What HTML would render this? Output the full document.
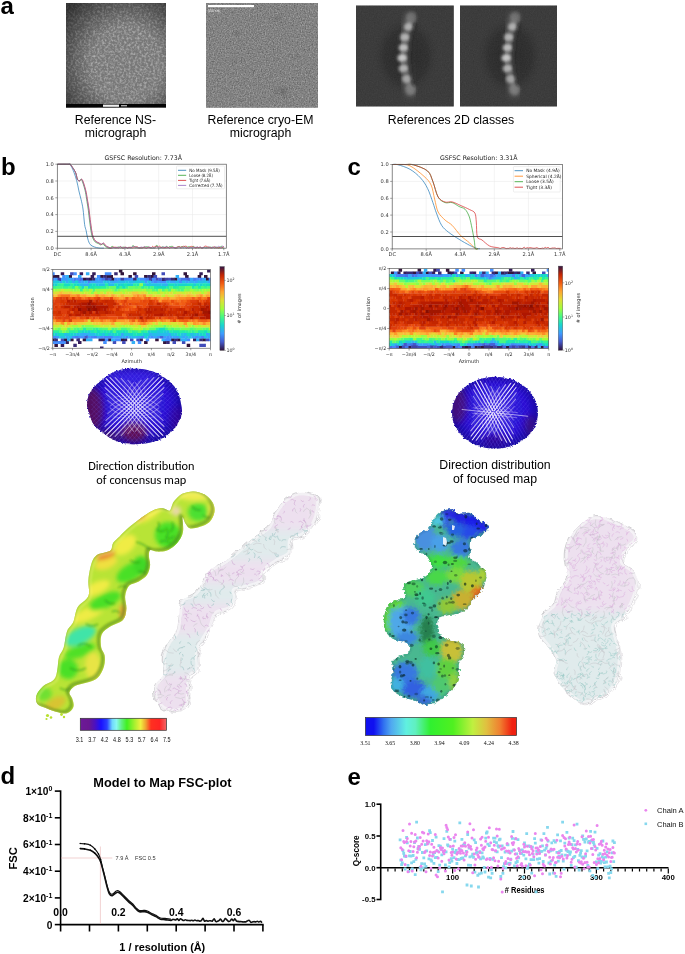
<!DOCTYPE html>
<html><head><meta charset="utf-8"><title>Figure</title>
<style>
html,body{margin:0;padding:0;background:#fff;}
body{width:685px;height:954px;overflow:hidden;position:relative;}
svg{position:absolute;left:0;top:0;display:block;filter:blur(0.3px);}
</style></head><body>
<svg width="685" height="954" viewBox="0 0 685 954">
<text x="0.5" y="14" font-size="24" text-anchor="start" font-weight="bold" fill="#000" font-family="'Liberation Sans', Arial, sans-serif" >a</text>
<text x="1" y="174.5" font-size="24" text-anchor="start" font-weight="bold" fill="#000" font-family="'Liberation Sans', Arial, sans-serif" >b</text>
<text x="347.5" y="175" font-size="24" text-anchor="start" font-weight="bold" fill="#000" font-family="'Liberation Sans', Arial, sans-serif" >c</text>
<text x="0.5" y="784" font-size="24" text-anchor="start" font-weight="bold" fill="#000" font-family="'Liberation Sans', Arial, sans-serif" >d</text>
<text x="347.5" y="784.5" font-size="24" text-anchor="start" font-weight="bold" fill="#000" font-family="'Liberation Sans', Arial, sans-serif" >e</text>
<defs>
<filter id="nsn" x="0" y="0" width="100%" height="100%">
 <feTurbulence type="fractalNoise" baseFrequency="0.45" numOctaves="2" seed="3" result="t"/>
 <feColorMatrix type="matrix" values="0 0 0 0 0  0 0 0 0 0  0 0 0 0 0  1.4 0 0 0 -0.55" result="a"/>
 <feFlood flood-color="#e8e8e8"/>
 <feComposite in2="a" operator="in"/>
</filter>
<filter id="cen" x="0" y="0" width="100%" height="100%" color-interpolation-filters="sRGB">
 <feTurbulence type="fractalNoise" baseFrequency="0.75" numOctaves="3" seed="5" result="t"/>
 <feColorMatrix type="matrix" values="0 0 0 0 0.5  0 0 0 0 0.5  0 0 0 0 0.5  0 0 0 0 1" in="t" result="g"/>
 <feColorMatrix type="matrix" values="0.33 0.33 0.33 0 0  0.33 0.33 0.33 0 0  0.33 0.33 0.33 0 0  0 0 0 0 1" in="t"/>
</filter>
<radialGradient id="nsv" cx="0.6" cy="0.58" r="0.78">
 <stop offset="0.45" stop-color="#000" stop-opacity="0"/>
 <stop offset="1" stop-color="#000" stop-opacity="0.6"/>
</radialGradient>
<radialGradient id="cdark" cx="0.5" cy="0.5" r="0.5">
 <stop offset="0" stop-color="#1a1a1a" stop-opacity="0.75"/>
 <stop offset="0.6" stop-color="#1e1e1e" stop-opacity="0.5"/>
 <stop offset="1" stop-color="#3a3a3a" stop-opacity="0"/>
</radialGradient>
<filter id="blb" x="-50%" y="-50%" width="200%" height="200%"><feGaussianBlur stdDeviation="1.55"/></filter>
<filter id="blb2" x="-50%" y="-50%" width="200%" height="200%"><feGaussianBlur stdDeviation="3"/></filter>
</defs>
<rect x="66" y="3" width="100" height="104.5" fill="#787878"/>
<rect x="66" y="3" width="100" height="104.5" filter="url(#nsn)" opacity="0.75"/>
<rect x="66" y="3" width="100" height="104.5" fill="url(#nsv)"/>
<rect x="66" y="104" width="100" height="3.5" fill="#050505"/>
<rect x="103" y="104.6" width="16" height="2.2" fill="#f0f0f0"/>
<rect x="121" y="105" width="6" height="1.4" fill="#aaa"/>
<rect x="206" y="3" width="112" height="104.5" fill="#8a8a8a"/>
<g opacity="0.6"><rect x="206" y="3" width="112" height="104.5" filter="url(#cen)"/></g>
<g filter="url(#blb)" fill="#404040" opacity="0.45"><ellipse cx="234.7" cy="62.1" rx="1.4" ry="1.4"/><ellipse cx="275.1" cy="18.0" rx="1.0" ry="1.6"/><ellipse cx="237.0" cy="33.6" rx="2.2" ry="1.3"/><ellipse cx="297.0" cy="55.8" rx="1.8" ry="1.0"/><ellipse cx="276.0" cy="91.9" rx="1.6" ry="1.5"/><ellipse cx="279.8" cy="17.9" rx="1.9" ry="1.4"/><path d="M279,87 l4,5 l5,-4 M283,92 l2,6" stroke="#303030" stroke-width="1.6" fill="none"/></g>
<rect x="208" y="5" width="46" height="2.2" fill="#fff"/>
<text x="208" y="11.5" font-size="3.5" fill="#eee" font-family="'Liberation Sans', sans-serif">150 nm</text>
<rect x="356" y="5.5" width="97.8" height="101" fill="#353535"/>
<ellipse cx="406" cy="56" rx="36" ry="44" fill="url(#cdark)"/>
<g opacity="0.1"><rect x="356" y="5.5" width="97" height="101" filter="url(#cen)"/></g>
<g filter="url(#blb2)"><path d="M411,14 Q398,55 412,96" stroke="#888" stroke-width="9" fill="none" opacity="0.5"/></g>
<g filter="url(#blb)"><ellipse cx="411.4" cy="17.5" rx="5.5" ry="6" fill="#d8d8d8" opacity="0.22"/><ellipse cx="408.6" cy="27" rx="4.6" ry="4.3" fill="#d8d8d8" opacity="0.68"/><ellipse cx="404.8" cy="37.4" rx="4.8" ry="4.3" fill="#d8d8d8" opacity="0.7"/><ellipse cx="403.4" cy="47.7" rx="4.8" ry="4.3" fill="#d8d8d8" opacity="0.78"/><ellipse cx="402.2" cy="58" rx="4.8" ry="4.4" fill="#d8d8d8" opacity="0.86"/><ellipse cx="403.4" cy="68.5" rx="4.8" ry="4.3" fill="#d8d8d8" opacity="0.7"/><ellipse cx="406.7" cy="78.9" rx="4.8" ry="4.3" fill="#d8d8d8" opacity="0.6"/><ellipse cx="410.5" cy="89.2" rx="5.5" ry="6" fill="#d8d8d8" opacity="0.28"/></g>
<g filter="url(#blb)"><path d="M415,24 Q406,55 414,86" stroke="#151515" stroke-width="2" fill="none" opacity="0.6"/><line x1="404.6" y1="32.5" x2="412.6" y2="30.5" stroke="#303030" stroke-width="1" opacity="0.5"/><line x1="400.8" y1="42.9" x2="408.8" y2="40.9" stroke="#303030" stroke-width="1" opacity="0.5"/><line x1="399.4" y1="53.2" x2="407.4" y2="51.2" stroke="#303030" stroke-width="1" opacity="0.5"/><line x1="398.2" y1="63.5" x2="406.2" y2="61.5" stroke="#303030" stroke-width="1" opacity="0.5"/><line x1="399.4" y1="74.0" x2="407.4" y2="72.0" stroke="#303030" stroke-width="1" opacity="0.5"/></g>
<rect x="460" y="5.5" width="97" height="101" fill="#353535"/>
<ellipse cx="510" cy="56" rx="36" ry="44" fill="url(#cdark)"/>
<g opacity="0.1"><rect x="460" y="5.5" width="97" height="101" filter="url(#cen)"/></g>
<g filter="url(#blb2)"><path d="M515,14 Q502,55 516,96" stroke="#888" stroke-width="9" fill="none" opacity="0.5"/></g>
<g filter="url(#blb)"><ellipse cx="515.4" cy="17.5" rx="5.5" ry="6" fill="#d8d8d8" opacity="0.22"/><ellipse cx="512.6" cy="27" rx="4.6" ry="4.3" fill="#d8d8d8" opacity="0.68"/><ellipse cx="508.8" cy="37.4" rx="4.8" ry="4.3" fill="#d8d8d8" opacity="0.7"/><ellipse cx="507.4" cy="47.7" rx="4.8" ry="4.3" fill="#d8d8d8" opacity="0.78"/><ellipse cx="506.2" cy="58" rx="4.8" ry="4.4" fill="#d8d8d8" opacity="0.86"/><ellipse cx="507.4" cy="68.5" rx="4.8" ry="4.3" fill="#d8d8d8" opacity="0.7"/><ellipse cx="510.7" cy="78.9" rx="4.8" ry="4.3" fill="#d8d8d8" opacity="0.6"/><ellipse cx="514.5" cy="89.2" rx="5.5" ry="6" fill="#d8d8d8" opacity="0.28"/></g>
<g filter="url(#blb)"><path d="M519,24 Q510,55 518,86" stroke="#151515" stroke-width="2" fill="none" opacity="0.6"/><line x1="508.6" y1="32.5" x2="516.6" y2="30.5" stroke="#303030" stroke-width="1" opacity="0.5"/><line x1="504.8" y1="42.9" x2="512.8" y2="40.9" stroke="#303030" stroke-width="1" opacity="0.5"/><line x1="503.4" y1="53.2" x2="511.4" y2="51.2" stroke="#303030" stroke-width="1" opacity="0.5"/><line x1="502.2" y1="63.5" x2="510.2" y2="61.5" stroke="#303030" stroke-width="1" opacity="0.5"/><line x1="503.4" y1="74.0" x2="511.4" y2="72.0" stroke="#303030" stroke-width="1" opacity="0.5"/></g>
<text x="115.5" y="124.3" font-size="12.3" text-anchor="middle" font-weight="normal" fill="#000" font-family="'Liberation Sans', Arial, sans-serif" >Reference NS-</text>
<text x="115.5" y="137.3" font-size="12.3" text-anchor="middle" font-weight="normal" fill="#000" font-family="'Liberation Sans', Arial, sans-serif" >micrograph</text>
<text x="260.5" y="124.3" font-size="12.3" text-anchor="middle" font-weight="normal" fill="#000" font-family="'Liberation Sans', Arial, sans-serif" >Reference cryo-EM</text>
<text x="260.5" y="137.3" font-size="12.3" text-anchor="middle" font-weight="normal" fill="#000" font-family="'Liberation Sans', Arial, sans-serif" >micrograph</text>
<text x="451" y="124.4" font-size="12.3" text-anchor="middle" font-weight="normal" fill="#000" font-family="'Liberation Sans', Arial, sans-serif" >References 2D classes</text>
<g font-family="'DejaVu Sans', sans-serif">
<line x1="57.3" y1="231.4" x2="226.3" y2="231.4" stroke="#e6e6e6" stroke-width="0.5"/>
<line x1="57.3" y1="214.6" x2="226.3" y2="214.6" stroke="#e6e6e6" stroke-width="0.5"/>
<line x1="57.3" y1="197.8" x2="226.3" y2="197.8" stroke="#e6e6e6" stroke-width="0.5"/>
<line x1="57.3" y1="181.0" x2="226.3" y2="181.0" stroke="#e6e6e6" stroke-width="0.5"/>
<line x1="91.1" y1="164.2" x2="91.1" y2="248.2" stroke="#e6e6e6" stroke-width="0.5"/>
<line x1="124.9" y1="164.2" x2="124.9" y2="248.2" stroke="#e6e6e6" stroke-width="0.5"/>
<line x1="158.7" y1="164.2" x2="158.7" y2="248.2" stroke="#e6e6e6" stroke-width="0.5"/>
<line x1="192.5" y1="164.2" x2="192.5" y2="248.2" stroke="#e6e6e6" stroke-width="0.5"/>
<text x="143.3" y="159.8" font-size="6.25" text-anchor="middle" fill="#222">GSFSC Resolution: 7.73Å</text>
<line x1="55.3" y1="248.2" x2="57.3" y2="248.2" stroke="#444" stroke-width="0.5"/>
<text x="53.8" y="249.9" font-size="5.1" text-anchor="end" fill="#333">0.0</text>
<line x1="55.3" y1="231.4" x2="57.3" y2="231.4" stroke="#444" stroke-width="0.5"/>
<text x="53.8" y="233.1" font-size="5.1" text-anchor="end" fill="#333">0.2</text>
<line x1="55.3" y1="214.6" x2="57.3" y2="214.6" stroke="#444" stroke-width="0.5"/>
<text x="53.8" y="216.3" font-size="5.1" text-anchor="end" fill="#333">0.4</text>
<line x1="55.3" y1="197.8" x2="57.3" y2="197.8" stroke="#444" stroke-width="0.5"/>
<text x="53.8" y="199.5" font-size="5.1" text-anchor="end" fill="#333">0.6</text>
<line x1="55.3" y1="181.0" x2="57.3" y2="181.0" stroke="#444" stroke-width="0.5"/>
<text x="53.8" y="182.7" font-size="5.1" text-anchor="end" fill="#333">0.8</text>
<line x1="55.3" y1="164.2" x2="57.3" y2="164.2" stroke="#444" stroke-width="0.5"/>
<text x="53.8" y="165.9" font-size="5.1" text-anchor="end" fill="#333">1.0</text>
<line x1="57.3" y1="248.2" x2="57.3" y2="250.2" stroke="#444" stroke-width="0.5"/>
<text x="57.3" y="255.5" font-size="5.1" text-anchor="middle" fill="#333">DC</text>
<line x1="91.1" y1="248.2" x2="91.1" y2="250.2" stroke="#444" stroke-width="0.5"/>
<text x="91.1" y="255.5" font-size="5.1" text-anchor="middle" fill="#333">8.6Å</text>
<line x1="124.9" y1="248.2" x2="124.9" y2="250.2" stroke="#444" stroke-width="0.5"/>
<text x="124.9" y="255.5" font-size="5.1" text-anchor="middle" fill="#333">4.3Å</text>
<line x1="158.7" y1="248.2" x2="158.7" y2="250.2" stroke="#444" stroke-width="0.5"/>
<text x="158.7" y="255.5" font-size="5.1" text-anchor="middle" fill="#333">2.9Å</text>
<line x1="192.5" y1="248.2" x2="192.5" y2="250.2" stroke="#444" stroke-width="0.5"/>
<text x="192.5" y="255.5" font-size="5.1" text-anchor="middle" fill="#333">2.1Å</text>
<line x1="223.8" y1="248.2" x2="223.8" y2="250.2" stroke="#444" stroke-width="0.5"/>
<text x="223.8" y="255.5" font-size="5.1" text-anchor="middle" fill="#333">1.7Å</text>
</g>
<path d="M57.5,164.2 C59.2,164.2 65.9,164.2 68.0,164.2 C70.1,164.2 69.1,163.1 70.1,164.4 C71.1,165.7 72.7,169.2 73.8,171.9 C74.9,174.6 75.8,177.5 76.7,180.7 C77.6,183.9 78.2,187.8 78.9,190.9 C79.6,194.1 80.4,196.6 81.1,199.6 C81.8,202.6 82.4,204.9 83.0,209.0 C83.6,213.1 84.1,220.8 84.6,224.4 C85.1,228.1 85.7,228.5 86.2,230.9 C86.7,233.3 87.1,236.6 87.8,238.9 C88.5,241.2 89.1,243.2 90.2,244.5 C91.3,245.8 92.7,246.3 94.2,246.9 C95.7,247.5 97.4,247.8 99.0,248.0 C100.6,248.2 103.2,248.1 104.0,248.1" fill="none" stroke="#1f77b4" stroke-width="0.7"/>
<path d="M57.5,164.2 C59.4,164.2 66.8,164.1 69.0,164.2 C71.2,164.3 69.5,163.3 70.5,164.6 C71.5,165.9 74.1,169.5 75.3,171.9 C76.5,174.3 76.7,177.7 77.4,179.2 C78.1,180.7 79.0,180.9 79.6,180.9 C80.2,180.9 80.6,179.0 81.1,179.2 C81.6,179.4 82.1,180.9 82.6,182.1 C83.1,183.3 83.5,184.8 84.0,186.5 C84.5,188.2 85.0,189.8 85.5,192.3 C86.0,194.8 86.5,198.6 87.0,201.7 C87.5,204.8 88.0,207.5 88.4,210.6 C88.8,213.7 89.0,216.7 89.5,220.2 C90.0,223.7 90.6,228.6 91.1,231.5 C91.6,234.4 92.0,236.2 92.7,237.9 C93.4,239.6 94.2,241.0 95.1,241.9 C96.0,242.8 97.4,243.0 98.3,243.5 C99.2,244.0 99.9,244.9 100.7,244.9 C101.5,244.9 102.3,243.5 103.1,243.8 C103.9,244.1 104.3,245.9 105.5,246.7 C106.7,247.5 109.2,248.5 110.3,248.4 C111.4,248.3 111.5,246.3 112.0,246.1 C112.5,246.0 112.9,247.2 113.4,247.5 C113.9,247.7 114.3,247.6 114.8,247.7 C115.3,247.8 115.7,247.9 116.2,247.9 C116.7,247.8 117.1,247.5 117.6,247.3 C118.1,247.2 118.5,246.8 119.0,246.9 C119.5,246.9 119.9,247.6 120.4,247.7 C120.9,247.8 121.3,247.5 121.8,247.4 C122.3,247.3 122.7,247.2 123.2,247.1 C123.7,247.1 124.1,247.2 124.6,247.3 C125.1,247.4 125.5,247.5 126.0,247.6 C126.5,247.7 126.9,247.8 127.4,247.8 C127.9,247.7 128.3,247.3 128.8,247.3 C129.3,247.3 129.7,247.6 130.2,247.7 C130.7,247.7 131.1,247.9 131.6,247.6 C132.1,247.2 132.5,245.5 133.0,245.4 C133.5,245.4 133.9,246.7 134.4,247.0 C134.9,247.4 135.3,247.6 135.8,247.7 C136.3,247.7 136.7,247.4 137.2,247.4 C137.7,247.4 138.1,247.7 138.6,247.8 C139.1,247.9 139.5,247.8 140.0,247.8 C140.5,247.8 140.9,248.0 141.4,248.0 C141.9,247.9 142.3,247.3 142.8,247.3 C143.3,247.3 143.7,247.9 144.2,247.8 C144.7,247.8 145.1,246.9 145.6,246.8 C146.1,246.6 146.5,246.8 147.0,246.8 C147.5,246.9 147.9,246.8 148.4,247.0 C148.9,247.2 149.3,247.7 149.8,247.8 C150.3,248.0 150.7,248.0 151.2,248.0 C151.7,248.0 152.1,247.9 152.6,247.8 C153.1,247.8 153.5,247.8 154.0,247.8 C154.5,247.8 154.9,248.1 155.4,247.6 C155.9,247.2 156.3,245.1 156.8,245.1 C157.3,245.1 157.7,247.4 158.2,247.8 C158.7,248.3 159.1,247.8 159.6,247.8 C160.1,247.7 160.5,247.7 161.0,247.5 C161.5,247.4 161.9,247.0 162.4,246.9 C162.9,246.8 163.3,247.0 163.8,247.1 C164.3,247.3 164.7,248.0 165.2,247.8 C165.7,247.7 166.1,246.3 166.6,246.3 C167.1,246.3 167.5,247.8 168.0,247.9 C168.5,247.9 168.9,246.8 169.4,246.6 C169.9,246.4 170.3,246.7 170.8,246.6 C171.3,246.6 171.7,246.1 172.2,246.2 C172.7,246.4 173.1,247.3 173.6,247.5 C174.1,247.8 174.5,247.8 175.0,247.9 C175.5,248.0 175.9,248.2 176.4,248.0 C176.9,247.8 177.3,246.9 177.8,246.7 C178.3,246.6 178.7,246.9 179.2,247.0 C179.7,247.2 180.1,247.9 180.6,247.8 C181.1,247.6 181.5,246.2 182.0,246.2 C182.5,246.2 182.9,247.8 183.4,247.9 C183.9,247.9 184.3,246.5 184.8,246.5 C185.3,246.5 185.7,247.9 186.2,248.0 C186.7,248.1 187.1,247.2 187.6,247.0 C188.1,246.8 188.5,246.6 189.0,246.7 C189.5,246.7 189.9,247.1 190.4,247.3 C190.9,247.4 191.3,247.6 191.8,247.5 C192.3,247.3 192.7,246.4 193.2,246.4 C193.7,246.3 194.1,247.0 194.6,247.3 C195.1,247.5 195.5,247.9 196.0,247.8 C196.5,247.8 196.9,247.1 197.4,247.1 C197.9,247.1 198.3,247.8 198.8,247.9 C199.3,247.9 199.7,247.3 200.2,247.3 C200.7,247.3 201.1,247.8 201.6,247.8 C202.1,247.9 202.5,247.6 203.0,247.5 C203.5,247.5 203.9,247.5 204.4,247.5 C204.9,247.5 205.3,247.7 205.8,247.7 C206.3,247.6 206.7,247.4 207.2,247.4 C207.7,247.4 208.1,247.7 208.6,247.6 C209.1,247.5 209.5,246.8 210.0,246.8 C210.5,246.8 210.9,247.6 211.4,247.7 C211.9,247.7 212.3,247.0 212.8,247.0 C213.3,247.1 213.7,247.9 214.2,248.0 C214.7,248.0 215.1,247.5 215.6,247.4 C216.1,247.2 216.5,247.1 217.0,247.1 C217.5,247.2 217.9,247.7 218.4,247.8 C218.9,247.9 219.3,247.8 219.8,247.5 C220.3,247.2 220.7,246.1 221.2,246.1 C221.7,246.2 222.1,247.6 222.6,247.9 C223.1,248.1 223.8,247.8 224.0,247.8" fill="none" stroke="#2ca02c" stroke-width="0.7"/>
<path d="M57.5,164.2 C59.4,164.2 66.8,164.1 69.0,164.2 C71.2,164.3 69.5,163.3 70.5,164.6 C71.5,165.9 74.1,169.5 75.3,171.9 C76.5,174.3 76.7,177.7 77.4,179.2 C78.1,180.7 78.9,180.9 79.6,180.9 C80.3,180.9 81.2,179.0 81.8,179.2 C82.4,179.4 82.8,180.9 83.3,182.1 C83.8,183.3 84.2,184.8 84.7,186.5 C85.2,188.2 85.7,189.9 86.2,192.3 C86.7,194.7 87.2,198.2 87.7,201.1 C88.2,204.0 88.7,206.9 89.1,210.0 C89.5,213.1 89.8,216.1 90.2,219.6 C90.7,223.1 91.3,227.9 91.8,230.9 C92.3,233.9 92.7,235.6 93.4,237.3 C94.1,239.0 94.9,240.4 95.8,241.3 C96.7,242.2 98.1,242.4 99.0,242.9 C99.9,243.4 100.6,244.2 101.4,244.3 C102.2,244.4 103.0,242.9 103.8,243.2 C104.6,243.5 105.1,245.3 106.2,246.1 C107.3,246.9 109.3,247.5 110.3,247.8 C111.3,248.1 111.5,248.1 112.0,247.9 C112.5,247.8 112.9,247.1 113.4,247.0 C113.9,246.9 114.3,247.2 114.8,247.3 C115.3,247.3 115.7,247.1 116.2,247.2 C116.7,247.3 117.1,247.7 117.6,247.8 C118.1,247.9 118.5,248.0 119.0,247.8 C119.5,247.6 119.9,246.5 120.4,246.5 C120.9,246.5 121.3,247.6 121.8,247.9 C122.3,248.1 122.7,248.0 123.2,248.0 C123.7,247.9 124.1,247.6 124.6,247.4 C125.1,247.3 125.5,247.0 126.0,247.1 C126.5,247.2 126.9,247.9 127.4,248.0 C127.9,248.0 128.3,247.7 128.8,247.5 C129.3,247.4 129.7,247.2 130.2,247.2 C130.7,247.3 131.1,247.6 131.6,247.7 C132.1,247.8 132.5,247.8 133.0,247.6 C133.5,247.5 133.9,247.1 134.4,246.9 C134.9,246.8 135.3,246.8 135.8,246.8 C136.3,246.8 136.7,246.5 137.2,246.7 C137.7,246.9 138.1,247.6 138.6,247.8 C139.1,248.0 139.5,247.9 140.0,247.9 C140.5,247.9 140.9,247.7 141.4,247.7 C141.9,247.8 142.3,248.1 142.8,247.9 C143.3,247.8 143.7,246.9 144.2,246.9 C144.7,246.9 145.1,247.8 145.6,247.9 C146.1,248.1 146.5,247.9 147.0,247.8 C147.5,247.7 147.9,247.5 148.4,247.4 C148.9,247.3 149.3,247.3 149.8,247.3 C150.3,247.4 150.7,247.8 151.2,247.7 C151.7,247.5 152.1,246.4 152.6,246.4 C153.1,246.4 153.5,247.6 154.0,247.6 C154.5,247.6 154.9,246.4 155.4,246.2 C155.9,246.1 156.3,246.7 156.8,246.9 C157.3,247.0 157.7,247.2 158.2,247.1 C158.7,247.0 159.1,246.2 159.6,246.2 C160.1,246.3 160.5,247.1 161.0,247.4 C161.5,247.6 161.9,247.7 162.4,247.7 C162.9,247.8 163.3,247.8 163.8,247.8 C164.3,247.7 164.7,247.7 165.2,247.6 C165.7,247.6 166.1,247.7 166.6,247.6 C167.1,247.5 167.5,247.1 168.0,247.2 C168.5,247.2 168.9,247.8 169.4,247.8 C169.9,247.9 170.3,247.6 170.8,247.5 C171.3,247.5 171.7,247.6 172.2,247.5 C172.7,247.5 173.1,247.1 173.6,247.2 C174.1,247.3 174.5,247.9 175.0,248.0 C175.5,248.0 175.9,247.5 176.4,247.4 C176.9,247.2 177.3,247.3 177.8,247.1 C178.3,247.0 178.7,246.5 179.2,246.5 C179.7,246.5 180.1,247.0 180.6,247.1 C181.1,247.2 181.5,247.4 182.0,247.2 C182.5,247.1 182.9,246.5 183.4,246.3 C183.9,246.2 184.3,246.5 184.8,246.5 C185.3,246.4 185.7,245.9 186.2,246.1 C186.7,246.3 187.1,247.5 187.6,247.8 C188.1,248.0 188.5,247.8 189.0,247.6 C189.5,247.4 189.9,246.9 190.4,246.7 C190.9,246.5 191.3,246.3 191.8,246.4 C192.3,246.5 192.7,247.0 193.2,247.1 C193.7,247.3 194.1,247.3 194.6,247.4 C195.1,247.5 195.5,247.9 196.0,247.9 C196.5,247.9 196.9,247.5 197.4,247.5 C197.9,247.4 198.3,247.5 198.8,247.5 C199.3,247.4 199.7,247.0 200.2,247.1 C200.7,247.2 201.1,247.8 201.6,247.9 C202.1,248.0 202.5,248.0 203.0,247.7 C203.5,247.5 203.9,246.8 204.4,246.5 C204.9,246.3 205.3,246.0 205.8,246.1 C206.3,246.1 206.7,246.6 207.2,246.8 C207.7,247.0 208.1,247.1 208.6,247.2 C209.1,247.4 209.5,247.5 210.0,247.6 C210.5,247.7 210.9,247.8 211.4,247.8 C211.9,247.8 212.3,247.8 212.8,247.6 C213.3,247.4 213.7,246.6 214.2,246.7 C214.7,246.7 215.1,247.6 215.6,247.8 C216.1,248.0 216.5,247.8 217.0,247.8 C217.5,247.8 217.9,247.8 218.4,247.8 C218.9,247.8 219.3,247.8 219.8,247.8 C220.3,247.8 220.7,247.9 221.2,247.9 C221.7,247.8 222.1,247.5 222.6,247.3 C223.1,247.0 223.8,246.5 224.0,246.4" fill="none" stroke="#d62728" stroke-width="0.7"/>
<path d="M57.5,164.2 C59.4,164.2 66.8,164.1 69.0,164.2 C71.2,164.3 69.5,163.3 70.5,164.6 C71.5,165.9 74.1,169.5 75.3,171.9 C76.5,174.3 76.7,177.7 77.4,179.2 C78.1,180.7 78.9,180.9 79.6,180.9 C80.3,180.9 80.9,179.0 81.5,179.2 C82.1,179.4 82.5,180.9 83.0,182.1 C83.5,183.3 83.9,184.8 84.4,186.5 C84.9,188.2 85.4,189.9 85.9,192.3 C86.4,194.7 86.9,198.2 87.4,201.1 C87.9,204.0 88.4,206.9 88.8,210.0 C89.2,213.1 89.5,216.1 89.9,219.6 C90.4,223.1 91.0,227.9 91.5,230.9 C92.0,233.9 92.4,235.6 93.1,237.3 C93.8,239.0 94.6,240.4 95.5,241.3 C96.4,242.2 97.8,242.4 98.7,242.9 C99.6,243.4 100.3,244.2 101.1,244.3 C101.9,244.4 102.7,242.9 103.5,243.2 C104.3,243.5 104.8,245.3 105.9,246.1 C107.0,246.9 109.3,247.5 110.3,247.8 C111.3,248.1 111.5,248.0 112.0,248.0 C112.5,247.9 112.9,247.7 113.4,247.6 C113.9,247.6 114.3,247.6 114.8,247.6 C115.3,247.6 115.7,247.8 116.2,247.7 C116.7,247.7 117.1,247.3 117.6,247.3 C118.1,247.3 118.5,247.8 119.0,247.7 C119.5,247.6 119.9,246.8 120.4,246.8 C120.9,246.7 121.3,247.1 121.8,247.3 C122.3,247.5 122.7,247.9 123.2,247.9 C123.7,248.0 124.1,247.5 124.6,247.4 C125.1,247.3 125.5,247.3 126.0,247.4 C126.5,247.4 126.9,247.8 127.4,247.9 C127.9,247.9 128.3,247.9 128.8,247.8 C129.3,247.8 129.7,247.7 130.2,247.7 C130.7,247.6 131.1,247.8 131.6,247.6 C132.1,247.4 132.5,246.3 133.0,246.2 C133.5,246.2 133.9,247.2 134.4,247.3 C134.9,247.4 135.3,246.6 135.8,246.7 C136.3,246.8 136.7,247.7 137.2,247.8 C137.7,248.0 138.1,247.5 138.6,247.5 C139.1,247.5 139.5,247.7 140.0,247.6 C140.5,247.5 140.9,246.9 141.4,247.0 C141.9,247.0 142.3,247.9 142.8,247.8 C143.3,247.7 143.7,246.5 144.2,246.4 C144.7,246.4 145.1,247.5 145.6,247.8 C146.1,248.0 146.5,247.9 147.0,247.8 C147.5,247.7 147.9,247.1 148.4,247.1 C148.9,247.0 149.3,247.2 149.8,247.3 C150.3,247.3 150.7,247.4 151.2,247.5 C151.7,247.6 152.1,248.0 152.6,248.0 C153.1,248.0 153.5,247.7 154.0,247.7 C154.5,247.7 154.9,248.1 155.4,247.9 C155.9,247.8 156.3,246.6 156.8,246.5 C157.3,246.4 157.7,247.2 158.2,247.4 C158.7,247.5 159.1,247.3 159.6,247.4 C160.1,247.4 160.5,247.8 161.0,247.8 C161.5,247.8 161.9,247.2 162.4,247.1 C162.9,247.1 163.3,247.5 163.8,247.4 C164.3,247.4 164.7,246.9 165.2,246.9 C165.7,246.8 166.1,246.9 166.6,247.0 C167.1,247.0 167.5,247.0 168.0,247.2 C168.5,247.3 168.9,247.9 169.4,248.0 C169.9,248.0 170.3,247.4 170.8,247.3 C171.3,247.2 171.7,247.5 172.2,247.5 C172.7,247.6 173.1,247.7 173.6,247.6 C174.1,247.6 174.5,247.4 175.0,247.4 C175.5,247.5 175.9,247.8 176.4,247.9 C176.9,248.0 177.3,247.9 177.8,247.8 C178.3,247.6 178.7,246.9 179.2,246.9 C179.7,246.9 180.1,247.5 180.6,247.7 C181.1,247.8 181.5,247.9 182.0,247.8 C182.5,247.7 182.9,247.1 183.4,247.0 C183.9,246.9 184.3,247.1 184.8,247.3 C185.3,247.4 185.7,247.8 186.2,247.9 C186.7,247.9 187.1,247.5 187.6,247.5 C188.1,247.5 188.5,248.0 189.0,248.0 C189.5,248.0 189.9,247.6 190.4,247.5 C190.9,247.5 191.3,247.7 191.8,247.7 C192.3,247.7 192.7,247.6 193.2,247.6 C193.7,247.5 194.1,247.6 194.6,247.5 C195.1,247.5 195.5,247.3 196.0,247.2 C196.5,247.1 196.9,246.9 197.4,247.0 C197.9,247.0 198.3,247.5 198.8,247.6 C199.3,247.6 199.7,247.1 200.2,247.1 C200.7,247.1 201.1,247.6 201.6,247.7 C202.1,247.8 202.5,247.8 203.0,247.8 C203.5,247.8 203.9,247.5 204.4,247.5 C204.9,247.5 205.3,247.7 205.8,247.8 C206.3,247.9 206.7,248.0 207.2,247.9 C207.7,247.7 208.1,246.9 208.6,246.9 C209.1,246.9 209.5,247.9 210.0,247.9 C210.5,248.0 210.9,247.3 211.4,247.3 C211.9,247.2 212.3,247.6 212.8,247.6 C213.3,247.6 213.7,247.3 214.2,247.2 C214.7,247.1 215.1,246.7 215.6,246.8 C216.1,246.9 216.5,247.7 217.0,247.7 C217.5,247.6 217.9,246.6 218.4,246.4 C218.9,246.3 219.3,246.6 219.8,246.8 C220.3,247.0 220.7,247.9 221.2,247.8 C221.7,247.7 222.1,246.1 222.6,246.0 C223.1,245.9 223.8,247.1 224.0,247.3" fill="none" stroke="#9467bd" stroke-width="0.7"/>
<line x1="57.3" y1="236.3" x2="226.3" y2="236.3" stroke="#222" stroke-width="0.8"/>
<rect x="57.3" y="164.2" width="169.0" height="84.0" fill="none" stroke="#555" stroke-width="0.7"/>
<rect x="176.5" y="166" width="48.0" height="22.80000000000001" fill="#fff" fill-opacity="0.85" stroke="#ddd" stroke-width="0.5" rx="0.8"/>
<line x1="178" y1="170.3" x2="186.2" y2="170.3" stroke="#1f77b4" stroke-width="0.8"/>
<text x="189.3" y="171.9" font-size="4.4" fill="#222" font-family="'DejaVu Sans', sans-serif" textLength="30.6" lengthAdjust="spacingAndGlyphs">No Mask (9.5Å)</text>
<line x1="178" y1="175.3" x2="186.2" y2="175.3" stroke="#2ca02c" stroke-width="0.8"/>
<text x="189.3" y="176.9" font-size="4.4" fill="#222" font-family="'DejaVu Sans', sans-serif" textLength="23.6" lengthAdjust="spacingAndGlyphs">Loose (8.2Å)</text>
<line x1="178" y1="180.4" x2="186.2" y2="180.4" stroke="#d62728" stroke-width="0.8"/>
<text x="189.3" y="182.0" font-size="4.4" fill="#222" font-family="'DejaVu Sans', sans-serif" textLength="21" lengthAdjust="spacingAndGlyphs">Tight (7.6Å)</text>
<line x1="178" y1="185.4" x2="186.2" y2="185.4" stroke="#9467bd" stroke-width="0.8"/>
<text x="189.3" y="187.0" font-size="4.4" fill="#222" font-family="'DejaVu Sans', sans-serif" textLength="33.2" lengthAdjust="spacingAndGlyphs">Corrected (7.7Å)</text>
<g font-family="'DejaVu Sans', sans-serif">
<line x1="392.2" y1="232.0" x2="562.4" y2="232.0" stroke="#e6e6e6" stroke-width="0.5"/>
<line x1="392.2" y1="215.1" x2="562.4" y2="215.1" stroke="#e6e6e6" stroke-width="0.5"/>
<line x1="392.2" y1="198.3" x2="562.4" y2="198.3" stroke="#e6e6e6" stroke-width="0.5"/>
<line x1="392.2" y1="181.4" x2="562.4" y2="181.4" stroke="#e6e6e6" stroke-width="0.5"/>
<line x1="426.2" y1="164.5" x2="426.2" y2="248.9" stroke="#e6e6e6" stroke-width="0.5"/>
<line x1="460.3" y1="164.5" x2="460.3" y2="248.9" stroke="#e6e6e6" stroke-width="0.5"/>
<line x1="494.3" y1="164.5" x2="494.3" y2="248.9" stroke="#e6e6e6" stroke-width="0.5"/>
<line x1="528.4" y1="164.5" x2="528.4" y2="248.9" stroke="#e6e6e6" stroke-width="0.5"/>
<text x="478.8" y="160.1" font-size="6.25" text-anchor="middle" fill="#222">GSFSC Resolution: 3.31Å</text>
<line x1="390.2" y1="248.9" x2="392.2" y2="248.9" stroke="#444" stroke-width="0.5"/>
<text x="388.7" y="250.6" font-size="5.1" text-anchor="end" fill="#333">0.0</text>
<line x1="390.2" y1="232.0" x2="392.2" y2="232.0" stroke="#444" stroke-width="0.5"/>
<text x="388.7" y="233.7" font-size="5.1" text-anchor="end" fill="#333">0.2</text>
<line x1="390.2" y1="215.1" x2="392.2" y2="215.1" stroke="#444" stroke-width="0.5"/>
<text x="388.7" y="216.8" font-size="5.1" text-anchor="end" fill="#333">0.4</text>
<line x1="390.2" y1="198.3" x2="392.2" y2="198.3" stroke="#444" stroke-width="0.5"/>
<text x="388.7" y="200.0" font-size="5.1" text-anchor="end" fill="#333">0.6</text>
<line x1="390.2" y1="181.4" x2="392.2" y2="181.4" stroke="#444" stroke-width="0.5"/>
<text x="388.7" y="183.1" font-size="5.1" text-anchor="end" fill="#333">0.8</text>
<line x1="390.2" y1="164.5" x2="392.2" y2="164.5" stroke="#444" stroke-width="0.5"/>
<text x="388.7" y="166.2" font-size="5.1" text-anchor="end" fill="#333">1.0</text>
<line x1="392.2" y1="248.9" x2="392.2" y2="250.9" stroke="#444" stroke-width="0.5"/>
<text x="392.2" y="256.2" font-size="5.1" text-anchor="middle" fill="#333">DC</text>
<line x1="426.2" y1="248.9" x2="426.2" y2="250.9" stroke="#444" stroke-width="0.5"/>
<text x="426.2" y="256.2" font-size="5.1" text-anchor="middle" fill="#333">8.6Å</text>
<line x1="460.3" y1="248.9" x2="460.3" y2="250.9" stroke="#444" stroke-width="0.5"/>
<text x="460.3" y="256.2" font-size="5.1" text-anchor="middle" fill="#333">4.3Å</text>
<line x1="494.3" y1="248.9" x2="494.3" y2="250.9" stroke="#444" stroke-width="0.5"/>
<text x="494.3" y="256.2" font-size="5.1" text-anchor="middle" fill="#333">2.9Å</text>
<line x1="528.4" y1="248.9" x2="528.4" y2="250.9" stroke="#444" stroke-width="0.5"/>
<text x="528.4" y="256.2" font-size="5.1" text-anchor="middle" fill="#333">2.1Å</text>
<line x1="559.8" y1="248.9" x2="559.8" y2="250.9" stroke="#444" stroke-width="0.5"/>
<text x="559.8" y="256.2" font-size="5.1" text-anchor="middle" fill="#333">1.7Å</text>
</g>
<path d="M392.5,164.5 C393.4,164.5 394.9,163.9 397.8,164.7 C400.7,165.5 406.2,167.1 410.0,169.3 C413.8,171.5 417.7,174.8 420.6,178.0 C423.5,181.2 425.6,184.4 427.6,188.5 C429.7,192.6 431.4,198.5 432.9,202.6 C434.4,206.7 434.9,209.2 436.4,213.0 C437.8,216.8 439.6,222.1 441.6,225.3 C443.6,228.5 445.7,230.0 448.6,232.3 C451.5,234.6 455.6,237.1 459.1,239.3 C462.6,241.5 466.7,243.8 469.6,245.3 C472.5,246.8 474.9,247.7 476.6,248.3 C478.3,248.9 479.4,248.6 480.0,248.7" fill="none" stroke="#1f77b4" stroke-width="0.7"/>
<path d="M392.5,164.5 C393.8,164.5 397.1,164.4 400.0,164.6 C402.9,164.8 406.0,163.9 410.0,165.8 C414.0,167.8 420.5,173.1 424.0,176.3 C427.5,179.5 429.3,181.2 431.1,185.0 C432.9,188.8 433.4,194.5 434.6,199.0 C435.8,203.5 436.4,208.5 438.1,212.0 C439.9,215.5 442.8,217.9 445.1,220.1 C447.4,222.3 449.5,222.7 452.1,225.3 C454.7,227.9 458.0,232.9 460.9,235.8 C463.8,238.7 467.3,240.8 469.6,242.9 C471.9,245.0 473.5,247.3 474.9,248.3 C476.3,249.3 477.5,248.6 478.0,248.7" fill="none" stroke="#ff7f0e" stroke-width="0.7"/>
<path d="M392.5,164.5 C394.6,164.5 401.5,164.4 405.0,164.5 C408.5,164.6 409.8,163.8 413.6,164.9 C417.4,166.0 424.4,168.2 427.6,171.0 C430.8,173.8 431.1,177.2 432.9,181.5 C434.6,185.8 436.1,193.5 438.1,197.0 C440.1,200.5 442.8,201.7 445.1,202.6 C447.4,203.5 449.8,201.9 452.1,202.6 C454.4,203.2 457.0,205.4 459.1,206.5 C461.2,207.6 463.4,207.6 465.0,209.2 C466.6,210.8 467.9,213.3 469.0,216.0 C470.1,218.7 470.5,221.3 471.4,225.3 C472.3,229.3 473.5,236.1 474.2,240.0 C474.9,243.9 474.7,247.2 475.3,248.7 C475.9,250.1 477.6,248.7 478.0,248.7" fill="none" stroke="#2ca02c" stroke-width="0.7"/>
<path d="M392.5,164.5 C394.6,164.5 401.5,164.4 405.0,164.5 C408.5,164.6 409.8,163.8 413.6,164.9 C417.4,166.0 424.4,168.2 427.6,171.0 C430.8,173.8 431.1,177.2 432.9,181.5 C434.6,185.8 436.1,193.6 438.1,197.0 C440.1,200.4 442.8,201.2 445.1,202.0 C447.4,202.8 449.5,201.3 452.1,201.9 C454.7,202.5 458.0,204.3 460.9,205.6 C463.8,206.9 467.3,208.3 469.6,209.6 C471.9,210.8 473.8,211.0 474.9,213.1 C476.0,215.2 475.9,218.1 476.3,222.0 C476.7,225.9 476.4,233.8 477.3,236.8 C478.2,239.8 479.8,238.4 481.9,239.9 C483.9,241.4 487.0,244.7 489.6,246.0 C492.2,247.3 496.1,247.3 497.7,247.6 C499.3,247.9 498.6,247.8 499.0,247.9 C499.4,248.1 499.9,248.5 500.4,248.4 C500.9,248.4 501.3,247.8 501.8,247.7 C502.3,247.5 502.7,247.5 503.2,247.5 C503.7,247.5 504.1,247.6 504.6,247.8 C505.1,247.9 505.5,248.5 506.0,248.6 C506.5,248.7 506.9,248.4 507.4,248.4 C507.9,248.3 508.3,248.5 508.8,248.4 C509.3,248.3 509.7,247.7 510.2,247.7 C510.7,247.7 511.1,248.2 511.6,248.3 C512.1,248.3 512.5,247.9 513.0,247.9 C513.5,248.0 513.9,248.4 514.4,248.4 C514.9,248.5 515.3,248.5 515.8,248.4 C516.3,248.3 516.7,247.8 517.2,247.9 C517.7,247.9 518.1,248.5 518.6,248.5 C519.1,248.6 519.5,248.2 520.0,248.2 C520.5,248.2 520.9,248.6 521.4,248.6 C521.9,248.6 522.3,248.5 522.8,248.3 C523.3,248.0 523.7,247.0 524.2,247.0 C524.7,247.1 525.1,248.4 525.6,248.5 C526.1,248.6 526.5,247.7 527.0,247.6 C527.5,247.5 527.9,247.9 528.4,248.0 C528.9,248.0 529.3,247.8 529.8,247.7 C530.3,247.7 530.7,247.8 531.2,247.8 C531.7,247.9 532.1,248.1 532.6,248.1 C533.1,248.2 533.5,248.3 534.0,248.3 C534.5,248.2 534.9,248.2 535.4,248.1 C535.9,248.0 536.3,247.6 536.8,247.6 C537.3,247.6 537.7,248.2 538.2,248.3 C538.7,248.5 539.1,248.4 539.6,248.5 C540.1,248.5 540.5,248.6 541.0,248.5 C541.5,248.5 541.9,248.2 542.4,248.1 C542.9,248.1 543.3,248.5 543.8,248.4 C544.3,248.2 544.7,247.4 545.2,247.3 C545.7,247.3 546.1,248.2 546.6,248.1 C547.1,248.1 547.5,247.2 548.0,247.2 C548.5,247.3 548.9,248.2 549.4,248.4 C549.9,248.6 550.3,248.5 550.8,248.4 C551.3,248.4 551.7,248.1 552.2,248.0 C552.7,247.9 553.1,248.1 553.6,248.0 C554.1,248.0 554.5,247.8 555.0,247.9 C555.5,247.9 555.9,248.4 556.4,248.5 C556.9,248.6 557.3,248.3 557.8,248.3 C558.3,248.3 558.7,248.4 559.2,248.4 C559.7,248.4 560.4,248.3 560.6,248.3" fill="none" stroke="#d62728" stroke-width="0.7"/>
<line x1="392.2" y1="236.5" x2="562.4" y2="236.5" stroke="#222" stroke-width="0.8"/>
<rect x="392.2" y="164.5" width="170.2" height="84.4" fill="none" stroke="#555" stroke-width="0.7"/>
<rect x="513.4" y="166.6" width="46.80000000000007" height="25.400000000000006" fill="#fff" fill-opacity="0.85" stroke="#ddd" stroke-width="0.5" rx="0.8"/>
<line x1="514.6" y1="170.7" x2="523" y2="170.7" stroke="#1f77b4" stroke-width="0.8"/>
<text x="526.2" y="172.3" font-size="4.4" fill="#222" font-family="'DejaVu Sans', sans-serif">No Mask (4.9Å)</text>
<line x1="514.6" y1="176.2" x2="523" y2="176.2" stroke="#ff7f0e" stroke-width="0.8"/>
<text x="526.2" y="177.8" font-size="4.4" fill="#222" font-family="'DejaVu Sans', sans-serif">Spherical (4.2Å)</text>
<line x1="514.6" y1="181.7" x2="523" y2="181.7" stroke="#2ca02c" stroke-width="0.8"/>
<text x="526.2" y="183.3" font-size="4.4" fill="#222" font-family="'DejaVu Sans', sans-serif">Loose (3.5Å)</text>
<line x1="514.6" y1="187.2" x2="523" y2="187.2" stroke="#d62728" stroke-width="0.8"/>
<text x="526.2" y="188.8" font-size="4.4" fill="#222" font-family="'DejaVu Sans', sans-serif">Tight (3.3Å)</text>
<defs><clipPath id="hc52"><rect x="52.8" y="269.5" width="157.7" height="78.69999999999999"/></clipPath><filter id="hb52" x="-5%" y="-5%" width="110%" height="110%"><feGaussianBlur stdDeviation="0.6"/></filter></defs>
<g clip-path="url(#hc52)"><g filter="url(#hb52)"><path d="M118.9 269.5h3.5v3.1h-3.5zM120.5 272.2h3.5v3.1h-3.5zM133.1 272.2h3.5v3.1h-3.5zM152.0 272.2h3.5v3.1h-3.5zM183.5 272.2h3.5v3.1h-3.5zM52.8 275.0h3.5v3.1h-3.5zM55.9 275.0h3.5v3.1h-3.5zM68.5 275.0h3.5v3.1h-3.5zM100.0 275.0h3.5v3.1h-3.5zM106.3 275.0h3.5v3.1h-3.5zM109.5 275.0h3.5v3.1h-3.5zM128.4 275.0h3.5v3.1h-3.5zM144.1 275.0h3.5v3.1h-3.5zM150.4 275.0h3.5v3.1h-3.5zM185.1 275.0h3.5v3.1h-3.5zM197.7 275.0h3.5v3.1h-3.5zM204.0 275.0h3.5v3.1h-3.5zM82.7 277.8h3.5v3.1h-3.5zM89.0 277.8h3.5v3.1h-3.5zM111.1 277.8h3.5v3.1h-3.5zM174.1 277.8h3.5v3.1h-3.5zM205.6 277.8h3.5v3.1h-3.5zM51.2 338.2h3.5v3.1h-3.5zM63.8 338.2h3.5v3.1h-3.5zM70.1 338.2h3.5v3.1h-3.5zM82.7 338.2h3.5v3.1h-3.5zM107.9 338.2h3.5v3.1h-3.5zM120.5 338.2h3.5v3.1h-3.5zM155.2 338.2h3.5v3.1h-3.5zM170.9 338.2h3.5v3.1h-3.5zM177.2 338.2h3.5v3.1h-3.5zM202.4 338.2h3.5v3.1h-3.5zM144.1 341.0h3.5v3.1h-3.5zM163.1 341.0h3.5v3.1h-3.5zM54.4 343.8h3.5v3.1h-3.5zM186.7 343.8h3.5v3.1h-3.5z" fill="#30123b"/><path d="M207.1 269.5h3.5v3.1h-3.5zM60.7 272.2h3.5v3.1h-3.5zM79.6 272.2h3.5v3.1h-3.5zM92.2 272.2h3.5v3.1h-3.5zM199.3 272.2h3.5v3.1h-3.5zM90.6 275.0h3.5v3.1h-3.5zM98.5 338.2h3.5v3.1h-3.5zM101.6 338.2h3.5v3.1h-3.5zM123.7 338.2h3.5v3.1h-3.5zM139.4 338.2h3.5v3.1h-3.5zM193.0 338.2h3.5v3.1h-3.5zM65.4 341.0h3.5v3.1h-3.5zM78.0 341.0h3.5v3.1h-3.5zM60.7 343.8h3.5v3.1h-3.5z" fill="#351e58"/><path d="M51.2 272.2h3.5v3.1h-3.5zM73.3 272.2h3.5v3.1h-3.5zM104.8 272.2h3.5v3.1h-3.5zM107.9 272.2h3.5v3.1h-3.5zM62.2 275.0h3.5v3.1h-3.5zM96.9 275.0h3.5v3.1h-3.5zM98.5 277.8h3.5v3.1h-3.5zM117.4 277.8h3.5v3.1h-3.5zM130.0 277.8h3.5v3.1h-3.5zM139.4 277.8h3.5v3.1h-3.5zM142.6 277.8h3.5v3.1h-3.5zM196.1 277.8h3.5v3.1h-3.5zM159.9 280.5h3.5v3.1h-3.5zM163.1 280.5h3.5v3.1h-3.5zM178.8 280.5h3.5v3.1h-3.5zM52.8 335.5h3.5v3.1h-3.5zM71.7 335.5h3.5v3.1h-3.5zM78.0 335.5h3.5v3.1h-3.5zM81.1 335.5h3.5v3.1h-3.5zM87.4 335.5h3.5v3.1h-3.5zM100.0 335.5h3.5v3.1h-3.5zM125.2 335.5h3.5v3.1h-3.5zM141.0 335.5h3.5v3.1h-3.5zM150.4 335.5h3.5v3.1h-3.5zM156.8 335.5h3.5v3.1h-3.5zM166.2 335.5h3.5v3.1h-3.5zM194.6 335.5h3.5v3.1h-3.5zM104.8 338.2h3.5v3.1h-3.5zM114.2 338.2h3.5v3.1h-3.5zM117.4 338.2h3.5v3.1h-3.5zM145.7 338.2h3.5v3.1h-3.5zM164.6 338.2h3.5v3.1h-3.5zM167.8 338.2h3.5v3.1h-3.5zM186.7 338.2h3.5v3.1h-3.5zM208.7 338.2h3.5v3.1h-3.5zM52.8 341.0h3.5v3.1h-3.5zM55.9 341.0h3.5v3.1h-3.5zM59.1 341.0h3.5v3.1h-3.5zM62.2 341.0h3.5v3.1h-3.5zM103.2 341.0h3.5v3.1h-3.5zM137.8 341.0h3.5v3.1h-3.5z" fill="#448ffe"/><path d="M70.1 272.2h3.5v3.1h-3.5zM161.5 272.2h3.5v3.1h-3.5zM134.7 275.0h3.5v3.1h-3.5zM153.6 275.0h3.5v3.1h-3.5zM155.2 277.8h3.5v3.1h-3.5zM167.8 277.8h3.5v3.1h-3.5zM60.7 338.2h3.5v3.1h-3.5zM130.0 338.2h3.5v3.1h-3.5zM136.3 338.2h3.5v3.1h-3.5zM205.6 338.2h3.5v3.1h-3.5zM112.7 341.0h3.5v3.1h-3.5zM122.1 341.0h3.5v3.1h-3.5zM172.5 341.0h3.5v3.1h-3.5zM181.9 341.0h3.5v3.1h-3.5zM199.3 343.8h3.5v3.1h-3.5zM202.4 343.8h3.5v3.1h-3.5z" fill="#434eba"/><path d="M85.9 272.2h3.5v3.1h-3.5zM65.4 275.0h3.5v3.1h-3.5zM78.0 275.0h3.5v3.1h-3.5zM175.6 275.0h3.5v3.1h-3.5zM67.0 277.8h3.5v3.1h-3.5zM136.3 277.8h3.5v3.1h-3.5zM59.1 280.5h3.5v3.1h-3.5zM65.4 280.5h3.5v3.1h-3.5zM71.7 280.5h3.5v3.1h-3.5zM96.9 280.5h3.5v3.1h-3.5zM109.5 280.5h3.5v3.1h-3.5zM115.8 280.5h3.5v3.1h-3.5zM188.2 280.5h3.5v3.1h-3.5zM191.4 280.5h3.5v3.1h-3.5zM82.7 283.2h3.5v3.1h-3.5zM85.9 283.2h3.5v3.1h-3.5zM164.6 283.2h3.5v3.1h-3.5zM79.6 332.8h3.5v3.1h-3.5zM85.9 332.8h3.5v3.1h-3.5zM148.9 332.8h3.5v3.1h-3.5zM167.8 332.8h3.5v3.1h-3.5zM65.4 335.5h3.5v3.1h-3.5zM122.1 335.5h3.5v3.1h-3.5zM128.4 335.5h3.5v3.1h-3.5zM134.7 335.5h3.5v3.1h-3.5zM185.1 335.5h3.5v3.1h-3.5zM67.0 338.2h3.5v3.1h-3.5zM85.9 338.2h3.5v3.1h-3.5zM89.0 338.2h3.5v3.1h-3.5zM111.1 338.2h3.5v3.1h-3.5zM161.5 338.2h3.5v3.1h-3.5zM180.4 338.2h3.5v3.1h-3.5zM183.5 338.2h3.5v3.1h-3.5zM196.1 338.2h3.5v3.1h-3.5zM131.6 341.0h3.5v3.1h-3.5z" fill="#31aff5"/><path d="M114.2 272.2h3.5v3.1h-3.5zM103.2 275.0h3.5v3.1h-3.5zM147.3 275.0h3.5v3.1h-3.5zM85.9 277.8h3.5v3.1h-3.5zM92.2 277.8h3.5v3.1h-3.5zM133.1 277.8h3.5v3.1h-3.5zM161.5 277.8h3.5v3.1h-3.5zM170.9 277.8h3.5v3.1h-3.5zM54.4 338.2h3.5v3.1h-3.5zM76.4 338.2h3.5v3.1h-3.5zM174.1 338.2h3.5v3.1h-3.5zM199.3 338.2h3.5v3.1h-3.5zM166.2 341.0h3.5v3.1h-3.5zM73.3 343.8h3.5v3.1h-3.5zM100.0 346.5h3.5v3.1h-3.5z" fill="#392a73"/><path d="M51.2 277.8h3.5v3.1h-3.5zM73.3 277.8h3.5v3.1h-3.5zM123.7 277.8h3.5v3.1h-3.5zM145.7 277.8h3.5v3.1h-3.5zM193.0 277.8h3.5v3.1h-3.5zM74.8 335.5h3.5v3.1h-3.5zM93.8 335.5h3.5v3.1h-3.5z" fill="#477bf2"/><path d="M54.4 277.8h3.5v3.1h-3.5zM60.7 277.8h3.5v3.1h-3.5zM63.8 277.8h3.5v3.1h-3.5zM70.1 277.8h3.5v3.1h-3.5zM95.3 277.8h3.5v3.1h-3.5zM177.2 277.8h3.5v3.1h-3.5zM78.0 280.5h3.5v3.1h-3.5zM144.1 280.5h3.5v3.1h-3.5zM150.4 280.5h3.5v3.1h-3.5zM156.8 280.5h3.5v3.1h-3.5zM55.9 335.5h3.5v3.1h-3.5zM96.9 335.5h3.5v3.1h-3.5zM115.8 335.5h3.5v3.1h-3.5zM163.1 335.5h3.5v3.1h-3.5zM169.3 335.5h3.5v3.1h-3.5zM175.6 335.5h3.5v3.1h-3.5z" fill="#3e9bfe"/><path d="M57.5 277.8h3.5v3.1h-3.5zM104.8 277.8h3.5v3.1h-3.5zM120.5 277.8h3.5v3.1h-3.5zM148.9 277.8h3.5v3.1h-3.5zM164.6 277.8h3.5v3.1h-3.5z" fill="#4143a7"/><path d="M76.4 277.8h3.5v3.1h-3.5zM114.2 277.8h3.5v3.1h-3.5zM126.8 277.8h3.5v3.1h-3.5zM152.0 277.8h3.5v3.1h-3.5zM199.3 277.8h3.5v3.1h-3.5zM208.7 277.8h3.5v3.1h-3.5zM87.4 280.5h3.5v3.1h-3.5zM153.6 280.5h3.5v3.1h-3.5zM90.6 335.5h3.5v3.1h-3.5zM103.2 335.5h3.5v3.1h-3.5zM106.3 335.5h3.5v3.1h-3.5zM109.5 335.5h3.5v3.1h-3.5zM200.8 335.5h3.5v3.1h-3.5z" fill="#4685fa"/><path d="M79.6 277.8h3.5v3.1h-3.5zM101.6 277.8h3.5v3.1h-3.5zM180.4 277.8h3.5v3.1h-3.5zM183.5 277.8h3.5v3.1h-3.5z" fill="#4771e9"/><path d="M107.9 277.8h3.5v3.1h-3.5zM84.3 335.5h3.5v3.1h-3.5z" fill="#4559cb"/><path d="M158.3 277.8h3.5v3.1h-3.5zM186.7 277.8h3.5v3.1h-3.5zM159.9 335.5h3.5v3.1h-3.5z" fill="#4664da"/><path d="M189.8 277.8h3.5v3.1h-3.5zM202.4 277.8h3.5v3.1h-3.5zM81.1 280.5h3.5v3.1h-3.5zM90.6 280.5h3.5v3.1h-3.5zM93.8 280.5h3.5v3.1h-3.5zM100.0 280.5h3.5v3.1h-3.5zM112.7 280.5h3.5v3.1h-3.5zM169.3 280.5h3.5v3.1h-3.5zM172.5 280.5h3.5v3.1h-3.5zM185.1 280.5h3.5v3.1h-3.5zM194.6 280.5h3.5v3.1h-3.5zM207.1 280.5h3.5v3.1h-3.5zM82.7 332.8h3.5v3.1h-3.5zM120.5 332.8h3.5v3.1h-3.5zM205.6 332.8h3.5v3.1h-3.5zM112.7 335.5h3.5v3.1h-3.5zM118.9 335.5h3.5v3.1h-3.5zM137.8 335.5h3.5v3.1h-3.5zM147.3 335.5h3.5v3.1h-3.5zM153.6 335.5h3.5v3.1h-3.5zM172.5 335.5h3.5v3.1h-3.5zM181.9 335.5h3.5v3.1h-3.5zM191.4 335.5h3.5v3.1h-3.5zM197.7 335.5h3.5v3.1h-3.5zM207.1 335.5h3.5v3.1h-3.5z" fill="#38a5fb"/><path d="M52.8 280.5h3.5v3.1h-3.5zM103.2 280.5h3.5v3.1h-3.5zM125.2 280.5h3.5v3.1h-3.5zM137.8 280.5h3.5v3.1h-3.5zM147.3 280.5h3.5v3.1h-3.5zM204.0 280.5h3.5v3.1h-3.5zM95.3 283.2h3.5v3.1h-3.5zM148.9 283.2h3.5v3.1h-3.5zM152.0 283.2h3.5v3.1h-3.5zM155.2 283.2h3.5v3.1h-3.5zM158.3 283.2h3.5v3.1h-3.5zM156.8 330.0h3.5v3.1h-3.5zM166.2 330.0h3.5v3.1h-3.5zM54.4 332.8h3.5v3.1h-3.5zM101.6 332.8h3.5v3.1h-3.5zM107.9 332.8h3.5v3.1h-3.5zM126.8 332.8h3.5v3.1h-3.5zM174.1 332.8h3.5v3.1h-3.5zM180.4 332.8h3.5v3.1h-3.5zM59.1 335.5h3.5v3.1h-3.5zM62.2 335.5h3.5v3.1h-3.5zM188.2 335.5h3.5v3.1h-3.5z" fill="#22c5e2"/><path d="M55.9 280.5h3.5v3.1h-3.5zM62.2 280.5h3.5v3.1h-3.5zM68.5 280.5h3.5v3.1h-3.5zM74.8 280.5h3.5v3.1h-3.5zM134.7 280.5h3.5v3.1h-3.5zM141.0 280.5h3.5v3.1h-3.5zM51.2 283.2h3.5v3.1h-3.5zM117.4 283.2h3.5v3.1h-3.5zM130.0 283.2h3.5v3.1h-3.5zM174.1 283.2h3.5v3.1h-3.5zM193.0 283.2h3.5v3.1h-3.5zM87.4 330.0h3.5v3.1h-3.5zM147.3 330.0h3.5v3.1h-3.5zM163.1 330.0h3.5v3.1h-3.5zM67.0 332.8h3.5v3.1h-3.5zM73.3 332.8h3.5v3.1h-3.5zM95.3 332.8h3.5v3.1h-3.5zM111.1 332.8h3.5v3.1h-3.5zM123.7 332.8h3.5v3.1h-3.5zM142.6 332.8h3.5v3.1h-3.5zM170.9 332.8h3.5v3.1h-3.5zM193.0 332.8h3.5v3.1h-3.5zM144.1 335.5h3.5v3.1h-3.5z" fill="#1ccdd8"/><path d="M84.3 280.5h3.5v3.1h-3.5zM106.3 280.5h3.5v3.1h-3.5zM118.9 280.5h3.5v3.1h-3.5zM122.1 280.5h3.5v3.1h-3.5zM128.4 280.5h3.5v3.1h-3.5zM131.6 280.5h3.5v3.1h-3.5zM166.2 280.5h3.5v3.1h-3.5zM175.6 280.5h3.5v3.1h-3.5zM181.9 280.5h3.5v3.1h-3.5zM197.7 280.5h3.5v3.1h-3.5zM200.8 280.5h3.5v3.1h-3.5zM210.3 280.5h3.5v3.1h-3.5zM79.6 283.2h3.5v3.1h-3.5zM98.5 283.2h3.5v3.1h-3.5zM101.6 283.2h3.5v3.1h-3.5zM107.9 283.2h3.5v3.1h-3.5zM111.1 283.2h3.5v3.1h-3.5zM145.7 283.2h3.5v3.1h-3.5zM161.5 283.2h3.5v3.1h-3.5zM63.8 332.8h3.5v3.1h-3.5zM76.4 332.8h3.5v3.1h-3.5zM89.0 332.8h3.5v3.1h-3.5zM92.2 332.8h3.5v3.1h-3.5zM152.0 332.8h3.5v3.1h-3.5zM155.2 332.8h3.5v3.1h-3.5zM158.3 332.8h3.5v3.1h-3.5zM161.5 332.8h3.5v3.1h-3.5zM164.6 332.8h3.5v3.1h-3.5zM183.5 332.8h3.5v3.1h-3.5zM189.8 332.8h3.5v3.1h-3.5zM196.1 332.8h3.5v3.1h-3.5zM208.7 332.8h3.5v3.1h-3.5zM68.5 335.5h3.5v3.1h-3.5zM131.6 335.5h3.5v3.1h-3.5zM178.8 335.5h3.5v3.1h-3.5zM204.0 335.5h3.5v3.1h-3.5zM210.3 335.5h3.5v3.1h-3.5z" fill="#28bceb"/><path d="M54.4 283.2h3.5v3.1h-3.5zM76.4 283.2h3.5v3.1h-3.5zM89.0 283.2h3.5v3.1h-3.5zM120.5 283.2h3.5v3.1h-3.5zM126.8 283.2h3.5v3.1h-3.5zM177.2 283.2h3.5v3.1h-3.5zM180.4 283.2h3.5v3.1h-3.5zM183.5 283.2h3.5v3.1h-3.5zM199.3 283.2h3.5v3.1h-3.5zM208.7 283.2h3.5v3.1h-3.5zM81.1 286.0h3.5v3.1h-3.5zM87.4 286.0h3.5v3.1h-3.5zM81.1 330.0h3.5v3.1h-3.5zM150.4 330.0h3.5v3.1h-3.5zM153.6 330.0h3.5v3.1h-3.5zM159.9 330.0h3.5v3.1h-3.5zM70.1 332.8h3.5v3.1h-3.5zM98.5 332.8h3.5v3.1h-3.5zM117.4 332.8h3.5v3.1h-3.5zM130.0 332.8h3.5v3.1h-3.5zM145.7 332.8h3.5v3.1h-3.5zM199.3 332.8h3.5v3.1h-3.5z" fill="#19d5cd"/><path d="M57.5 283.2h3.5v3.1h-3.5zM70.1 283.2h3.5v3.1h-3.5zM133.1 283.2h3.5v3.1h-3.5zM71.7 286.0h3.5v3.1h-3.5zM93.8 286.0h3.5v3.1h-3.5zM100.0 286.0h3.5v3.1h-3.5zM103.2 286.0h3.5v3.1h-3.5zM141.0 286.0h3.5v3.1h-3.5zM147.3 286.0h3.5v3.1h-3.5zM175.6 286.0h3.5v3.1h-3.5zM95.3 327.2h3.5v3.1h-3.5zM155.2 327.2h3.5v3.1h-3.5zM52.8 330.0h3.5v3.1h-3.5zM55.9 330.0h3.5v3.1h-3.5zM68.5 330.0h3.5v3.1h-3.5zM71.7 330.0h3.5v3.1h-3.5zM93.8 330.0h3.5v3.1h-3.5zM131.6 330.0h3.5v3.1h-3.5zM144.1 330.0h3.5v3.1h-3.5zM178.8 330.0h3.5v3.1h-3.5zM185.1 330.0h3.5v3.1h-3.5zM191.4 330.0h3.5v3.1h-3.5z" fill="#2aefa1"/><path d="M60.7 283.2h3.5v3.1h-3.5zM52.8 286.0h3.5v3.1h-3.5zM62.2 286.0h3.5v3.1h-3.5zM65.4 286.0h3.5v3.1h-3.5zM78.0 286.0h3.5v3.1h-3.5zM118.9 286.0h3.5v3.1h-3.5zM125.2 286.0h3.5v3.1h-3.5zM204.0 286.0h3.5v3.1h-3.5zM79.6 288.8h3.5v3.1h-3.5zM92.2 327.2h3.5v3.1h-3.5zM164.6 327.2h3.5v3.1h-3.5zM74.8 330.0h3.5v3.1h-3.5zM134.7 330.0h3.5v3.1h-3.5zM188.2 330.0h3.5v3.1h-3.5zM207.1 330.0h3.5v3.1h-3.5z" fill="#38f491"/><path d="M63.8 283.2h3.5v3.1h-3.5zM67.0 283.2h3.5v3.1h-3.5zM73.3 283.2h3.5v3.1h-3.5zM92.2 283.2h3.5v3.1h-3.5zM142.6 283.2h3.5v3.1h-3.5zM167.8 283.2h3.5v3.1h-3.5zM170.9 283.2h3.5v3.1h-3.5zM186.7 283.2h3.5v3.1h-3.5zM205.6 283.2h3.5v3.1h-3.5zM115.8 286.0h3.5v3.1h-3.5zM122.1 286.0h3.5v3.1h-3.5zM156.8 286.0h3.5v3.1h-3.5zM159.9 286.0h3.5v3.1h-3.5zM163.1 286.0h3.5v3.1h-3.5zM158.3 327.2h3.5v3.1h-3.5zM161.5 327.2h3.5v3.1h-3.5zM84.3 330.0h3.5v3.1h-3.5zM96.9 330.0h3.5v3.1h-3.5zM109.5 330.0h3.5v3.1h-3.5zM115.8 330.0h3.5v3.1h-3.5zM122.1 330.0h3.5v3.1h-3.5zM204.0 330.0h3.5v3.1h-3.5zM51.2 332.8h3.5v3.1h-3.5zM57.5 332.8h3.5v3.1h-3.5zM60.7 332.8h3.5v3.1h-3.5zM104.8 332.8h3.5v3.1h-3.5zM114.2 332.8h3.5v3.1h-3.5zM136.3 332.8h3.5v3.1h-3.5zM139.4 332.8h3.5v3.1h-3.5zM177.2 332.8h3.5v3.1h-3.5zM186.7 332.8h3.5v3.1h-3.5zM202.4 332.8h3.5v3.1h-3.5z" fill="#18dec0"/><path d="M104.8 283.2h3.5v3.1h-3.5zM136.3 283.2h3.5v3.1h-3.5zM96.9 286.0h3.5v3.1h-3.5zM166.2 286.0h3.5v3.1h-3.5zM172.5 286.0h3.5v3.1h-3.5zM191.4 286.0h3.5v3.1h-3.5zM197.7 286.0h3.5v3.1h-3.5zM82.7 327.2h3.5v3.1h-3.5zM100.0 330.0h3.5v3.1h-3.5zM106.3 330.0h3.5v3.1h-3.5zM141.0 330.0h3.5v3.1h-3.5zM169.3 330.0h3.5v3.1h-3.5zM181.9 330.0h3.5v3.1h-3.5zM197.7 330.0h3.5v3.1h-3.5zM200.8 330.0h3.5v3.1h-3.5z" fill="#20eaac"/><path d="M114.2 283.2h3.5v3.1h-3.5zM123.7 283.2h3.5v3.1h-3.5zM189.8 283.2h3.5v3.1h-3.5zM196.1 283.2h3.5v3.1h-3.5zM202.4 283.2h3.5v3.1h-3.5zM90.6 286.0h3.5v3.1h-3.5zM153.6 286.0h3.5v3.1h-3.5zM78.0 330.0h3.5v3.1h-3.5zM90.6 330.0h3.5v3.1h-3.5zM103.2 330.0h3.5v3.1h-3.5zM118.9 330.0h3.5v3.1h-3.5zM125.2 330.0h3.5v3.1h-3.5zM172.5 330.0h3.5v3.1h-3.5zM175.6 330.0h3.5v3.1h-3.5zM133.1 332.8h3.5v3.1h-3.5z" fill="#1ae4b6"/><path d="M139.4 283.2h3.5v3.1h-3.5zM73.3 288.8h3.5v3.1h-3.5zM111.1 288.8h3.5v3.1h-3.5zM126.8 288.8h3.5v3.1h-3.5zM130.0 288.8h3.5v3.1h-3.5zM148.9 288.8h3.5v3.1h-3.5zM183.5 288.8h3.5v3.1h-3.5zM193.0 288.8h3.5v3.1h-3.5zM199.3 288.8h3.5v3.1h-3.5zM90.6 291.5h3.5v3.1h-3.5zM84.3 324.5h3.5v3.1h-3.5zM87.4 324.5h3.5v3.1h-3.5zM90.6 324.5h3.5v3.1h-3.5zM54.4 327.2h3.5v3.1h-3.5zM70.1 327.2h3.5v3.1h-3.5zM130.0 327.2h3.5v3.1h-3.5z" fill="#88ff4e"/><path d="M55.9 286.0h3.5v3.1h-3.5zM59.1 286.0h3.5v3.1h-3.5zM68.5 286.0h3.5v3.1h-3.5zM106.3 286.0h3.5v3.1h-3.5zM144.1 286.0h3.5v3.1h-3.5zM150.4 286.0h3.5v3.1h-3.5zM169.3 286.0h3.5v3.1h-3.5zM178.8 286.0h3.5v3.1h-3.5zM181.9 286.0h3.5v3.1h-3.5zM194.6 286.0h3.5v3.1h-3.5zM200.8 286.0h3.5v3.1h-3.5zM207.1 286.0h3.5v3.1h-3.5zM155.2 288.8h3.5v3.1h-3.5zM161.5 288.8h3.5v3.1h-3.5zM167.8 288.8h3.5v3.1h-3.5zM180.4 288.8h3.5v3.1h-3.5zM76.4 327.2h3.5v3.1h-3.5zM98.5 327.2h3.5v3.1h-3.5zM111.1 327.2h3.5v3.1h-3.5zM120.5 327.2h3.5v3.1h-3.5zM123.7 327.2h3.5v3.1h-3.5zM170.9 327.2h3.5v3.1h-3.5zM59.1 330.0h3.5v3.1h-3.5zM112.7 330.0h3.5v3.1h-3.5zM128.4 330.0h3.5v3.1h-3.5zM194.6 330.0h3.5v3.1h-3.5z" fill="#46f884"/><path d="M74.8 286.0h3.5v3.1h-3.5zM210.3 286.0h3.5v3.1h-3.5zM85.9 288.8h3.5v3.1h-3.5zM117.4 288.8h3.5v3.1h-3.5zM145.7 288.8h3.5v3.1h-3.5zM164.6 288.8h3.5v3.1h-3.5zM174.1 288.8h3.5v3.1h-3.5zM186.7 288.8h3.5v3.1h-3.5zM196.1 288.8h3.5v3.1h-3.5zM81.1 324.5h3.5v3.1h-3.5zM117.4 327.2h3.5v3.1h-3.5zM142.6 327.2h3.5v3.1h-3.5zM180.4 327.2h3.5v3.1h-3.5zM183.5 327.2h3.5v3.1h-3.5zM186.7 327.2h3.5v3.1h-3.5zM196.1 327.2h3.5v3.1h-3.5zM199.3 327.2h3.5v3.1h-3.5zM62.2 330.0h3.5v3.1h-3.5z" fill="#79fe59"/><path d="M84.3 286.0h3.5v3.1h-3.5zM134.7 286.0h3.5v3.1h-3.5zM92.2 288.8h3.5v3.1h-3.5zM114.2 288.8h3.5v3.1h-3.5zM152.0 288.8h3.5v3.1h-3.5zM177.2 288.8h3.5v3.1h-3.5zM67.0 327.2h3.5v3.1h-3.5zM73.3 327.2h3.5v3.1h-3.5zM85.9 327.2h3.5v3.1h-3.5zM89.0 327.2h3.5v3.1h-3.5zM101.6 327.2h3.5v3.1h-3.5zM104.8 327.2h3.5v3.1h-3.5zM114.2 327.2h3.5v3.1h-3.5zM189.8 327.2h3.5v3.1h-3.5zM205.6 327.2h3.5v3.1h-3.5zM65.4 330.0h3.5v3.1h-3.5zM137.8 330.0h3.5v3.1h-3.5zM210.3 330.0h3.5v3.1h-3.5z" fill="#55fa76"/><path d="M109.5 286.0h3.5v3.1h-3.5zM112.7 286.0h3.5v3.1h-3.5zM128.4 286.0h3.5v3.1h-3.5zM131.6 286.0h3.5v3.1h-3.5zM137.8 286.0h3.5v3.1h-3.5zM185.1 286.0h3.5v3.1h-3.5zM188.2 286.0h3.5v3.1h-3.5zM163.1 324.5h3.5v3.1h-3.5zM57.5 327.2h3.5v3.1h-3.5zM79.6 327.2h3.5v3.1h-3.5zM126.8 327.2h3.5v3.1h-3.5zM148.9 327.2h3.5v3.1h-3.5zM152.0 327.2h3.5v3.1h-3.5zM167.8 327.2h3.5v3.1h-3.5zM174.1 327.2h3.5v3.1h-3.5zM177.2 327.2h3.5v3.1h-3.5zM193.0 327.2h3.5v3.1h-3.5zM202.4 327.2h3.5v3.1h-3.5z" fill="#65fd69"/><path d="M51.2 288.8h3.5v3.1h-3.5zM63.8 288.8h3.5v3.1h-3.5zM67.0 288.8h3.5v3.1h-3.5zM81.1 291.5h3.5v3.1h-3.5zM96.9 291.5h3.5v3.1h-3.5zM103.2 291.5h3.5v3.1h-3.5zM112.7 291.5h3.5v3.1h-3.5zM122.1 291.5h3.5v3.1h-3.5zM150.4 291.5h3.5v3.1h-3.5zM163.1 291.5h3.5v3.1h-3.5zM172.5 291.5h3.5v3.1h-3.5zM200.8 291.5h3.5v3.1h-3.5zM96.9 324.5h3.5v3.1h-3.5zM118.9 324.5h3.5v3.1h-3.5zM128.4 324.5h3.5v3.1h-3.5zM137.8 324.5h3.5v3.1h-3.5zM175.6 324.5h3.5v3.1h-3.5zM197.7 324.5h3.5v3.1h-3.5zM60.7 327.2h3.5v3.1h-3.5zM63.8 327.2h3.5v3.1h-3.5zM139.4 327.2h3.5v3.1h-3.5z" fill="#affa37"/><path d="M54.4 288.8h3.5v3.1h-3.5zM70.1 288.8h3.5v3.1h-3.5zM76.4 288.8h3.5v3.1h-3.5zM82.7 288.8h3.5v3.1h-3.5zM95.3 288.8h3.5v3.1h-3.5zM98.5 288.8h3.5v3.1h-3.5zM101.6 288.8h3.5v3.1h-3.5zM104.8 288.8h3.5v3.1h-3.5zM120.5 288.8h3.5v3.1h-3.5zM133.1 288.8h3.5v3.1h-3.5zM136.3 288.8h3.5v3.1h-3.5zM139.4 288.8h3.5v3.1h-3.5zM158.3 288.8h3.5v3.1h-3.5zM205.6 288.8h3.5v3.1h-3.5zM156.8 291.5h3.5v3.1h-3.5zM153.6 324.5h3.5v3.1h-3.5zM159.9 324.5h3.5v3.1h-3.5zM166.2 324.5h3.5v3.1h-3.5zM191.4 324.5h3.5v3.1h-3.5zM51.2 327.2h3.5v3.1h-3.5zM107.9 327.2h3.5v3.1h-3.5zM145.7 327.2h3.5v3.1h-3.5z" fill="#96fe44"/><path d="M57.5 288.8h3.5v3.1h-3.5zM89.0 288.8h3.5v3.1h-3.5zM107.9 288.8h3.5v3.1h-3.5zM123.7 288.8h3.5v3.1h-3.5zM142.6 288.8h3.5v3.1h-3.5zM170.9 288.8h3.5v3.1h-3.5zM189.8 288.8h3.5v3.1h-3.5zM202.4 288.8h3.5v3.1h-3.5zM208.7 288.8h3.5v3.1h-3.5zM147.3 291.5h3.5v3.1h-3.5zM71.7 324.5h3.5v3.1h-3.5zM74.8 324.5h3.5v3.1h-3.5zM93.8 324.5h3.5v3.1h-3.5zM122.1 324.5h3.5v3.1h-3.5zM150.4 324.5h3.5v3.1h-3.5zM156.8 324.5h3.5v3.1h-3.5zM169.3 324.5h3.5v3.1h-3.5zM181.9 324.5h3.5v3.1h-3.5zM133.1 327.2h3.5v3.1h-3.5zM136.3 327.2h3.5v3.1h-3.5zM208.7 327.2h3.5v3.1h-3.5z" fill="#a4fc3c"/><path d="M60.7 288.8h3.5v3.1h-3.5zM78.0 291.5h3.5v3.1h-3.5zM84.3 291.5h3.5v3.1h-3.5zM125.2 291.5h3.5v3.1h-3.5zM159.9 291.5h3.5v3.1h-3.5zM175.6 291.5h3.5v3.1h-3.5zM194.6 291.5h3.5v3.1h-3.5zM89.0 321.8h3.5v3.1h-3.5zM152.0 321.8h3.5v3.1h-3.5zM55.9 324.5h3.5v3.1h-3.5zM62.2 324.5h3.5v3.1h-3.5zM100.0 324.5h3.5v3.1h-3.5zM109.5 324.5h3.5v3.1h-3.5zM178.8 324.5h3.5v3.1h-3.5zM194.6 324.5h3.5v3.1h-3.5zM200.8 324.5h3.5v3.1h-3.5z" fill="#d0ea34"/><path d="M52.8 291.5h3.5v3.1h-3.5zM71.7 291.5h3.5v3.1h-3.5zM74.8 291.5h3.5v3.1h-3.5zM93.8 291.5h3.5v3.1h-3.5zM100.0 291.5h3.5v3.1h-3.5zM109.5 291.5h3.5v3.1h-3.5zM118.9 291.5h3.5v3.1h-3.5zM128.4 291.5h3.5v3.1h-3.5zM137.8 291.5h3.5v3.1h-3.5zM144.1 291.5h3.5v3.1h-3.5zM178.8 291.5h3.5v3.1h-3.5zM185.1 291.5h3.5v3.1h-3.5zM204.0 291.5h3.5v3.1h-3.5zM152.0 294.2h3.5v3.1h-3.5zM167.8 294.2h3.5v3.1h-3.5zM170.9 294.2h3.5v3.1h-3.5zM85.9 321.8h3.5v3.1h-3.5zM114.2 321.8h3.5v3.1h-3.5zM117.4 321.8h3.5v3.1h-3.5zM161.5 321.8h3.5v3.1h-3.5zM164.6 321.8h3.5v3.1h-3.5zM170.9 321.8h3.5v3.1h-3.5zM174.1 321.8h3.5v3.1h-3.5zM134.7 324.5h3.5v3.1h-3.5zM204.0 324.5h3.5v3.1h-3.5z" fill="#d9e436"/><path d="M55.9 291.5h3.5v3.1h-3.5zM62.2 291.5h3.5v3.1h-3.5zM65.4 291.5h3.5v3.1h-3.5zM106.3 291.5h3.5v3.1h-3.5zM141.0 291.5h3.5v3.1h-3.5zM117.4 294.2h3.5v3.1h-3.5zM145.7 294.2h3.5v3.1h-3.5zM155.2 294.2h3.5v3.1h-3.5zM158.3 294.2h3.5v3.1h-3.5zM193.0 294.2h3.5v3.1h-3.5zM82.7 321.8h3.5v3.1h-3.5zM92.2 321.8h3.5v3.1h-3.5zM98.5 321.8h3.5v3.1h-3.5zM167.8 321.8h3.5v3.1h-3.5zM177.2 321.8h3.5v3.1h-3.5zM180.4 321.8h3.5v3.1h-3.5zM65.4 324.5h3.5v3.1h-3.5zM141.0 324.5h3.5v3.1h-3.5z" fill="#e9d539"/><path d="M59.1 291.5h3.5v3.1h-3.5zM104.8 294.2h3.5v3.1h-3.5zM54.4 321.8h3.5v3.1h-3.5zM101.6 321.8h3.5v3.1h-3.5zM123.7 321.8h3.5v3.1h-3.5zM133.1 321.8h3.5v3.1h-3.5z" fill="#faba39"/><path d="M68.5 291.5h3.5v3.1h-3.5zM131.6 291.5h3.5v3.1h-3.5zM134.7 291.5h3.5v3.1h-3.5zM210.3 291.5h3.5v3.1h-3.5zM89.0 294.2h3.5v3.1h-3.5zM107.9 294.2h3.5v3.1h-3.5zM123.7 294.2h3.5v3.1h-3.5zM126.8 294.2h3.5v3.1h-3.5zM130.0 294.2h3.5v3.1h-3.5zM164.6 294.2h3.5v3.1h-3.5zM183.5 294.2h3.5v3.1h-3.5zM202.4 294.2h3.5v3.1h-3.5zM70.1 321.8h3.5v3.1h-3.5zM76.4 321.8h3.5v3.1h-3.5zM79.6 321.8h3.5v3.1h-3.5zM95.3 321.8h3.5v3.1h-3.5zM107.9 321.8h3.5v3.1h-3.5zM120.5 321.8h3.5v3.1h-3.5zM155.2 321.8h3.5v3.1h-3.5zM189.8 321.8h3.5v3.1h-3.5zM185.1 324.5h3.5v3.1h-3.5z" fill="#f1cb3a"/><path d="M87.4 291.5h3.5v3.1h-3.5zM115.8 291.5h3.5v3.1h-3.5zM153.6 291.5h3.5v3.1h-3.5zM166.2 291.5h3.5v3.1h-3.5zM181.9 291.5h3.5v3.1h-3.5zM191.4 291.5h3.5v3.1h-3.5zM161.5 294.2h3.5v3.1h-3.5zM52.8 324.5h3.5v3.1h-3.5zM68.5 324.5h3.5v3.1h-3.5zM78.0 324.5h3.5v3.1h-3.5zM103.2 324.5h3.5v3.1h-3.5zM106.3 324.5h3.5v3.1h-3.5zM115.8 324.5h3.5v3.1h-3.5zM131.6 324.5h3.5v3.1h-3.5zM172.5 324.5h3.5v3.1h-3.5z" fill="#c3f134"/><path d="M169.3 291.5h3.5v3.1h-3.5zM188.2 291.5h3.5v3.1h-3.5zM197.7 291.5h3.5v3.1h-3.5zM87.4 319.0h3.5v3.1h-3.5zM63.8 321.8h3.5v3.1h-3.5zM186.7 321.8h3.5v3.1h-3.5zM112.7 324.5h3.5v3.1h-3.5zM144.1 324.5h3.5v3.1h-3.5zM207.1 324.5h3.5v3.1h-3.5zM210.3 324.5h3.5v3.1h-3.5z" fill="#e1dd37"/><path d="M207.1 291.5h3.5v3.1h-3.5zM54.4 294.2h3.5v3.1h-3.5zM85.9 294.2h3.5v3.1h-3.5zM92.2 294.2h3.5v3.1h-3.5zM114.2 294.2h3.5v3.1h-3.5zM148.9 294.2h3.5v3.1h-3.5zM174.1 294.2h3.5v3.1h-3.5zM180.4 294.2h3.5v3.1h-3.5zM189.8 294.2h3.5v3.1h-3.5zM51.2 321.8h3.5v3.1h-3.5zM57.5 321.8h3.5v3.1h-3.5zM104.8 321.8h3.5v3.1h-3.5zM126.8 321.8h3.5v3.1h-3.5zM148.9 321.8h3.5v3.1h-3.5zM208.7 321.8h3.5v3.1h-3.5z" fill="#f6c33a"/><path d="M51.2 294.2h3.5v3.1h-3.5zM79.6 294.2h3.5v3.1h-3.5zM98.5 294.2h3.5v3.1h-3.5zM120.5 294.2h3.5v3.1h-3.5zM177.2 294.2h3.5v3.1h-3.5zM186.7 294.2h3.5v3.1h-3.5zM196.1 294.2h3.5v3.1h-3.5zM208.7 294.2h3.5v3.1h-3.5zM159.9 297.0h3.5v3.1h-3.5zM169.3 297.0h3.5v3.1h-3.5zM172.5 297.0h3.5v3.1h-3.5zM73.3 321.8h3.5v3.1h-3.5zM136.3 321.8h3.5v3.1h-3.5zM199.3 321.8h3.5v3.1h-3.5zM205.6 321.8h3.5v3.1h-3.5z" fill="#fcb136"/><path d="M57.5 294.2h3.5v3.1h-3.5zM95.3 294.2h3.5v3.1h-3.5zM136.3 294.2h3.5v3.1h-3.5zM142.6 294.2h3.5v3.1h-3.5zM115.8 297.0h3.5v3.1h-3.5zM128.4 297.0h3.5v3.1h-3.5zM141.0 297.0h3.5v3.1h-3.5zM150.4 297.0h3.5v3.1h-3.5zM166.2 297.0h3.5v3.1h-3.5zM178.8 297.0h3.5v3.1h-3.5zM181.9 297.0h3.5v3.1h-3.5zM103.2 319.0h3.5v3.1h-3.5zM163.1 319.0h3.5v3.1h-3.5zM175.6 319.0h3.5v3.1h-3.5zM194.6 319.0h3.5v3.1h-3.5zM60.7 321.8h3.5v3.1h-3.5zM139.4 321.8h3.5v3.1h-3.5zM202.4 321.8h3.5v3.1h-3.5z" fill="#fd8d27"/><path d="M60.7 294.2h3.5v3.1h-3.5zM63.8 294.2h3.5v3.1h-3.5zM67.0 294.2h3.5v3.1h-3.5zM81.1 297.0h3.5v3.1h-3.5zM100.0 297.0h3.5v3.1h-3.5zM134.7 297.0h3.5v3.1h-3.5zM137.8 297.0h3.5v3.1h-3.5zM153.6 297.0h3.5v3.1h-3.5zM204.0 297.0h3.5v3.1h-3.5zM167.8 299.8h3.5v3.1h-3.5zM177.2 299.8h3.5v3.1h-3.5zM118.9 302.5h3.5v3.1h-3.5zM133.1 305.2h3.5v3.1h-3.5zM90.6 319.0h3.5v3.1h-3.5zM100.0 319.0h3.5v3.1h-3.5zM147.3 319.0h3.5v3.1h-3.5zM150.4 319.0h3.5v3.1h-3.5zM169.3 319.0h3.5v3.1h-3.5zM191.4 319.0h3.5v3.1h-3.5zM207.1 319.0h3.5v3.1h-3.5z" fill="#f8721c"/><path d="M70.1 294.2h3.5v3.1h-3.5zM73.3 294.2h3.5v3.1h-3.5zM199.3 294.2h3.5v3.1h-3.5zM122.1 297.0h3.5v3.1h-3.5zM156.8 297.0h3.5v3.1h-3.5zM163.1 297.0h3.5v3.1h-3.5zM175.6 297.0h3.5v3.1h-3.5zM158.3 299.8h3.5v3.1h-3.5zM52.8 319.0h3.5v3.1h-3.5zM84.3 319.0h3.5v3.1h-3.5zM93.8 319.0h3.5v3.1h-3.5zM96.9 319.0h3.5v3.1h-3.5zM106.3 319.0h3.5v3.1h-3.5zM115.8 319.0h3.5v3.1h-3.5zM118.9 319.0h3.5v3.1h-3.5zM122.1 319.0h3.5v3.1h-3.5zM134.7 319.0h3.5v3.1h-3.5zM183.5 321.8h3.5v3.1h-3.5zM193.0 321.8h3.5v3.1h-3.5z" fill="#fe992c"/><path d="M76.4 294.2h3.5v3.1h-3.5zM112.7 297.0h3.5v3.1h-3.5zM185.1 297.0h3.5v3.1h-3.5zM188.2 297.0h3.5v3.1h-3.5zM194.6 297.0h3.5v3.1h-3.5zM200.8 297.0h3.5v3.1h-3.5zM71.7 319.0h3.5v3.1h-3.5zM74.8 319.0h3.5v3.1h-3.5zM78.0 319.0h3.5v3.1h-3.5zM81.1 319.0h3.5v3.1h-3.5zM109.5 319.0h3.5v3.1h-3.5zM128.4 319.0h3.5v3.1h-3.5zM153.6 319.0h3.5v3.1h-3.5zM159.9 319.0h3.5v3.1h-3.5zM188.2 319.0h3.5v3.1h-3.5zM142.6 321.8h3.5v3.1h-3.5z" fill="#fb7e21"/><path d="M82.7 294.2h3.5v3.1h-3.5zM101.6 294.2h3.5v3.1h-3.5zM111.1 294.2h3.5v3.1h-3.5zM133.1 294.2h3.5v3.1h-3.5zM139.4 294.2h3.5v3.1h-3.5zM205.6 294.2h3.5v3.1h-3.5zM118.9 297.0h3.5v3.1h-3.5zM125.2 319.0h3.5v3.1h-3.5zM156.8 319.0h3.5v3.1h-3.5zM166.2 319.0h3.5v3.1h-3.5zM67.0 321.8h3.5v3.1h-3.5zM111.1 321.8h3.5v3.1h-3.5zM130.0 321.8h3.5v3.1h-3.5zM145.7 321.8h3.5v3.1h-3.5zM196.1 321.8h3.5v3.1h-3.5z" fill="#fea431"/><path d="M52.8 297.0h3.5v3.1h-3.5zM84.3 297.0h3.5v3.1h-3.5zM90.6 297.0h3.5v3.1h-3.5zM131.6 297.0h3.5v3.1h-3.5zM144.1 297.0h3.5v3.1h-3.5zM161.5 299.8h3.5v3.1h-3.5zM164.6 299.8h3.5v3.1h-3.5zM174.1 299.8h3.5v3.1h-3.5zM183.5 299.8h3.5v3.1h-3.5zM169.3 302.5h3.5v3.1h-3.5zM178.8 302.5h3.5v3.1h-3.5zM76.4 316.2h3.5v3.1h-3.5zM55.9 319.0h3.5v3.1h-3.5zM59.1 319.0h3.5v3.1h-3.5zM65.4 319.0h3.5v3.1h-3.5zM112.7 319.0h3.5v3.1h-3.5zM178.8 319.0h3.5v3.1h-3.5zM197.7 319.0h3.5v3.1h-3.5z" fill="#f46617"/><path d="M55.9 297.0h3.5v3.1h-3.5zM62.2 297.0h3.5v3.1h-3.5zM109.5 297.0h3.5v3.1h-3.5zM51.2 299.8h3.5v3.1h-3.5zM142.6 299.8h3.5v3.1h-3.5zM152.0 299.8h3.5v3.1h-3.5zM202.4 299.8h3.5v3.1h-3.5zM55.9 302.5h3.5v3.1h-3.5zM122.1 302.5h3.5v3.1h-3.5zM134.7 302.5h3.5v3.1h-3.5zM153.6 302.5h3.5v3.1h-3.5zM166.2 302.5h3.5v3.1h-3.5zM185.1 302.5h3.5v3.1h-3.5zM188.2 302.5h3.5v3.1h-3.5zM200.8 302.5h3.5v3.1h-3.5zM57.5 305.2h3.5v3.1h-3.5zM114.2 305.2h3.5v3.1h-3.5zM123.7 305.2h3.5v3.1h-3.5zM139.4 305.2h3.5v3.1h-3.5zM170.9 305.2h3.5v3.1h-3.5zM174.1 305.2h3.5v3.1h-3.5zM177.2 305.2h3.5v3.1h-3.5zM183.5 305.2h3.5v3.1h-3.5zM52.8 308.0h3.5v3.1h-3.5zM118.9 308.0h3.5v3.1h-3.5zM128.4 308.0h3.5v3.1h-3.5zM134.7 308.0h3.5v3.1h-3.5zM185.1 308.0h3.5v3.1h-3.5zM62.2 313.5h3.5v3.1h-3.5zM54.4 316.2h3.5v3.1h-3.5zM60.7 316.2h3.5v3.1h-3.5zM79.6 316.2h3.5v3.1h-3.5zM92.2 316.2h3.5v3.1h-3.5zM98.5 316.2h3.5v3.1h-3.5zM101.6 316.2h3.5v3.1h-3.5zM104.8 316.2h3.5v3.1h-3.5zM170.9 316.2h3.5v3.1h-3.5zM62.2 319.0h3.5v3.1h-3.5z" fill="#e4450a"/><path d="M59.1 297.0h3.5v3.1h-3.5zM96.9 297.0h3.5v3.1h-3.5zM207.1 297.0h3.5v3.1h-3.5zM54.4 299.8h3.5v3.1h-3.5zM57.5 299.8h3.5v3.1h-3.5zM63.8 299.8h3.5v3.1h-3.5zM92.2 299.8h3.5v3.1h-3.5zM123.7 299.8h3.5v3.1h-3.5zM189.8 299.8h3.5v3.1h-3.5zM193.0 299.8h3.5v3.1h-3.5zM208.7 299.8h3.5v3.1h-3.5zM52.8 302.5h3.5v3.1h-3.5zM59.1 302.5h3.5v3.1h-3.5zM115.8 302.5h3.5v3.1h-3.5zM128.4 302.5h3.5v3.1h-3.5zM159.9 302.5h3.5v3.1h-3.5zM51.2 305.2h3.5v3.1h-3.5zM120.5 305.2h3.5v3.1h-3.5zM145.7 305.2h3.5v3.1h-3.5zM167.8 305.2h3.5v3.1h-3.5zM186.7 305.2h3.5v3.1h-3.5zM55.9 308.0h3.5v3.1h-3.5zM59.1 308.0h3.5v3.1h-3.5zM62.2 308.0h3.5v3.1h-3.5zM65.4 308.0h3.5v3.1h-3.5zM166.2 308.0h3.5v3.1h-3.5zM60.7 310.8h3.5v3.1h-3.5zM63.8 310.8h3.5v3.1h-3.5zM92.2 310.8h3.5v3.1h-3.5zM123.7 310.8h3.5v3.1h-3.5zM126.8 310.8h3.5v3.1h-3.5zM52.8 313.5h3.5v3.1h-3.5zM65.4 313.5h3.5v3.1h-3.5zM106.3 313.5h3.5v3.1h-3.5zM109.5 313.5h3.5v3.1h-3.5zM112.7 313.5h3.5v3.1h-3.5zM125.2 313.5h3.5v3.1h-3.5zM141.0 313.5h3.5v3.1h-3.5zM57.5 316.2h3.5v3.1h-3.5zM63.8 316.2h3.5v3.1h-3.5zM67.0 316.2h3.5v3.1h-3.5zM117.4 316.2h3.5v3.1h-3.5zM120.5 316.2h3.5v3.1h-3.5zM126.8 316.2h3.5v3.1h-3.5zM130.0 316.2h3.5v3.1h-3.5zM136.3 316.2h3.5v3.1h-3.5zM142.6 316.2h3.5v3.1h-3.5zM167.8 316.2h3.5v3.1h-3.5zM68.5 319.0h3.5v3.1h-3.5zM141.0 319.0h3.5v3.1h-3.5z" fill="#dd3d08"/><path d="M65.4 297.0h3.5v3.1h-3.5zM71.7 297.0h3.5v3.1h-3.5zM60.7 299.8h3.5v3.1h-3.5zM98.5 299.8h3.5v3.1h-3.5zM148.9 299.8h3.5v3.1h-3.5zM196.1 299.8h3.5v3.1h-3.5zM205.6 299.8h3.5v3.1h-3.5zM62.2 302.5h3.5v3.1h-3.5zM103.2 302.5h3.5v3.1h-3.5zM147.3 302.5h3.5v3.1h-3.5zM150.4 302.5h3.5v3.1h-3.5zM163.1 302.5h3.5v3.1h-3.5zM191.4 302.5h3.5v3.1h-3.5zM194.6 302.5h3.5v3.1h-3.5zM54.4 305.2h3.5v3.1h-3.5zM70.1 305.2h3.5v3.1h-3.5zM136.3 305.2h3.5v3.1h-3.5zM161.5 305.2h3.5v3.1h-3.5zM189.8 305.2h3.5v3.1h-3.5zM109.5 308.0h3.5v3.1h-3.5zM141.0 308.0h3.5v3.1h-3.5zM172.5 308.0h3.5v3.1h-3.5zM188.2 308.0h3.5v3.1h-3.5zM51.2 310.8h3.5v3.1h-3.5zM54.4 310.8h3.5v3.1h-3.5zM114.2 310.8h3.5v3.1h-3.5zM117.4 310.8h3.5v3.1h-3.5zM120.5 310.8h3.5v3.1h-3.5zM130.0 310.8h3.5v3.1h-3.5zM133.1 310.8h3.5v3.1h-3.5zM139.4 310.8h3.5v3.1h-3.5zM142.6 310.8h3.5v3.1h-3.5zM164.6 310.8h3.5v3.1h-3.5zM177.2 310.8h3.5v3.1h-3.5zM189.8 310.8h3.5v3.1h-3.5zM199.3 310.8h3.5v3.1h-3.5zM55.9 313.5h3.5v3.1h-3.5zM59.1 313.5h3.5v3.1h-3.5zM100.0 313.5h3.5v3.1h-3.5zM103.2 313.5h3.5v3.1h-3.5zM115.8 313.5h3.5v3.1h-3.5zM118.9 313.5h3.5v3.1h-3.5zM172.5 313.5h3.5v3.1h-3.5zM85.9 316.2h3.5v3.1h-3.5zM133.1 316.2h3.5v3.1h-3.5zM152.0 316.2h3.5v3.1h-3.5zM158.3 316.2h3.5v3.1h-3.5zM183.5 316.2h3.5v3.1h-3.5zM186.7 316.2h3.5v3.1h-3.5zM193.0 316.2h3.5v3.1h-3.5zM196.1 316.2h3.5v3.1h-3.5z" fill="#d63506"/><path d="M68.5 297.0h3.5v3.1h-3.5zM74.8 297.0h3.5v3.1h-3.5zM103.2 297.0h3.5v3.1h-3.5zM106.3 297.0h3.5v3.1h-3.5zM125.2 297.0h3.5v3.1h-3.5zM147.3 297.0h3.5v3.1h-3.5zM191.4 297.0h3.5v3.1h-3.5zM197.7 297.0h3.5v3.1h-3.5zM117.4 299.8h3.5v3.1h-3.5zM126.8 299.8h3.5v3.1h-3.5zM130.0 299.8h3.5v3.1h-3.5zM133.1 299.8h3.5v3.1h-3.5zM136.3 299.8h3.5v3.1h-3.5zM180.4 299.8h3.5v3.1h-3.5zM172.5 302.5h3.5v3.1h-3.5zM181.9 302.5h3.5v3.1h-3.5zM130.0 305.2h3.5v3.1h-3.5zM125.2 308.0h3.5v3.1h-3.5zM122.1 313.5h3.5v3.1h-3.5zM51.2 316.2h3.5v3.1h-3.5zM89.0 316.2h3.5v3.1h-3.5zM95.3 316.2h3.5v3.1h-3.5zM161.5 316.2h3.5v3.1h-3.5zM131.6 319.0h3.5v3.1h-3.5zM137.8 319.0h3.5v3.1h-3.5zM181.9 319.0h3.5v3.1h-3.5zM185.1 319.0h3.5v3.1h-3.5zM200.8 319.0h3.5v3.1h-3.5zM204.0 319.0h3.5v3.1h-3.5zM210.3 319.0h3.5v3.1h-3.5z" fill="#f05b12"/><path d="M78.0 297.0h3.5v3.1h-3.5zM87.4 297.0h3.5v3.1h-3.5zM93.8 297.0h3.5v3.1h-3.5zM210.3 297.0h3.5v3.1h-3.5zM114.2 299.8h3.5v3.1h-3.5zM120.5 299.8h3.5v3.1h-3.5zM139.4 299.8h3.5v3.1h-3.5zM145.7 299.8h3.5v3.1h-3.5zM155.2 299.8h3.5v3.1h-3.5zM170.9 299.8h3.5v3.1h-3.5zM186.7 299.8h3.5v3.1h-3.5zM199.3 299.8h3.5v3.1h-3.5zM125.2 302.5h3.5v3.1h-3.5zM131.6 302.5h3.5v3.1h-3.5zM137.8 302.5h3.5v3.1h-3.5zM141.0 302.5h3.5v3.1h-3.5zM144.1 302.5h3.5v3.1h-3.5zM175.6 302.5h3.5v3.1h-3.5zM126.8 305.2h3.5v3.1h-3.5zM142.6 305.2h3.5v3.1h-3.5zM180.4 305.2h3.5v3.1h-3.5zM112.7 308.0h3.5v3.1h-3.5zM122.1 308.0h3.5v3.1h-3.5zM131.6 308.0h3.5v3.1h-3.5zM70.1 310.8h3.5v3.1h-3.5zM70.1 316.2h3.5v3.1h-3.5zM73.3 316.2h3.5v3.1h-3.5zM82.7 316.2h3.5v3.1h-3.5zM107.9 316.2h3.5v3.1h-3.5zM111.1 316.2h3.5v3.1h-3.5zM114.2 316.2h3.5v3.1h-3.5zM123.7 316.2h3.5v3.1h-3.5zM155.2 316.2h3.5v3.1h-3.5zM164.6 316.2h3.5v3.1h-3.5zM174.1 316.2h3.5v3.1h-3.5zM144.1 319.0h3.5v3.1h-3.5zM172.5 319.0h3.5v3.1h-3.5z" fill="#ea4e0d"/><path d="M67.0 299.8h3.5v3.1h-3.5zM73.3 299.8h3.5v3.1h-3.5zM78.0 302.5h3.5v3.1h-3.5zM93.8 302.5h3.5v3.1h-3.5zM100.0 302.5h3.5v3.1h-3.5zM63.8 305.2h3.5v3.1h-3.5zM67.0 305.2h3.5v3.1h-3.5zM73.3 305.2h3.5v3.1h-3.5zM79.6 305.2h3.5v3.1h-3.5zM82.7 305.2h3.5v3.1h-3.5zM71.7 308.0h3.5v3.1h-3.5zM100.0 308.0h3.5v3.1h-3.5zM147.3 308.0h3.5v3.1h-3.5zM153.6 308.0h3.5v3.1h-3.5zM159.9 308.0h3.5v3.1h-3.5zM191.4 308.0h3.5v3.1h-3.5zM207.1 308.0h3.5v3.1h-3.5zM79.6 310.8h3.5v3.1h-3.5zM104.8 310.8h3.5v3.1h-3.5zM145.7 310.8h3.5v3.1h-3.5zM148.9 310.8h3.5v3.1h-3.5zM68.5 313.5h3.5v3.1h-3.5zM74.8 313.5h3.5v3.1h-3.5zM78.0 313.5h3.5v3.1h-3.5zM153.6 313.5h3.5v3.1h-3.5zM156.8 313.5h3.5v3.1h-3.5zM181.9 313.5h3.5v3.1h-3.5zM191.4 313.5h3.5v3.1h-3.5zM189.8 316.2h3.5v3.1h-3.5zM199.3 316.2h3.5v3.1h-3.5zM202.4 316.2h3.5v3.1h-3.5z" fill="#b91e02"/><path d="M70.1 299.8h3.5v3.1h-3.5zM95.3 299.8h3.5v3.1h-3.5zM104.8 299.8h3.5v3.1h-3.5zM68.5 302.5h3.5v3.1h-3.5zM71.7 302.5h3.5v3.1h-3.5zM74.8 302.5h3.5v3.1h-3.5zM96.9 302.5h3.5v3.1h-3.5zM112.7 302.5h3.5v3.1h-3.5zM156.8 302.5h3.5v3.1h-3.5zM197.7 302.5h3.5v3.1h-3.5zM204.0 302.5h3.5v3.1h-3.5zM148.9 305.2h3.5v3.1h-3.5zM199.3 305.2h3.5v3.1h-3.5zM202.4 305.2h3.5v3.1h-3.5zM144.1 308.0h3.5v3.1h-3.5zM150.4 308.0h3.5v3.1h-3.5zM156.8 308.0h3.5v3.1h-3.5zM163.1 308.0h3.5v3.1h-3.5zM178.8 308.0h3.5v3.1h-3.5zM197.7 308.0h3.5v3.1h-3.5zM73.3 310.8h3.5v3.1h-3.5zM76.4 310.8h3.5v3.1h-3.5zM85.9 310.8h3.5v3.1h-3.5zM98.5 310.8h3.5v3.1h-3.5zM101.6 310.8h3.5v3.1h-3.5zM107.9 310.8h3.5v3.1h-3.5zM152.0 310.8h3.5v3.1h-3.5zM155.2 310.8h3.5v3.1h-3.5zM158.3 310.8h3.5v3.1h-3.5zM161.5 310.8h3.5v3.1h-3.5zM167.8 310.8h3.5v3.1h-3.5zM186.7 310.8h3.5v3.1h-3.5zM193.0 310.8h3.5v3.1h-3.5zM84.3 313.5h3.5v3.1h-3.5zM87.4 313.5h3.5v3.1h-3.5zM96.9 313.5h3.5v3.1h-3.5zM128.4 313.5h3.5v3.1h-3.5zM137.8 313.5h3.5v3.1h-3.5zM147.3 313.5h3.5v3.1h-3.5zM163.1 313.5h3.5v3.1h-3.5zM169.3 313.5h3.5v3.1h-3.5zM175.6 313.5h3.5v3.1h-3.5zM188.2 313.5h3.5v3.1h-3.5zM200.8 313.5h3.5v3.1h-3.5zM210.3 313.5h3.5v3.1h-3.5zM145.7 316.2h3.5v3.1h-3.5zM177.2 316.2h3.5v3.1h-3.5zM180.4 316.2h3.5v3.1h-3.5z" fill="#c32503"/><path d="M76.4 299.8h3.5v3.1h-3.5zM79.6 299.8h3.5v3.1h-3.5zM82.7 299.8h3.5v3.1h-3.5zM85.9 299.8h3.5v3.1h-3.5zM101.6 299.8h3.5v3.1h-3.5zM107.9 299.8h3.5v3.1h-3.5zM111.1 299.8h3.5v3.1h-3.5zM65.4 302.5h3.5v3.1h-3.5zM106.3 302.5h3.5v3.1h-3.5zM109.5 302.5h3.5v3.1h-3.5zM207.1 302.5h3.5v3.1h-3.5zM210.3 302.5h3.5v3.1h-3.5zM60.7 305.2h3.5v3.1h-3.5zM107.9 305.2h3.5v3.1h-3.5zM111.1 305.2h3.5v3.1h-3.5zM117.4 305.2h3.5v3.1h-3.5zM152.0 305.2h3.5v3.1h-3.5zM155.2 305.2h3.5v3.1h-3.5zM158.3 305.2h3.5v3.1h-3.5zM164.6 305.2h3.5v3.1h-3.5zM193.0 305.2h3.5v3.1h-3.5zM196.1 305.2h3.5v3.1h-3.5zM208.7 305.2h3.5v3.1h-3.5zM68.5 308.0h3.5v3.1h-3.5zM74.8 308.0h3.5v3.1h-3.5zM106.3 308.0h3.5v3.1h-3.5zM115.8 308.0h3.5v3.1h-3.5zM137.8 308.0h3.5v3.1h-3.5zM169.3 308.0h3.5v3.1h-3.5zM175.6 308.0h3.5v3.1h-3.5zM181.9 308.0h3.5v3.1h-3.5zM194.6 308.0h3.5v3.1h-3.5zM210.3 308.0h3.5v3.1h-3.5zM57.5 310.8h3.5v3.1h-3.5zM67.0 310.8h3.5v3.1h-3.5zM111.1 310.8h3.5v3.1h-3.5zM136.3 310.8h3.5v3.1h-3.5zM170.9 310.8h3.5v3.1h-3.5zM174.1 310.8h3.5v3.1h-3.5zM180.4 310.8h3.5v3.1h-3.5zM196.1 310.8h3.5v3.1h-3.5zM71.7 313.5h3.5v3.1h-3.5zM81.1 313.5h3.5v3.1h-3.5zM90.6 313.5h3.5v3.1h-3.5zM93.8 313.5h3.5v3.1h-3.5zM131.6 313.5h3.5v3.1h-3.5zM134.7 313.5h3.5v3.1h-3.5zM144.1 313.5h3.5v3.1h-3.5zM150.4 313.5h3.5v3.1h-3.5zM166.2 313.5h3.5v3.1h-3.5zM178.8 313.5h3.5v3.1h-3.5zM185.1 313.5h3.5v3.1h-3.5zM197.7 313.5h3.5v3.1h-3.5zM148.9 316.2h3.5v3.1h-3.5z" fill="#cc2b04"/><path d="M89.0 299.8h3.5v3.1h-3.5zM85.9 305.2h3.5v3.1h-3.5zM89.0 305.2h3.5v3.1h-3.5zM90.6 308.0h3.5v3.1h-3.5zM200.8 308.0h3.5v3.1h-3.5zM82.7 310.8h3.5v3.1h-3.5zM202.4 310.8h3.5v3.1h-3.5zM205.6 310.8h3.5v3.1h-3.5zM194.6 313.5h3.5v3.1h-3.5z" fill="#a11201"/><path d="M81.1 302.5h3.5v3.1h-3.5zM84.3 302.5h3.5v3.1h-3.5zM90.6 302.5h3.5v3.1h-3.5zM76.4 305.2h3.5v3.1h-3.5zM95.3 305.2h3.5v3.1h-3.5zM98.5 305.2h3.5v3.1h-3.5zM101.6 305.2h3.5v3.1h-3.5zM104.8 305.2h3.5v3.1h-3.5zM205.6 305.2h3.5v3.1h-3.5zM81.1 308.0h3.5v3.1h-3.5zM84.3 308.0h3.5v3.1h-3.5zM96.9 308.0h3.5v3.1h-3.5zM103.2 308.0h3.5v3.1h-3.5zM204.0 308.0h3.5v3.1h-3.5zM89.0 310.8h3.5v3.1h-3.5zM95.3 310.8h3.5v3.1h-3.5zM183.5 310.8h3.5v3.1h-3.5zM159.9 313.5h3.5v3.1h-3.5zM204.0 313.5h3.5v3.1h-3.5zM207.1 313.5h3.5v3.1h-3.5zM139.4 316.2h3.5v3.1h-3.5zM205.6 316.2h3.5v3.1h-3.5zM208.7 316.2h3.5v3.1h-3.5z" fill="#af1801"/><path d="M87.4 302.5h3.5v3.1h-3.5zM92.2 305.2h3.5v3.1h-3.5zM78.0 308.0h3.5v3.1h-3.5zM93.8 308.0h3.5v3.1h-3.5zM208.7 310.8h3.5v3.1h-3.5z" fill="#950d01"/><path d="M87.4 308.0h3.5v3.1h-3.5z" fill="#880802"/><path d="M158.3 321.8h3.5v3.1h-3.5zM59.1 324.5h3.5v3.1h-3.5zM125.2 324.5h3.5v3.1h-3.5zM147.3 324.5h3.5v3.1h-3.5zM188.2 324.5h3.5v3.1h-3.5z" fill="#b9f635"/></g></g>
<rect x="52.8" y="269.5" width="157.7" height="78.69999999999999" fill="none" stroke="#444" stroke-width="0.6"/>
<g font-family="'DejaVu Sans', sans-serif" font-size="4.8" fill="#333">
<line x1="50.8" y1="269.5" x2="52.8" y2="269.5" stroke="#444" stroke-width="0.5"/>
<text x="49.8" y="271.2" text-anchor="end">π/2</text>
<line x1="50.8" y1="289.2" x2="52.8" y2="289.2" stroke="#444" stroke-width="0.5"/>
<text x="49.8" y="290.9" text-anchor="end">π/4</text>
<line x1="50.8" y1="308.9" x2="52.8" y2="308.9" stroke="#444" stroke-width="0.5"/>
<text x="49.8" y="310.6" text-anchor="end">0</text>
<line x1="50.8" y1="328.5" x2="52.8" y2="328.5" stroke="#444" stroke-width="0.5"/>
<text x="49.8" y="330.2" text-anchor="end">−π/4</text>
<line x1="50.8" y1="348.2" x2="52.8" y2="348.2" stroke="#444" stroke-width="0.5"/>
<text x="49.8" y="349.9" text-anchor="end">−π/2</text>
<line x1="52.8" y1="348.2" x2="52.8" y2="350.2" stroke="#444" stroke-width="0.5"/>
<text x="52.8" y="356.0" text-anchor="middle">−π</text>
<line x1="72.5" y1="348.2" x2="72.5" y2="350.2" stroke="#444" stroke-width="0.5"/>
<text x="72.5" y="356.0" text-anchor="middle">−3π/4</text>
<line x1="92.2" y1="348.2" x2="92.2" y2="350.2" stroke="#444" stroke-width="0.5"/>
<text x="92.2" y="356.0" text-anchor="middle">−π/2</text>
<line x1="111.9" y1="348.2" x2="111.9" y2="350.2" stroke="#444" stroke-width="0.5"/>
<text x="111.9" y="356.0" text-anchor="middle">−π/4</text>
<line x1="131.6" y1="348.2" x2="131.6" y2="350.2" stroke="#444" stroke-width="0.5"/>
<text x="131.6" y="356.0" text-anchor="middle">0</text>
<line x1="151.4" y1="348.2" x2="151.4" y2="350.2" stroke="#444" stroke-width="0.5"/>
<text x="151.4" y="356.0" text-anchor="middle">π/4</text>
<line x1="171.1" y1="348.2" x2="171.1" y2="350.2" stroke="#444" stroke-width="0.5"/>
<text x="171.1" y="356.0" text-anchor="middle">π/2</text>
<line x1="190.8" y1="348.2" x2="190.8" y2="350.2" stroke="#444" stroke-width="0.5"/>
<text x="190.8" y="356.0" text-anchor="middle">3π/4</text>
<line x1="210.5" y1="348.2" x2="210.5" y2="350.2" stroke="#444" stroke-width="0.5"/>
<text x="210.5" y="356.0" text-anchor="middle">π</text>
<text x="131.7" y="362.7" text-anchor="middle" font-size="5">Azimuth</text>
<text transform="translate(33.5,308.9) rotate(-90)" text-anchor="middle" font-size="5">Elevation</text>
<defs><linearGradient id="cb52" x1="0" y1="0" x2="0" y2="1"><stop offset="0.0" stop-color="#321543"/><stop offset="0.1" stop-color="#c32503"/><stop offset="0.2" stop-color="#f05b12"/><stop offset="0.3" stop-color="#fea431"/><stop offset="0.4" stop-color="#e1dd37"/><stop offset="0.5" stop-color="#a4fc3c"/><stop offset="0.6" stop-color="#46f884"/><stop offset="0.7" stop-color="#19d5cd"/><stop offset="0.8" stop-color="#3e9bfe"/><stop offset="0.9" stop-color="#4559cb"/><stop offset="1.0" stop-color="#30123b"/></linearGradient></defs>
<rect x="219.9" y="266.6" width="4.4" height="83.79999999999995" fill="url(#cb52)" stroke="#444" stroke-width="0.4"/>
<line x1="224.3" y1="280.4" x2="225.9" y2="280.4" stroke="#444" stroke-width="0.4"/>
<text x="226.4" y="282.09999999999997">10<tspan font-size="3.2" dy="-1.8">2</tspan></text>
<line x1="224.3" y1="315.5" x2="225.9" y2="315.5" stroke="#444" stroke-width="0.4"/>
<text x="226.4" y="317.2">10<tspan font-size="3.2" dy="-1.8">1</tspan></text>
<line x1="224.3" y1="350.4" x2="225.9" y2="350.4" stroke="#444" stroke-width="0.4"/>
<text x="226.4" y="352.09999999999997">10<tspan font-size="3.2" dy="-1.8">0</tspan></text>
<text transform="translate(240.5,308.5) rotate(-90)" text-anchor="middle" font-size="5">#&#160;of&#160;images</text>
</g>
<defs><clipPath id="hc389"><rect x="389.2" y="268.6" width="159.50000000000006" height="79.89999999999998"/></clipPath><filter id="hb389" x="-5%" y="-5%" width="110%" height="110%"><feGaussianBlur stdDeviation="0.6"/></filter></defs>
<g clip-path="url(#hc389)"><g filter="url(#hb389)"><path d="M398.6 268.6h3.5v3.1h-3.5zM417.6 268.6h3.5v3.1h-3.5zM445.9 268.6h3.5v3.1h-3.5zM390.8 271.4h3.5v3.1h-3.5zM412.8 271.4h3.5v3.1h-3.5zM425.4 271.4h3.5v3.1h-3.5zM447.5 271.4h3.5v3.1h-3.5zM460.1 271.4h3.5v3.1h-3.5zM494.7 271.4h3.5v3.1h-3.5zM507.3 271.4h3.5v3.1h-3.5zM510.5 271.4h3.5v3.1h-3.5zM532.5 271.4h3.5v3.1h-3.5zM398.6 345.6h3.5v3.1h-3.5zM452.2 345.6h3.5v3.1h-3.5zM464.8 345.6h3.5v3.1h-3.5zM474.2 345.6h3.5v3.1h-3.5zM480.5 345.6h3.5v3.1h-3.5zM505.8 345.6h3.5v3.1h-3.5zM540.4 345.6h3.5v3.1h-3.5zM434.9 348.4h3.5v3.1h-3.5zM526.2 348.4h3.5v3.1h-3.5zM529.4 348.4h3.5v3.1h-3.5zM532.5 348.4h3.5v3.1h-3.5z" fill="#30123b"/><path d="M423.8 268.6h3.5v3.1h-3.5zM422.3 271.4h3.5v3.1h-3.5zM479.0 271.4h3.5v3.1h-3.5zM485.3 271.4h3.5v3.1h-3.5zM497.9 271.4h3.5v3.1h-3.5zM519.9 271.4h3.5v3.1h-3.5zM449.1 274.1h3.5v3.1h-3.5zM477.4 274.1h3.5v3.1h-3.5zM496.3 274.1h3.5v3.1h-3.5zM499.4 274.1h3.5v3.1h-3.5zM502.6 274.1h3.5v3.1h-3.5zM508.9 274.1h3.5v3.1h-3.5zM527.8 274.1h3.5v3.1h-3.5zM491.6 276.9h3.5v3.1h-3.5zM513.6 276.9h3.5v3.1h-3.5zM411.2 340.1h3.5v3.1h-3.5zM400.2 342.9h3.5v3.1h-3.5zM428.6 342.9h3.5v3.1h-3.5zM450.6 342.9h3.5v3.1h-3.5zM501.0 342.9h3.5v3.1h-3.5zM526.2 342.9h3.5v3.1h-3.5zM535.7 342.9h3.5v3.1h-3.5zM537.2 345.6h3.5v3.1h-3.5z" fill="#31aff5"/><path d="M433.3 268.6h3.5v3.1h-3.5zM508.9 268.6h3.5v3.1h-3.5zM531.0 268.6h3.5v3.1h-3.5zM397.1 271.4h3.5v3.1h-3.5zM403.4 271.4h3.5v3.1h-3.5zM431.7 271.4h3.5v3.1h-3.5zM450.6 271.4h3.5v3.1h-3.5zM472.7 271.4h3.5v3.1h-3.5zM501.0 271.4h3.5v3.1h-3.5zM516.8 271.4h3.5v3.1h-3.5zM408.1 345.6h3.5v3.1h-3.5zM488.4 348.4h3.5v3.1h-3.5zM513.6 348.4h3.5v3.1h-3.5zM538.8 348.4h3.5v3.1h-3.5z" fill="#351e58"/><path d="M436.4 268.6h3.5v3.1h-3.5zM416.0 271.4h3.5v3.1h-3.5zM428.6 271.4h3.5v3.1h-3.5zM453.8 271.4h3.5v3.1h-3.5zM542.0 271.4h3.5v3.1h-3.5zM401.8 345.6h3.5v3.1h-3.5zM417.6 345.6h3.5v3.1h-3.5zM420.7 345.6h3.5v3.1h-3.5zM423.8 345.6h3.5v3.1h-3.5zM436.4 345.6h3.5v3.1h-3.5zM442.8 345.6h3.5v3.1h-3.5zM387.6 348.4h3.5v3.1h-3.5zM400.2 348.4h3.5v3.1h-3.5zM403.4 348.4h3.5v3.1h-3.5zM441.2 348.4h3.5v3.1h-3.5z" fill="#434eba"/><path d="M455.3 268.6h3.5v3.1h-3.5zM461.6 268.6h3.5v3.1h-3.5zM490.0 268.6h3.5v3.1h-3.5zM546.7 268.6h3.5v3.1h-3.5zM393.9 271.4h3.5v3.1h-3.5zM548.3 271.4h3.5v3.1h-3.5zM430.1 274.1h3.5v3.1h-3.5zM433.3 274.1h3.5v3.1h-3.5zM436.4 274.1h3.5v3.1h-3.5zM439.6 274.1h3.5v3.1h-3.5zM486.8 274.1h3.5v3.1h-3.5zM493.1 274.1h3.5v3.1h-3.5zM416.0 342.9h3.5v3.1h-3.5zM441.2 342.9h3.5v3.1h-3.5zM456.9 342.9h3.5v3.1h-3.5zM513.6 342.9h3.5v3.1h-3.5zM453.8 348.4h3.5v3.1h-3.5z" fill="#448ffe"/><path d="M406.5 271.4h3.5v3.1h-3.5zM409.7 271.4h3.5v3.1h-3.5zM419.1 271.4h3.5v3.1h-3.5zM438.0 271.4h3.5v3.1h-3.5zM469.5 271.4h3.5v3.1h-3.5zM482.1 271.4h3.5v3.1h-3.5zM491.6 271.4h3.5v3.1h-3.5zM504.2 271.4h3.5v3.1h-3.5zM513.6 271.4h3.5v3.1h-3.5zM526.2 271.4h3.5v3.1h-3.5zM439.6 345.6h3.5v3.1h-3.5zM461.6 345.6h3.5v3.1h-3.5zM467.9 345.6h3.5v3.1h-3.5zM477.4 345.6h3.5v3.1h-3.5zM490.0 345.6h3.5v3.1h-3.5zM496.3 345.6h3.5v3.1h-3.5zM499.4 345.6h3.5v3.1h-3.5zM527.8 345.6h3.5v3.1h-3.5zM534.1 345.6h3.5v3.1h-3.5zM504.2 348.4h3.5v3.1h-3.5zM542.0 348.4h3.5v3.1h-3.5zM545.1 348.4h3.5v3.1h-3.5z" fill="#392a73"/><path d="M389.2 274.1h3.5v3.1h-3.5zM540.4 274.1h3.5v3.1h-3.5zM419.1 276.9h3.5v3.1h-3.5zM523.1 276.9h3.5v3.1h-3.5zM398.6 340.1h3.5v3.1h-3.5zM439.6 340.1h3.5v3.1h-3.5zM445.9 340.1h3.5v3.1h-3.5zM477.4 340.1h3.5v3.1h-3.5zM483.7 340.1h3.5v3.1h-3.5zM496.3 340.1h3.5v3.1h-3.5zM529.4 342.9h3.5v3.1h-3.5zM542.0 342.9h3.5v3.1h-3.5z" fill="#19d5cd"/><path d="M392.3 274.1h3.5v3.1h-3.5zM467.9 274.1h3.5v3.1h-3.5zM406.5 276.9h3.5v3.1h-3.5zM485.3 276.9h3.5v3.1h-3.5zM433.3 340.1h3.5v3.1h-3.5zM493.1 340.1h3.5v3.1h-3.5zM438.0 342.9h3.5v3.1h-3.5zM504.2 342.9h3.5v3.1h-3.5zM507.3 342.9h3.5v3.1h-3.5z" fill="#28bceb"/><path d="M395.5 274.1h3.5v3.1h-3.5zM474.2 274.1h3.5v3.1h-3.5zM483.7 274.1h3.5v3.1h-3.5zM512.0 274.1h3.5v3.1h-3.5zM488.4 276.9h3.5v3.1h-3.5zM472.7 342.9h3.5v3.1h-3.5zM475.8 342.9h3.5v3.1h-3.5zM510.5 342.9h3.5v3.1h-3.5zM392.3 345.6h3.5v3.1h-3.5zM458.5 345.6h3.5v3.1h-3.5z" fill="#4685fa"/><path d="M398.6 274.1h3.5v3.1h-3.5zM401.8 274.1h3.5v3.1h-3.5zM414.4 274.1h3.5v3.1h-3.5zM406.5 342.9h3.5v3.1h-3.5zM479.0 342.9h3.5v3.1h-3.5zM485.3 342.9h3.5v3.1h-3.5zM471.1 345.6h3.5v3.1h-3.5zM543.5 345.6h3.5v3.1h-3.5z" fill="#477bf2"/><path d="M404.9 274.1h3.5v3.1h-3.5zM411.2 274.1h3.5v3.1h-3.5zM490.0 274.1h3.5v3.1h-3.5zM409.7 342.9h3.5v3.1h-3.5zM389.2 345.6h3.5v3.1h-3.5zM404.9 345.6h3.5v3.1h-3.5zM455.3 345.6h3.5v3.1h-3.5zM531.0 345.6h3.5v3.1h-3.5zM546.7 345.6h3.5v3.1h-3.5z" fill="#4771e9"/><path d="M408.1 274.1h3.5v3.1h-3.5zM423.8 274.1h3.5v3.1h-3.5zM442.8 274.1h3.5v3.1h-3.5zM455.3 274.1h3.5v3.1h-3.5zM464.8 274.1h3.5v3.1h-3.5zM505.8 274.1h3.5v3.1h-3.5zM518.4 274.1h3.5v3.1h-3.5zM524.6 274.1h3.5v3.1h-3.5zM546.7 274.1h3.5v3.1h-3.5zM490.0 340.1h3.5v3.1h-3.5zM393.9 342.9h3.5v3.1h-3.5zM419.1 342.9h3.5v3.1h-3.5zM434.9 342.9h3.5v3.1h-3.5zM469.5 342.9h3.5v3.1h-3.5zM519.9 342.9h3.5v3.1h-3.5zM523.1 342.9h3.5v3.1h-3.5z" fill="#38a5fb"/><path d="M417.6 274.1h3.5v3.1h-3.5zM420.7 274.1h3.5v3.1h-3.5zM427.0 274.1h3.5v3.1h-3.5zM445.9 274.1h3.5v3.1h-3.5zM422.3 342.9h3.5v3.1h-3.5zM425.4 342.9h3.5v3.1h-3.5zM444.3 342.9h3.5v3.1h-3.5zM447.5 342.9h3.5v3.1h-3.5zM453.8 342.9h3.5v3.1h-3.5zM466.4 342.9h3.5v3.1h-3.5zM494.7 342.9h3.5v3.1h-3.5zM516.8 342.9h3.5v3.1h-3.5zM538.8 342.9h3.5v3.1h-3.5zM548.3 342.9h3.5v3.1h-3.5z" fill="#3e9bfe"/><path d="M452.2 274.1h3.5v3.1h-3.5zM461.6 274.1h3.5v3.1h-3.5zM534.1 274.1h3.5v3.1h-3.5zM543.5 274.1h3.5v3.1h-3.5zM393.9 276.9h3.5v3.1h-3.5zM400.2 276.9h3.5v3.1h-3.5zM475.8 276.9h3.5v3.1h-3.5zM442.8 340.1h3.5v3.1h-3.5zM474.2 340.1h3.5v3.1h-3.5zM527.8 340.1h3.5v3.1h-3.5zM545.1 342.9h3.5v3.1h-3.5z" fill="#18dec0"/><path d="M458.5 274.1h3.5v3.1h-3.5zM471.1 274.1h3.5v3.1h-3.5zM537.2 274.1h3.5v3.1h-3.5zM403.4 276.9h3.5v3.1h-3.5zM412.8 276.9h3.5v3.1h-3.5zM416.0 276.9h3.5v3.1h-3.5zM479.0 276.9h3.5v3.1h-3.5zM482.1 276.9h3.5v3.1h-3.5zM497.9 276.9h3.5v3.1h-3.5zM516.8 276.9h3.5v3.1h-3.5zM491.6 337.4h3.5v3.1h-3.5zM414.4 340.1h3.5v3.1h-3.5zM397.1 342.9h3.5v3.1h-3.5zM431.7 342.9h3.5v3.1h-3.5zM463.2 342.9h3.5v3.1h-3.5zM532.5 342.9h3.5v3.1h-3.5z" fill="#1ccdd8"/><path d="M480.5 274.1h3.5v3.1h-3.5zM521.5 274.1h3.5v3.1h-3.5zM482.1 342.9h3.5v3.1h-3.5zM488.4 342.9h3.5v3.1h-3.5zM491.6 342.9h3.5v3.1h-3.5zM395.5 345.6h3.5v3.1h-3.5zM427.0 345.6h3.5v3.1h-3.5zM502.6 345.6h3.5v3.1h-3.5zM524.6 345.6h3.5v3.1h-3.5z" fill="#4664da"/><path d="M515.2 274.1h3.5v3.1h-3.5zM531.0 274.1h3.5v3.1h-3.5zM409.7 276.9h3.5v3.1h-3.5zM494.7 276.9h3.5v3.1h-3.5zM404.9 340.1h3.5v3.1h-3.5zM408.1 340.1h3.5v3.1h-3.5zM390.8 342.9h3.5v3.1h-3.5zM497.9 342.9h3.5v3.1h-3.5z" fill="#22c5e2"/><path d="M387.6 276.9h3.5v3.1h-3.5zM538.8 276.9h3.5v3.1h-3.5zM420.7 279.6h3.5v3.1h-3.5zM423.8 279.6h3.5v3.1h-3.5zM427.0 279.6h3.5v3.1h-3.5zM436.4 279.6h3.5v3.1h-3.5zM477.4 279.6h3.5v3.1h-3.5zM480.5 279.6h3.5v3.1h-3.5zM496.3 279.6h3.5v3.1h-3.5zM508.9 279.6h3.5v3.1h-3.5zM524.6 279.6h3.5v3.1h-3.5zM534.1 279.6h3.5v3.1h-3.5zM496.3 334.6h3.5v3.1h-3.5zM422.3 337.4h3.5v3.1h-3.5zM434.9 337.4h3.5v3.1h-3.5zM510.5 337.4h3.5v3.1h-3.5zM516.8 337.4h3.5v3.1h-3.5zM526.2 337.4h3.5v3.1h-3.5zM532.5 337.4h3.5v3.1h-3.5zM461.6 340.1h3.5v3.1h-3.5z" fill="#79fe59"/><path d="M390.8 276.9h3.5v3.1h-3.5zM425.4 276.9h3.5v3.1h-3.5zM504.2 276.9h3.5v3.1h-3.5zM408.1 279.6h3.5v3.1h-3.5zM411.2 279.6h3.5v3.1h-3.5zM540.4 279.6h3.5v3.1h-3.5zM403.4 337.4h3.5v3.1h-3.5zM406.5 337.4h3.5v3.1h-3.5zM416.0 337.4h3.5v3.1h-3.5zM419.1 337.4h3.5v3.1h-3.5zM428.6 337.4h3.5v3.1h-3.5zM453.8 337.4h3.5v3.1h-3.5zM482.1 337.4h3.5v3.1h-3.5zM494.7 337.4h3.5v3.1h-3.5zM507.3 337.4h3.5v3.1h-3.5zM523.1 337.4h3.5v3.1h-3.5zM395.5 340.1h3.5v3.1h-3.5zM458.5 340.1h3.5v3.1h-3.5zM464.8 340.1h3.5v3.1h-3.5zM499.4 340.1h3.5v3.1h-3.5zM502.6 340.1h3.5v3.1h-3.5zM531.0 340.1h3.5v3.1h-3.5zM534.1 340.1h3.5v3.1h-3.5z" fill="#46f884"/><path d="M397.1 276.9h3.5v3.1h-3.5zM422.3 276.9h3.5v3.1h-3.5zM431.7 276.9h3.5v3.1h-3.5zM438.0 276.9h3.5v3.1h-3.5zM469.5 276.9h3.5v3.1h-3.5zM510.5 276.9h3.5v3.1h-3.5zM449.1 340.1h3.5v3.1h-3.5zM486.8 340.1h3.5v3.1h-3.5zM505.8 340.1h3.5v3.1h-3.5zM512.0 340.1h3.5v3.1h-3.5zM387.6 342.9h3.5v3.1h-3.5z" fill="#1ae4b6"/><path d="M428.6 276.9h3.5v3.1h-3.5zM472.7 276.9h3.5v3.1h-3.5zM501.0 276.9h3.5v3.1h-3.5zM526.2 276.9h3.5v3.1h-3.5zM532.5 276.9h3.5v3.1h-3.5zM542.0 276.9h3.5v3.1h-3.5zM389.2 340.1h3.5v3.1h-3.5zM401.8 340.1h3.5v3.1h-3.5zM452.2 340.1h3.5v3.1h-3.5zM467.9 340.1h3.5v3.1h-3.5zM508.9 340.1h3.5v3.1h-3.5zM518.4 340.1h3.5v3.1h-3.5zM521.5 340.1h3.5v3.1h-3.5zM540.4 340.1h3.5v3.1h-3.5zM460.1 342.9h3.5v3.1h-3.5z" fill="#20eaac"/><path d="M434.9 276.9h3.5v3.1h-3.5zM441.2 276.9h3.5v3.1h-3.5zM444.3 276.9h3.5v3.1h-3.5zM447.5 276.9h3.5v3.1h-3.5zM460.1 276.9h3.5v3.1h-3.5zM519.9 276.9h3.5v3.1h-3.5zM535.7 276.9h3.5v3.1h-3.5zM548.3 276.9h3.5v3.1h-3.5zM452.2 279.6h3.5v3.1h-3.5zM483.7 279.6h3.5v3.1h-3.5zM409.7 337.4h3.5v3.1h-3.5zM513.6 337.4h3.5v3.1h-3.5zM420.7 340.1h3.5v3.1h-3.5zM427.0 340.1h3.5v3.1h-3.5zM430.1 340.1h3.5v3.1h-3.5zM436.4 340.1h3.5v3.1h-3.5zM455.3 340.1h3.5v3.1h-3.5zM471.1 340.1h3.5v3.1h-3.5zM515.2 340.1h3.5v3.1h-3.5zM524.6 340.1h3.5v3.1h-3.5zM537.2 340.1h3.5v3.1h-3.5zM546.7 340.1h3.5v3.1h-3.5z" fill="#2aefa1"/><path d="M450.6 276.9h3.5v3.1h-3.5zM463.2 276.9h3.5v3.1h-3.5zM507.3 276.9h3.5v3.1h-3.5zM529.4 276.9h3.5v3.1h-3.5zM545.1 276.9h3.5v3.1h-3.5zM404.9 279.6h3.5v3.1h-3.5zM499.4 279.6h3.5v3.1h-3.5zM505.8 279.6h3.5v3.1h-3.5zM479.0 337.4h3.5v3.1h-3.5zM485.3 337.4h3.5v3.1h-3.5zM488.4 337.4h3.5v3.1h-3.5zM417.6 340.1h3.5v3.1h-3.5zM423.8 340.1h3.5v3.1h-3.5zM480.5 340.1h3.5v3.1h-3.5zM543.5 340.1h3.5v3.1h-3.5z" fill="#38f491"/><path d="M453.8 276.9h3.5v3.1h-3.5zM456.9 276.9h3.5v3.1h-3.5zM466.4 276.9h3.5v3.1h-3.5zM398.6 279.6h3.5v3.1h-3.5zM401.8 279.6h3.5v3.1h-3.5zM414.4 279.6h3.5v3.1h-3.5zM449.1 279.6h3.5v3.1h-3.5zM518.4 279.6h3.5v3.1h-3.5zM521.5 279.6h3.5v3.1h-3.5zM488.4 282.4h3.5v3.1h-3.5zM400.2 337.4h3.5v3.1h-3.5zM438.0 337.4h3.5v3.1h-3.5zM444.3 337.4h3.5v3.1h-3.5zM538.8 337.4h3.5v3.1h-3.5zM548.3 337.4h3.5v3.1h-3.5zM392.3 340.1h3.5v3.1h-3.5z" fill="#65fd69"/><path d="M389.2 279.6h3.5v3.1h-3.5zM395.5 279.6h3.5v3.1h-3.5zM417.6 279.6h3.5v3.1h-3.5zM458.5 279.6h3.5v3.1h-3.5zM474.2 279.6h3.5v3.1h-3.5zM537.2 279.6h3.5v3.1h-3.5zM409.7 282.4h3.5v3.1h-3.5zM438.0 282.4h3.5v3.1h-3.5zM444.3 282.4h3.5v3.1h-3.5zM450.6 282.4h3.5v3.1h-3.5zM482.1 282.4h3.5v3.1h-3.5zM548.3 282.4h3.5v3.1h-3.5zM401.8 334.6h3.5v3.1h-3.5zM436.4 334.6h3.5v3.1h-3.5zM474.2 334.6h3.5v3.1h-3.5zM493.1 334.6h3.5v3.1h-3.5zM502.6 334.6h3.5v3.1h-3.5zM518.4 334.6h3.5v3.1h-3.5zM524.6 334.6h3.5v3.1h-3.5zM393.9 337.4h3.5v3.1h-3.5zM535.7 337.4h3.5v3.1h-3.5z" fill="#affa37"/><path d="M392.3 279.6h3.5v3.1h-3.5zM433.3 279.6h3.5v3.1h-3.5zM464.8 279.6h3.5v3.1h-3.5zM531.0 279.6h3.5v3.1h-3.5zM543.5 279.6h3.5v3.1h-3.5zM406.5 282.4h3.5v3.1h-3.5zM412.8 282.4h3.5v3.1h-3.5zM431.7 282.4h3.5v3.1h-3.5zM447.5 282.4h3.5v3.1h-3.5zM472.7 282.4h3.5v3.1h-3.5zM475.8 282.4h3.5v3.1h-3.5zM497.9 282.4h3.5v3.1h-3.5zM526.2 282.4h3.5v3.1h-3.5zM408.1 334.6h3.5v3.1h-3.5zM423.8 334.6h3.5v3.1h-3.5zM480.5 334.6h3.5v3.1h-3.5zM486.8 334.6h3.5v3.1h-3.5zM387.6 337.4h3.5v3.1h-3.5zM456.9 337.4h3.5v3.1h-3.5zM542.0 337.4h3.5v3.1h-3.5zM545.1 337.4h3.5v3.1h-3.5z" fill="#a4fc3c"/><path d="M430.1 279.6h3.5v3.1h-3.5zM442.8 279.6h3.5v3.1h-3.5zM455.3 279.6h3.5v3.1h-3.5zM461.6 279.6h3.5v3.1h-3.5zM515.2 279.6h3.5v3.1h-3.5zM546.7 279.6h3.5v3.1h-3.5zM403.4 282.4h3.5v3.1h-3.5zM416.0 282.4h3.5v3.1h-3.5zM485.3 282.4h3.5v3.1h-3.5zM490.0 334.6h3.5v3.1h-3.5zM397.1 337.4h3.5v3.1h-3.5zM425.4 337.4h3.5v3.1h-3.5zM450.6 337.4h3.5v3.1h-3.5zM460.1 337.4h3.5v3.1h-3.5zM466.4 337.4h3.5v3.1h-3.5zM529.4 337.4h3.5v3.1h-3.5z" fill="#88ff4e"/><path d="M439.6 279.6h3.5v3.1h-3.5zM445.9 279.6h3.5v3.1h-3.5zM486.8 279.6h3.5v3.1h-3.5zM490.0 279.6h3.5v3.1h-3.5zM493.1 279.6h3.5v3.1h-3.5zM502.6 279.6h3.5v3.1h-3.5zM527.8 279.6h3.5v3.1h-3.5zM431.7 337.4h3.5v3.1h-3.5zM469.5 337.4h3.5v3.1h-3.5zM497.9 337.4h3.5v3.1h-3.5zM501.0 337.4h3.5v3.1h-3.5zM504.2 337.4h3.5v3.1h-3.5zM519.9 337.4h3.5v3.1h-3.5z" fill="#55fa76"/><path d="M467.9 279.6h3.5v3.1h-3.5zM512.0 279.6h3.5v3.1h-3.5zM422.3 282.4h3.5v3.1h-3.5zM513.6 282.4h3.5v3.1h-3.5zM420.7 334.6h3.5v3.1h-3.5zM445.9 334.6h3.5v3.1h-3.5zM477.4 334.6h3.5v3.1h-3.5zM390.8 337.4h3.5v3.1h-3.5zM412.8 337.4h3.5v3.1h-3.5zM441.2 337.4h3.5v3.1h-3.5zM447.5 337.4h3.5v3.1h-3.5zM475.8 337.4h3.5v3.1h-3.5z" fill="#96fe44"/><path d="M471.1 279.6h3.5v3.1h-3.5zM491.6 282.4h3.5v3.1h-3.5zM494.7 282.4h3.5v3.1h-3.5zM523.1 282.4h3.5v3.1h-3.5zM404.9 285.1h3.5v3.1h-3.5zM411.2 334.6h3.5v3.1h-3.5zM417.6 334.6h3.5v3.1h-3.5zM483.7 334.6h3.5v3.1h-3.5zM472.7 337.4h3.5v3.1h-3.5z" fill="#b9f635"/><path d="M387.6 282.4h3.5v3.1h-3.5zM441.2 282.4h3.5v3.1h-3.5zM469.5 282.4h3.5v3.1h-3.5zM504.2 282.4h3.5v3.1h-3.5zM507.3 282.4h3.5v3.1h-3.5zM510.5 282.4h3.5v3.1h-3.5zM516.8 282.4h3.5v3.1h-3.5zM436.4 285.1h3.5v3.1h-3.5zM483.7 285.1h3.5v3.1h-3.5zM499.4 285.1h3.5v3.1h-3.5zM412.8 331.9h3.5v3.1h-3.5zM441.2 331.9h3.5v3.1h-3.5zM398.6 334.6h3.5v3.1h-3.5zM442.8 334.6h3.5v3.1h-3.5zM461.6 334.6h3.5v3.1h-3.5zM512.0 334.6h3.5v3.1h-3.5z" fill="#e1dd37"/><path d="M390.8 282.4h3.5v3.1h-3.5zM425.4 282.4h3.5v3.1h-3.5zM434.9 282.4h3.5v3.1h-3.5zM456.9 282.4h3.5v3.1h-3.5zM466.4 282.4h3.5v3.1h-3.5zM535.7 282.4h3.5v3.1h-3.5zM542.0 282.4h3.5v3.1h-3.5zM414.4 285.1h3.5v3.1h-3.5zM417.6 285.1h3.5v3.1h-3.5zM445.9 285.1h3.5v3.1h-3.5zM490.0 285.1h3.5v3.1h-3.5zM482.1 331.9h3.5v3.1h-3.5zM449.1 334.6h3.5v3.1h-3.5zM471.1 334.6h3.5v3.1h-3.5zM508.9 334.6h3.5v3.1h-3.5zM527.8 334.6h3.5v3.1h-3.5zM531.0 334.6h3.5v3.1h-3.5z" fill="#d9e436"/><path d="M393.9 282.4h3.5v3.1h-3.5zM408.1 285.1h3.5v3.1h-3.5zM420.7 285.1h3.5v3.1h-3.5zM471.1 285.1h3.5v3.1h-3.5zM474.2 285.1h3.5v3.1h-3.5zM512.0 285.1h3.5v3.1h-3.5zM537.2 285.1h3.5v3.1h-3.5zM406.5 287.9h3.5v3.1h-3.5zM483.7 329.1h3.5v3.1h-3.5zM397.1 331.9h3.5v3.1h-3.5zM400.2 331.9h3.5v3.1h-3.5zM428.6 331.9h3.5v3.1h-3.5zM434.9 331.9h3.5v3.1h-3.5zM472.7 331.9h3.5v3.1h-3.5zM519.9 331.9h3.5v3.1h-3.5zM523.1 331.9h3.5v3.1h-3.5zM548.3 331.9h3.5v3.1h-3.5zM395.5 334.6h3.5v3.1h-3.5z" fill="#f6c33a"/><path d="M397.1 282.4h3.5v3.1h-3.5zM400.2 282.4h3.5v3.1h-3.5zM419.1 282.4h3.5v3.1h-3.5zM460.1 282.4h3.5v3.1h-3.5zM479.0 282.4h3.5v3.1h-3.5zM545.1 282.4h3.5v3.1h-3.5zM404.9 334.6h3.5v3.1h-3.5zM414.4 334.6h3.5v3.1h-3.5zM430.1 334.6h3.5v3.1h-3.5zM505.8 334.6h3.5v3.1h-3.5zM521.5 334.6h3.5v3.1h-3.5zM534.1 334.6h3.5v3.1h-3.5zM463.2 337.4h3.5v3.1h-3.5z" fill="#c3f134"/><path d="M428.6 282.4h3.5v3.1h-3.5zM453.8 282.4h3.5v3.1h-3.5zM463.2 282.4h3.5v3.1h-3.5zM519.9 282.4h3.5v3.1h-3.5zM486.8 285.1h3.5v3.1h-3.5zM493.1 285.1h3.5v3.1h-3.5zM518.4 285.1h3.5v3.1h-3.5zM527.8 285.1h3.5v3.1h-3.5zM431.7 331.9h3.5v3.1h-3.5zM450.6 331.9h3.5v3.1h-3.5zM488.4 331.9h3.5v3.1h-3.5zM389.2 334.6h3.5v3.1h-3.5zM427.0 334.6h3.5v3.1h-3.5zM455.3 334.6h3.5v3.1h-3.5zM537.2 334.6h3.5v3.1h-3.5z" fill="#e9d539"/><path d="M501.0 282.4h3.5v3.1h-3.5zM529.4 282.4h3.5v3.1h-3.5zM532.5 282.4h3.5v3.1h-3.5zM433.3 334.6h3.5v3.1h-3.5zM439.6 334.6h3.5v3.1h-3.5zM452.2 334.6h3.5v3.1h-3.5zM515.2 334.6h3.5v3.1h-3.5zM543.5 334.6h3.5v3.1h-3.5z" fill="#d0ea34"/><path d="M538.8 282.4h3.5v3.1h-3.5zM392.3 285.1h3.5v3.1h-3.5zM398.6 285.1h3.5v3.1h-3.5zM411.2 285.1h3.5v3.1h-3.5zM427.0 285.1h3.5v3.1h-3.5zM433.3 285.1h3.5v3.1h-3.5zM439.6 285.1h3.5v3.1h-3.5zM449.1 285.1h3.5v3.1h-3.5zM505.8 285.1h3.5v3.1h-3.5zM521.5 285.1h3.5v3.1h-3.5zM546.7 285.1h3.5v3.1h-3.5zM491.6 287.9h3.5v3.1h-3.5zM390.8 331.9h3.5v3.1h-3.5zM403.4 331.9h3.5v3.1h-3.5zM419.1 331.9h3.5v3.1h-3.5zM422.3 331.9h3.5v3.1h-3.5zM444.3 331.9h3.5v3.1h-3.5zM463.2 331.9h3.5v3.1h-3.5zM475.8 331.9h3.5v3.1h-3.5zM497.9 331.9h3.5v3.1h-3.5zM510.5 331.9h3.5v3.1h-3.5zM458.5 334.6h3.5v3.1h-3.5z" fill="#faba39"/><path d="M389.2 285.1h3.5v3.1h-3.5zM423.8 285.1h3.5v3.1h-3.5zM430.1 285.1h3.5v3.1h-3.5zM442.8 285.1h3.5v3.1h-3.5zM452.2 285.1h3.5v3.1h-3.5zM480.5 285.1h3.5v3.1h-3.5zM502.6 285.1h3.5v3.1h-3.5zM508.9 285.1h3.5v3.1h-3.5zM524.6 285.1h3.5v3.1h-3.5zM540.4 285.1h3.5v3.1h-3.5zM543.5 285.1h3.5v3.1h-3.5zM416.0 287.9h3.5v3.1h-3.5zM431.7 287.9h3.5v3.1h-3.5zM494.7 287.9h3.5v3.1h-3.5zM439.6 329.1h3.5v3.1h-3.5zM442.8 329.1h3.5v3.1h-3.5zM387.6 331.9h3.5v3.1h-3.5zM438.0 331.9h3.5v3.1h-3.5zM456.9 331.9h3.5v3.1h-3.5zM479.0 331.9h3.5v3.1h-3.5zM491.6 331.9h3.5v3.1h-3.5zM507.3 331.9h3.5v3.1h-3.5zM516.8 331.9h3.5v3.1h-3.5zM529.4 331.9h3.5v3.1h-3.5zM532.5 331.9h3.5v3.1h-3.5zM545.1 331.9h3.5v3.1h-3.5z" fill="#fcb136"/><path d="M395.5 285.1h3.5v3.1h-3.5zM455.3 285.1h3.5v3.1h-3.5zM458.5 285.1h3.5v3.1h-3.5zM467.9 285.1h3.5v3.1h-3.5zM496.3 285.1h3.5v3.1h-3.5zM531.0 285.1h3.5v3.1h-3.5zM534.1 285.1h3.5v3.1h-3.5zM400.2 287.9h3.5v3.1h-3.5zM403.4 287.9h3.5v3.1h-3.5zM409.7 287.9h3.5v3.1h-3.5zM419.1 287.9h3.5v3.1h-3.5zM428.6 287.9h3.5v3.1h-3.5zM488.4 287.9h3.5v3.1h-3.5zM474.2 329.1h3.5v3.1h-3.5zM480.5 329.1h3.5v3.1h-3.5zM425.4 331.9h3.5v3.1h-3.5zM466.4 331.9h3.5v3.1h-3.5zM485.3 331.9h3.5v3.1h-3.5zM501.0 331.9h3.5v3.1h-3.5zM526.2 331.9h3.5v3.1h-3.5zM535.7 331.9h3.5v3.1h-3.5zM538.8 331.9h3.5v3.1h-3.5z" fill="#fea431"/><path d="M401.8 285.1h3.5v3.1h-3.5zM477.4 285.1h3.5v3.1h-3.5zM515.2 285.1h3.5v3.1h-3.5zM406.5 331.9h3.5v3.1h-3.5zM416.0 331.9h3.5v3.1h-3.5zM447.5 331.9h3.5v3.1h-3.5zM494.7 331.9h3.5v3.1h-3.5zM392.3 334.6h3.5v3.1h-3.5zM464.8 334.6h3.5v3.1h-3.5zM467.9 334.6h3.5v3.1h-3.5zM499.4 334.6h3.5v3.1h-3.5zM540.4 334.6h3.5v3.1h-3.5zM546.7 334.6h3.5v3.1h-3.5z" fill="#f1cb3a"/><path d="M461.6 285.1h3.5v3.1h-3.5zM412.8 287.9h3.5v3.1h-3.5zM438.0 287.9h3.5v3.1h-3.5zM444.3 287.9h3.5v3.1h-3.5zM447.5 287.9h3.5v3.1h-3.5zM450.6 287.9h3.5v3.1h-3.5zM479.0 287.9h3.5v3.1h-3.5zM501.0 287.9h3.5v3.1h-3.5zM519.9 287.9h3.5v3.1h-3.5zM545.1 287.9h3.5v3.1h-3.5zM548.3 287.9h3.5v3.1h-3.5zM401.8 329.1h3.5v3.1h-3.5zM414.4 329.1h3.5v3.1h-3.5zM420.7 329.1h3.5v3.1h-3.5zM486.8 329.1h3.5v3.1h-3.5zM496.3 329.1h3.5v3.1h-3.5zM508.9 329.1h3.5v3.1h-3.5zM512.0 329.1h3.5v3.1h-3.5zM534.1 329.1h3.5v3.1h-3.5zM542.0 331.9h3.5v3.1h-3.5z" fill="#fd8d27"/><path d="M464.8 285.1h3.5v3.1h-3.5zM472.7 287.9h3.5v3.1h-3.5zM507.3 287.9h3.5v3.1h-3.5zM510.5 287.9h3.5v3.1h-3.5zM538.8 287.9h3.5v3.1h-3.5zM490.0 290.6h3.5v3.1h-3.5zM409.7 326.4h3.5v3.1h-3.5zM416.0 326.4h3.5v3.1h-3.5zM479.0 326.4h3.5v3.1h-3.5zM389.2 329.1h3.5v3.1h-3.5zM395.5 329.1h3.5v3.1h-3.5zM398.6 329.1h3.5v3.1h-3.5zM411.2 329.1h3.5v3.1h-3.5zM430.1 329.1h3.5v3.1h-3.5zM452.2 329.1h3.5v3.1h-3.5zM493.1 329.1h3.5v3.1h-3.5zM499.4 329.1h3.5v3.1h-3.5z" fill="#f8721c"/><path d="M387.6 287.9h3.5v3.1h-3.5zM393.9 287.9h3.5v3.1h-3.5zM397.1 287.9h3.5v3.1h-3.5zM469.5 287.9h3.5v3.1h-3.5zM513.6 287.9h3.5v3.1h-3.5zM523.1 287.9h3.5v3.1h-3.5zM532.5 287.9h3.5v3.1h-3.5zM398.6 290.6h3.5v3.1h-3.5zM483.7 290.6h3.5v3.1h-3.5zM406.5 326.4h3.5v3.1h-3.5zM425.4 326.4h3.5v3.1h-3.5zM501.0 326.4h3.5v3.1h-3.5zM505.8 329.1h3.5v3.1h-3.5zM521.5 329.1h3.5v3.1h-3.5zM540.4 329.1h3.5v3.1h-3.5zM543.5 329.1h3.5v3.1h-3.5z" fill="#f46617"/><path d="M390.8 287.9h3.5v3.1h-3.5zM434.9 287.9h3.5v3.1h-3.5zM466.4 287.9h3.5v3.1h-3.5zM529.4 287.9h3.5v3.1h-3.5zM535.7 287.9h3.5v3.1h-3.5zM401.8 290.6h3.5v3.1h-3.5zM408.1 290.6h3.5v3.1h-3.5zM414.4 290.6h3.5v3.1h-3.5zM423.8 290.6h3.5v3.1h-3.5zM480.5 290.6h3.5v3.1h-3.5zM540.4 290.6h3.5v3.1h-3.5zM486.8 323.6h3.5v3.1h-3.5zM428.6 326.4h3.5v3.1h-3.5zM431.7 326.4h3.5v3.1h-3.5zM434.9 326.4h3.5v3.1h-3.5zM438.0 326.4h3.5v3.1h-3.5zM453.8 326.4h3.5v3.1h-3.5zM485.3 326.4h3.5v3.1h-3.5zM436.4 329.1h3.5v3.1h-3.5zM455.3 329.1h3.5v3.1h-3.5zM458.5 329.1h3.5v3.1h-3.5zM471.1 329.1h3.5v3.1h-3.5zM531.0 329.1h3.5v3.1h-3.5zM537.2 329.1h3.5v3.1h-3.5z" fill="#f05b12"/><path d="M422.3 287.9h3.5v3.1h-3.5zM425.4 287.9h3.5v3.1h-3.5zM441.2 287.9h3.5v3.1h-3.5zM475.8 287.9h3.5v3.1h-3.5zM482.1 287.9h3.5v3.1h-3.5zM485.3 287.9h3.5v3.1h-3.5zM497.9 287.9h3.5v3.1h-3.5zM404.9 329.1h3.5v3.1h-3.5zM417.6 329.1h3.5v3.1h-3.5zM445.9 329.1h3.5v3.1h-3.5zM518.4 329.1h3.5v3.1h-3.5zM524.6 329.1h3.5v3.1h-3.5zM393.9 331.9h3.5v3.1h-3.5zM409.7 331.9h3.5v3.1h-3.5zM460.1 331.9h3.5v3.1h-3.5zM504.2 331.9h3.5v3.1h-3.5zM513.6 331.9h3.5v3.1h-3.5z" fill="#fe992c"/><path d="M453.8 287.9h3.5v3.1h-3.5zM395.5 290.6h3.5v3.1h-3.5zM420.7 290.6h3.5v3.1h-3.5zM427.0 290.6h3.5v3.1h-3.5zM433.3 290.6h3.5v3.1h-3.5zM439.6 290.6h3.5v3.1h-3.5zM471.1 290.6h3.5v3.1h-3.5zM477.4 290.6h3.5v3.1h-3.5zM493.1 290.6h3.5v3.1h-3.5zM496.3 290.6h3.5v3.1h-3.5zM499.4 290.6h3.5v3.1h-3.5zM502.6 290.6h3.5v3.1h-3.5zM508.9 290.6h3.5v3.1h-3.5zM512.0 290.6h3.5v3.1h-3.5zM518.4 290.6h3.5v3.1h-3.5zM521.5 290.6h3.5v3.1h-3.5zM411.2 323.6h3.5v3.1h-3.5zM400.2 326.4h3.5v3.1h-3.5zM412.8 326.4h3.5v3.1h-3.5zM441.2 326.4h3.5v3.1h-3.5zM444.3 326.4h3.5v3.1h-3.5zM491.6 326.4h3.5v3.1h-3.5zM497.9 326.4h3.5v3.1h-3.5zM510.5 326.4h3.5v3.1h-3.5zM519.9 326.4h3.5v3.1h-3.5zM532.5 326.4h3.5v3.1h-3.5zM545.1 326.4h3.5v3.1h-3.5zM548.3 326.4h3.5v3.1h-3.5zM433.3 329.1h3.5v3.1h-3.5zM461.6 329.1h3.5v3.1h-3.5zM464.8 329.1h3.5v3.1h-3.5zM467.9 329.1h3.5v3.1h-3.5zM527.8 329.1h3.5v3.1h-3.5z" fill="#ea4e0d"/><path d="M456.9 287.9h3.5v3.1h-3.5zM504.2 287.9h3.5v3.1h-3.5zM516.8 287.9h3.5v3.1h-3.5zM526.2 287.9h3.5v3.1h-3.5zM542.0 287.9h3.5v3.1h-3.5zM404.9 290.6h3.5v3.1h-3.5zM486.8 290.6h3.5v3.1h-3.5zM482.1 326.4h3.5v3.1h-3.5zM488.4 326.4h3.5v3.1h-3.5zM408.1 329.1h3.5v3.1h-3.5zM423.8 329.1h3.5v3.1h-3.5zM427.0 329.1h3.5v3.1h-3.5zM449.1 329.1h3.5v3.1h-3.5zM477.4 329.1h3.5v3.1h-3.5zM490.0 329.1h3.5v3.1h-3.5zM502.6 329.1h3.5v3.1h-3.5zM515.2 329.1h3.5v3.1h-3.5zM546.7 329.1h3.5v3.1h-3.5zM453.8 331.9h3.5v3.1h-3.5zM469.5 331.9h3.5v3.1h-3.5z" fill="#fb7e21"/><path d="M460.1 287.9h3.5v3.1h-3.5zM392.3 290.6h3.5v3.1h-3.5zM411.2 290.6h3.5v3.1h-3.5zM417.6 290.6h3.5v3.1h-3.5zM436.4 290.6h3.5v3.1h-3.5zM442.8 290.6h3.5v3.1h-3.5zM445.9 290.6h3.5v3.1h-3.5zM449.1 290.6h3.5v3.1h-3.5zM455.3 290.6h3.5v3.1h-3.5zM458.5 290.6h3.5v3.1h-3.5zM461.6 290.6h3.5v3.1h-3.5zM515.2 290.6h3.5v3.1h-3.5zM527.8 290.6h3.5v3.1h-3.5zM543.5 290.6h3.5v3.1h-3.5zM546.7 290.6h3.5v3.1h-3.5zM422.3 293.4h3.5v3.1h-3.5zM431.7 293.4h3.5v3.1h-3.5zM482.1 293.4h3.5v3.1h-3.5zM494.7 293.4h3.5v3.1h-3.5zM408.1 296.1h3.5v3.1h-3.5zM546.7 318.1h3.5v3.1h-3.5zM438.0 320.9h3.5v3.1h-3.5zM398.6 323.6h3.5v3.1h-3.5zM408.1 323.6h3.5v3.1h-3.5zM417.6 323.6h3.5v3.1h-3.5zM477.4 323.6h3.5v3.1h-3.5zM480.5 323.6h3.5v3.1h-3.5zM496.3 323.6h3.5v3.1h-3.5zM397.1 326.4h3.5v3.1h-3.5zM403.4 326.4h3.5v3.1h-3.5zM463.2 326.4h3.5v3.1h-3.5zM472.7 326.4h3.5v3.1h-3.5zM494.7 326.4h3.5v3.1h-3.5zM516.8 326.4h3.5v3.1h-3.5zM535.7 326.4h3.5v3.1h-3.5zM538.8 326.4h3.5v3.1h-3.5zM392.3 329.1h3.5v3.1h-3.5z" fill="#e4450a"/><path d="M463.2 287.9h3.5v3.1h-3.5zM430.1 290.6h3.5v3.1h-3.5zM452.2 290.6h3.5v3.1h-3.5zM464.8 290.6h3.5v3.1h-3.5zM467.9 290.6h3.5v3.1h-3.5zM409.7 293.4h3.5v3.1h-3.5zM416.0 293.4h3.5v3.1h-3.5zM447.5 293.4h3.5v3.1h-3.5zM488.4 293.4h3.5v3.1h-3.5zM491.6 293.4h3.5v3.1h-3.5zM497.9 293.4h3.5v3.1h-3.5zM523.1 293.4h3.5v3.1h-3.5zM538.8 293.4h3.5v3.1h-3.5zM389.2 296.1h3.5v3.1h-3.5zM401.8 296.1h3.5v3.1h-3.5zM439.6 296.1h3.5v3.1h-3.5zM521.5 296.1h3.5v3.1h-3.5zM387.6 298.9h3.5v3.1h-3.5zM393.9 298.9h3.5v3.1h-3.5zM390.8 304.4h3.5v3.1h-3.5zM397.1 309.9h3.5v3.1h-3.5zM387.6 315.4h3.5v3.1h-3.5zM393.9 315.4h3.5v3.1h-3.5zM479.0 315.4h3.5v3.1h-3.5zM494.7 315.4h3.5v3.1h-3.5zM548.3 315.4h3.5v3.1h-3.5zM449.1 318.1h3.5v3.1h-3.5zM531.0 318.1h3.5v3.1h-3.5zM543.5 318.1h3.5v3.1h-3.5zM387.6 320.9h3.5v3.1h-3.5zM400.2 320.9h3.5v3.1h-3.5zM463.2 320.9h3.5v3.1h-3.5zM475.8 320.9h3.5v3.1h-3.5zM482.1 320.9h3.5v3.1h-3.5zM504.2 320.9h3.5v3.1h-3.5zM395.5 323.6h3.5v3.1h-3.5zM401.8 323.6h3.5v3.1h-3.5zM414.4 323.6h3.5v3.1h-3.5zM436.4 323.6h3.5v3.1h-3.5zM464.8 323.6h3.5v3.1h-3.5zM483.7 323.6h3.5v3.1h-3.5zM490.0 323.6h3.5v3.1h-3.5zM493.1 323.6h3.5v3.1h-3.5zM502.6 323.6h3.5v3.1h-3.5zM524.6 323.6h3.5v3.1h-3.5zM527.8 323.6h3.5v3.1h-3.5zM531.0 323.6h3.5v3.1h-3.5zM390.8 326.4h3.5v3.1h-3.5zM393.9 326.4h3.5v3.1h-3.5zM419.1 326.4h3.5v3.1h-3.5zM422.3 326.4h3.5v3.1h-3.5zM447.5 326.4h3.5v3.1h-3.5zM450.6 326.4h3.5v3.1h-3.5zM456.9 326.4h3.5v3.1h-3.5zM460.1 326.4h3.5v3.1h-3.5zM475.8 326.4h3.5v3.1h-3.5zM507.3 326.4h3.5v3.1h-3.5zM526.2 326.4h3.5v3.1h-3.5z" fill="#dd3d08"/><path d="M389.2 290.6h3.5v3.1h-3.5zM531.0 290.6h3.5v3.1h-3.5zM537.2 290.6h3.5v3.1h-3.5zM387.6 293.4h3.5v3.1h-3.5zM390.8 293.4h3.5v3.1h-3.5zM403.4 293.4h3.5v3.1h-3.5zM428.6 293.4h3.5v3.1h-3.5zM434.9 293.4h3.5v3.1h-3.5zM438.0 293.4h3.5v3.1h-3.5zM444.3 293.4h3.5v3.1h-3.5zM460.1 293.4h3.5v3.1h-3.5zM479.0 293.4h3.5v3.1h-3.5zM485.3 293.4h3.5v3.1h-3.5zM501.0 293.4h3.5v3.1h-3.5zM504.2 293.4h3.5v3.1h-3.5zM510.5 293.4h3.5v3.1h-3.5zM535.7 293.4h3.5v3.1h-3.5zM395.5 296.1h3.5v3.1h-3.5zM427.0 296.1h3.5v3.1h-3.5zM433.3 296.1h3.5v3.1h-3.5zM436.4 296.1h3.5v3.1h-3.5zM445.9 296.1h3.5v3.1h-3.5zM452.2 296.1h3.5v3.1h-3.5zM464.8 296.1h3.5v3.1h-3.5zM474.2 296.1h3.5v3.1h-3.5zM480.5 296.1h3.5v3.1h-3.5zM496.3 296.1h3.5v3.1h-3.5zM499.4 296.1h3.5v3.1h-3.5zM502.6 296.1h3.5v3.1h-3.5zM508.9 296.1h3.5v3.1h-3.5zM515.2 296.1h3.5v3.1h-3.5zM527.8 296.1h3.5v3.1h-3.5zM534.1 296.1h3.5v3.1h-3.5zM540.4 296.1h3.5v3.1h-3.5zM397.1 298.9h3.5v3.1h-3.5zM400.2 298.9h3.5v3.1h-3.5zM412.8 298.9h3.5v3.1h-3.5zM419.1 298.9h3.5v3.1h-3.5zM422.3 298.9h3.5v3.1h-3.5zM428.6 298.9h3.5v3.1h-3.5zM450.6 298.9h3.5v3.1h-3.5zM466.4 298.9h3.5v3.1h-3.5zM475.8 298.9h3.5v3.1h-3.5zM513.6 298.9h3.5v3.1h-3.5zM523.1 298.9h3.5v3.1h-3.5zM395.5 301.6h3.5v3.1h-3.5zM404.9 301.6h3.5v3.1h-3.5zM408.1 301.6h3.5v3.1h-3.5zM540.4 301.6h3.5v3.1h-3.5zM543.5 301.6h3.5v3.1h-3.5zM393.9 304.4h3.5v3.1h-3.5zM403.4 304.4h3.5v3.1h-3.5zM406.5 304.4h3.5v3.1h-3.5zM469.5 304.4h3.5v3.1h-3.5zM479.0 304.4h3.5v3.1h-3.5zM548.3 304.4h3.5v3.1h-3.5zM401.8 307.1h3.5v3.1h-3.5zM486.8 307.1h3.5v3.1h-3.5zM490.0 307.1h3.5v3.1h-3.5zM499.4 307.1h3.5v3.1h-3.5zM406.5 309.9h3.5v3.1h-3.5zM469.5 309.9h3.5v3.1h-3.5zM491.6 309.9h3.5v3.1h-3.5zM542.0 309.9h3.5v3.1h-3.5zM389.2 312.6h3.5v3.1h-3.5zM395.5 312.6h3.5v3.1h-3.5zM411.2 312.6h3.5v3.1h-3.5zM439.6 312.6h3.5v3.1h-3.5zM483.7 312.6h3.5v3.1h-3.5zM490.0 312.6h3.5v3.1h-3.5zM537.2 312.6h3.5v3.1h-3.5zM390.8 315.4h3.5v3.1h-3.5zM397.1 315.4h3.5v3.1h-3.5zM444.3 315.4h3.5v3.1h-3.5zM456.9 315.4h3.5v3.1h-3.5zM460.1 315.4h3.5v3.1h-3.5zM463.2 315.4h3.5v3.1h-3.5zM466.4 315.4h3.5v3.1h-3.5zM472.7 315.4h3.5v3.1h-3.5zM482.1 315.4h3.5v3.1h-3.5zM497.9 315.4h3.5v3.1h-3.5zM513.6 315.4h3.5v3.1h-3.5zM535.7 315.4h3.5v3.1h-3.5zM538.8 315.4h3.5v3.1h-3.5zM398.6 318.1h3.5v3.1h-3.5zM420.7 318.1h3.5v3.1h-3.5zM439.6 318.1h3.5v3.1h-3.5zM442.8 318.1h3.5v3.1h-3.5zM455.3 318.1h3.5v3.1h-3.5zM467.9 318.1h3.5v3.1h-3.5zM471.1 318.1h3.5v3.1h-3.5zM486.8 318.1h3.5v3.1h-3.5zM496.3 318.1h3.5v3.1h-3.5zM499.4 318.1h3.5v3.1h-3.5zM505.8 318.1h3.5v3.1h-3.5zM515.2 318.1h3.5v3.1h-3.5zM537.2 318.1h3.5v3.1h-3.5zM403.4 320.9h3.5v3.1h-3.5zM428.6 320.9h3.5v3.1h-3.5zM441.2 320.9h3.5v3.1h-3.5zM444.3 320.9h3.5v3.1h-3.5zM450.6 320.9h3.5v3.1h-3.5zM456.9 320.9h3.5v3.1h-3.5zM466.4 320.9h3.5v3.1h-3.5zM488.4 320.9h3.5v3.1h-3.5zM507.3 320.9h3.5v3.1h-3.5zM510.5 320.9h3.5v3.1h-3.5zM532.5 320.9h3.5v3.1h-3.5zM538.8 320.9h3.5v3.1h-3.5zM545.1 320.9h3.5v3.1h-3.5zM548.3 320.9h3.5v3.1h-3.5zM389.2 323.6h3.5v3.1h-3.5zM427.0 323.6h3.5v3.1h-3.5zM430.1 323.6h3.5v3.1h-3.5zM433.3 323.6h3.5v3.1h-3.5zM439.6 323.6h3.5v3.1h-3.5zM455.3 323.6h3.5v3.1h-3.5zM461.6 323.6h3.5v3.1h-3.5zM467.9 323.6h3.5v3.1h-3.5zM499.4 323.6h3.5v3.1h-3.5zM508.9 323.6h3.5v3.1h-3.5zM512.0 323.6h3.5v3.1h-3.5zM543.5 323.6h3.5v3.1h-3.5zM387.6 326.4h3.5v3.1h-3.5zM469.5 326.4h3.5v3.1h-3.5z" fill="#cc2b04"/><path d="M474.2 290.6h3.5v3.1h-3.5zM505.8 290.6h3.5v3.1h-3.5zM524.6 290.6h3.5v3.1h-3.5zM534.1 290.6h3.5v3.1h-3.5zM397.1 293.4h3.5v3.1h-3.5zM400.2 293.4h3.5v3.1h-3.5zM406.5 293.4h3.5v3.1h-3.5zM412.8 293.4h3.5v3.1h-3.5zM419.1 293.4h3.5v3.1h-3.5zM425.4 293.4h3.5v3.1h-3.5zM441.2 293.4h3.5v3.1h-3.5zM450.6 293.4h3.5v3.1h-3.5zM453.8 293.4h3.5v3.1h-3.5zM456.9 293.4h3.5v3.1h-3.5zM466.4 293.4h3.5v3.1h-3.5zM469.5 293.4h3.5v3.1h-3.5zM475.8 293.4h3.5v3.1h-3.5zM507.3 293.4h3.5v3.1h-3.5zM513.6 293.4h3.5v3.1h-3.5zM519.9 293.4h3.5v3.1h-3.5zM526.2 293.4h3.5v3.1h-3.5zM532.5 293.4h3.5v3.1h-3.5zM548.3 293.4h3.5v3.1h-3.5zM392.3 296.1h3.5v3.1h-3.5zM404.9 296.1h3.5v3.1h-3.5zM423.8 296.1h3.5v3.1h-3.5zM455.3 296.1h3.5v3.1h-3.5zM486.8 296.1h3.5v3.1h-3.5zM512.0 296.1h3.5v3.1h-3.5zM518.4 296.1h3.5v3.1h-3.5zM543.5 296.1h3.5v3.1h-3.5zM390.8 298.9h3.5v3.1h-3.5zM403.4 298.9h3.5v3.1h-3.5zM416.0 298.9h3.5v3.1h-3.5zM425.4 298.9h3.5v3.1h-3.5zM431.7 298.9h3.5v3.1h-3.5zM434.9 298.9h3.5v3.1h-3.5zM438.0 298.9h3.5v3.1h-3.5zM441.2 298.9h3.5v3.1h-3.5zM447.5 298.9h3.5v3.1h-3.5zM479.0 298.9h3.5v3.1h-3.5zM491.6 298.9h3.5v3.1h-3.5zM504.2 298.9h3.5v3.1h-3.5zM389.2 301.6h3.5v3.1h-3.5zM411.2 301.6h3.5v3.1h-3.5zM414.4 301.6h3.5v3.1h-3.5zM482.1 304.4h3.5v3.1h-3.5zM488.4 304.4h3.5v3.1h-3.5zM494.7 304.4h3.5v3.1h-3.5zM395.5 307.1h3.5v3.1h-3.5zM422.3 309.9h3.5v3.1h-3.5zM479.0 309.9h3.5v3.1h-3.5zM452.2 312.6h3.5v3.1h-3.5zM467.9 312.6h3.5v3.1h-3.5zM546.7 312.6h3.5v3.1h-3.5zM400.2 315.4h3.5v3.1h-3.5zM409.7 315.4h3.5v3.1h-3.5zM475.8 315.4h3.5v3.1h-3.5zM404.9 318.1h3.5v3.1h-3.5zM436.4 318.1h3.5v3.1h-3.5zM464.8 318.1h3.5v3.1h-3.5zM483.7 318.1h3.5v3.1h-3.5zM490.0 318.1h3.5v3.1h-3.5zM512.0 318.1h3.5v3.1h-3.5zM518.4 318.1h3.5v3.1h-3.5zM521.5 318.1h3.5v3.1h-3.5zM390.8 320.9h3.5v3.1h-3.5zM397.1 320.9h3.5v3.1h-3.5zM412.8 320.9h3.5v3.1h-3.5zM416.0 320.9h3.5v3.1h-3.5zM425.4 320.9h3.5v3.1h-3.5zM469.5 320.9h3.5v3.1h-3.5zM479.0 320.9h3.5v3.1h-3.5zM485.3 320.9h3.5v3.1h-3.5zM494.7 320.9h3.5v3.1h-3.5zM497.9 320.9h3.5v3.1h-3.5zM501.0 320.9h3.5v3.1h-3.5zM516.8 320.9h3.5v3.1h-3.5zM519.9 320.9h3.5v3.1h-3.5zM526.2 320.9h3.5v3.1h-3.5zM529.4 320.9h3.5v3.1h-3.5zM392.3 323.6h3.5v3.1h-3.5zM404.9 323.6h3.5v3.1h-3.5zM423.8 323.6h3.5v3.1h-3.5zM442.8 323.6h3.5v3.1h-3.5zM449.1 323.6h3.5v3.1h-3.5zM452.2 323.6h3.5v3.1h-3.5zM458.5 323.6h3.5v3.1h-3.5zM471.1 323.6h3.5v3.1h-3.5zM505.8 323.6h3.5v3.1h-3.5zM518.4 323.6h3.5v3.1h-3.5zM521.5 323.6h3.5v3.1h-3.5zM534.1 323.6h3.5v3.1h-3.5zM540.4 323.6h3.5v3.1h-3.5zM466.4 326.4h3.5v3.1h-3.5zM504.2 326.4h3.5v3.1h-3.5zM513.6 326.4h3.5v3.1h-3.5zM523.1 326.4h3.5v3.1h-3.5zM529.4 326.4h3.5v3.1h-3.5zM542.0 326.4h3.5v3.1h-3.5z" fill="#d63506"/><path d="M393.9 293.4h3.5v3.1h-3.5zM463.2 293.4h3.5v3.1h-3.5zM472.7 293.4h3.5v3.1h-3.5zM516.8 293.4h3.5v3.1h-3.5zM529.4 293.4h3.5v3.1h-3.5zM542.0 293.4h3.5v3.1h-3.5zM545.1 293.4h3.5v3.1h-3.5zM398.6 296.1h3.5v3.1h-3.5zM411.2 296.1h3.5v3.1h-3.5zM414.4 296.1h3.5v3.1h-3.5zM417.6 296.1h3.5v3.1h-3.5zM430.1 296.1h3.5v3.1h-3.5zM442.8 296.1h3.5v3.1h-3.5zM449.1 296.1h3.5v3.1h-3.5zM461.6 296.1h3.5v3.1h-3.5zM471.1 296.1h3.5v3.1h-3.5zM483.7 296.1h3.5v3.1h-3.5zM493.1 296.1h3.5v3.1h-3.5zM505.8 296.1h3.5v3.1h-3.5zM531.0 296.1h3.5v3.1h-3.5zM537.2 296.1h3.5v3.1h-3.5zM546.7 296.1h3.5v3.1h-3.5zM406.5 298.9h3.5v3.1h-3.5zM453.8 298.9h3.5v3.1h-3.5zM488.4 298.9h3.5v3.1h-3.5zM494.7 298.9h3.5v3.1h-3.5zM507.3 298.9h3.5v3.1h-3.5zM510.5 298.9h3.5v3.1h-3.5zM519.9 298.9h3.5v3.1h-3.5zM526.2 298.9h3.5v3.1h-3.5zM529.4 298.9h3.5v3.1h-3.5zM545.1 298.9h3.5v3.1h-3.5zM548.3 298.9h3.5v3.1h-3.5zM392.3 301.6h3.5v3.1h-3.5zM401.8 301.6h3.5v3.1h-3.5zM417.6 301.6h3.5v3.1h-3.5zM449.1 301.6h3.5v3.1h-3.5zM455.3 301.6h3.5v3.1h-3.5zM486.8 301.6h3.5v3.1h-3.5zM493.1 301.6h3.5v3.1h-3.5zM496.3 301.6h3.5v3.1h-3.5zM502.6 301.6h3.5v3.1h-3.5zM505.8 301.6h3.5v3.1h-3.5zM508.9 301.6h3.5v3.1h-3.5zM521.5 301.6h3.5v3.1h-3.5zM534.1 301.6h3.5v3.1h-3.5zM400.2 304.4h3.5v3.1h-3.5zM409.7 304.4h3.5v3.1h-3.5zM425.4 304.4h3.5v3.1h-3.5zM431.7 304.4h3.5v3.1h-3.5zM438.0 304.4h3.5v3.1h-3.5zM453.8 304.4h3.5v3.1h-3.5zM472.7 304.4h3.5v3.1h-3.5zM485.3 304.4h3.5v3.1h-3.5zM513.6 304.4h3.5v3.1h-3.5zM532.5 304.4h3.5v3.1h-3.5zM538.8 304.4h3.5v3.1h-3.5zM545.1 304.4h3.5v3.1h-3.5zM389.2 307.1h3.5v3.1h-3.5zM392.3 307.1h3.5v3.1h-3.5zM398.6 307.1h3.5v3.1h-3.5zM417.6 307.1h3.5v3.1h-3.5zM433.3 307.1h3.5v3.1h-3.5zM471.1 307.1h3.5v3.1h-3.5zM483.7 307.1h3.5v3.1h-3.5zM540.4 307.1h3.5v3.1h-3.5zM387.6 309.9h3.5v3.1h-3.5zM390.8 309.9h3.5v3.1h-3.5zM393.9 309.9h3.5v3.1h-3.5zM416.0 309.9h3.5v3.1h-3.5zM482.1 309.9h3.5v3.1h-3.5zM501.0 309.9h3.5v3.1h-3.5zM516.8 309.9h3.5v3.1h-3.5zM529.4 309.9h3.5v3.1h-3.5zM392.3 312.6h3.5v3.1h-3.5zM401.8 312.6h3.5v3.1h-3.5zM417.6 312.6h3.5v3.1h-3.5zM445.9 312.6h3.5v3.1h-3.5zM449.1 312.6h3.5v3.1h-3.5zM461.6 312.6h3.5v3.1h-3.5zM471.1 312.6h3.5v3.1h-3.5zM480.5 312.6h3.5v3.1h-3.5zM499.4 312.6h3.5v3.1h-3.5zM508.9 312.6h3.5v3.1h-3.5zM512.0 312.6h3.5v3.1h-3.5zM518.4 312.6h3.5v3.1h-3.5zM531.0 312.6h3.5v3.1h-3.5zM540.4 312.6h3.5v3.1h-3.5zM403.4 315.4h3.5v3.1h-3.5zM406.5 315.4h3.5v3.1h-3.5zM416.0 315.4h3.5v3.1h-3.5zM431.7 315.4h3.5v3.1h-3.5zM434.9 315.4h3.5v3.1h-3.5zM438.0 315.4h3.5v3.1h-3.5zM485.3 315.4h3.5v3.1h-3.5zM488.4 315.4h3.5v3.1h-3.5zM491.6 315.4h3.5v3.1h-3.5zM504.2 315.4h3.5v3.1h-3.5zM519.9 315.4h3.5v3.1h-3.5zM526.2 315.4h3.5v3.1h-3.5zM529.4 315.4h3.5v3.1h-3.5zM532.5 315.4h3.5v3.1h-3.5zM542.0 315.4h3.5v3.1h-3.5zM545.1 315.4h3.5v3.1h-3.5zM389.2 318.1h3.5v3.1h-3.5zM392.3 318.1h3.5v3.1h-3.5zM401.8 318.1h3.5v3.1h-3.5zM408.1 318.1h3.5v3.1h-3.5zM411.2 318.1h3.5v3.1h-3.5zM417.6 318.1h3.5v3.1h-3.5zM423.8 318.1h3.5v3.1h-3.5zM433.3 318.1h3.5v3.1h-3.5zM445.9 318.1h3.5v3.1h-3.5zM452.2 318.1h3.5v3.1h-3.5zM458.5 318.1h3.5v3.1h-3.5zM461.6 318.1h3.5v3.1h-3.5zM477.4 318.1h3.5v3.1h-3.5zM480.5 318.1h3.5v3.1h-3.5zM493.1 318.1h3.5v3.1h-3.5zM502.6 318.1h3.5v3.1h-3.5zM508.9 318.1h3.5v3.1h-3.5zM524.6 318.1h3.5v3.1h-3.5zM527.8 318.1h3.5v3.1h-3.5zM534.1 318.1h3.5v3.1h-3.5zM393.9 320.9h3.5v3.1h-3.5zM406.5 320.9h3.5v3.1h-3.5zM409.7 320.9h3.5v3.1h-3.5zM419.1 320.9h3.5v3.1h-3.5zM431.7 320.9h3.5v3.1h-3.5zM434.9 320.9h3.5v3.1h-3.5zM447.5 320.9h3.5v3.1h-3.5zM453.8 320.9h3.5v3.1h-3.5zM460.1 320.9h3.5v3.1h-3.5zM542.0 320.9h3.5v3.1h-3.5zM420.7 323.6h3.5v3.1h-3.5zM445.9 323.6h3.5v3.1h-3.5zM515.2 323.6h3.5v3.1h-3.5zM537.2 323.6h3.5v3.1h-3.5zM546.7 323.6h3.5v3.1h-3.5z" fill="#c32503"/><path d="M420.7 296.1h3.5v3.1h-3.5zM458.5 296.1h3.5v3.1h-3.5zM477.4 296.1h3.5v3.1h-3.5zM490.0 296.1h3.5v3.1h-3.5zM524.6 296.1h3.5v3.1h-3.5zM409.7 298.9h3.5v3.1h-3.5zM444.3 298.9h3.5v3.1h-3.5zM456.9 298.9h3.5v3.1h-3.5zM472.7 298.9h3.5v3.1h-3.5zM482.1 298.9h3.5v3.1h-3.5zM485.3 298.9h3.5v3.1h-3.5zM501.0 298.9h3.5v3.1h-3.5zM516.8 298.9h3.5v3.1h-3.5zM535.7 298.9h3.5v3.1h-3.5zM538.8 298.9h3.5v3.1h-3.5zM542.0 298.9h3.5v3.1h-3.5zM398.6 301.6h3.5v3.1h-3.5zM420.7 301.6h3.5v3.1h-3.5zM423.8 301.6h3.5v3.1h-3.5zM427.0 301.6h3.5v3.1h-3.5zM442.8 301.6h3.5v3.1h-3.5zM452.2 301.6h3.5v3.1h-3.5zM467.9 301.6h3.5v3.1h-3.5zM471.1 301.6h3.5v3.1h-3.5zM474.2 301.6h3.5v3.1h-3.5zM480.5 301.6h3.5v3.1h-3.5zM483.7 301.6h3.5v3.1h-3.5zM490.0 301.6h3.5v3.1h-3.5zM499.4 301.6h3.5v3.1h-3.5zM518.4 301.6h3.5v3.1h-3.5zM524.6 301.6h3.5v3.1h-3.5zM527.8 301.6h3.5v3.1h-3.5zM537.2 301.6h3.5v3.1h-3.5zM387.6 304.4h3.5v3.1h-3.5zM412.8 304.4h3.5v3.1h-3.5zM416.0 304.4h3.5v3.1h-3.5zM422.3 304.4h3.5v3.1h-3.5zM441.2 304.4h3.5v3.1h-3.5zM447.5 304.4h3.5v3.1h-3.5zM497.9 304.4h3.5v3.1h-3.5zM501.0 304.4h3.5v3.1h-3.5zM504.2 304.4h3.5v3.1h-3.5zM510.5 304.4h3.5v3.1h-3.5zM411.2 307.1h3.5v3.1h-3.5zM423.8 307.1h3.5v3.1h-3.5zM427.0 307.1h3.5v3.1h-3.5zM436.4 307.1h3.5v3.1h-3.5zM439.6 307.1h3.5v3.1h-3.5zM445.9 307.1h3.5v3.1h-3.5zM449.1 307.1h3.5v3.1h-3.5zM458.5 307.1h3.5v3.1h-3.5zM474.2 307.1h3.5v3.1h-3.5zM493.1 307.1h3.5v3.1h-3.5zM502.6 307.1h3.5v3.1h-3.5zM505.8 307.1h3.5v3.1h-3.5zM534.1 307.1h3.5v3.1h-3.5zM537.2 307.1h3.5v3.1h-3.5zM403.4 309.9h3.5v3.1h-3.5zM444.3 309.9h3.5v3.1h-3.5zM447.5 309.9h3.5v3.1h-3.5zM460.1 309.9h3.5v3.1h-3.5zM472.7 309.9h3.5v3.1h-3.5zM485.3 309.9h3.5v3.1h-3.5zM488.4 309.9h3.5v3.1h-3.5zM510.5 309.9h3.5v3.1h-3.5zM513.6 309.9h3.5v3.1h-3.5zM519.9 309.9h3.5v3.1h-3.5zM523.1 309.9h3.5v3.1h-3.5zM526.2 309.9h3.5v3.1h-3.5zM535.7 309.9h3.5v3.1h-3.5zM545.1 309.9h3.5v3.1h-3.5zM548.3 309.9h3.5v3.1h-3.5zM408.1 312.6h3.5v3.1h-3.5zM423.8 312.6h3.5v3.1h-3.5zM427.0 312.6h3.5v3.1h-3.5zM436.4 312.6h3.5v3.1h-3.5zM442.8 312.6h3.5v3.1h-3.5zM458.5 312.6h3.5v3.1h-3.5zM464.8 312.6h3.5v3.1h-3.5zM477.4 312.6h3.5v3.1h-3.5zM486.8 312.6h3.5v3.1h-3.5zM493.1 312.6h3.5v3.1h-3.5zM502.6 312.6h3.5v3.1h-3.5zM515.2 312.6h3.5v3.1h-3.5zM534.1 312.6h3.5v3.1h-3.5zM543.5 312.6h3.5v3.1h-3.5zM412.8 315.4h3.5v3.1h-3.5zM419.1 315.4h3.5v3.1h-3.5zM428.6 315.4h3.5v3.1h-3.5zM450.6 315.4h3.5v3.1h-3.5zM469.5 315.4h3.5v3.1h-3.5zM507.3 315.4h3.5v3.1h-3.5zM510.5 315.4h3.5v3.1h-3.5zM395.5 318.1h3.5v3.1h-3.5zM414.4 318.1h3.5v3.1h-3.5zM430.1 318.1h3.5v3.1h-3.5zM474.2 318.1h3.5v3.1h-3.5zM422.3 320.9h3.5v3.1h-3.5zM472.7 320.9h3.5v3.1h-3.5zM491.6 320.9h3.5v3.1h-3.5zM513.6 320.9h3.5v3.1h-3.5zM523.1 320.9h3.5v3.1h-3.5zM535.7 320.9h3.5v3.1h-3.5zM474.2 323.6h3.5v3.1h-3.5z" fill="#b91e02"/><path d="M467.9 296.1h3.5v3.1h-3.5zM460.1 298.9h3.5v3.1h-3.5zM463.2 298.9h3.5v3.1h-3.5zM497.9 298.9h3.5v3.1h-3.5zM532.5 298.9h3.5v3.1h-3.5zM430.1 301.6h3.5v3.1h-3.5zM433.3 301.6h3.5v3.1h-3.5zM436.4 301.6h3.5v3.1h-3.5zM439.6 301.6h3.5v3.1h-3.5zM445.9 301.6h3.5v3.1h-3.5zM461.6 301.6h3.5v3.1h-3.5zM464.8 301.6h3.5v3.1h-3.5zM477.4 301.6h3.5v3.1h-3.5zM546.7 301.6h3.5v3.1h-3.5zM397.1 304.4h3.5v3.1h-3.5zM419.1 304.4h3.5v3.1h-3.5zM450.6 304.4h3.5v3.1h-3.5zM456.9 304.4h3.5v3.1h-3.5zM463.2 304.4h3.5v3.1h-3.5zM466.4 304.4h3.5v3.1h-3.5zM491.6 304.4h3.5v3.1h-3.5zM507.3 304.4h3.5v3.1h-3.5zM542.0 304.4h3.5v3.1h-3.5zM404.9 307.1h3.5v3.1h-3.5zM408.1 307.1h3.5v3.1h-3.5zM430.1 307.1h3.5v3.1h-3.5zM452.2 307.1h3.5v3.1h-3.5zM464.8 307.1h3.5v3.1h-3.5zM467.9 307.1h3.5v3.1h-3.5zM477.4 307.1h3.5v3.1h-3.5zM496.3 307.1h3.5v3.1h-3.5zM508.9 307.1h3.5v3.1h-3.5zM512.0 307.1h3.5v3.1h-3.5zM521.5 307.1h3.5v3.1h-3.5zM524.6 307.1h3.5v3.1h-3.5zM546.7 307.1h3.5v3.1h-3.5zM409.7 309.9h3.5v3.1h-3.5zM419.1 309.9h3.5v3.1h-3.5zM441.2 309.9h3.5v3.1h-3.5zM450.6 309.9h3.5v3.1h-3.5zM453.8 309.9h3.5v3.1h-3.5zM456.9 309.9h3.5v3.1h-3.5zM466.4 309.9h3.5v3.1h-3.5zM475.8 309.9h3.5v3.1h-3.5zM497.9 309.9h3.5v3.1h-3.5zM504.2 309.9h3.5v3.1h-3.5zM507.3 309.9h3.5v3.1h-3.5zM404.9 312.6h3.5v3.1h-3.5zM414.4 312.6h3.5v3.1h-3.5zM433.3 312.6h3.5v3.1h-3.5zM496.3 312.6h3.5v3.1h-3.5zM505.8 312.6h3.5v3.1h-3.5zM521.5 312.6h3.5v3.1h-3.5zM524.6 312.6h3.5v3.1h-3.5zM527.8 312.6h3.5v3.1h-3.5zM422.3 315.4h3.5v3.1h-3.5zM425.4 315.4h3.5v3.1h-3.5zM441.2 315.4h3.5v3.1h-3.5zM453.8 315.4h3.5v3.1h-3.5zM516.8 315.4h3.5v3.1h-3.5zM523.1 315.4h3.5v3.1h-3.5z" fill="#af1801"/><path d="M469.5 298.9h3.5v3.1h-3.5zM458.5 301.6h3.5v3.1h-3.5zM512.0 301.6h3.5v3.1h-3.5zM515.2 301.6h3.5v3.1h-3.5zM531.0 301.6h3.5v3.1h-3.5zM434.9 304.4h3.5v3.1h-3.5zM460.1 304.4h3.5v3.1h-3.5zM475.8 304.4h3.5v3.1h-3.5zM516.8 304.4h3.5v3.1h-3.5zM519.9 304.4h3.5v3.1h-3.5zM526.2 304.4h3.5v3.1h-3.5zM535.7 304.4h3.5v3.1h-3.5zM414.4 307.1h3.5v3.1h-3.5zM420.7 307.1h3.5v3.1h-3.5zM442.8 307.1h3.5v3.1h-3.5zM461.6 307.1h3.5v3.1h-3.5zM518.4 307.1h3.5v3.1h-3.5zM527.8 307.1h3.5v3.1h-3.5zM531.0 307.1h3.5v3.1h-3.5zM543.5 307.1h3.5v3.1h-3.5zM400.2 309.9h3.5v3.1h-3.5zM412.8 309.9h3.5v3.1h-3.5zM428.6 309.9h3.5v3.1h-3.5zM431.7 309.9h3.5v3.1h-3.5zM434.9 309.9h3.5v3.1h-3.5zM438.0 309.9h3.5v3.1h-3.5zM463.2 309.9h3.5v3.1h-3.5zM494.7 309.9h3.5v3.1h-3.5zM532.5 309.9h3.5v3.1h-3.5zM538.8 309.9h3.5v3.1h-3.5zM398.6 312.6h3.5v3.1h-3.5zM420.7 312.6h3.5v3.1h-3.5zM430.1 312.6h3.5v3.1h-3.5zM455.3 312.6h3.5v3.1h-3.5zM474.2 312.6h3.5v3.1h-3.5zM447.5 315.4h3.5v3.1h-3.5zM501.0 315.4h3.5v3.1h-3.5zM427.0 318.1h3.5v3.1h-3.5zM540.4 318.1h3.5v3.1h-3.5z" fill="#a11201"/><path d="M428.6 304.4h3.5v3.1h-3.5zM444.3 304.4h3.5v3.1h-3.5zM523.1 304.4h3.5v3.1h-3.5zM455.3 307.1h3.5v3.1h-3.5zM515.2 307.1h3.5v3.1h-3.5z" fill="#950d01"/><path d="M529.4 304.4h3.5v3.1h-3.5zM480.5 307.1h3.5v3.1h-3.5zM425.4 309.9h3.5v3.1h-3.5z" fill="#880802"/><path d="M403.4 342.9h3.5v3.1h-3.5zM412.8 342.9h3.5v3.1h-3.5zM433.3 345.6h3.5v3.1h-3.5zM445.9 345.6h3.5v3.1h-3.5zM449.1 345.6h3.5v3.1h-3.5zM508.9 345.6h3.5v3.1h-3.5zM515.2 345.6h3.5v3.1h-3.5z" fill="#4559cb"/><path d="M411.2 345.6h3.5v3.1h-3.5zM414.4 345.6h3.5v3.1h-3.5zM430.1 345.6h3.5v3.1h-3.5zM493.1 345.6h3.5v3.1h-3.5zM512.0 345.6h3.5v3.1h-3.5zM518.4 345.6h3.5v3.1h-3.5z" fill="#4143a7"/><path d="M483.7 345.6h3.5v3.1h-3.5zM486.8 345.6h3.5v3.1h-3.5zM521.5 345.6h3.5v3.1h-3.5z" fill="#3d358b"/></g></g>
<rect x="389.2" y="268.6" width="159.50000000000006" height="79.89999999999998" fill="none" stroke="#444" stroke-width="0.6"/>
<g font-family="'DejaVu Sans', sans-serif" font-size="4.8" fill="#333">
<line x1="387.2" y1="268.6" x2="389.2" y2="268.6" stroke="#444" stroke-width="0.5"/>
<text x="386.2" y="270.3" text-anchor="end">π/2</text>
<line x1="387.2" y1="288.6" x2="389.2" y2="288.6" stroke="#444" stroke-width="0.5"/>
<text x="386.2" y="290.3" text-anchor="end">π/4</text>
<line x1="387.2" y1="308.6" x2="389.2" y2="308.6" stroke="#444" stroke-width="0.5"/>
<text x="386.2" y="310.2" text-anchor="end">0</text>
<line x1="387.2" y1="328.5" x2="389.2" y2="328.5" stroke="#444" stroke-width="0.5"/>
<text x="386.2" y="330.2" text-anchor="end">−π/4</text>
<line x1="387.2" y1="348.5" x2="389.2" y2="348.5" stroke="#444" stroke-width="0.5"/>
<text x="386.2" y="350.2" text-anchor="end">−π/2</text>
<line x1="389.2" y1="348.5" x2="389.2" y2="350.5" stroke="#444" stroke-width="0.5"/>
<text x="389.2" y="356.3" text-anchor="middle">−π</text>
<line x1="409.1" y1="348.5" x2="409.1" y2="350.5" stroke="#444" stroke-width="0.5"/>
<text x="409.1" y="356.3" text-anchor="middle">−3π/4</text>
<line x1="429.1" y1="348.5" x2="429.1" y2="350.5" stroke="#444" stroke-width="0.5"/>
<text x="429.1" y="356.3" text-anchor="middle">−π/2</text>
<line x1="449.0" y1="348.5" x2="449.0" y2="350.5" stroke="#444" stroke-width="0.5"/>
<text x="449.0" y="356.3" text-anchor="middle">−π/4</text>
<line x1="469.0" y1="348.5" x2="469.0" y2="350.5" stroke="#444" stroke-width="0.5"/>
<text x="469.0" y="356.3" text-anchor="middle">0</text>
<line x1="488.9" y1="348.5" x2="488.9" y2="350.5" stroke="#444" stroke-width="0.5"/>
<text x="488.9" y="356.3" text-anchor="middle">π/4</text>
<line x1="508.8" y1="348.5" x2="508.8" y2="350.5" stroke="#444" stroke-width="0.5"/>
<text x="508.8" y="356.3" text-anchor="middle">π/2</text>
<line x1="528.8" y1="348.5" x2="528.8" y2="350.5" stroke="#444" stroke-width="0.5"/>
<text x="528.8" y="356.3" text-anchor="middle">3π/4</text>
<line x1="548.7" y1="348.5" x2="548.7" y2="350.5" stroke="#444" stroke-width="0.5"/>
<text x="548.7" y="356.3" text-anchor="middle">π</text>
<text x="469.0" y="363.0" text-anchor="middle" font-size="5">Azimuth</text>
<text transform="translate(370,308.6) rotate(-90)" text-anchor="middle" font-size="5">Elevation</text>
<defs><linearGradient id="cb389" x1="0" y1="0" x2="0" y2="1"><stop offset="0.0" stop-color="#321543"/><stop offset="0.1" stop-color="#c32503"/><stop offset="0.2" stop-color="#f05b12"/><stop offset="0.3" stop-color="#fea431"/><stop offset="0.4" stop-color="#e1dd37"/><stop offset="0.5" stop-color="#a4fc3c"/><stop offset="0.6" stop-color="#46f884"/><stop offset="0.7" stop-color="#19d5cd"/><stop offset="0.8" stop-color="#3e9bfe"/><stop offset="0.9" stop-color="#4559cb"/><stop offset="1.0" stop-color="#30123b"/></linearGradient></defs>
<rect x="558.3" y="266.1" width="4.4" height="84.09999999999997" fill="url(#cb389)" stroke="#444" stroke-width="0.4"/>
<line x1="562.6999999999999" y1="282.8" x2="564.3" y2="282.8" stroke="#444" stroke-width="0.4"/>
<text x="564.8" y="284.5">10<tspan font-size="3.2" dy="-1.8">2</tspan></text>
<line x1="562.6999999999999" y1="317" x2="564.3" y2="317" stroke="#444" stroke-width="0.4"/>
<text x="564.8" y="318.7">10<tspan font-size="3.2" dy="-1.8">1</tspan></text>
<line x1="562.6999999999999" y1="350.2" x2="564.3" y2="350.2" stroke="#444" stroke-width="0.4"/>
<text x="564.8" y="351.9">10<tspan font-size="3.2" dy="-1.8">0</tspan></text>
<text transform="translate(579.5,308.1) rotate(-90)" text-anchor="middle" font-size="5">#&#160;of&#160;images</text>
</g>
<defs>
<filter id="hairy" x="-10%" y="-10%" width="120%" height="120%">
 <feTurbulence type="fractalNoise" baseFrequency="0.6" numOctaves="1" seed="4" result="n"/>
 <feDisplacementMap in="SourceGraphic" in2="n" scale="4" xChannelSelector="R" yChannelSelector="G"/>
</filter>
<radialGradient id="sphg" cx="0.5" cy="0.45" r="0.55">
 <stop offset="0" stop-color="#3420e0"/>
 <stop offset="0.65" stop-color="#2a10d2"/>
 <stop offset="1" stop-color="#1e08a8"/>
</radialGradient>
<filter id="sblur" x="-20%" y="-20%" width="140%" height="140%"><feGaussianBlur stdDeviation="0.35"/></filter>
<filter id="sblur2" x="-50%" y="-50%" width="200%" height="200%"><feGaussianBlur stdDeviation="3"/></filter>
</defs>
<defs><clipPath id="scb"><path d="M133.0,368.5 C138.3,368.5 145.1,369.2 150.0,370.5 C154.9,371.8 158.8,374.2 162.5,376.5 C166.2,378.8 169.8,381.6 172.5,384.5 C175.2,387.4 176.9,389.5 178.5,394.0 C180.1,398.5 182.0,406.9 182.0,411.6 C182.0,416.3 180.1,418.9 178.5,422.0 C176.9,425.1 175.9,427.4 172.5,430.5 C169.1,433.6 164.6,438.2 158.0,440.5 C151.4,442.8 140.3,444.3 133.1,444.3 C125.9,444.3 119.8,442.3 115.0,440.5 C110.2,438.7 107.6,436.2 104.0,433.5 C100.4,430.8 96.0,427.4 93.5,424.0 C91.0,420.6 90.4,416.7 89.3,413.1 C88.2,409.6 86.5,406.6 87.0,402.7 C87.5,398.8 88.8,393.9 92.0,389.5 C95.2,385.1 102.2,379.7 106.5,376.5 C110.8,373.3 113.6,371.8 118.0,370.5 C122.4,369.2 127.7,368.5 133.0,368.5Z"/></clipPath></defs>
<g filter="url(#hairy)"><path d="M133.0,368.5 C138.3,368.5 145.1,369.2 150.0,370.5 C154.9,371.8 158.8,374.2 162.5,376.5 C166.2,378.8 169.8,381.6 172.5,384.5 C175.2,387.4 176.9,389.5 178.5,394.0 C180.1,398.5 182.0,406.9 182.0,411.6 C182.0,416.3 180.1,418.9 178.5,422.0 C176.9,425.1 175.9,427.4 172.5,430.5 C169.1,433.6 164.6,438.2 158.0,440.5 C151.4,442.8 140.3,444.3 133.1,444.3 C125.9,444.3 119.8,442.3 115.0,440.5 C110.2,438.7 107.6,436.2 104.0,433.5 C100.4,430.8 96.0,427.4 93.5,424.0 C91.0,420.6 90.4,416.7 89.3,413.1 C88.2,409.6 86.5,406.6 87.0,402.7 C87.5,398.8 88.8,393.9 92.0,389.5 C95.2,385.1 102.2,379.7 106.5,376.5 C110.8,373.3 113.6,371.8 118.0,370.5 C122.4,369.2 127.7,368.5 133.0,368.5Z" fill="url(#sphg)"/></g>
<g clip-path="url(#scb)"><path d="M133.0,368.5 C138.3,368.5 145.1,369.2 150.0,370.5 C154.9,371.8 158.8,374.2 162.5,376.5 C166.2,378.8 169.8,381.6 172.5,384.5 C175.2,387.4 176.9,389.5 178.5,394.0 C180.1,398.5 182.0,406.9 182.0,411.6 C182.0,416.3 180.1,418.9 178.5,422.0 C176.9,425.1 175.9,427.4 172.5,430.5 C169.1,433.6 164.6,438.2 158.0,440.5 C151.4,442.8 140.3,444.3 133.1,444.3 C125.9,444.3 119.8,442.3 115.0,440.5 C110.2,438.7 107.6,436.2 104.0,433.5 C100.4,430.8 96.0,427.4 93.5,424.0 C91.0,420.6 90.4,416.7 89.3,413.1 C88.2,409.6 86.5,406.6 87.0,402.7 C87.5,398.8 88.8,393.9 92.0,389.5 C95.2,385.1 102.2,379.7 106.5,376.5 C110.8,373.3 113.6,371.8 118.0,370.5 C122.4,369.2 127.7,368.5 133.0,368.5Z" fill="none" stroke="#180a90" stroke-width="5" opacity="0.55" filter="url(#sblur2)"/><g filter="url(#sblur2)"><ellipse cx="93" cy="410" rx="10" ry="22" fill="#5a0c5a" opacity="0.9"/><ellipse cx="134" cy="432" rx="13" ry="10" fill="#6a1040" opacity="0.85"/><ellipse cx="110" cy="436" rx="12" ry="6" fill="#4a0c60" opacity="0.7"/><ellipse cx="177" cy="420" rx="7" ry="14" fill="#3a0a90" opacity="0.55"/><ellipse cx="130" cy="376" rx="30" ry="6" fill="#3a2ae8" opacity="0.6"/></g>
<g filter="url(#sblur)"><path d="M161.8,378.3Q167.3,369.8 164.4,369.7M163.2,379.7Q171.7,374.2 171.8,377.1" stroke="#7a70ff" stroke-width="0.8" stroke-opacity="0.04" fill="none" stroke-linecap="round"/><path d="M159.9,380.2Q163.1,370.3 158.5,368.3M161.3,381.6Q171.2,378.4 173.2,383.0" stroke="#7a70ff" stroke-width="0.8" stroke-opacity="0.06" fill="none" stroke-linecap="round"/><path d="M158.1,382.0Q159.1,370.9 152.8,367.1M159.5,383.4Q170.6,382.4 174.4,388.7" stroke="#7a70ff" stroke-width="0.8" stroke-opacity="0.09" fill="none" stroke-linecap="round"/><path d="M156.2,383.9Q155.1,371.6 147.3,366.0M157.6,385.3Q169.9,386.4 175.5,394.2" stroke="#7a70ff" stroke-width="0.8" stroke-opacity="0.11" fill="none" stroke-linecap="round"/><path d="M154.3,385.8Q151.2,372.4 141.9,365.1M155.7,387.2Q169.1,390.3 176.4,399.6" stroke="#7a70ff" stroke-width="0.8" stroke-opacity="0.14" fill="none" stroke-linecap="round"/><path d="M152.5,387.6Q147.4,373.2 136.7,364.4M153.9,389.0Q168.3,394.1 177.1,404.8" stroke="#7a70ff" stroke-width="0.8" stroke-opacity="0.17" fill="none" stroke-linecap="round"/><path d="M150.6,389.5Q143.7,374.2 131.7,363.9M152.0,390.9Q167.3,397.8 177.6,409.8" stroke="#7a70ff" stroke-width="0.8" stroke-opacity="0.19" fill="none" stroke-linecap="round"/><path d="M148.7,391.4Q140.0,375.2 126.8,363.5M150.1,392.8Q166.3,401.5 178.0,414.7" stroke="#7a70ff" stroke-width="0.8" stroke-opacity="0.22" fill="none" stroke-linecap="round"/><path d="M146.9,393.2Q136.5,376.3 122.2,363.3M148.3,394.6Q165.2,405.0 178.2,419.3" stroke="#7a70ff" stroke-width="0.8" stroke-opacity="0.24" fill="none" stroke-linecap="round"/><path d="M145.0,395.1Q133.0,377.5 117.7,363.3M146.4,396.5Q164.0,408.5 178.2,423.8" stroke="#7a70ff" stroke-width="0.8" stroke-opacity="0.27" fill="none" stroke-linecap="round"/><path d="M143.1,397.0Q129.7,378.9 113.5,363.6M144.5,398.4Q162.6,411.8 177.9,428.0" stroke="#7a70ff" stroke-width="0.8" stroke-opacity="0.29" fill="none" stroke-linecap="round"/><path d="M141.3,398.8Q126.5,380.3 109.4,364.0M142.7,400.2Q161.2,415.0 177.5,432.1" stroke="#7a70ff" stroke-width="0.8" stroke-opacity="0.32" fill="none" stroke-linecap="round"/><path d="M139.4,400.7Q123.4,381.9 105.7,364.7M140.8,402.1Q159.6,418.1 176.8,435.8" stroke="#7a70ff" stroke-width="0.8" stroke-opacity="0.34" fill="none" stroke-linecap="round"/><path d="M137.5,402.6Q120.4,383.6 102.2,365.7M138.9,404.0Q157.9,421.1 175.8,439.3" stroke="#7a70ff" stroke-width="0.8" stroke-opacity="0.37" fill="none" stroke-linecap="round"/><path d="M135.7,404.4Q117.6,385.4 99.0,367.0M137.1,405.8Q156.1,423.9 174.5,442.5" stroke="#7a70ff" stroke-width="0.8" stroke-opacity="0.39" fill="none" stroke-linecap="round"/><path d="M133.8,406.3Q115.1,387.6 96.3,368.8M135.2,407.7Q153.9,426.4 172.7,445.2" stroke="#7a70ff" stroke-width="0.8" stroke-opacity="0.42" fill="none" stroke-linecap="round"/><path d="M131.9,408.2Q112.9,390.1 94.5,371.5M133.3,409.6Q151.4,428.6 170.0,447.0" stroke="#7a70ff" stroke-width="0.8" stroke-opacity="0.39" fill="none" stroke-linecap="round"/><path d="M130.1,410.0Q111.1,392.9 93.2,374.7M131.5,411.4Q148.6,430.4 166.8,448.3" stroke="#7a70ff" stroke-width="0.8" stroke-opacity="0.37" fill="none" stroke-linecap="round"/><path d="M128.2,411.9Q109.4,395.9 92.2,378.2M129.6,413.3Q145.6,432.1 163.3,449.3" stroke="#7a70ff" stroke-width="0.8" stroke-opacity="0.34" fill="none" stroke-linecap="round"/><path d="M126.3,413.8Q107.8,399.0 91.5,381.9M127.7,415.2Q142.5,433.7 159.6,450.0" stroke="#7a70ff" stroke-width="0.8" stroke-opacity="0.32" fill="none" stroke-linecap="round"/><path d="M124.5,415.6Q106.4,402.2 91.1,386.0M125.9,417.0Q139.3,435.1 155.5,450.4" stroke="#7a70ff" stroke-width="0.8" stroke-opacity="0.29" fill="none" stroke-linecap="round"/><path d="M122.6,417.5Q105.0,405.5 90.8,390.2M124.0,418.9Q136.0,436.5 151.3,450.7" stroke="#7a70ff" stroke-width="0.8" stroke-opacity="0.27" fill="none" stroke-linecap="round"/><path d="M120.7,419.4Q103.8,409.0 90.8,394.7M122.1,420.8Q132.5,437.7 146.8,450.7" stroke="#7a70ff" stroke-width="0.8" stroke-opacity="0.24" fill="none" stroke-linecap="round"/><path d="M118.9,421.2Q102.7,412.5 91.0,399.3M120.3,422.6Q129.0,438.8 142.2,450.5" stroke="#7a70ff" stroke-width="0.8" stroke-opacity="0.22" fill="none" stroke-linecap="round"/><path d="M117.0,423.1Q101.7,416.2 91.4,404.2M118.4,424.5Q125.3,439.8 137.3,450.1" stroke="#7a70ff" stroke-width="0.8" stroke-opacity="0.19" fill="none" stroke-linecap="round"/><path d="M115.1,425.0Q100.7,419.9 91.9,409.2M116.5,426.4Q121.6,440.8 132.3,449.6" stroke="#7a70ff" stroke-width="0.8" stroke-opacity="0.17" fill="none" stroke-linecap="round"/><path d="M113.3,426.8Q99.9,423.7 92.6,414.4M114.7,428.2Q117.8,441.6 127.1,448.9" stroke="#7a70ff" stroke-width="0.8" stroke-opacity="0.14" fill="none" stroke-linecap="round"/><path d="M111.4,428.7Q99.1,427.6 93.5,419.8M112.8,430.1Q113.9,442.4 121.7,448.0" stroke="#7a70ff" stroke-width="0.8" stroke-opacity="0.11" fill="none" stroke-linecap="round"/><path d="M109.5,430.6Q98.4,431.6 94.6,425.3M110.9,432.0Q109.9,443.1 116.2,446.9" stroke="#7a70ff" stroke-width="0.8" stroke-opacity="0.09" fill="none" stroke-linecap="round"/><path d="M107.7,432.4Q97.8,435.6 95.8,431.0M109.1,433.8Q105.9,443.7 110.5,445.7" stroke="#7a70ff" stroke-width="0.8" stroke-opacity="0.06" fill="none" stroke-linecap="round"/><path d="M105.8,434.3Q97.3,439.8 97.2,436.9M107.2,435.7Q101.7,444.2 104.6,444.3" stroke="#7a70ff" stroke-width="0.8" stroke-opacity="0.04" fill="none" stroke-linecap="round"/><path d="M105.8,379.7Q97.3,374.2 97.2,377.1M107.2,378.3Q101.7,369.8 104.6,369.7" stroke="#7a70ff" stroke-width="0.8" stroke-opacity="0.04" fill="none" stroke-linecap="round"/><path d="M107.7,381.6Q97.8,378.4 95.8,383.0M109.1,380.2Q105.9,370.3 110.5,368.3" stroke="#7a70ff" stroke-width="0.8" stroke-opacity="0.06" fill="none" stroke-linecap="round"/><path d="M109.5,383.4Q98.4,382.4 94.6,388.7M110.9,382.0Q109.9,370.9 116.2,367.1" stroke="#7a70ff" stroke-width="0.8" stroke-opacity="0.09" fill="none" stroke-linecap="round"/><path d="M111.4,385.3Q99.1,386.4 93.5,394.2M112.8,383.9Q113.9,371.6 121.7,366.0" stroke="#7a70ff" stroke-width="0.8" stroke-opacity="0.11" fill="none" stroke-linecap="round"/><path d="M113.3,387.2Q99.9,390.3 92.6,399.6M114.7,385.8Q117.8,372.4 127.1,365.1" stroke="#7a70ff" stroke-width="0.8" stroke-opacity="0.14" fill="none" stroke-linecap="round"/><path d="M115.1,389.0Q100.7,394.1 91.9,404.8M116.5,387.6Q121.6,373.2 132.3,364.4" stroke="#7a70ff" stroke-width="0.8" stroke-opacity="0.17" fill="none" stroke-linecap="round"/><path d="M117.0,390.9Q101.7,397.8 91.4,409.8M118.4,389.5Q125.3,374.2 137.3,363.9" stroke="#7a70ff" stroke-width="0.8" stroke-opacity="0.19" fill="none" stroke-linecap="round"/><path d="M118.9,392.8Q102.7,401.5 91.0,414.7M120.3,391.4Q129.0,375.2 142.2,363.5" stroke="#7a70ff" stroke-width="0.8" stroke-opacity="0.22" fill="none" stroke-linecap="round"/><path d="M120.7,394.6Q103.8,405.0 90.8,419.3M122.1,393.2Q132.5,376.3 146.8,363.3" stroke="#7a70ff" stroke-width="0.8" stroke-opacity="0.24" fill="none" stroke-linecap="round"/><path d="M122.6,396.5Q105.0,408.5 90.8,423.8M124.0,395.1Q136.0,377.5 151.3,363.3" stroke="#7a70ff" stroke-width="0.8" stroke-opacity="0.27" fill="none" stroke-linecap="round"/><path d="M124.5,398.4Q106.4,411.8 91.1,428.0M125.9,397.0Q139.3,378.9 155.5,363.6" stroke="#7a70ff" stroke-width="0.8" stroke-opacity="0.29" fill="none" stroke-linecap="round"/><path d="M126.3,400.2Q107.8,415.0 91.5,432.1M127.7,398.8Q142.5,380.3 159.6,364.0" stroke="#7a70ff" stroke-width="0.8" stroke-opacity="0.32" fill="none" stroke-linecap="round"/><path d="M128.2,402.1Q109.4,418.1 92.2,435.8M129.6,400.7Q145.6,381.9 163.3,364.7" stroke="#7a70ff" stroke-width="0.8" stroke-opacity="0.34" fill="none" stroke-linecap="round"/><path d="M130.1,404.0Q111.1,421.1 93.2,439.3M131.5,402.6Q148.6,383.6 166.8,365.7" stroke="#7a70ff" stroke-width="0.8" stroke-opacity="0.37" fill="none" stroke-linecap="round"/><path d="M131.9,405.8Q112.9,423.9 94.5,442.5M133.3,404.4Q151.4,385.4 170.0,367.0" stroke="#7a70ff" stroke-width="0.8" stroke-opacity="0.39" fill="none" stroke-linecap="round"/><path d="M133.8,407.7Q115.1,426.4 96.3,445.2M135.2,406.3Q153.9,387.6 172.7,368.8" stroke="#7a70ff" stroke-width="0.8" stroke-opacity="0.42" fill="none" stroke-linecap="round"/><path d="M135.7,409.6Q117.6,428.6 99.0,447.0M137.1,408.2Q156.1,390.1 174.5,371.5" stroke="#7a70ff" stroke-width="0.8" stroke-opacity="0.39" fill="none" stroke-linecap="round"/><path d="M137.5,411.4Q120.4,430.4 102.2,448.3M138.9,410.0Q157.9,392.9 175.8,374.7" stroke="#7a70ff" stroke-width="0.8" stroke-opacity="0.37" fill="none" stroke-linecap="round"/><path d="M139.4,413.3Q123.4,432.1 105.7,449.3M140.8,411.9Q159.6,395.9 176.8,378.2" stroke="#7a70ff" stroke-width="0.8" stroke-opacity="0.34" fill="none" stroke-linecap="round"/><path d="M141.3,415.2Q126.5,433.7 109.4,450.0M142.7,413.8Q161.2,399.0 177.5,381.9" stroke="#7a70ff" stroke-width="0.8" stroke-opacity="0.32" fill="none" stroke-linecap="round"/><path d="M143.1,417.0Q129.7,435.1 113.5,450.4M144.5,415.6Q162.6,402.2 177.9,386.0" stroke="#7a70ff" stroke-width="0.8" stroke-opacity="0.29" fill="none" stroke-linecap="round"/><path d="M145.0,418.9Q133.0,436.5 117.7,450.7M146.4,417.5Q164.0,405.5 178.2,390.2" stroke="#7a70ff" stroke-width="0.8" stroke-opacity="0.27" fill="none" stroke-linecap="round"/><path d="M146.9,420.8Q136.5,437.7 122.2,450.7M148.3,419.4Q165.2,409.0 178.2,394.7" stroke="#7a70ff" stroke-width="0.8" stroke-opacity="0.24" fill="none" stroke-linecap="round"/><path d="M148.7,422.6Q140.0,438.8 126.8,450.5M150.1,421.2Q166.3,412.5 178.0,399.3" stroke="#7a70ff" stroke-width="0.8" stroke-opacity="0.22" fill="none" stroke-linecap="round"/><path d="M150.6,424.5Q143.7,439.8 131.7,450.1M152.0,423.1Q167.3,416.2 177.6,404.2" stroke="#7a70ff" stroke-width="0.8" stroke-opacity="0.19" fill="none" stroke-linecap="round"/><path d="M152.5,426.4Q147.4,440.8 136.7,449.6M153.9,425.0Q168.3,419.9 177.1,409.2" stroke="#7a70ff" stroke-width="0.8" stroke-opacity="0.17" fill="none" stroke-linecap="round"/><path d="M154.3,428.2Q151.2,441.6 141.9,448.9M155.7,426.8Q169.1,423.7 176.4,414.4" stroke="#7a70ff" stroke-width="0.8" stroke-opacity="0.14" fill="none" stroke-linecap="round"/><path d="M156.2,430.1Q155.1,442.4 147.3,448.0M157.6,428.7Q169.9,427.6 175.5,419.8" stroke="#7a70ff" stroke-width="0.8" stroke-opacity="0.11" fill="none" stroke-linecap="round"/><path d="M158.1,432.0Q159.1,443.1 152.8,446.9M159.5,430.6Q170.6,431.6 174.4,425.3" stroke="#7a70ff" stroke-width="0.8" stroke-opacity="0.09" fill="none" stroke-linecap="round"/><path d="M159.9,433.8Q163.1,443.7 158.5,445.7M161.3,432.4Q171.2,435.6 173.2,431.0" stroke="#7a70ff" stroke-width="0.8" stroke-opacity="0.06" fill="none" stroke-linecap="round"/><path d="M161.8,435.7Q167.3,444.2 164.4,444.3M163.2,434.3Q171.7,439.8 171.8,436.9" stroke="#7a70ff" stroke-width="0.8" stroke-opacity="0.04" fill="none" stroke-linecap="round"/><path d="M145.0,395.1Q145.9,388.7 143.4,385.7M146.4,396.5Q152.8,395.6 155.8,398.1" stroke="#f4eeff" stroke-width="1.05" stroke-opacity="0.20" fill="none" stroke-linecap="round"/><path d="M143.1,397.0Q140.6,388.4 135.3,382.6M144.5,398.4Q153.1,400.9 158.9,406.2" stroke="#f4eeff" stroke-width="1.05" stroke-opacity="0.33" fill="none" stroke-linecap="round"/><path d="M141.3,398.8Q135.7,388.4 127.8,380.2M142.7,400.2Q153.1,405.8 161.3,413.7" stroke="#f4eeff" stroke-width="1.05" stroke-opacity="0.47" fill="none" stroke-linecap="round"/><path d="M139.4,400.7Q131.1,388.7 121.1,378.4M140.8,402.1Q152.8,410.4 163.1,420.4" stroke="#f4eeff" stroke-width="1.05" stroke-opacity="0.60" fill="none" stroke-linecap="round"/><path d="M137.5,402.6Q126.9,389.5 115.1,377.5M138.9,404.0Q152.0,414.6 164.0,426.4" stroke="#f4eeff" stroke-width="1.05" stroke-opacity="0.73" fill="none" stroke-linecap="round"/><path d="M135.7,404.4Q123.1,390.7 110.0,377.5M137.1,405.8Q150.8,418.4 164.0,431.5" stroke="#f4eeff" stroke-width="1.05" stroke-opacity="0.87" fill="none" stroke-linecap="round"/><path d="M133.8,406.3Q120.0,392.5 106.2,378.7M135.2,407.7Q149.0,421.5 162.8,435.3" stroke="#f4eeff" stroke-width="1.05" stroke-opacity="1.00" fill="none" stroke-linecap="round"/><path d="M131.9,408.2Q118.2,395.6 105.0,382.5M133.3,409.6Q145.9,423.3 159.0,436.5" stroke="#f4eeff" stroke-width="1.05" stroke-opacity="0.87" fill="none" stroke-linecap="round"/><path d="M130.1,410.0Q117.0,399.4 105.0,387.6M131.5,411.4Q142.1,424.5 153.9,436.5" stroke="#f4eeff" stroke-width="1.05" stroke-opacity="0.73" fill="none" stroke-linecap="round"/><path d="M128.2,411.9Q116.2,403.6 105.9,393.6M129.6,413.3Q137.9,425.3 147.9,435.6" stroke="#f4eeff" stroke-width="1.05" stroke-opacity="0.60" fill="none" stroke-linecap="round"/><path d="M126.3,413.8Q115.9,408.2 107.7,400.3M127.7,415.2Q133.3,425.6 141.2,433.8" stroke="#f4eeff" stroke-width="1.05" stroke-opacity="0.47" fill="none" stroke-linecap="round"/><path d="M124.5,415.6Q115.9,413.1 110.1,407.8M125.9,417.0Q128.4,425.6 133.7,431.4" stroke="#f4eeff" stroke-width="1.05" stroke-opacity="0.33" fill="none" stroke-linecap="round"/><path d="M122.6,417.5Q116.2,418.4 113.2,415.9M124.0,418.9Q123.1,425.3 125.6,428.3" stroke="#f4eeff" stroke-width="1.05" stroke-opacity="0.20" fill="none" stroke-linecap="round"/><path d="M122.6,396.5Q116.2,395.6 113.2,398.1M124.0,395.1Q123.1,388.7 125.6,385.7" stroke="#f4eeff" stroke-width="1.05" stroke-opacity="0.20" fill="none" stroke-linecap="round"/><path d="M124.5,398.4Q115.9,400.9 110.1,406.2M125.9,397.0Q128.4,388.4 133.7,382.6" stroke="#f4eeff" stroke-width="1.05" stroke-opacity="0.33" fill="none" stroke-linecap="round"/><path d="M126.3,400.2Q115.9,405.8 107.7,413.7M127.7,398.8Q133.3,388.4 141.2,380.2" stroke="#f4eeff" stroke-width="1.05" stroke-opacity="0.47" fill="none" stroke-linecap="round"/><path d="M128.2,402.1Q116.2,410.4 105.9,420.4M129.6,400.7Q137.9,388.7 147.9,378.4" stroke="#f4eeff" stroke-width="1.05" stroke-opacity="0.60" fill="none" stroke-linecap="round"/><path d="M130.1,404.0Q117.0,414.6 105.0,426.4M131.5,402.6Q142.1,389.5 153.9,377.5" stroke="#f4eeff" stroke-width="1.05" stroke-opacity="0.73" fill="none" stroke-linecap="round"/><path d="M131.9,405.8Q118.2,418.4 105.0,431.5M133.3,404.4Q145.9,390.7 159.0,377.5" stroke="#f4eeff" stroke-width="1.05" stroke-opacity="0.87" fill="none" stroke-linecap="round"/><path d="M133.8,407.7Q120.0,421.5 106.2,435.3M135.2,406.3Q149.0,392.5 162.8,378.7" stroke="#f4eeff" stroke-width="1.05" stroke-opacity="1.00" fill="none" stroke-linecap="round"/><path d="M135.7,409.6Q123.1,423.3 110.0,436.5M137.1,408.2Q150.8,395.6 164.0,382.5" stroke="#f4eeff" stroke-width="1.05" stroke-opacity="0.87" fill="none" stroke-linecap="round"/><path d="M137.5,411.4Q126.9,424.5 115.1,436.5M138.9,410.0Q152.0,399.4 164.0,387.6" stroke="#f4eeff" stroke-width="1.05" stroke-opacity="0.73" fill="none" stroke-linecap="round"/><path d="M139.4,413.3Q131.1,425.3 121.1,435.6M140.8,411.9Q152.8,403.6 163.1,393.6" stroke="#f4eeff" stroke-width="1.05" stroke-opacity="0.60" fill="none" stroke-linecap="round"/><path d="M141.3,415.2Q135.7,425.6 127.8,433.8M142.7,413.8Q153.1,408.2 161.3,400.3" stroke="#f4eeff" stroke-width="1.05" stroke-opacity="0.47" fill="none" stroke-linecap="round"/><path d="M143.1,417.0Q140.6,425.6 135.3,431.4M144.5,415.6Q153.1,413.1 158.9,407.8" stroke="#f4eeff" stroke-width="1.05" stroke-opacity="0.33" fill="none" stroke-linecap="round"/><path d="M145.0,418.9Q145.9,425.3 143.4,428.3M146.4,417.5Q152.8,418.4 155.8,415.9" stroke="#f4eeff" stroke-width="1.05" stroke-opacity="0.20" fill="none" stroke-linecap="round"/></g></g>
<defs><clipPath id="scc"><ellipse cx="495" cy="412.8" rx="43" ry="36"/></clipPath></defs>
<g filter="url(#hairy)"><ellipse cx="495" cy="412.8" rx="43" ry="36" fill="url(#sphg)"/></g>
<g clip-path="url(#scc)"><ellipse cx="495" cy="412.8" rx="43" ry="36" fill="none" stroke="#180a90" stroke-width="5" opacity="0.55" filter="url(#sblur2)"/><g filter="url(#sblur2)"><ellipse cx="458" cy="405" rx="9" ry="18" fill="#4a0c70" opacity="0.8"/><ellipse cx="495" cy="440" rx="12" ry="6" fill="#3a0a70" opacity="0.5"/><ellipse cx="530" cy="425" rx="6" ry="10" fill="#4a0c70" opacity="0.6"/></g>
<g filter="url(#sblur)"><path d="M521.2,395.3Q527.2,389.5 524.8,388.4M522.2,397.0Q530.3,395.0 529.9,397.7" stroke="#7a70ff" stroke-width="0.8" stroke-opacity="0.04" fill="none" stroke-linecap="round"/><path d="M519.0,396.5Q523.3,388.8 519.7,385.5M520.0,398.2Q528.8,398.7 529.7,403.5" stroke="#7a70ff" stroke-width="0.8" stroke-opacity="0.07" fill="none" stroke-linecap="round"/><path d="M516.9,397.7Q519.4,388.2 514.8,382.7M517.8,399.4Q527.2,402.3 529.5,409.2" stroke="#7a70ff" stroke-width="0.8" stroke-opacity="0.10" fill="none" stroke-linecap="round"/><path d="M514.7,398.9Q515.6,387.7 510.0,380.2M515.7,400.7Q525.6,405.8 529.1,414.6" stroke="#7a70ff" stroke-width="0.8" stroke-opacity="0.13" fill="none" stroke-linecap="round"/><path d="M512.5,400.1Q511.9,387.4 505.3,377.9M513.5,401.9Q523.9,409.2 528.5,419.8" stroke="#7a70ff" stroke-width="0.8" stroke-opacity="0.16" fill="none" stroke-linecap="round"/><path d="M510.4,401.3Q508.2,387.1 500.8,375.8M511.3,403.1Q522.2,412.4 527.9,424.7" stroke="#7a70ff" stroke-width="0.8" stroke-opacity="0.19" fill="none" stroke-linecap="round"/><path d="M508.2,402.5Q504.6,387.0 496.4,374.0M509.2,404.3Q520.4,415.6 527.1,429.4" stroke="#7a70ff" stroke-width="0.8" stroke-opacity="0.22" fill="none" stroke-linecap="round"/><path d="M506.0,403.7Q501.0,387.0 492.1,372.5M507.0,405.5Q518.5,418.6 526.1,433.8" stroke="#7a70ff" stroke-width="0.8" stroke-opacity="0.25" fill="none" stroke-linecap="round"/><path d="M503.9,404.9Q497.6,387.2 488.0,371.2M504.8,406.7Q516.5,421.4 525.0,438.0" stroke="#7a70ff" stroke-width="0.8" stroke-opacity="0.28" fill="none" stroke-linecap="round"/><path d="M501.7,406.1Q494.2,387.5 484.1,370.3M502.7,407.9Q514.5,424.1 523.7,441.8" stroke="#7a70ff" stroke-width="0.8" stroke-opacity="0.30" fill="none" stroke-linecap="round"/><path d="M499.5,407.3Q490.9,387.9 480.3,369.7M500.5,409.1Q512.4,426.6 522.3,445.3" stroke="#7a70ff" stroke-width="0.8" stroke-opacity="0.33" fill="none" stroke-linecap="round"/><path d="M497.4,408.5Q487.7,388.6 476.8,369.4M498.3,410.3Q510.1,429.0 520.6,448.4" stroke="#7a70ff" stroke-width="0.8" stroke-opacity="0.36" fill="none" stroke-linecap="round"/><path d="M495.2,409.7Q484.7,389.5 473.5,369.6M496.2,411.5Q507.7,431.1 518.7,451.1" stroke="#7a70ff" stroke-width="0.8" stroke-opacity="0.39" fill="none" stroke-linecap="round"/><path d="M493.0,410.9Q481.8,390.7 470.6,370.5M494.0,412.7Q505.2,432.9 516.4,453.1" stroke="#7a70ff" stroke-width="0.8" stroke-opacity="0.42" fill="none" stroke-linecap="round"/><path d="M490.8,412.1Q479.3,392.5 468.3,372.5M491.8,413.9Q502.3,434.1 513.5,454.0" stroke="#7a70ff" stroke-width="0.8" stroke-opacity="0.39" fill="none" stroke-linecap="round"/><path d="M488.7,413.3Q476.9,394.6 466.4,375.2M489.6,415.1Q499.3,435.0 510.2,454.2" stroke="#7a70ff" stroke-width="0.8" stroke-opacity="0.36" fill="none" stroke-linecap="round"/><path d="M486.5,414.5Q474.6,397.0 464.7,378.3M487.5,416.3Q496.1,435.7 506.7,453.9" stroke="#7a70ff" stroke-width="0.8" stroke-opacity="0.33" fill="none" stroke-linecap="round"/><path d="M484.3,415.7Q472.5,399.5 463.3,381.8M485.3,417.5Q492.8,436.1 502.9,453.3" stroke="#7a70ff" stroke-width="0.8" stroke-opacity="0.30" fill="none" stroke-linecap="round"/><path d="M482.2,416.9Q470.5,402.2 462.0,385.6M483.1,418.7Q489.4,436.4 499.0,452.4" stroke="#7a70ff" stroke-width="0.8" stroke-opacity="0.28" fill="none" stroke-linecap="round"/><path d="M480.0,418.1Q468.5,405.0 460.9,389.8M481.0,419.9Q486.0,436.6 494.9,451.1" stroke="#7a70ff" stroke-width="0.8" stroke-opacity="0.25" fill="none" stroke-linecap="round"/><path d="M477.8,419.3Q466.6,408.0 459.9,394.2M478.8,421.1Q482.4,436.6 490.6,449.6" stroke="#7a70ff" stroke-width="0.8" stroke-opacity="0.22" fill="none" stroke-linecap="round"/><path d="M475.7,420.5Q464.8,411.2 459.1,398.9M476.6,422.3Q478.8,436.5 486.2,447.8" stroke="#7a70ff" stroke-width="0.8" stroke-opacity="0.19" fill="none" stroke-linecap="round"/><path d="M473.5,421.7Q463.1,414.4 458.5,403.8M474.5,423.5Q475.1,436.2 481.7,445.7" stroke="#7a70ff" stroke-width="0.8" stroke-opacity="0.16" fill="none" stroke-linecap="round"/><path d="M471.3,422.9Q461.4,417.8 457.9,409.0M472.3,424.7Q471.4,435.9 477.0,443.4" stroke="#7a70ff" stroke-width="0.8" stroke-opacity="0.13" fill="none" stroke-linecap="round"/><path d="M469.2,424.2Q459.8,421.3 457.5,414.4M470.1,425.9Q467.6,435.4 472.2,440.9" stroke="#7a70ff" stroke-width="0.8" stroke-opacity="0.10" fill="none" stroke-linecap="round"/><path d="M467.0,425.4Q458.2,424.9 457.3,420.1M468.0,427.1Q463.7,434.8 467.3,438.1" stroke="#7a70ff" stroke-width="0.8" stroke-opacity="0.07" fill="none" stroke-linecap="round"/><path d="M464.8,426.6Q456.7,428.6 457.1,425.9M465.8,428.3Q459.8,434.1 462.2,435.2" stroke="#7a70ff" stroke-width="0.8" stroke-opacity="0.04" fill="none" stroke-linecap="round"/><path d="M467.2,393.2Q459.4,390.1 459.4,392.7M468.4,391.6Q463.2,385.0 465.8,384.3" stroke="#7a70ff" stroke-width="0.8" stroke-opacity="0.04" fill="none" stroke-linecap="round"/><path d="M469.1,394.7Q460.4,393.9 458.8,398.6M470.3,393.1Q467.2,384.9 471.2,382.1" stroke="#7a70ff" stroke-width="0.8" stroke-opacity="0.07" fill="none" stroke-linecap="round"/><path d="M471.1,396.2Q461.4,397.7 458.3,404.2M472.3,394.6Q471.1,384.8 476.5,380.0" stroke="#7a70ff" stroke-width="0.8" stroke-opacity="0.10" fill="none" stroke-linecap="round"/><path d="M473.1,397.7Q462.5,401.4 457.9,409.6M474.3,396.1Q475.0,384.9 481.6,378.2" stroke="#7a70ff" stroke-width="0.8" stroke-opacity="0.13" fill="none" stroke-linecap="round"/><path d="M475.1,399.2Q463.7,405.0 457.7,414.8M476.3,397.6Q478.7,385.0 486.5,376.6" stroke="#7a70ff" stroke-width="0.8" stroke-opacity="0.16" fill="none" stroke-linecap="round"/><path d="M477.1,400.7Q465.0,408.4 457.7,419.8M478.3,399.1Q482.4,385.3 491.3,375.1" stroke="#7a70ff" stroke-width="0.8" stroke-opacity="0.19" fill="none" stroke-linecap="round"/><path d="M479.0,402.2Q466.3,411.8 457.8,424.6M480.2,400.6Q486.0,385.7 495.9,374.0" stroke="#7a70ff" stroke-width="0.8" stroke-opacity="0.22" fill="none" stroke-linecap="round"/><path d="M481.0,403.6Q467.8,415.0 458.1,429.1M482.2,402.0Q489.5,386.2 500.3,373.0" stroke="#7a70ff" stroke-width="0.8" stroke-opacity="0.25" fill="none" stroke-linecap="round"/><path d="M483.0,405.1Q469.3,418.1 458.7,433.3M484.2,403.5Q492.9,386.8 504.6,372.4" stroke="#7a70ff" stroke-width="0.8" stroke-opacity="0.28" fill="none" stroke-linecap="round"/><path d="M485.0,406.6Q471.0,421.1 459.4,437.3M486.2,405.0Q496.2,387.6 508.6,372.0" stroke="#7a70ff" stroke-width="0.8" stroke-opacity="0.30" fill="none" stroke-linecap="round"/><path d="M487.0,408.1Q472.8,423.9 460.4,441.0M488.2,406.5Q499.4,388.5 512.4,371.9" stroke="#7a70ff" stroke-width="0.8" stroke-opacity="0.33" fill="none" stroke-linecap="round"/><path d="M488.9,409.6Q474.7,426.5 461.6,444.3M490.1,408.0Q502.4,389.6 515.9,372.2" stroke="#7a70ff" stroke-width="0.8" stroke-opacity="0.36" fill="none" stroke-linecap="round"/><path d="M490.9,411.1Q476.7,428.9 463.1,447.2M492.1,409.5Q505.3,390.9 519.1,372.8" stroke="#7a70ff" stroke-width="0.8" stroke-opacity="0.39" fill="none" stroke-linecap="round"/><path d="M492.9,412.6Q479.0,431.1 465.1,449.5M494.1,411.0Q508.0,392.5 521.9,374.1" stroke="#7a70ff" stroke-width="0.8" stroke-opacity="0.42" fill="none" stroke-linecap="round"/><path d="M494.9,414.1Q481.7,432.7 467.9,450.8M496.1,412.5Q510.3,394.7 523.9,376.4" stroke="#7a70ff" stroke-width="0.8" stroke-opacity="0.39" fill="none" stroke-linecap="round"/><path d="M496.9,415.6Q484.6,434.0 471.1,451.4M498.1,414.0Q512.3,397.1 525.4,379.3" stroke="#7a70ff" stroke-width="0.8" stroke-opacity="0.36" fill="none" stroke-linecap="round"/><path d="M498.8,417.1Q487.6,435.1 474.6,451.7M500.0,415.5Q514.2,399.7 526.6,382.6" stroke="#7a70ff" stroke-width="0.8" stroke-opacity="0.33" fill="none" stroke-linecap="round"/><path d="M500.8,418.6Q490.8,436.0 478.4,451.6M502.0,417.0Q516.0,402.5 527.6,386.3" stroke="#7a70ff" stroke-width="0.8" stroke-opacity="0.30" fill="none" stroke-linecap="round"/><path d="M502.8,420.1Q494.1,436.8 482.4,451.2M504.0,418.5Q517.7,405.5 528.3,390.3" stroke="#7a70ff" stroke-width="0.8" stroke-opacity="0.28" fill="none" stroke-linecap="round"/><path d="M504.8,421.6Q497.5,437.4 486.7,450.6M506.0,420.0Q519.2,408.6 528.9,394.5" stroke="#7a70ff" stroke-width="0.8" stroke-opacity="0.25" fill="none" stroke-linecap="round"/><path d="M506.8,423.0Q501.0,437.9 491.1,449.6M508.0,421.4Q520.7,411.8 529.2,399.0" stroke="#7a70ff" stroke-width="0.8" stroke-opacity="0.22" fill="none" stroke-linecap="round"/><path d="M508.7,424.5Q504.6,438.3 495.7,448.5M509.9,422.9Q522.0,415.2 529.3,403.8" stroke="#7a70ff" stroke-width="0.8" stroke-opacity="0.19" fill="none" stroke-linecap="round"/><path d="M510.7,426.0Q508.3,438.6 500.5,447.0M511.9,424.4Q523.3,418.6 529.3,408.8" stroke="#7a70ff" stroke-width="0.8" stroke-opacity="0.16" fill="none" stroke-linecap="round"/><path d="M512.7,427.5Q512.0,438.7 505.4,445.4M513.9,425.9Q524.5,422.2 529.1,414.0" stroke="#7a70ff" stroke-width="0.8" stroke-opacity="0.13" fill="none" stroke-linecap="round"/><path d="M514.7,429.0Q515.9,438.8 510.5,443.6M515.9,427.4Q525.6,425.9 528.7,419.4" stroke="#7a70ff" stroke-width="0.8" stroke-opacity="0.10" fill="none" stroke-linecap="round"/><path d="M516.7,430.5Q519.8,438.7 515.8,441.5M517.9,428.9Q526.6,429.7 528.2,425.0" stroke="#7a70ff" stroke-width="0.8" stroke-opacity="0.07" fill="none" stroke-linecap="round"/><path d="M518.6,432.0Q523.8,438.6 521.2,439.3M519.8,430.4Q527.6,433.5 527.6,430.9" stroke="#7a70ff" stroke-width="0.8" stroke-opacity="0.04" fill="none" stroke-linecap="round"/><path d="M503.9,404.9Q505.5,399.5 503.8,395.9M504.8,406.7Q510.3,408.1 512.4,411.4" stroke="#f4eeff" stroke-width="1.05" stroke-opacity="0.23" fill="none" stroke-linecap="round"/><path d="M501.7,406.1Q500.7,397.7 497.1,390.7M502.7,407.9Q509.3,413.2 513.3,419.9" stroke="#f4eeff" stroke-width="1.05" stroke-opacity="0.38" fill="none" stroke-linecap="round"/><path d="M499.5,407.3Q496.2,396.3 490.9,386.4M500.5,409.1Q508.0,417.7 513.7,427.4" stroke="#f4eeff" stroke-width="1.05" stroke-opacity="0.54" fill="none" stroke-linecap="round"/><path d="M497.4,408.5Q492.0,395.5 485.3,383.2M498.3,410.3Q506.5,421.7 513.4,433.9" stroke="#f4eeff" stroke-width="1.05" stroke-opacity="0.69" fill="none" stroke-linecap="round"/><path d="M495.2,409.7Q488.1,395.3 480.4,381.3M496.2,411.5Q504.6,425.1 512.4,439.0" stroke="#f4eeff" stroke-width="1.05" stroke-opacity="0.85" fill="none" stroke-linecap="round"/><path d="M493.0,410.9Q484.8,396.1 476.5,381.2M494.0,412.7Q502.2,427.5 510.5,442.4" stroke="#f4eeff" stroke-width="1.05" stroke-opacity="1.00" fill="none" stroke-linecap="round"/><path d="M490.8,412.1Q482.4,398.5 474.6,384.6M491.8,413.9Q498.9,428.3 506.6,442.3" stroke="#f4eeff" stroke-width="1.05" stroke-opacity="0.85" fill="none" stroke-linecap="round"/><path d="M488.7,413.3Q480.5,401.9 473.6,389.7M489.6,415.1Q495.0,428.1 501.7,440.4" stroke="#f4eeff" stroke-width="1.05" stroke-opacity="0.69" fill="none" stroke-linecap="round"/><path d="M486.5,414.5Q479.0,405.9 473.3,396.2M487.5,416.3Q490.8,427.3 496.1,437.2" stroke="#f4eeff" stroke-width="1.05" stroke-opacity="0.54" fill="none" stroke-linecap="round"/><path d="M484.3,415.7Q477.7,410.4 473.7,403.7M485.3,417.5Q486.3,425.9 489.9,432.9" stroke="#f4eeff" stroke-width="1.05" stroke-opacity="0.38" fill="none" stroke-linecap="round"/><path d="M482.2,416.9Q476.7,415.5 474.6,412.2M483.1,418.7Q481.5,424.1 483.2,427.7" stroke="#f4eeff" stroke-width="1.05" stroke-opacity="0.23" fill="none" stroke-linecap="round"/><path d="M483.0,405.1Q477.4,405.8 474.8,408.8M484.2,403.5Q483.3,398.0 485.5,394.7" stroke="#f4eeff" stroke-width="1.05" stroke-opacity="0.23" fill="none" stroke-linecap="round"/><path d="M485.0,406.6Q477.7,411.0 472.8,417.1M486.2,405.0Q488.3,396.8 492.9,390.4" stroke="#f4eeff" stroke-width="1.05" stroke-opacity="0.38" fill="none" stroke-linecap="round"/><path d="M487.0,408.1Q478.3,415.6 471.4,424.5M488.2,406.5Q493.0,396.1 499.6,387.0" stroke="#f4eeff" stroke-width="1.05" stroke-opacity="0.54" fill="none" stroke-linecap="round"/><path d="M488.9,409.6Q479.2,419.8 470.7,430.9M490.1,408.0Q497.3,395.9 505.6,384.6" stroke="#f4eeff" stroke-width="1.05" stroke-opacity="0.69" fill="none" stroke-linecap="round"/><path d="M490.9,411.1Q480.6,423.4 471.0,436.1M492.1,409.5Q501.1,396.2 510.7,383.4" stroke="#f4eeff" stroke-width="1.05" stroke-opacity="0.85" fill="none" stroke-linecap="round"/><path d="M492.9,412.6Q482.7,426.2 472.4,439.8M494.1,411.0Q504.3,397.4 514.6,383.8" stroke="#f4eeff" stroke-width="1.05" stroke-opacity="1.00" fill="none" stroke-linecap="round"/><path d="M494.9,414.1Q485.9,427.4 476.3,440.2M496.1,412.5Q506.4,400.2 516.0,387.5" stroke="#f4eeff" stroke-width="1.05" stroke-opacity="0.85" fill="none" stroke-linecap="round"/><path d="M496.9,415.6Q489.7,427.7 481.4,439.0M498.1,414.0Q507.8,403.8 516.3,392.7" stroke="#f4eeff" stroke-width="1.05" stroke-opacity="0.69" fill="none" stroke-linecap="round"/><path d="M498.8,417.1Q494.0,427.5 487.4,436.6M500.0,415.5Q508.7,408.0 515.6,399.1" stroke="#f4eeff" stroke-width="1.05" stroke-opacity="0.54" fill="none" stroke-linecap="round"/><path d="M500.8,418.6Q498.7,426.8 494.1,433.2M502.0,417.0Q509.3,412.6 514.2,406.5" stroke="#f4eeff" stroke-width="1.05" stroke-opacity="0.38" fill="none" stroke-linecap="round"/><path d="M502.8,420.1Q503.7,425.6 501.5,428.9M504.0,418.5Q509.6,417.8 512.2,414.8" stroke="#f4eeff" stroke-width="1.05" stroke-opacity="0.23" fill="none" stroke-linecap="round"/><path d="M494.2,410.7Q483.8,409.0 473.3,407.8M496.2,410.9Q506.8,411.4 517.3,412.4" stroke="#f4eeff" stroke-width="1.05" stroke-opacity="0.36" fill="none" stroke-linecap="round"/><path d="M494.0,412.7Q478.1,411.0 462.2,409.4M496.0,412.9Q511.9,414.6 527.8,416.2" stroke="#f4eeff" stroke-width="1.05" stroke-opacity="0.60" fill="none" stroke-linecap="round"/><path d="M493.8,414.7Q483.2,414.2 472.7,413.2M495.8,414.9Q506.2,416.6 516.7,417.8" stroke="#f4eeff" stroke-width="1.05" stroke-opacity="0.36" fill="none" stroke-linecap="round"/></g></g>
<text x="141.3" y="470.2" font-size="12.3" text-anchor="middle" font-weight="normal" fill="#000" font-family="Carlito, 'Liberation Sans', sans-serif" >Direction distribution</text>
<text x="141.3" y="484.2" font-size="12.3" text-anchor="middle" font-weight="normal" fill="#000" font-family="Carlito, 'Liberation Sans', sans-serif" >of concensus map</text>
<text x="495" y="469.2" font-size="12.3" text-anchor="middle" font-weight="normal" fill="#000" font-family="'Liberation Sans', Arial, sans-serif" >Direction distribution</text>
<text x="495" y="482.6" font-size="12.3" text-anchor="middle" font-weight="normal" fill="#000" font-family="'Liberation Sans', Arial, sans-serif" >of focused map</text>
<defs>
<filter id="mb3" x="-50%" y="-50%" width="200%" height="200%"><feGaussianBlur stdDeviation="2.6"/></filter>
<filter id="mb5" x="-50%" y="-50%" width="200%" height="200%"><feGaussianBlur stdDeviation="5"/></filter>
<filter id="mb15" x="-50%" y="-50%" width="200%" height="200%"><feGaussianBlur stdDeviation="1.6"/></filter>
<filter id="mb2" x="-50%" y="-50%" width="200%" height="200%"><feGaussianBlur stdDeviation="2"/></filter>
<filter id="mb1" x="-50%" y="-50%" width="200%" height="200%"><feGaussianBlur stdDeviation="1"/></filter>
<filter id="mb07" x="-50%" y="-50%" width="200%" height="200%"><feGaussianBlur stdDeviation="0.7"/></filter>
</defs>
<defs><clipPath id="cpb"><path d="M174.2,501.1 C176.0,498.9 179.1,495.4 182.3,493.8 C185.5,492.2 189.8,491.3 193.5,491.4 C197.2,491.5 201.5,492.7 204.7,494.6 C207.9,496.5 211.2,499.8 212.8,502.7 C214.4,505.6 214.9,509.1 214.4,512.3 C213.9,515.5 212.0,519.5 209.6,521.9 C207.2,524.3 203.2,525.7 200.0,526.8 C196.8,527.9 192.7,528.9 190.3,528.4 C187.9,527.9 186.8,525.3 185.5,523.5 C184.2,521.7 183.0,516.4 182.6,517.5 C182.2,518.6 183.5,526.6 183.2,530.0 C182.9,533.4 182.2,535.3 180.7,538.0 C179.2,540.7 176.6,543.9 174.2,546.0 C171.8,548.1 169.1,549.9 166.2,550.8 C163.3,551.7 159.3,551.7 156.6,551.6 C153.9,551.5 151.4,549.4 150.1,550.2 C148.8,551.1 149.0,554.2 149.0,556.7 C149.0,559.2 150.4,562.2 150.1,565.3 C149.8,568.3 148.9,572.3 147.0,575.0 C145.1,577.7 141.8,579.6 138.9,581.4 C136.0,583.2 131.6,583.2 129.3,585.6 C127.0,588.0 125.7,592.1 125.2,596.0 C124.7,599.9 126.8,605.0 126.4,609.0 C126.0,613.0 125.7,617.1 123.0,620.0 C120.3,622.9 113.8,624.2 110.3,626.6 C106.8,629.0 103.2,631.1 101.7,634.6 C100.2,638.1 100.7,644.0 101.2,647.5 C101.7,651.0 104.2,652.3 104.7,655.5 C105.2,658.7 105.1,663.0 103.9,666.7 C102.7,670.5 100.4,675.3 97.4,678.0 C94.5,680.7 89.9,681.5 86.2,682.8 C82.5,684.1 77.8,684.4 75.0,686.0 C72.2,687.6 70.0,690.3 69.5,692.4 C69.0,694.5 71.6,696.4 72.3,698.8 C73.0,701.2 74.3,704.6 73.4,707.0 C72.5,709.4 70.0,712.5 67.0,713.3 C64.0,714.1 59.5,712.7 55.7,711.7 C52.0,710.7 47.6,708.8 44.5,707.5 C41.4,706.2 38.6,705.7 37.2,703.7 C35.9,701.7 35.5,698.5 36.4,695.6 C37.3,692.7 39.9,689.2 42.8,686.5 C45.7,683.8 51.6,682.4 54.0,679.6 C56.4,676.9 56.5,673.8 57.3,670.0 C58.1,666.2 57.9,660.8 59.0,657.0 C60.1,653.2 62.4,651.8 63.7,647.5 C65.0,643.2 65.4,635.7 67.0,631.4 C68.6,627.1 71.6,625.8 73.4,621.8 C75.2,617.8 75.1,611.6 77.6,607.3 C80.1,603.0 86.6,600.5 88.4,596.0 C90.2,591.5 87.9,585.5 88.4,580.0 C88.9,574.5 90.2,567.2 91.6,563.0 C93.0,558.8 94.6,556.8 96.8,555.0 C99.0,553.2 102.6,553.2 105.0,552.4 C107.4,551.6 109.6,551.6 111.0,550.0 C112.4,548.4 111.8,545.1 113.2,542.8 C114.6,540.5 117.5,538.5 119.6,536.4 C121.7,534.3 123.3,532.4 126.0,530.0 C128.7,527.6 132.2,524.7 135.7,522.0 C139.2,519.3 143.4,516.0 146.9,513.9 C150.4,511.8 153.9,510.0 156.6,509.1 C159.3,508.2 160.9,508.0 163.0,508.3 C165.1,508.6 168.0,510.9 169.4,510.7 C170.8,510.5 170.7,508.6 171.5,507.0 C172.3,505.4 172.4,503.3 174.2,501.1Z"/></clipPath></defs>
<path d="M174.2,501.1 C176.0,498.9 179.1,495.4 182.3,493.8 C185.5,492.2 189.8,491.3 193.5,491.4 C197.2,491.5 201.5,492.7 204.7,494.6 C207.9,496.5 211.2,499.8 212.8,502.7 C214.4,505.6 214.9,509.1 214.4,512.3 C213.9,515.5 212.0,519.5 209.6,521.9 C207.2,524.3 203.2,525.7 200.0,526.8 C196.8,527.9 192.7,528.9 190.3,528.4 C187.9,527.9 186.8,525.3 185.5,523.5 C184.2,521.7 183.0,516.4 182.6,517.5 C182.2,518.6 183.5,526.6 183.2,530.0 C182.9,533.4 182.2,535.3 180.7,538.0 C179.2,540.7 176.6,543.9 174.2,546.0 C171.8,548.1 169.1,549.9 166.2,550.8 C163.3,551.7 159.3,551.7 156.6,551.6 C153.9,551.5 151.4,549.4 150.1,550.2 C148.8,551.1 149.0,554.2 149.0,556.7 C149.0,559.2 150.4,562.2 150.1,565.3 C149.8,568.3 148.9,572.3 147.0,575.0 C145.1,577.7 141.8,579.6 138.9,581.4 C136.0,583.2 131.6,583.2 129.3,585.6 C127.0,588.0 125.7,592.1 125.2,596.0 C124.7,599.9 126.8,605.0 126.4,609.0 C126.0,613.0 125.7,617.1 123.0,620.0 C120.3,622.9 113.8,624.2 110.3,626.6 C106.8,629.0 103.2,631.1 101.7,634.6 C100.2,638.1 100.7,644.0 101.2,647.5 C101.7,651.0 104.2,652.3 104.7,655.5 C105.2,658.7 105.1,663.0 103.9,666.7 C102.7,670.5 100.4,675.3 97.4,678.0 C94.5,680.7 89.9,681.5 86.2,682.8 C82.5,684.1 77.8,684.4 75.0,686.0 C72.2,687.6 70.0,690.3 69.5,692.4 C69.0,694.5 71.6,696.4 72.3,698.8 C73.0,701.2 74.3,704.6 73.4,707.0 C72.5,709.4 70.0,712.5 67.0,713.3 C64.0,714.1 59.5,712.7 55.7,711.7 C52.0,710.7 47.6,708.8 44.5,707.5 C41.4,706.2 38.6,705.7 37.2,703.7 C35.9,701.7 35.5,698.5 36.4,695.6 C37.3,692.7 39.9,689.2 42.8,686.5 C45.7,683.8 51.6,682.4 54.0,679.6 C56.4,676.9 56.5,673.8 57.3,670.0 C58.1,666.2 57.9,660.8 59.0,657.0 C60.1,653.2 62.4,651.8 63.7,647.5 C65.0,643.2 65.4,635.7 67.0,631.4 C68.6,627.1 71.6,625.8 73.4,621.8 C75.2,617.8 75.1,611.6 77.6,607.3 C80.1,603.0 86.6,600.5 88.4,596.0 C90.2,591.5 87.9,585.5 88.4,580.0 C88.9,574.5 90.2,567.2 91.6,563.0 C93.0,558.8 94.6,556.8 96.8,555.0 C99.0,553.2 102.6,553.2 105.0,552.4 C107.4,551.6 109.6,551.6 111.0,550.0 C112.4,548.4 111.8,545.1 113.2,542.8 C114.6,540.5 117.5,538.5 119.6,536.4 C121.7,534.3 123.3,532.4 126.0,530.0 C128.7,527.6 132.2,524.7 135.7,522.0 C139.2,519.3 143.4,516.0 146.9,513.9 C150.4,511.8 153.9,510.0 156.6,509.1 C159.3,508.2 160.9,508.0 163.0,508.3 C165.1,508.6 168.0,510.9 169.4,510.7 C170.8,510.5 170.7,508.6 171.5,507.0 C172.3,505.4 172.4,503.3 174.2,501.1Z" fill="#b8e436"/>
<g clip-path="url(#cpb)"><g filter="url(#mb2)"><ellipse cx="55" cy="704" rx="12" ry="6" fill="#d8c430" transform="rotate(-30 55 704)"/><ellipse cx="44" cy="694" rx="8" ry="7" fill="#70e030" transform="rotate(0 44 694)"/><ellipse cx="68" cy="669" rx="10" ry="10" fill="#48e028" transform="rotate(-20 68 669)"/><ellipse cx="93" cy="666" rx="8" ry="14" fill="#e8e444" transform="rotate(0 93 666)"/><ellipse cx="80" cy="651" rx="16" ry="6" fill="#50e028" transform="rotate(-20 80 651)"/><ellipse cx="80" cy="636" rx="17" ry="8" fill="#40e4a8" transform="rotate(-25 80 636)"/><ellipse cx="88" cy="614" rx="18" ry="6" fill="#eeec44" transform="rotate(-25 88 614)"/><ellipse cx="105" cy="601" rx="17" ry="7" fill="#48e028" transform="rotate(-25 105 601)"/><ellipse cx="97" cy="588" rx="14" ry="6" fill="#f0ec44" transform="rotate(-25 97 588)"/><ellipse cx="123" cy="612" rx="4" ry="8" fill="#e8a838" transform="rotate(0 123 612)"/><ellipse cx="131" cy="572" rx="16" ry="8" fill="#48e028" transform="rotate(-30 131 572)"/><ellipse cx="106" cy="563" rx="12" ry="6" fill="#f0e040" transform="rotate(-20 106 563)"/><ellipse cx="106" cy="555" rx="11" ry="4" fill="#e88830" transform="rotate(-20 106 555)"/><ellipse cx="125" cy="545" rx="13" ry="8" fill="#f0ec44" transform="rotate(-40 125 545)"/><ellipse cx="141" cy="565" rx="8" ry="9" fill="#40d828" transform="rotate(0 141 565)"/><ellipse cx="148" cy="514" rx="15" ry="6" fill="#f0ec44" transform="rotate(-30 148 514)"/><ellipse cx="168" cy="535" rx="13" ry="13" fill="#48e028" transform="rotate(0 168 535)"/><ellipse cx="141" cy="517" rx="6" ry="3" fill="#e8a040" transform="rotate(-30 141 517)"/><ellipse cx="178" cy="541" rx="5" ry="7" fill="#58d828" transform="rotate(0 178 541)"/><ellipse cx="195" cy="496" rx="16" ry="5" fill="#eeec50" transform="rotate(0 195 496)"/><ellipse cx="198" cy="512" rx="10" ry="9" fill="#4ce030" transform="rotate(0 198 512)"/><ellipse cx="212" cy="512" rx="4" ry="10" fill="#e8e448" transform="rotate(0 212 512)"/><ellipse cx="176" cy="511" rx="5" ry="5" fill="#e8d8a8" transform="rotate(0 176 511)"/></g>
<g filter="url(#mb1)" fill="none" stroke="#289818" stroke-width="1.6" stroke-opacity="0.55"><path d="M158,522 q3,4 -1,8 q4,3 8,0"/><path d="M166,528 q4,5 0,10 q5,2 8,-2"/><path d="M172,522 q3,6 -2,10"/><path d="M160,542 q5,-3 10,1"/><path d="M150,550 q-5,-6 -14,-8"/><path d="M130,560 q4,4 10,2"/><path d="M138,572 q5,-2 8,2"/><path d="M118,588 q5,-4 9,0"/><path d="M105,600 q4,5 10,3"/><path d="M112,612 q4,-3 8,1"/><path d="M86,624 q6,4 12,0"/><path d="M78,646 q6,-5 13,1"/><path d="M70,668 q8,5 16,0"/><path d="M60,688 q6,4 12,0"/><path d="M192,506 q3,5 9,4"/><path d="M203,515 q3,4 7,2"/></g>
<path d="M174.2,501.1 C176.0,498.9 179.1,495.4 182.3,493.8 C185.5,492.2 189.8,491.3 193.5,491.4 C197.2,491.5 201.5,492.7 204.7,494.6 C207.9,496.5 211.2,499.8 212.8,502.7 C214.4,505.6 214.9,509.1 214.4,512.3 C213.9,515.5 212.0,519.5 209.6,521.9 C207.2,524.3 203.2,525.7 200.0,526.8 C196.8,527.9 192.7,528.9 190.3,528.4 C187.9,527.9 186.8,525.3 185.5,523.5 C184.2,521.7 183.0,516.4 182.6,517.5 C182.2,518.6 183.5,526.6 183.2,530.0 C182.9,533.4 182.2,535.3 180.7,538.0 C179.2,540.7 176.6,543.9 174.2,546.0 C171.8,548.1 169.1,549.9 166.2,550.8 C163.3,551.7 159.3,551.7 156.6,551.6 C153.9,551.5 151.4,549.4 150.1,550.2 C148.8,551.1 149.0,554.2 149.0,556.7 C149.0,559.2 150.4,562.2 150.1,565.3 C149.8,568.3 148.9,572.3 147.0,575.0 C145.1,577.7 141.8,579.6 138.9,581.4 C136.0,583.2 131.6,583.2 129.3,585.6 C127.0,588.0 125.7,592.1 125.2,596.0 C124.7,599.9 126.8,605.0 126.4,609.0 C126.0,613.0 125.7,617.1 123.0,620.0 C120.3,622.9 113.8,624.2 110.3,626.6 C106.8,629.0 103.2,631.1 101.7,634.6 C100.2,638.1 100.7,644.0 101.2,647.5 C101.7,651.0 104.2,652.3 104.7,655.5 C105.2,658.7 105.1,663.0 103.9,666.7 C102.7,670.5 100.4,675.3 97.4,678.0 C94.5,680.7 89.9,681.5 86.2,682.8 C82.5,684.1 77.8,684.4 75.0,686.0 C72.2,687.6 70.0,690.3 69.5,692.4 C69.0,694.5 71.6,696.4 72.3,698.8 C73.0,701.2 74.3,704.6 73.4,707.0 C72.5,709.4 70.0,712.5 67.0,713.3 C64.0,714.1 59.5,712.7 55.7,711.7 C52.0,710.7 47.6,708.8 44.5,707.5 C41.4,706.2 38.6,705.7 37.2,703.7 C35.9,701.7 35.5,698.5 36.4,695.6 C37.3,692.7 39.9,689.2 42.8,686.5 C45.7,683.8 51.6,682.4 54.0,679.6 C56.4,676.9 56.5,673.8 57.3,670.0 C58.1,666.2 57.9,660.8 59.0,657.0 C60.1,653.2 62.4,651.8 63.7,647.5 C65.0,643.2 65.4,635.7 67.0,631.4 C68.6,627.1 71.6,625.8 73.4,621.8 C75.2,617.8 75.1,611.6 77.6,607.3 C80.1,603.0 86.6,600.5 88.4,596.0 C90.2,591.5 87.9,585.5 88.4,580.0 C88.9,574.5 90.2,567.2 91.6,563.0 C93.0,558.8 94.6,556.8 96.8,555.0 C99.0,553.2 102.6,553.2 105.0,552.4 C107.4,551.6 109.6,551.6 111.0,550.0 C112.4,548.4 111.8,545.1 113.2,542.8 C114.6,540.5 117.5,538.5 119.6,536.4 C121.7,534.3 123.3,532.4 126.0,530.0 C128.7,527.6 132.2,524.7 135.7,522.0 C139.2,519.3 143.4,516.0 146.9,513.9 C150.4,511.8 153.9,510.0 156.6,509.1 C159.3,508.2 160.9,508.0 163.0,508.3 C165.1,508.6 168.0,510.9 169.4,510.7 C170.8,510.5 170.7,508.6 171.5,507.0 C172.3,505.4 172.4,503.3 174.2,501.1Z" fill="none" stroke="#7a9a18" stroke-width="2" stroke-opacity="0.3" filter="url(#mb1)"/>
<g filter="url(#mb1)"><path d="M174.2,501.1 C176.0,498.9 179.1,495.4 182.3,493.8 C185.5,492.2 189.8,491.3 193.5,491.4 C197.2,491.5 201.5,492.7 204.7,494.6 C207.9,496.5 211.2,499.8 212.8,502.7 C214.4,505.6 214.9,509.1 214.4,512.3 C213.9,515.5 212.0,519.5 209.6,521.9 C207.2,524.3 203.2,525.7 200.0,526.8 C196.8,527.9 192.7,528.9 190.3,528.4 C187.9,527.9 186.8,525.3 185.5,523.5 C184.2,521.7 183.0,516.4 182.6,517.5 C182.2,518.6 183.5,526.6 183.2,530.0 C182.9,533.4 182.2,535.3 180.7,538.0 C179.2,540.7 176.6,543.9 174.2,546.0 C171.8,548.1 169.1,549.9 166.2,550.8 C163.3,551.7 159.3,551.7 156.6,551.6 C153.9,551.5 151.4,549.4 150.1,550.2 C148.8,551.1 149.0,554.2 149.0,556.7 C149.0,559.2 150.4,562.2 150.1,565.3 C149.8,568.3 148.9,572.3 147.0,575.0 C145.1,577.7 141.8,579.6 138.9,581.4 C136.0,583.2 131.6,583.2 129.3,585.6 C127.0,588.0 125.7,592.1 125.2,596.0 C124.7,599.9 126.8,605.0 126.4,609.0 C126.0,613.0 125.7,617.1 123.0,620.0 C120.3,622.9 113.8,624.2 110.3,626.6 C106.8,629.0 103.2,631.1 101.7,634.6 C100.2,638.1 100.7,644.0 101.2,647.5 C101.7,651.0 104.2,652.3 104.7,655.5 C105.2,658.7 105.1,663.0 103.9,666.7 C102.7,670.5 100.4,675.3 97.4,678.0 C94.5,680.7 89.9,681.5 86.2,682.8 C82.5,684.1 77.8,684.4 75.0,686.0 C72.2,687.6 70.0,690.3 69.5,692.4 C69.0,694.5 71.6,696.4 72.3,698.8 C73.0,701.2 74.3,704.6 73.4,707.0 C72.5,709.4 70.0,712.5 67.0,713.3 C64.0,714.1 59.5,712.7 55.7,711.7 C52.0,710.7 47.6,708.8 44.5,707.5 C41.4,706.2 38.6,705.7 37.2,703.7 C35.9,701.7 35.5,698.5 36.4,695.6 C37.3,692.7 39.9,689.2 42.8,686.5 C45.7,683.8 51.6,682.4 54.0,679.6 C56.4,676.9 56.5,673.8 57.3,670.0 C58.1,666.2 57.9,660.8 59.0,657.0 C60.1,653.2 62.4,651.8 63.7,647.5 C65.0,643.2 65.4,635.7 67.0,631.4 C68.6,627.1 71.6,625.8 73.4,621.8 C75.2,617.8 75.1,611.6 77.6,607.3 C80.1,603.0 86.6,600.5 88.4,596.0 C90.2,591.5 87.9,585.5 88.4,580.0 C88.9,574.5 90.2,567.2 91.6,563.0 C93.0,558.8 94.6,556.8 96.8,555.0 C99.0,553.2 102.6,553.2 105.0,552.4 C107.4,551.6 109.6,551.6 111.0,550.0 C112.4,548.4 111.8,545.1 113.2,542.8 C114.6,540.5 117.5,538.5 119.6,536.4 C121.7,534.3 123.3,532.4 126.0,530.0 C128.7,527.6 132.2,524.7 135.7,522.0 C139.2,519.3 143.4,516.0 146.9,513.9 C150.4,511.8 153.9,510.0 156.6,509.1 C159.3,508.2 160.9,508.0 163.0,508.3 C165.1,508.6 168.0,510.9 169.4,510.7 C170.8,510.5 170.7,508.6 171.5,507.0 C172.3,505.4 172.4,503.3 174.2,501.1Z" fill="none" stroke="#3a7010" stroke-width="3.5" stroke-opacity="0.45" transform="translate(-2.2,-1.6)"/><path d="M174.2,501.1 C176.0,498.9 179.1,495.4 182.3,493.8 C185.5,492.2 189.8,491.3 193.5,491.4 C197.2,491.5 201.5,492.7 204.7,494.6 C207.9,496.5 211.2,499.8 212.8,502.7 C214.4,505.6 214.9,509.1 214.4,512.3 C213.9,515.5 212.0,519.5 209.6,521.9 C207.2,524.3 203.2,525.7 200.0,526.8 C196.8,527.9 192.7,528.9 190.3,528.4 C187.9,527.9 186.8,525.3 185.5,523.5 C184.2,521.7 183.0,516.4 182.6,517.5 C182.2,518.6 183.5,526.6 183.2,530.0 C182.9,533.4 182.2,535.3 180.7,538.0 C179.2,540.7 176.6,543.9 174.2,546.0 C171.8,548.1 169.1,549.9 166.2,550.8 C163.3,551.7 159.3,551.7 156.6,551.6 C153.9,551.5 151.4,549.4 150.1,550.2 C148.8,551.1 149.0,554.2 149.0,556.7 C149.0,559.2 150.4,562.2 150.1,565.3 C149.8,568.3 148.9,572.3 147.0,575.0 C145.1,577.7 141.8,579.6 138.9,581.4 C136.0,583.2 131.6,583.2 129.3,585.6 C127.0,588.0 125.7,592.1 125.2,596.0 C124.7,599.9 126.8,605.0 126.4,609.0 C126.0,613.0 125.7,617.1 123.0,620.0 C120.3,622.9 113.8,624.2 110.3,626.6 C106.8,629.0 103.2,631.1 101.7,634.6 C100.2,638.1 100.7,644.0 101.2,647.5 C101.7,651.0 104.2,652.3 104.7,655.5 C105.2,658.7 105.1,663.0 103.9,666.7 C102.7,670.5 100.4,675.3 97.4,678.0 C94.5,680.7 89.9,681.5 86.2,682.8 C82.5,684.1 77.8,684.4 75.0,686.0 C72.2,687.6 70.0,690.3 69.5,692.4 C69.0,694.5 71.6,696.4 72.3,698.8 C73.0,701.2 74.3,704.6 73.4,707.0 C72.5,709.4 70.0,712.5 67.0,713.3 C64.0,714.1 59.5,712.7 55.7,711.7 C52.0,710.7 47.6,708.8 44.5,707.5 C41.4,706.2 38.6,705.7 37.2,703.7 C35.9,701.7 35.5,698.5 36.4,695.6 C37.3,692.7 39.9,689.2 42.8,686.5 C45.7,683.8 51.6,682.4 54.0,679.6 C56.4,676.9 56.5,673.8 57.3,670.0 C58.1,666.2 57.9,660.8 59.0,657.0 C60.1,653.2 62.4,651.8 63.7,647.5 C65.0,643.2 65.4,635.7 67.0,631.4 C68.6,627.1 71.6,625.8 73.4,621.8 C75.2,617.8 75.1,611.6 77.6,607.3 C80.1,603.0 86.6,600.5 88.4,596.0 C90.2,591.5 87.9,585.5 88.4,580.0 C88.9,574.5 90.2,567.2 91.6,563.0 C93.0,558.8 94.6,556.8 96.8,555.0 C99.0,553.2 102.6,553.2 105.0,552.4 C107.4,551.6 109.6,551.6 111.0,550.0 C112.4,548.4 111.8,545.1 113.2,542.8 C114.6,540.5 117.5,538.5 119.6,536.4 C121.7,534.3 123.3,532.4 126.0,530.0 C128.7,527.6 132.2,524.7 135.7,522.0 C139.2,519.3 143.4,516.0 146.9,513.9 C150.4,511.8 153.9,510.0 156.6,509.1 C159.3,508.2 160.9,508.0 163.0,508.3 C165.1,508.6 168.0,510.9 169.4,510.7 C170.8,510.5 170.7,508.6 171.5,507.0 C172.3,505.4 172.4,503.3 174.2,501.1Z" fill="none" stroke="#fcfc90" stroke-width="2.5" stroke-opacity="0.35" transform="translate(1.6,1.6)"/></g></g>
<g fill="#b8e030"><circle cx="47.5" cy="715.5" r="1.6"/><circle cx="51" cy="717.5" r="1.3"/><circle cx="46.5" cy="719" r="1.1"/><circle cx="61.5" cy="714.5" r="1.4"/><circle cx="64" cy="717" r="1.2"/></g>
<defs><clipPath id="cpc"><path d="M443.5,510.5 C444.9,510.2 448.7,508.8 451.0,509.3 C453.3,509.8 455.1,512.9 457.1,513.6 C459.2,514.3 461.0,513.7 463.3,513.6 C465.6,513.5 468.7,512.2 470.8,513.0 C472.9,513.8 473.9,517.1 475.8,518.6 C477.7,520.1 479.9,521.3 482.0,522.3 C484.1,523.3 487.4,523.3 488.2,524.8 C489.0,526.2 488.3,529.1 486.9,531.0 C485.4,532.9 482.0,534.8 479.5,536.0 C477.0,537.2 473.6,537.0 472.0,538.5 C470.4,540.0 469.8,542.4 469.6,544.7 C469.4,547.0 471.0,550.1 470.8,552.1 C470.6,554.1 467.7,555.5 468.3,557.0 C468.9,558.5 472.4,559.2 474.5,560.8 C476.6,562.4 478.7,564.6 480.7,566.7 C482.7,568.8 486.0,570.3 486.6,573.4 C487.2,576.5 485.4,581.8 484.1,585.2 C482.8,588.6 481.0,591.1 479.0,593.6 C477.0,596.1 474.2,597.8 472.3,600.3 C470.4,602.8 469.8,606.5 467.3,608.7 C464.8,610.9 460.6,612.6 457.2,613.7 C453.8,614.8 449.9,614.8 447.1,615.4 C444.3,616.0 442.1,615.7 440.4,617.1 C438.7,618.5 437.1,620.7 437.1,623.8 C437.1,626.9 438.2,632.7 440.4,635.5 C442.6,638.3 446.9,639.2 450.5,640.6 C454.1,642.0 460.1,641.7 462.3,643.9 C464.5,646.1 464.5,650.6 463.9,654.0 C463.3,657.4 459.7,660.2 458.9,664.1 C458.1,668.0 459.7,673.6 458.9,677.5 C458.1,681.4 456.4,684.4 453.9,687.6 C451.4,690.9 446.6,694.6 443.8,697.0 C441.0,699.4 440.3,700.7 437.0,702.0 C433.7,703.3 427.5,705.2 424.0,705.0 C420.5,704.8 419.1,702.2 416.0,701.0 C412.9,699.8 408.7,699.1 405.2,697.7 C401.7,696.3 397.5,694.8 395.1,692.6 C392.7,690.4 391.1,688.4 390.8,684.5 C390.5,680.6 393.2,672.8 393.4,669.1 C393.6,665.4 391.2,664.4 391.8,662.4 C392.4,660.4 394.3,658.8 396.8,657.4 C399.3,656.0 404.7,655.7 406.9,654.0 C409.1,652.3 410.5,649.2 410.2,647.3 C409.9,645.3 408.0,643.7 405.2,642.3 C402.4,640.9 396.8,640.9 393.4,638.9 C390.0,636.9 386.5,634.1 385.0,630.5 C383.5,626.9 383.6,621.3 384.2,617.1 C384.8,612.9 386.3,608.1 388.4,605.3 C390.5,602.5 394.0,601.7 396.8,600.3 C399.6,598.9 404.1,599.1 405.2,596.9 C406.3,594.7 402.9,589.4 403.5,586.9 C404.1,584.4 405.4,583.2 408.5,581.8 C411.6,580.4 418.6,579.9 422.0,578.5 C425.4,577.1 427.0,575.4 428.7,573.4 C430.4,571.4 432.2,569.5 432.0,566.7 C431.8,563.9 429.4,559.2 427.4,556.8 C425.4,554.4 422.1,553.7 420.0,552.1 C417.9,550.5 415.8,549.4 415.0,547.1 C414.2,544.8 414.0,541.0 415.0,538.5 C416.0,536.0 418.9,534.0 421.2,532.3 C423.5,530.6 426.3,531.0 428.6,528.5 C430.9,526.0 432.5,520.3 434.8,517.4 C437.1,514.5 440.9,512.4 442.3,511.2 C443.8,510.1 442.1,510.8 443.5,510.5Z"/></clipPath><filter id="rough" x="-5%" y="-5%" width="110%" height="110%"><feTurbulence type="fractalNoise" baseFrequency="0.35" numOctaves="2" seed="8" result="n"/><feDisplacementMap in="SourceGraphic" in2="n" scale="5" xChannelSelector="R" yChannelSelector="G"/></filter></defs>
<g filter="url(#rough)"><path d="M443.5,510.5 C444.9,510.2 448.7,508.8 451.0,509.3 C453.3,509.8 455.1,512.9 457.1,513.6 C459.2,514.3 461.0,513.7 463.3,513.6 C465.6,513.5 468.7,512.2 470.8,513.0 C472.9,513.8 473.9,517.1 475.8,518.6 C477.7,520.1 479.9,521.3 482.0,522.3 C484.1,523.3 487.4,523.3 488.2,524.8 C489.0,526.2 488.3,529.1 486.9,531.0 C485.4,532.9 482.0,534.8 479.5,536.0 C477.0,537.2 473.6,537.0 472.0,538.5 C470.4,540.0 469.8,542.4 469.6,544.7 C469.4,547.0 471.0,550.1 470.8,552.1 C470.6,554.1 467.7,555.5 468.3,557.0 C468.9,558.5 472.4,559.2 474.5,560.8 C476.6,562.4 478.7,564.6 480.7,566.7 C482.7,568.8 486.0,570.3 486.6,573.4 C487.2,576.5 485.4,581.8 484.1,585.2 C482.8,588.6 481.0,591.1 479.0,593.6 C477.0,596.1 474.2,597.8 472.3,600.3 C470.4,602.8 469.8,606.5 467.3,608.7 C464.8,610.9 460.6,612.6 457.2,613.7 C453.8,614.8 449.9,614.8 447.1,615.4 C444.3,616.0 442.1,615.7 440.4,617.1 C438.7,618.5 437.1,620.7 437.1,623.8 C437.1,626.9 438.2,632.7 440.4,635.5 C442.6,638.3 446.9,639.2 450.5,640.6 C454.1,642.0 460.1,641.7 462.3,643.9 C464.5,646.1 464.5,650.6 463.9,654.0 C463.3,657.4 459.7,660.2 458.9,664.1 C458.1,668.0 459.7,673.6 458.9,677.5 C458.1,681.4 456.4,684.4 453.9,687.6 C451.4,690.9 446.6,694.6 443.8,697.0 C441.0,699.4 440.3,700.7 437.0,702.0 C433.7,703.3 427.5,705.2 424.0,705.0 C420.5,704.8 419.1,702.2 416.0,701.0 C412.9,699.8 408.7,699.1 405.2,697.7 C401.7,696.3 397.5,694.8 395.1,692.6 C392.7,690.4 391.1,688.4 390.8,684.5 C390.5,680.6 393.2,672.8 393.4,669.1 C393.6,665.4 391.2,664.4 391.8,662.4 C392.4,660.4 394.3,658.8 396.8,657.4 C399.3,656.0 404.7,655.7 406.9,654.0 C409.1,652.3 410.5,649.2 410.2,647.3 C409.9,645.3 408.0,643.7 405.2,642.3 C402.4,640.9 396.8,640.9 393.4,638.9 C390.0,636.9 386.5,634.1 385.0,630.5 C383.5,626.9 383.6,621.3 384.2,617.1 C384.8,612.9 386.3,608.1 388.4,605.3 C390.5,602.5 394.0,601.7 396.8,600.3 C399.6,598.9 404.1,599.1 405.2,596.9 C406.3,594.7 402.9,589.4 403.5,586.9 C404.1,584.4 405.4,583.2 408.5,581.8 C411.6,580.4 418.6,579.9 422.0,578.5 C425.4,577.1 427.0,575.4 428.7,573.4 C430.4,571.4 432.2,569.5 432.0,566.7 C431.8,563.9 429.4,559.2 427.4,556.8 C425.4,554.4 422.1,553.7 420.0,552.1 C417.9,550.5 415.8,549.4 415.0,547.1 C414.2,544.8 414.0,541.0 415.0,538.5 C416.0,536.0 418.9,534.0 421.2,532.3 C423.5,530.6 426.3,531.0 428.6,528.5 C430.9,526.0 432.5,520.3 434.8,517.4 C437.1,514.5 440.9,512.4 442.3,511.2 C443.8,510.1 442.1,510.8 443.5,510.5Z" fill="#48b890"/>
<g clip-path="url(#cpc)"><g filter="url(#mb2)"><ellipse cx="450" cy="514" rx="9" ry="6" fill="#2a2ae0" opacity="1"/><ellipse cx="462" cy="518" rx="9" ry="7" fill="#2020e0" opacity="1"/><ellipse cx="473" cy="521" rx="8" ry="7" fill="#1c1ce8" opacity="1"/><ellipse cx="483" cy="527" rx="6" ry="6" fill="#2020e8" opacity="1"/><ellipse cx="468" cy="532" rx="11" ry="7" fill="#2848e8" opacity="1"/><ellipse cx="455" cy="530" rx="9" ry="7" fill="#2860e0" opacity="1"/><ellipse cx="444" cy="521" rx="6" ry="6" fill="#3050e0" opacity="1"/><ellipse cx="425" cy="538" rx="11" ry="13" fill="#4890e0" opacity="1"/><ellipse cx="440" cy="543" rx="9" ry="9" fill="#48a0e8" opacity="1"/><ellipse cx="437" cy="521" rx="7" ry="5" fill="#50c8e0" opacity="1"/><ellipse cx="461" cy="548" rx="10" ry="9" fill="#3878e0" opacity="1"/><ellipse cx="438" cy="561" rx="13" ry="6" fill="#40e040" opacity="1"/><ellipse cx="458" cy="562" rx="11" ry="6" fill="#50d840" opacity="1"/><ellipse cx="437" cy="577" rx="11" ry="8" fill="#48d848" opacity="1"/><ellipse cx="457" cy="575" rx="11" ry="8" fill="#78d840" opacity="1"/><ellipse cx="471" cy="582" rx="11" ry="11" fill="#b8c830" opacity="1"/><ellipse cx="479" cy="595" rx="8" ry="9" fill="#e07020" opacity="1"/><ellipse cx="462" cy="600" rx="11" ry="10" fill="#c8b030" opacity="1"/><ellipse cx="447" cy="606" rx="9" ry="8" fill="#90c838" opacity="1"/><ellipse cx="484" cy="574" rx="6" ry="7" fill="#a8d038" opacity="1"/><ellipse cx="412" cy="588" rx="12" ry="9" fill="#50d060" opacity="1"/><ellipse cx="425" cy="598" rx="9" ry="9" fill="#40c890" opacity="1"/><ellipse cx="386" cy="618" rx="5" ry="15" fill="#60d840" opacity="1"/><ellipse cx="401" cy="622" rx="12" ry="16" fill="#50a8e8" opacity="1"/><ellipse cx="411" cy="616" rx="9" ry="9" fill="#3878e0" opacity="1"/><ellipse cx="407" cy="638" rx="11" ry="7" fill="#3c88e0" opacity="1"/><ellipse cx="396" cy="604" rx="8" ry="5" fill="#60d840" opacity="1"/><ellipse cx="427" cy="631" rx="7" ry="15" fill="#258050" opacity="1"/><ellipse cx="432" cy="648" rx="9" ry="9" fill="#40c848" opacity="1"/><ellipse cx="452" cy="650" rx="11" ry="13" fill="#c8c038" opacity="1"/><ellipse cx="446" cy="669" rx="11" ry="11" fill="#60d040" opacity="1"/><ellipse cx="455" cy="682" rx="7" ry="9" fill="#90d040" opacity="1"/><ellipse cx="405" cy="673" rx="13" ry="11" fill="#3878e0" opacity="1"/><ellipse cx="414" cy="689" rx="13" ry="9" fill="#3060e0" opacity="1"/><ellipse cx="430" cy="694" rx="9" ry="8" fill="#40a8e0" opacity="1"/><ellipse cx="397" cy="685" rx="7" ry="7" fill="#40b0e0" opacity="1"/><ellipse cx="424" cy="701" rx="7" ry="5" fill="#3868d8" opacity="1"/><ellipse cx="428" cy="668" rx="9" ry="11" fill="#40c0a0" opacity="1"/><ellipse cx="441" cy="685" rx="9" ry="9" fill="#50c870" opacity="1"/></g></g></g><g clip-path="url(#cpc)">
<g filter="url(#mb07)"><ellipse cx="402.0" cy="644.5" rx="1.7" ry="1.3" fill="#0a1e1a" opacity="0.38"/><ellipse cx="466.6" cy="667.5" rx="1.5" ry="1.3" fill="#0a1e1a" opacity="0.38"/><ellipse cx="385.3" cy="582.4" rx="1.6" ry="0.9" fill="#0a1e1a" opacity="0.58"/><ellipse cx="408.9" cy="555.4" rx="0.9" ry="1.8" fill="#0a1e1a" opacity="0.56"/><ellipse cx="475.1" cy="630.1" rx="0.8" ry="1.1" fill="#0a1e1a" opacity="0.47"/><ellipse cx="396.9" cy="695.6" rx="1.3" ry="1.0" fill="#0a1e1a" opacity="0.59"/><ellipse cx="397.9" cy="690.9" rx="1.4" ry="1.4" fill="#0a1e1a" opacity="0.42"/><ellipse cx="434.9" cy="546.4" rx="0.9" ry="1.7" fill="#0a1e1a" opacity="0.38"/><ellipse cx="465.4" cy="550.7" rx="2.2" ry="1.7" fill="#0a1e1a" opacity="0.56"/><ellipse cx="463.6" cy="623.2" rx="1.8" ry="0.9" fill="#0a1e1a" opacity="0.47"/><ellipse cx="470.2" cy="549.2" rx="2.1" ry="1.7" fill="#0a1e1a" opacity="0.44"/><ellipse cx="422.6" cy="598.0" rx="1.3" ry="1.8" fill="#0a1e1a" opacity="0.44"/><ellipse cx="387.8" cy="528.2" rx="1.8" ry="1.8" fill="#0a1e1a" opacity="0.47"/><ellipse cx="435.6" cy="617.3" rx="1.8" ry="1.0" fill="#0a1e1a" opacity="0.51"/><ellipse cx="442.3" cy="631.4" rx="1.1" ry="1.0" fill="#0a1e1a" opacity="0.42"/><ellipse cx="480.5" cy="577.6" rx="1.6" ry="1.1" fill="#0a1e1a" opacity="0.34"/><ellipse cx="391.8" cy="668.7" rx="1.9" ry="1.2" fill="#0a1e1a" opacity="0.54"/><ellipse cx="454.6" cy="685.2" rx="2.1" ry="1.2" fill="#0a1e1a" opacity="0.65"/><ellipse cx="484.0" cy="625.2" rx="2.0" ry="1.3" fill="#0a1e1a" opacity="0.43"/><ellipse cx="410.5" cy="680.8" rx="1.0" ry="0.9" fill="#0a1e1a" opacity="0.58"/><ellipse cx="464.7" cy="604.2" rx="2.0" ry="0.9" fill="#0a1e1a" opacity="0.39"/><ellipse cx="414.9" cy="591.8" rx="1.0" ry="0.9" fill="#0a1e1a" opacity="0.42"/><ellipse cx="477.6" cy="701.8" rx="1.8" ry="1.3" fill="#0a1e1a" opacity="0.39"/><ellipse cx="483.8" cy="612.5" rx="1.8" ry="0.8" fill="#0a1e1a" opacity="0.37"/><ellipse cx="471.3" cy="665.1" rx="2.0" ry="1.4" fill="#0a1e1a" opacity="0.45"/><ellipse cx="444.9" cy="675.6" rx="1.2" ry="1.3" fill="#0a1e1a" opacity="0.40"/><ellipse cx="464.1" cy="512.0" rx="1.8" ry="1.8" fill="#0a1e1a" opacity="0.31"/><ellipse cx="446.1" cy="635.6" rx="2.0" ry="1.4" fill="#0a1e1a" opacity="0.39"/><ellipse cx="426.8" cy="696.9" rx="2.1" ry="0.9" fill="#0a1e1a" opacity="0.33"/><ellipse cx="394.7" cy="514.9" rx="1.4" ry="0.9" fill="#0a1e1a" opacity="0.60"/><ellipse cx="452.5" cy="534.7" rx="1.6" ry="1.1" fill="#0a1e1a" opacity="0.47"/><ellipse cx="407.6" cy="542.4" rx="1.1" ry="1.2" fill="#0a1e1a" opacity="0.55"/><ellipse cx="441.7" cy="519.0" rx="1.8" ry="1.7" fill="#0a1e1a" opacity="0.57"/><ellipse cx="466.4" cy="511.5" rx="1.4" ry="0.9" fill="#0a1e1a" opacity="0.57"/><ellipse cx="403.1" cy="648.7" rx="1.2" ry="1.5" fill="#0a1e1a" opacity="0.41"/><ellipse cx="389.3" cy="585.8" rx="1.2" ry="1.7" fill="#0a1e1a" opacity="0.40"/><ellipse cx="436.8" cy="617.1" rx="2.1" ry="0.9" fill="#0a1e1a" opacity="0.51"/><ellipse cx="437.3" cy="653.2" rx="2.2" ry="1.1" fill="#0a1e1a" opacity="0.54"/><ellipse cx="439.2" cy="619.3" rx="0.9" ry="1.6" fill="#0a1e1a" opacity="0.64"/><ellipse cx="421.6" cy="572.0" rx="2.2" ry="0.9" fill="#0a1e1a" opacity="0.33"/><ellipse cx="392.6" cy="668.8" rx="1.9" ry="1.2" fill="#0a1e1a" opacity="0.52"/><ellipse cx="387.0" cy="635.7" rx="1.4" ry="1.3" fill="#0a1e1a" opacity="0.44"/><ellipse cx="426.4" cy="554.0" rx="0.9" ry="1.2" fill="#0a1e1a" opacity="0.39"/><ellipse cx="457.5" cy="669.4" rx="1.8" ry="1.3" fill="#0a1e1a" opacity="0.38"/><ellipse cx="424.7" cy="604.9" rx="1.7" ry="1.8" fill="#0a1e1a" opacity="0.33"/><ellipse cx="434.4" cy="605.9" rx="1.8" ry="1.7" fill="#0a1e1a" opacity="0.57"/><ellipse cx="449.6" cy="657.9" rx="1.7" ry="1.7" fill="#0a1e1a" opacity="0.54"/><ellipse cx="455.3" cy="557.8" rx="2.1" ry="1.2" fill="#0a1e1a" opacity="0.52"/><ellipse cx="470.0" cy="697.9" rx="2.2" ry="0.8" fill="#0a1e1a" opacity="0.41"/><ellipse cx="417.1" cy="586.3" rx="1.0" ry="1.4" fill="#0a1e1a" opacity="0.33"/><ellipse cx="416.2" cy="694.0" rx="1.8" ry="1.3" fill="#0a1e1a" opacity="0.34"/><ellipse cx="483.5" cy="647.3" rx="1.1" ry="1.1" fill="#0a1e1a" opacity="0.52"/><ellipse cx="455.2" cy="560.9" rx="2.1" ry="1.1" fill="#0a1e1a" opacity="0.39"/><ellipse cx="472.1" cy="539.9" rx="1.8" ry="1.0" fill="#0a1e1a" opacity="0.51"/><ellipse cx="413.6" cy="583.9" rx="2.1" ry="1.3" fill="#0a1e1a" opacity="0.45"/><ellipse cx="448.6" cy="564.7" rx="1.0" ry="1.2" fill="#0a1e1a" opacity="0.40"/><ellipse cx="404.4" cy="697.4" rx="0.8" ry="1.6" fill="#0a1e1a" opacity="0.63"/><ellipse cx="457.6" cy="513.7" rx="1.5" ry="0.8" fill="#0a1e1a" opacity="0.51"/><ellipse cx="457.1" cy="556.8" rx="0.8" ry="1.3" fill="#0a1e1a" opacity="0.33"/><ellipse cx="416.8" cy="598.6" rx="2.1" ry="1.2" fill="#0a1e1a" opacity="0.35"/><ellipse cx="466.5" cy="670.4" rx="1.5" ry="0.8" fill="#0a1e1a" opacity="0.37"/><ellipse cx="426.5" cy="617.6" rx="1.1" ry="1.6" fill="#0a1e1a" opacity="0.60"/><ellipse cx="480.3" cy="682.3" rx="0.8" ry="1.4" fill="#0a1e1a" opacity="0.33"/><ellipse cx="477.7" cy="655.7" rx="1.9" ry="1.0" fill="#0a1e1a" opacity="0.32"/><ellipse cx="469.0" cy="628.3" rx="1.7" ry="1.3" fill="#0a1e1a" opacity="0.58"/><ellipse cx="419.8" cy="562.6" rx="1.3" ry="1.1" fill="#0a1e1a" opacity="0.52"/><ellipse cx="476.7" cy="523.8" rx="0.9" ry="1.3" fill="#0a1e1a" opacity="0.54"/><ellipse cx="404.5" cy="562.6" rx="0.9" ry="0.8" fill="#0a1e1a" opacity="0.47"/><ellipse cx="455.1" cy="637.4" rx="1.0" ry="0.9" fill="#0a1e1a" opacity="0.63"/><ellipse cx="440.5" cy="589.6" rx="1.8" ry="1.5" fill="#0a1e1a" opacity="0.48"/><ellipse cx="393.1" cy="671.3" rx="1.1" ry="0.8" fill="#0a1e1a" opacity="0.42"/><ellipse cx="439.9" cy="632.5" rx="1.0" ry="1.5" fill="#0a1e1a" opacity="0.47"/><ellipse cx="401.7" cy="675.9" rx="1.9" ry="1.7" fill="#0a1e1a" opacity="0.54"/><ellipse cx="407.4" cy="661.6" rx="2.1" ry="1.3" fill="#0a1e1a" opacity="0.62"/><ellipse cx="484.9" cy="586.1" rx="2.1" ry="1.7" fill="#0a1e1a" opacity="0.58"/><ellipse cx="386.2" cy="578.6" rx="1.7" ry="1.4" fill="#0a1e1a" opacity="0.56"/><ellipse cx="451.6" cy="541.5" rx="2.1" ry="1.3" fill="#0a1e1a" opacity="0.61"/><ellipse cx="406.3" cy="704.6" rx="1.6" ry="1.6" fill="#0a1e1a" opacity="0.56"/><ellipse cx="475.9" cy="580.7" rx="0.9" ry="1.2" fill="#0a1e1a" opacity="0.36"/><ellipse cx="440.6" cy="668.9" rx="1.3" ry="0.9" fill="#0a1e1a" opacity="0.31"/><ellipse cx="428.6" cy="623.2" rx="0.8" ry="1.5" fill="#0a1e1a" opacity="0.37"/><ellipse cx="396.0" cy="690.9" rx="1.5" ry="1.7" fill="#0a1e1a" opacity="0.48"/><ellipse cx="397.7" cy="556.8" rx="1.4" ry="1.4" fill="#0a1e1a" opacity="0.57"/><ellipse cx="462.4" cy="636.9" rx="1.2" ry="1.2" fill="#0a1e1a" opacity="0.43"/><ellipse cx="435.4" cy="561.8" rx="1.6" ry="1.3" fill="#0a1e1a" opacity="0.31"/><ellipse cx="469.8" cy="624.4" rx="1.9" ry="1.5" fill="#0a1e1a" opacity="0.56"/><ellipse cx="487.3" cy="583.5" rx="1.4" ry="0.8" fill="#0a1e1a" opacity="0.53"/><ellipse cx="444.9" cy="622.4" rx="2.2" ry="1.0" fill="#0a1e1a" opacity="0.38"/><ellipse cx="460.6" cy="668.4" rx="1.5" ry="0.9" fill="#0a1e1a" opacity="0.43"/><ellipse cx="470.1" cy="607.5" rx="1.4" ry="1.2" fill="#0a1e1a" opacity="0.52"/><ellipse cx="446.6" cy="645.1" rx="2.0" ry="1.6" fill="#0a1e1a" opacity="0.43"/><ellipse cx="410.8" cy="662.5" rx="1.9" ry="1.7" fill="#0a1e1a" opacity="0.37"/><ellipse cx="472.3" cy="683.7" rx="0.9" ry="1.1" fill="#0a1e1a" opacity="0.52"/><ellipse cx="400.1" cy="672.1" rx="1.2" ry="1.5" fill="#0a1e1a" opacity="0.40"/><ellipse cx="407.5" cy="550.4" rx="1.5" ry="1.5" fill="#0a1e1a" opacity="0.38"/><ellipse cx="455.7" cy="575.3" rx="1.7" ry="1.2" fill="#0a1e1a" opacity="0.37"/><ellipse cx="399.5" cy="521.3" rx="1.8" ry="1.2" fill="#0a1e1a" opacity="0.34"/><ellipse cx="475.7" cy="637.7" rx="0.8" ry="1.5" fill="#0a1e1a" opacity="0.51"/><ellipse cx="430.7" cy="607.6" rx="2.1" ry="1.2" fill="#0a1e1a" opacity="0.52"/><ellipse cx="450.5" cy="581.3" rx="1.3" ry="1.6" fill="#0a1e1a" opacity="0.52"/><ellipse cx="432.1" cy="610.2" rx="1.1" ry="1.6" fill="#0a1e1a" opacity="0.31"/><ellipse cx="451.2" cy="598.7" rx="1.1" ry="1.4" fill="#0a1e1a" opacity="0.50"/><ellipse cx="393.9" cy="605.6" rx="1.0" ry="1.6" fill="#0a1e1a" opacity="0.41"/><ellipse cx="418.8" cy="552.0" rx="0.9" ry="1.0" fill="#0a1e1a" opacity="0.35"/><ellipse cx="449.3" cy="675.2" rx="1.1" ry="0.9" fill="#0a1e1a" opacity="0.49"/><ellipse cx="396.9" cy="589.0" rx="1.9" ry="1.0" fill="#0a1e1a" opacity="0.54"/><ellipse cx="440.5" cy="526.6" rx="1.1" ry="1.4" fill="#0a1e1a" opacity="0.33"/><ellipse cx="406.0" cy="622.5" rx="1.9" ry="1.3" fill="#0a1e1a" opacity="0.53"/><ellipse cx="385.9" cy="569.0" rx="1.2" ry="1.7" fill="#0a1e1a" opacity="0.43"/><ellipse cx="465.8" cy="516.7" rx="1.5" ry="1.7" fill="#0a1e1a" opacity="0.57"/><ellipse cx="444.7" cy="545.5" rx="2.1" ry="0.9" fill="#0a1e1a" opacity="0.64"/><ellipse cx="465.0" cy="650.3" rx="1.5" ry="1.0" fill="#0a1e1a" opacity="0.42"/><ellipse cx="453.4" cy="637.9" rx="1.3" ry="1.6" fill="#0a1e1a" opacity="0.32"/><ellipse cx="414.6" cy="527.6" rx="1.3" ry="1.6" fill="#0a1e1a" opacity="0.56"/><ellipse cx="400.4" cy="570.1" rx="1.0" ry="1.5" fill="#0a1e1a" opacity="0.45"/><ellipse cx="408.9" cy="583.0" rx="2.0" ry="1.2" fill="#0a1e1a" opacity="0.54"/><ellipse cx="449.7" cy="602.4" rx="1.6" ry="1.2" fill="#0a1e1a" opacity="0.37"/><ellipse cx="435.9" cy="569.4" rx="1.3" ry="1.0" fill="#0a1e1a" opacity="0.62"/><ellipse cx="428.8" cy="549.0" rx="0.8" ry="1.0" fill="#0a1e1a" opacity="0.60"/><ellipse cx="419.7" cy="640.1" rx="1.1" ry="1.5" fill="#0a1e1a" opacity="0.46"/><ellipse cx="460.8" cy="613.0" rx="1.3" ry="1.1" fill="#0a1e1a" opacity="0.51"/><ellipse cx="470.7" cy="644.9" rx="1.5" ry="1.1" fill="#0a1e1a" opacity="0.61"/><ellipse cx="472.2" cy="538.4" rx="1.8" ry="1.6" fill="#0a1e1a" opacity="0.54"/><ellipse cx="484.3" cy="681.4" rx="1.1" ry="1.8" fill="#0a1e1a" opacity="0.41"/><ellipse cx="424.1" cy="700.4" rx="1.0" ry="1.2" fill="#0a1e1a" opacity="0.52"/><ellipse cx="413.1" cy="562.1" rx="1.9" ry="1.4" fill="#0a1e1a" opacity="0.56"/><ellipse cx="466.4" cy="680.1" rx="2.1" ry="1.6" fill="#0a1e1a" opacity="0.64"/><ellipse cx="436.4" cy="646.8" rx="1.5" ry="1.8" fill="#0a1e1a" opacity="0.53"/><ellipse cx="429.3" cy="639.5" rx="1.2" ry="0.9" fill="#0a1e1a" opacity="0.44"/><ellipse cx="399.1" cy="510.8" rx="0.9" ry="1.3" fill="#0a1e1a" opacity="0.57"/><ellipse cx="390.0" cy="634.2" rx="1.0" ry="1.3" fill="#0a1e1a" opacity="0.40"/><ellipse cx="430.9" cy="648.8" rx="1.4" ry="1.2" fill="#0a1e1a" opacity="0.55"/><ellipse cx="396.9" cy="578.0" rx="1.8" ry="1.6" fill="#0a1e1a" opacity="0.64"/><ellipse cx="411.5" cy="631.9" rx="1.2" ry="1.5" fill="#0a1e1a" opacity="0.60"/><ellipse cx="398.9" cy="577.3" rx="2.1" ry="1.2" fill="#0a1e1a" opacity="0.52"/><ellipse cx="469.3" cy="564.3" rx="1.9" ry="0.8" fill="#0a1e1a" opacity="0.42"/><ellipse cx="402.2" cy="577.4" rx="1.1" ry="0.8" fill="#0a1e1a" opacity="0.58"/><ellipse cx="402.9" cy="621.8" rx="1.6" ry="1.6" fill="#0a1e1a" opacity="0.60"/><ellipse cx="449.0" cy="542.9" rx="1.9" ry="0.9" fill="#0a1e1a" opacity="0.63"/><ellipse cx="416.8" cy="559.3" rx="1.1" ry="1.2" fill="#0a1e1a" opacity="0.58"/><ellipse cx="473.1" cy="655.5" rx="1.8" ry="1.0" fill="#0a1e1a" opacity="0.41"/><ellipse cx="416.3" cy="594.5" rx="2.0" ry="1.8" fill="#0a1e1a" opacity="0.33"/><ellipse cx="484.4" cy="689.1" rx="1.4" ry="1.5" fill="#0a1e1a" opacity="0.57"/><ellipse cx="404.2" cy="630.1" rx="2.2" ry="1.7" fill="#0a1e1a" opacity="0.62"/><ellipse cx="393.7" cy="649.4" rx="1.5" ry="1.7" fill="#0a1e1a" opacity="0.36"/><ellipse cx="441.5" cy="533.5" rx="1.9" ry="1.5" fill="#0a1e1a" opacity="0.31"/><ellipse cx="416.9" cy="537.6" rx="1.7" ry="1.4" fill="#0a1e1a" opacity="0.32"/><ellipse cx="482.9" cy="698.2" rx="1.4" ry="1.4" fill="#0a1e1a" opacity="0.43"/><ellipse cx="447.4" cy="587.7" rx="1.4" ry="1.5" fill="#0a1e1a" opacity="0.37"/><ellipse cx="415.7" cy="658.9" rx="1.1" ry="0.9" fill="#0a1e1a" opacity="0.62"/><ellipse cx="401.4" cy="590.2" rx="1.2" ry="1.1" fill="#0a1e1a" opacity="0.42"/><ellipse cx="440.3" cy="532.6" rx="1.5" ry="0.9" fill="#0a1e1a" opacity="0.33"/><ellipse cx="405.8" cy="556.9" rx="1.3" ry="1.1" fill="#0a1e1a" opacity="0.59"/><ellipse cx="452.8" cy="602.3" rx="1.9" ry="1.5" fill="#0a1e1a" opacity="0.41"/><ellipse cx="448.4" cy="655.4" rx="1.5" ry="1.6" fill="#0a1e1a" opacity="0.52"/><ellipse cx="480.6" cy="561.5" rx="1.7" ry="1.8" fill="#0a1e1a" opacity="0.48"/><ellipse cx="478.2" cy="528.5" rx="1.8" ry="1.1" fill="#0a1e1a" opacity="0.56"/><ellipse cx="428.6" cy="614.3" rx="1.1" ry="1.1" fill="#0a1e1a" opacity="0.60"/><ellipse cx="451.3" cy="632.6" rx="1.0" ry="1.1" fill="#0a1e1a" opacity="0.64"/><ellipse cx="405.9" cy="614.9" rx="1.8" ry="1.3" fill="#0a1e1a" opacity="0.49"/><ellipse cx="484.9" cy="662.4" rx="1.1" ry="1.2" fill="#0a1e1a" opacity="0.45"/><ellipse cx="455.4" cy="641.6" rx="1.2" ry="1.5" fill="#0a1e1a" opacity="0.45"/><ellipse cx="386.6" cy="566.9" rx="1.3" ry="1.0" fill="#0a1e1a" opacity="0.53"/><ellipse cx="487.2" cy="691.6" rx="1.7" ry="1.7" fill="#0a1e1a" opacity="0.47"/><ellipse cx="445.4" cy="684.3" rx="0.9" ry="1.2" fill="#0a1e1a" opacity="0.43"/><ellipse cx="420.1" cy="593.4" rx="0.9" ry="1.5" fill="#0a1e1a" opacity="0.63"/><ellipse cx="409.1" cy="546.2" rx="1.3" ry="1.6" fill="#0a1e1a" opacity="0.38"/><ellipse cx="464.4" cy="543.7" rx="1.6" ry="1.5" fill="#0a1e1a" opacity="0.54"/><ellipse cx="393.7" cy="696.5" rx="2.0" ry="1.3" fill="#0a1e1a" opacity="0.60"/><ellipse cx="446.9" cy="542.9" rx="1.4" ry="1.6" fill="#0a1e1a" opacity="0.46"/><ellipse cx="389.3" cy="542.3" rx="1.1" ry="1.4" fill="#0a1e1a" opacity="0.53"/><ellipse cx="431.1" cy="588.7" rx="2.1" ry="1.1" fill="#0a1e1a" opacity="0.54"/><ellipse cx="406.1" cy="610.2" rx="1.1" ry="0.9" fill="#0a1e1a" opacity="0.42"/><ellipse cx="396.8" cy="584.3" rx="1.7" ry="1.3" fill="#0a1e1a" opacity="0.58"/><ellipse cx="434.2" cy="526.4" rx="1.8" ry="1.2" fill="#0a1e1a" opacity="0.56"/><ellipse cx="485.5" cy="612.2" rx="1.2" ry="1.2" fill="#0a1e1a" opacity="0.47"/><ellipse cx="417.9" cy="529.8" rx="1.4" ry="1.5" fill="#0a1e1a" opacity="0.59"/><ellipse cx="463.4" cy="682.4" rx="1.9" ry="1.2" fill="#0a1e1a" opacity="0.53"/><ellipse cx="390.6" cy="664.8" rx="1.8" ry="1.1" fill="#0a1e1a" opacity="0.47"/><ellipse cx="413.0" cy="665.0" rx="1.4" ry="1.6" fill="#0a1e1a" opacity="0.62"/><ellipse cx="465.1" cy="584.1" rx="1.3" ry="1.7" fill="#0a1e1a" opacity="0.62"/><ellipse cx="404.5" cy="580.6" rx="1.9" ry="1.6" fill="#0a1e1a" opacity="0.40"/><ellipse cx="431.0" cy="697.5" rx="0.9" ry="1.1" fill="#0a1e1a" opacity="0.53"/><ellipse cx="478.5" cy="694.6" rx="1.5" ry="1.6" fill="#0a1e1a" opacity="0.64"/><ellipse cx="418.9" cy="554.4" rx="1.2" ry="1.6" fill="#0a1e1a" opacity="0.35"/><ellipse cx="441.3" cy="691.3" rx="1.1" ry="1.4" fill="#0a1e1a" opacity="0.49"/><ellipse cx="484.5" cy="610.1" rx="1.5" ry="1.7" fill="#0a1e1a" opacity="0.56"/><ellipse cx="400.0" cy="666.7" rx="1.4" ry="1.8" fill="#0a1e1a" opacity="0.64"/><ellipse cx="435.8" cy="591.1" rx="1.1" ry="1.1" fill="#0a1e1a" opacity="0.37"/><ellipse cx="402.3" cy="652.4" rx="0.9" ry="1.4" fill="#0a1e1a" opacity="0.51"/><ellipse cx="460.8" cy="620.6" rx="2.1" ry="1.1" fill="#0a1e1a" opacity="0.33"/><ellipse cx="445.0" cy="562.5" rx="2.2" ry="1.7" fill="#0a1e1a" opacity="0.54"/><ellipse cx="470.9" cy="557.7" rx="1.5" ry="1.2" fill="#0a1e1a" opacity="0.42"/><ellipse cx="423.5" cy="603.2" rx="1.7" ry="0.8" fill="#0a1e1a" opacity="0.49"/><ellipse cx="398.2" cy="698.9" rx="1.6" ry="1.4" fill="#0a1e1a" opacity="0.41"/><ellipse cx="457.7" cy="648.5" rx="2.1" ry="1.4" fill="#0a1e1a" opacity="0.39"/><ellipse cx="449.7" cy="519.8" rx="1.8" ry="1.1" fill="#0a1e1a" opacity="0.55"/><ellipse cx="398.6" cy="626.5" rx="1.0" ry="0.8" fill="#0a1e1a" opacity="0.39"/><ellipse cx="472.4" cy="585.8" rx="1.5" ry="1.6" fill="#0a1e1a" opacity="0.64"/><ellipse cx="411.7" cy="645.3" rx="1.9" ry="1.6" fill="#0a1e1a" opacity="0.42"/><ellipse cx="433.9" cy="662.9" rx="1.2" ry="1.3" fill="#0a1e1a" opacity="0.52"/><ellipse cx="472.7" cy="557.5" rx="1.7" ry="1.0" fill="#0a1e1a" opacity="0.35"/><ellipse cx="434.1" cy="636.3" rx="1.7" ry="1.7" fill="#0a1e1a" opacity="0.36"/><ellipse cx="439.6" cy="603.6" rx="1.2" ry="1.7" fill="#0a1e1a" opacity="0.35"/><ellipse cx="411.8" cy="517.9" rx="1.7" ry="1.5" fill="#0a1e1a" opacity="0.38"/><ellipse cx="479.9" cy="633.8" rx="1.1" ry="1.7" fill="#0a1e1a" opacity="0.60"/><ellipse cx="417.3" cy="678.7" rx="1.0" ry="1.1" fill="#0a1e1a" opacity="0.45"/><ellipse cx="483.4" cy="568.3" rx="1.3" ry="1.0" fill="#0a1e1a" opacity="0.59"/><ellipse cx="403.9" cy="675.3" rx="1.3" ry="1.3" fill="#0a1e1a" opacity="0.61"/><ellipse cx="412.5" cy="613.1" rx="1.7" ry="1.4" fill="#0a1e1a" opacity="0.44"/><ellipse cx="451.5" cy="571.3" rx="1.0" ry="0.8" fill="#0a1e1a" opacity="0.51"/><ellipse cx="444.1" cy="665.9" rx="1.0" ry="1.5" fill="#0a1e1a" opacity="0.46"/><ellipse cx="439.1" cy="672.1" rx="1.5" ry="1.2" fill="#0a1e1a" opacity="0.53"/><ellipse cx="400.2" cy="680.2" rx="1.5" ry="0.8" fill="#0a1e1a" opacity="0.47"/><ellipse cx="482.4" cy="700.9" rx="1.4" ry="1.1" fill="#0a1e1a" opacity="0.63"/><ellipse cx="414.3" cy="513.5" rx="1.1" ry="1.3" fill="#0a1e1a" opacity="0.54"/><ellipse cx="391.9" cy="575.2" rx="1.8" ry="1.1" fill="#0a1e1a" opacity="0.36"/><ellipse cx="458.2" cy="595.1" rx="1.8" ry="1.3" fill="#0a1e1a" opacity="0.58"/><ellipse cx="437.7" cy="700.1" rx="1.9" ry="1.5" fill="#0a1e1a" opacity="0.47"/><ellipse cx="447.8" cy="583.4" rx="0.9" ry="1.7" fill="#0a1e1a" opacity="0.58"/><ellipse cx="464.0" cy="677.5" rx="1.6" ry="1.8" fill="#0a1e1a" opacity="0.47"/><ellipse cx="486.0" cy="525.7" rx="1.3" ry="1.4" fill="#0a1e1a" opacity="0.59"/><ellipse cx="438.6" cy="664.1" rx="1.3" ry="1.5" fill="#0a1e1a" opacity="0.58"/><ellipse cx="446.8" cy="514.1" rx="1.7" ry="0.8" fill="#0a1e1a" opacity="0.41"/><ellipse cx="396.8" cy="658.9" rx="1.0" ry="1.5" fill="#0a1e1a" opacity="0.33"/><ellipse cx="406.3" cy="645.5" rx="2.1" ry="0.9" fill="#0a1e1a" opacity="0.52"/><ellipse cx="425.9" cy="631.3" rx="0.9" ry="0.8" fill="#0a1e1a" opacity="0.33"/><ellipse cx="476.8" cy="605.7" rx="1.7" ry="0.9" fill="#0a1e1a" opacity="0.54"/><ellipse cx="477.8" cy="548.6" rx="1.9" ry="1.6" fill="#0a1e1a" opacity="0.65"/><ellipse cx="443.3" cy="635.8" rx="1.3" ry="1.6" fill="#0a1e1a" opacity="0.41"/><ellipse cx="449.2" cy="632.2" rx="2.2" ry="1.6" fill="#0a1e1a" opacity="0.33"/><ellipse cx="403.2" cy="579.7" rx="1.4" ry="1.5" fill="#0a1e1a" opacity="0.39"/><ellipse cx="442.6" cy="598.2" rx="1.2" ry="1.4" fill="#0a1e1a" opacity="0.45"/><ellipse cx="485.9" cy="535.2" rx="2.1" ry="1.4" fill="#0a1e1a" opacity="0.46"/><ellipse cx="393.0" cy="636.1" rx="1.9" ry="1.1" fill="#0a1e1a" opacity="0.55"/><ellipse cx="439.8" cy="527.6" rx="2.0" ry="1.1" fill="#0a1e1a" opacity="0.47"/><ellipse cx="463.4" cy="680.8" rx="2.0" ry="1.2" fill="#0a1e1a" opacity="0.60"/><ellipse cx="400.7" cy="617.6" rx="1.4" ry="1.7" fill="#0a1e1a" opacity="0.55"/><ellipse cx="452.9" cy="668.1" rx="1.3" ry="1.2" fill="#0a1e1a" opacity="0.34"/><ellipse cx="421.1" cy="548.9" rx="1.8" ry="0.9" fill="#0a1e1a" opacity="0.62"/><ellipse cx="446.8" cy="597.0" rx="1.0" ry="1.2" fill="#0a1e1a" opacity="0.50"/><ellipse cx="399.8" cy="700.4" rx="1.3" ry="1.2" fill="#0a1e1a" opacity="0.40"/><ellipse cx="423.4" cy="563.9" rx="2.0" ry="0.9" fill="#0a1e1a" opacity="0.43"/><ellipse cx="446.5" cy="603.5" rx="1.3" ry="1.3" fill="#0a1e1a" opacity="0.32"/><ellipse cx="416.7" cy="594.9" rx="1.9" ry="1.2" fill="#0a1e1a" opacity="0.45"/><ellipse cx="452.4" cy="563.9" rx="1.6" ry="1.0" fill="#0a1e1a" opacity="0.52"/><ellipse cx="440.5" cy="637.5" rx="2.0" ry="1.6" fill="#0a1e1a" opacity="0.65"/><ellipse cx="409.0" cy="696.0" rx="1.4" ry="1.2" fill="#0a1e1a" opacity="0.46"/><ellipse cx="479.9" cy="696.1" rx="1.9" ry="1.1" fill="#0a1e1a" opacity="0.34"/><ellipse cx="406.0" cy="641.1" rx="1.8" ry="0.9" fill="#0a1e1a" opacity="0.30"/><ellipse cx="487.5" cy="575.9" rx="0.9" ry="1.3" fill="#0a1e1a" opacity="0.33"/><ellipse cx="468.9" cy="613.2" rx="1.7" ry="1.7" fill="#0a1e1a" opacity="0.34"/><ellipse cx="407.2" cy="663.4" rx="1.7" ry="1.2" fill="#0a1e1a" opacity="0.42"/><ellipse cx="448.8" cy="694.2" rx="2.1" ry="1.7" fill="#0a1e1a" opacity="0.64"/><ellipse cx="398.6" cy="515.5" rx="2.0" ry="1.0" fill="#0a1e1a" opacity="0.48"/><ellipse cx="433.2" cy="699.9" rx="1.4" ry="0.9" fill="#0a1e1a" opacity="0.37"/><ellipse cx="478.1" cy="669.1" rx="1.0" ry="1.8" fill="#0a1e1a" opacity="0.43"/><ellipse cx="459.9" cy="620.1" rx="2.0" ry="1.3" fill="#0a1e1a" opacity="0.31"/><ellipse cx="442.4" cy="676.0" rx="1.4" ry="1.6" fill="#0a1e1a" opacity="0.46"/><ellipse cx="422.0" cy="580.0" rx="1.1" ry="1.3" fill="#0a1e1a" opacity="0.64"/></g>
<path d="M443.5,510.5 C444.9,510.2 448.7,508.8 451.0,509.3 C453.3,509.8 455.1,512.9 457.1,513.6 C459.2,514.3 461.0,513.7 463.3,513.6 C465.6,513.5 468.7,512.2 470.8,513.0 C472.9,513.8 473.9,517.1 475.8,518.6 C477.7,520.1 479.9,521.3 482.0,522.3 C484.1,523.3 487.4,523.3 488.2,524.8 C489.0,526.2 488.3,529.1 486.9,531.0 C485.4,532.9 482.0,534.8 479.5,536.0 C477.0,537.2 473.6,537.0 472.0,538.5 C470.4,540.0 469.8,542.4 469.6,544.7 C469.4,547.0 471.0,550.1 470.8,552.1 C470.6,554.1 467.7,555.5 468.3,557.0 C468.9,558.5 472.4,559.2 474.5,560.8 C476.6,562.4 478.7,564.6 480.7,566.7 C482.7,568.8 486.0,570.3 486.6,573.4 C487.2,576.5 485.4,581.8 484.1,585.2 C482.8,588.6 481.0,591.1 479.0,593.6 C477.0,596.1 474.2,597.8 472.3,600.3 C470.4,602.8 469.8,606.5 467.3,608.7 C464.8,610.9 460.6,612.6 457.2,613.7 C453.8,614.8 449.9,614.8 447.1,615.4 C444.3,616.0 442.1,615.7 440.4,617.1 C438.7,618.5 437.1,620.7 437.1,623.8 C437.1,626.9 438.2,632.7 440.4,635.5 C442.6,638.3 446.9,639.2 450.5,640.6 C454.1,642.0 460.1,641.7 462.3,643.9 C464.5,646.1 464.5,650.6 463.9,654.0 C463.3,657.4 459.7,660.2 458.9,664.1 C458.1,668.0 459.7,673.6 458.9,677.5 C458.1,681.4 456.4,684.4 453.9,687.6 C451.4,690.9 446.6,694.6 443.8,697.0 C441.0,699.4 440.3,700.7 437.0,702.0 C433.7,703.3 427.5,705.2 424.0,705.0 C420.5,704.8 419.1,702.2 416.0,701.0 C412.9,699.8 408.7,699.1 405.2,697.7 C401.7,696.3 397.5,694.8 395.1,692.6 C392.7,690.4 391.1,688.4 390.8,684.5 C390.5,680.6 393.2,672.8 393.4,669.1 C393.6,665.4 391.2,664.4 391.8,662.4 C392.4,660.4 394.3,658.8 396.8,657.4 C399.3,656.0 404.7,655.7 406.9,654.0 C409.1,652.3 410.5,649.2 410.2,647.3 C409.9,645.3 408.0,643.7 405.2,642.3 C402.4,640.9 396.8,640.9 393.4,638.9 C390.0,636.9 386.5,634.1 385.0,630.5 C383.5,626.9 383.6,621.3 384.2,617.1 C384.8,612.9 386.3,608.1 388.4,605.3 C390.5,602.5 394.0,601.7 396.8,600.3 C399.6,598.9 404.1,599.1 405.2,596.9 C406.3,594.7 402.9,589.4 403.5,586.9 C404.1,584.4 405.4,583.2 408.5,581.8 C411.6,580.4 418.6,579.9 422.0,578.5 C425.4,577.1 427.0,575.4 428.7,573.4 C430.4,571.4 432.2,569.5 432.0,566.7 C431.8,563.9 429.4,559.2 427.4,556.8 C425.4,554.4 422.1,553.7 420.0,552.1 C417.9,550.5 415.8,549.4 415.0,547.1 C414.2,544.8 414.0,541.0 415.0,538.5 C416.0,536.0 418.9,534.0 421.2,532.3 C423.5,530.6 426.3,531.0 428.6,528.5 C430.9,526.0 432.5,520.3 434.8,517.4 C437.1,514.5 440.9,512.4 442.3,511.2 C443.8,510.1 442.1,510.8 443.5,510.5Z" fill="none" stroke="#103848" stroke-width="1.4" stroke-opacity="0.3" filter="url(#mb1)"/></g>
<g fill="#fff" filter="url(#mb07)" opacity="0.85"><path d="M443,537 l3,1 l1,4 l-1,4 l-3,-2 z"/><path d="M452,525 l3,1 l-1,4 l-2,0 z"/></g>
<defs><clipPath id="tpb"><path d="M305.3,492.9 C309.0,493.3 314.9,494.2 317.1,496.8 C319.3,499.4 319.0,504.0 318.4,508.6 C317.8,513.2 315.8,520.0 313.2,524.4 C310.6,528.8 306.3,532.3 302.6,534.9 C298.9,537.5 293.0,537.1 290.8,540.2 C288.6,543.3 291.9,549.8 289.5,553.3 C287.1,556.8 280.8,558.1 276.4,561.2 C272.0,564.3 265.8,568.2 263.2,571.7 C260.6,575.2 263.7,579.6 260.6,582.2 C257.5,584.8 249.2,586.2 244.8,587.5 C240.4,588.8 235.8,588.4 234.3,590.1 C232.8,591.9 236.5,594.9 235.6,598.0 C234.7,601.1 232.4,605.9 229.1,608.5 C225.8,611.1 219.0,610.6 215.9,613.7 C212.8,616.8 212.9,622.5 210.7,626.9 C208.5,631.3 205.0,636.1 202.8,640.0 C200.6,643.9 198.4,645.7 197.5,650.5 C196.6,655.3 198.8,664.5 197.5,668.9 C196.2,673.3 191.2,672.8 189.7,676.8 C188.2,680.8 188.8,687.8 188.4,692.6 C188.0,697.4 189.0,702.6 187.0,705.7 C185.0,708.8 180.4,710.6 176.5,711.0 C172.6,711.4 166.9,710.5 163.4,708.3 C159.9,706.1 156.8,701.7 155.5,697.8 C154.2,693.9 154.2,688.6 155.5,684.7 C156.8,680.8 162.1,679.0 163.4,674.2 C164.7,669.4 162.5,661.1 163.4,655.8 C164.3,650.5 166.4,646.5 168.6,642.6 C170.8,638.7 174.7,636.5 176.5,632.1 C178.3,627.7 178.3,621.6 179.2,616.4 C180.1,611.1 179.6,604.1 181.8,600.6 C184.0,597.1 189.2,597.6 192.3,595.4 C195.4,593.2 197.6,591.5 200.2,587.5 C202.8,583.5 204.6,575.7 208.1,571.7 C211.6,567.8 217.7,566.0 221.2,563.8 C224.7,561.6 225.2,561.7 229.1,558.6 C233.0,555.5 240.0,549.4 244.8,545.4 C249.6,541.4 254.1,538.0 258.0,534.9 C261.9,531.8 265.4,530.9 268.5,527.0 C271.6,523.1 273.8,515.7 276.4,511.3 C279.0,506.9 281.2,503.7 284.3,500.8 C287.4,497.9 291.3,495.5 294.8,494.2 C298.3,492.9 301.6,492.5 305.3,492.9Z"/></clipPath></defs>
<defs><filter id="lumpb" x="-10%" y="-10%" width="120%" height="120%"><feTurbulence type="fractalNoise" baseFrequency="0.12" numOctaves="2" seed="31" result="n"/><feDisplacementMap in="SourceGraphic" in2="n" scale="7" xChannelSelector="R" yChannelSelector="G"/></filter></defs>
<g filter="url(#lumpb)"><path d="M305.3,492.9 C309.0,493.3 314.9,494.2 317.1,496.8 C319.3,499.4 319.0,504.0 318.4,508.6 C317.8,513.2 315.8,520.0 313.2,524.4 C310.6,528.8 306.3,532.3 302.6,534.9 C298.9,537.5 293.0,537.1 290.8,540.2 C288.6,543.3 291.9,549.8 289.5,553.3 C287.1,556.8 280.8,558.1 276.4,561.2 C272.0,564.3 265.8,568.2 263.2,571.7 C260.6,575.2 263.7,579.6 260.6,582.2 C257.5,584.8 249.2,586.2 244.8,587.5 C240.4,588.8 235.8,588.4 234.3,590.1 C232.8,591.9 236.5,594.9 235.6,598.0 C234.7,601.1 232.4,605.9 229.1,608.5 C225.8,611.1 219.0,610.6 215.9,613.7 C212.8,616.8 212.9,622.5 210.7,626.9 C208.5,631.3 205.0,636.1 202.8,640.0 C200.6,643.9 198.4,645.7 197.5,650.5 C196.6,655.3 198.8,664.5 197.5,668.9 C196.2,673.3 191.2,672.8 189.7,676.8 C188.2,680.8 188.8,687.8 188.4,692.6 C188.0,697.4 189.0,702.6 187.0,705.7 C185.0,708.8 180.4,710.6 176.5,711.0 C172.6,711.4 166.9,710.5 163.4,708.3 C159.9,706.1 156.8,701.7 155.5,697.8 C154.2,693.9 154.2,688.6 155.5,684.7 C156.8,680.8 162.1,679.0 163.4,674.2 C164.7,669.4 162.5,661.1 163.4,655.8 C164.3,650.5 166.4,646.5 168.6,642.6 C170.8,638.7 174.7,636.5 176.5,632.1 C178.3,627.7 178.3,621.6 179.2,616.4 C180.1,611.1 179.6,604.1 181.8,600.6 C184.0,597.1 189.2,597.6 192.3,595.4 C195.4,593.2 197.6,591.5 200.2,587.5 C202.8,583.5 204.6,575.7 208.1,571.7 C211.6,567.8 217.7,566.0 221.2,563.8 C224.7,561.6 225.2,561.7 229.1,558.6 C233.0,555.5 240.0,549.4 244.8,545.4 C249.6,541.4 254.1,538.0 258.0,534.9 C261.9,531.8 265.4,530.9 268.5,527.0 C271.6,523.1 273.8,515.7 276.4,511.3 C279.0,506.9 281.2,503.7 284.3,500.8 C287.4,497.9 291.3,495.5 294.8,494.2 C298.3,492.9 301.6,492.5 305.3,492.9Z" fill="#efeef0" stroke="#cac8cc" stroke-width="0.9"/><path d="M305.3,492.9 C309.0,493.3 314.9,494.2 317.1,496.8 C319.3,499.4 319.0,504.0 318.4,508.6 C317.8,513.2 315.8,520.0 313.2,524.4 C310.6,528.8 306.3,532.3 302.6,534.9 C298.9,537.5 293.0,537.1 290.8,540.2 C288.6,543.3 291.9,549.8 289.5,553.3 C287.1,556.8 280.8,558.1 276.4,561.2 C272.0,564.3 265.8,568.2 263.2,571.7 C260.6,575.2 263.7,579.6 260.6,582.2 C257.5,584.8 249.2,586.2 244.8,587.5 C240.4,588.8 235.8,588.4 234.3,590.1 C232.8,591.9 236.5,594.9 235.6,598.0 C234.7,601.1 232.4,605.9 229.1,608.5 C225.8,611.1 219.0,610.6 215.9,613.7 C212.8,616.8 212.9,622.5 210.7,626.9 C208.5,631.3 205.0,636.1 202.8,640.0 C200.6,643.9 198.4,645.7 197.5,650.5 C196.6,655.3 198.8,664.5 197.5,668.9 C196.2,673.3 191.2,672.8 189.7,676.8 C188.2,680.8 188.8,687.8 188.4,692.6 C188.0,697.4 189.0,702.6 187.0,705.7 C185.0,708.8 180.4,710.6 176.5,711.0 C172.6,711.4 166.9,710.5 163.4,708.3 C159.9,706.1 156.8,701.7 155.5,697.8 C154.2,693.9 154.2,688.6 155.5,684.7 C156.8,680.8 162.1,679.0 163.4,674.2 C164.7,669.4 162.5,661.1 163.4,655.8 C164.3,650.5 166.4,646.5 168.6,642.6 C170.8,638.7 174.7,636.5 176.5,632.1 C178.3,627.7 178.3,621.6 179.2,616.4 C180.1,611.1 179.6,604.1 181.8,600.6 C184.0,597.1 189.2,597.6 192.3,595.4 C195.4,593.2 197.6,591.5 200.2,587.5 C202.8,583.5 204.6,575.7 208.1,571.7 C211.6,567.8 217.7,566.0 221.2,563.8 C224.7,561.6 225.2,561.7 229.1,558.6 C233.0,555.5 240.0,549.4 244.8,545.4 C249.6,541.4 254.1,538.0 258.0,534.9 C261.9,531.8 265.4,530.9 268.5,527.0 C271.6,523.1 273.8,515.7 276.4,511.3 C279.0,506.9 281.2,503.7 284.3,500.8 C287.4,497.9 291.3,495.5 294.8,494.2 C298.3,492.9 301.6,492.5 305.3,492.9Z" fill="none" stroke="#d8d6da" stroke-width="0.7" transform="translate(1.5,1.5)"/></g>
<g clip-path="url(#tpb)"><g opacity="0.6" filter="url(#mb5)"><rect x="155.5" y="490" width="162.89999999999998" height="40" fill="#ecd8ee"/><rect x="155.5" y="530" width="162.89999999999998" height="30" fill="#d6eaea"/><rect x="155.5" y="560" width="162.89999999999998" height="24" fill="#ecd8ee"/><rect x="155.5" y="584" width="162.89999999999998" height="20" fill="#d6eaea"/><rect x="155.5" y="604" width="162.89999999999998" height="30" fill="#ecd8ee"/><rect x="155.5" y="634" width="162.89999999999998" height="40" fill="#d6eaea"/><rect x="155.5" y="674" width="162.89999999999998" height="46" fill="#ecd8ee"/></g>
<path d="M305.3,492.9 C309.0,493.3 314.9,494.2 317.1,496.8 C319.3,499.4 319.0,504.0 318.4,508.6 C317.8,513.2 315.8,520.0 313.2,524.4 C310.6,528.8 306.3,532.3 302.6,534.9 C298.9,537.5 293.0,537.1 290.8,540.2 C288.6,543.3 291.9,549.8 289.5,553.3 C287.1,556.8 280.8,558.1 276.4,561.2 C272.0,564.3 265.8,568.2 263.2,571.7 C260.6,575.2 263.7,579.6 260.6,582.2 C257.5,584.8 249.2,586.2 244.8,587.5 C240.4,588.8 235.8,588.4 234.3,590.1 C232.8,591.9 236.5,594.9 235.6,598.0 C234.7,601.1 232.4,605.9 229.1,608.5 C225.8,611.1 219.0,610.6 215.9,613.7 C212.8,616.8 212.9,622.5 210.7,626.9 C208.5,631.3 205.0,636.1 202.8,640.0 C200.6,643.9 198.4,645.7 197.5,650.5 C196.6,655.3 198.8,664.5 197.5,668.9 C196.2,673.3 191.2,672.8 189.7,676.8 C188.2,680.8 188.8,687.8 188.4,692.6 C188.0,697.4 189.0,702.6 187.0,705.7 C185.0,708.8 180.4,710.6 176.5,711.0 C172.6,711.4 166.9,710.5 163.4,708.3 C159.9,706.1 156.8,701.7 155.5,697.8 C154.2,693.9 154.2,688.6 155.5,684.7 C156.8,680.8 162.1,679.0 163.4,674.2 C164.7,669.4 162.5,661.1 163.4,655.8 C164.3,650.5 166.4,646.5 168.6,642.6 C170.8,638.7 174.7,636.5 176.5,632.1 C178.3,627.7 178.3,621.6 179.2,616.4 C180.1,611.1 179.6,604.1 181.8,600.6 C184.0,597.1 189.2,597.6 192.3,595.4 C195.4,593.2 197.6,591.5 200.2,587.5 C202.8,583.5 204.6,575.7 208.1,571.7 C211.6,567.8 217.7,566.0 221.2,563.8 C224.7,561.6 225.2,561.7 229.1,558.6 C233.0,555.5 240.0,549.4 244.8,545.4 C249.6,541.4 254.1,538.0 258.0,534.9 C261.9,531.8 265.4,530.9 268.5,527.0 C271.6,523.1 273.8,515.7 276.4,511.3 C279.0,506.9 281.2,503.7 284.3,500.8 C287.4,497.9 291.3,495.5 294.8,494.2 C298.3,492.9 301.6,492.5 305.3,492.9Z" fill="none" stroke="#f6f6f7" stroke-width="5" opacity="0.8"/>
<g fill="none" stroke-width="0.6" stroke-opacity="0.75"><path d="M157.5,517.4q-1.8,1.4 -4.0,-2.3M178.1,517.4q0.3,2.4 -4.3,2.3M170.7,497.3q1.7,-0.7 2.5,2.7M187.8,564.9q-1.8,2.0 -5.1,-1.9M310.9,675.8q-0.9,1.2 -2.9,-0.9M291.8,708.6q2.3,0.5 0.9,4.7M162.2,566.2q-0.9,1.6 -3.6,-0.6M260.9,675.3q2.7,-0.7 3.2,4.5M257.1,611.9q-0.6,-1.2 1.8,-2.0M186.9,693.8q-1.9,-1.4 1.2,-4.5M171.1,580.0q1.9,-1.2 3.6,2.6M171.6,707.3q1.1,1.0 -1.1,2.8M255.3,631.7q1.3,0.3 0.4,2.7M212.3,495.3q-1.2,1.2 -3.0,-1.3M184.2,502.7q1.8,1.8 -2.1,4.7M163.6,626.8q0.4,1.5 -2.4,1.8M268.7,607.3q1.2,-1.4 3.5,1.1M231.6,522.0q1.8,1.7 -1.9,4.5M276.8,698.5q-0.8,-2.0 3.1,-2.9M182.6,679.0q1.4,1.3 -1.4,3.5M178.4,575.9q-0.7,1.8 -3.8,0.0M271.3,611.0q0.1,2.4 -4.5,2.0M214.8,580.4q0.7,-1.7 3.6,0.2M249.9,580.9q0.3,-1.6 3.1,-0.6M254.1,677.5q-1.7,-0.4 -0.4,-3.4M171.1,618.1q0.7,1.7 -2.6,2.5M243.9,698.2q-0.9,-1.8 2.7,-3.1M295.3,560.2q-1.7,1.5 -4.0,-2.2M266.9,563.5q2.5,-0.3 2.3,4.4M178.4,503.3q-0.5,1.2 -2.5,-0.1M222.1,610.3q-1.3,0.5 -1.9,-2.1M274.0,566.8q0.7,1.2 -1.7,2.1M295.4,505.3q-2.4,-1.1 0.3,-5.3M208.0,577.8q-2.4,1.3 -4.2,-3.4M267.0,675.9q2.3,0.6 0.6,4.7M229.0,580.5q1.0,-2.2 4.7,0.2M250.9,682.9q1.0,-1.0 2.6,1.0M224.1,561.2q-0.3,1.9 -3.7,0.9M264.6,567.6q0.6,1.4 -2.2,2.2M197.8,690.5q1.2,2.1 -3.1,3.7M225.9,510.0q2.1,1.4 -1.1,4.8M234.1,506.4q-1.4,-1.0 0.9,-3.3M293.4,612.6q0.2,-1.4 2.7,-0.6M270.7,626.0q1.5,-2.1 5.1,1.3M245.3,622.0q0.2,-1.6 3.1,-0.9M294.9,705.6q-0.1,1.3 -2.5,0.8M255.4,525.3q1.9,-0.4 2.1,3.3M298.4,570.5q-2.0,1.7 -4.6,-2.5M289.6,566.2q-2.3,0.0 -1.6,-4.2M186.1,522.6q0.9,-1.1 2.8,0.9M287.7,677.8q-0.9,1.2 -2.9,-0.7M167.4,583.2q-0.4,1.2 -2.6,0.2M239.3,528.2q1.3,0.3 0.4,2.6M178.9,705.4q1.5,-1.8 4.4,1.5M302.0,563.9q0.0,2.6 -4.8,1.9M254.3,694.3q-1.2,1.4 -3.5,-1.1M272.4,685.4q0.8,1.4 -2.0,2.5M157.7,615.0q1.9,-1.0 3.2,2.8M247.9,706.9q1.9,0.5 0.4,3.9M168.5,622.5q-2.0,-1.2 0.8,-4.5M229.3,527.5q-1.5,-1.1 1.0,-3.5M267.1,701.6q1.6,1.6 -1.9,4.1M268.7,629.3q2.1,1.6 -1.4,5.1M254.2,574.2q1.0,-0.9 2.5,1.2M196.8,508.0q-1.0,-1.7 2.5,-3.0M279.3,576.1q0.9,-0.9 2.4,0.9M247.6,526.4q1.5,1.4 -1.5,3.9M169.7,509.1q1.2,1.3 -1.6,3.2M288.6,710.2q1.4,0.4 0.2,2.9M226.1,709.1q-2.5,-0.6 -0.6,-5.2M290.5,710.1q-1.3,-1.0 0.9,-3.1M191.7,505.2q1.8,-1.0 3.3,2.7M253.7,683.2q-0.7,-1.7 2.7,-2.5M250.9,510.8q-0.0,1.7 -3.3,1.2M212.8,576.8q1.7,0.5 0.2,3.5M186.1,691.3q2.6,0.3 1.3,5.1M264.5,579.6q-0.6,2.5 -5.1,0.7M196.9,523.8q0.7,-2.5 5.2,-0.4M287.0,614.7q-0.5,-2.5 4.3,-2.8M226.4,621.7q-1.7,-1.8 2.1,-4.6M216.1,700.3q-0.3,-1.8 3.1,-1.9M269.7,493.0q1.8,1.1 -0.7,4.2M205.6,581.6q-0.5,-1.9 3.1,-2.4M187.0,512.4q-2.5,-1.2 0.4,-5.6M315.9,604.3q-0.0,1.5 -2.8,1.0M292.6,580.6q-2.3,-0.2 -1.4,-4.5M260.2,572.1q0.5,1.6 -2.5,2.1M158.9,631.5q-1.5,-1.9 2.4,-4.3M172.7,521.0q1.5,0.2 0.6,2.9M232.6,695.2q0.1,-2.2 4.3,-1.5M291.0,700.5q-0.3,2.7 -5.3,1.3M236.4,710.2q0.1,2.3 -4.3,1.8M279.1,624.0q-0.6,2.6 -5.2,0.8M197.1,680.1q1.6,-1.3 3.6,2.0M213.5,618.1q0.4,-1.2 2.6,-0.1M276.8,516.9q-0.3,-1.2 2.0,-1.4M213.6,695.2q0.9,-0.9 2.4,1.0M218.7,692.3q0.9,1.7 -2.6,2.9M180.6,705.6q0.2,-2.1 4.1,-1.3M177.6,521.8q-1.6,-1.5 1.7,-4.0M157.2,703.1q-1.2,1.1 -3.0,-1.3M259.0,692.3q-1.2,1.6 -3.9,-1.0M212.5,680.6q1.7,-0.1 1.3,3.1M313.7,581.8q-0.9,-2.1 3.3,-3.3M250.4,504.1q-1.3,-2.1 3.1,-3.9M260.2,689.8q2.2,-0.5 2.5,3.7M285.4,502.6q-1.7,1.1 -3.3,-2.5M197.0,605.0q-0.7,1.1 -2.5,-0.6M290.1,611.0q1.6,-1.2 3.4,2.2M295.6,625.8q-2.7,0.1 -2.1,-5.0M214.3,706.0q-2.3,-1.4 1.0,-5.3M170.7,610.6q-1.0,2.3 -5.0,-0.2M303.9,680.4q-1.0,0.9 -2.3,-1.3M243.1,569.2q1.4,1.3 -1.4,3.5M221.8,625.2q1.2,-0.3 1.4,2.1M245.2,711.0q1.1,-1.1 2.9,1.3M283.0,692.2q-1.8,1.1 -3.4,-2.4M203.5,710.4q0.9,2.1 -3.3,3.3M316.8,705.5q1.1,-1.5 3.7,1.0M308.3,679.9q-1.6,0.9 -2.8,-2.3M209.0,563.6q-1.7,-0.8 0.3,-3.7M311.7,493.1q-1.5,-1.1 1.1,-3.6M318.1,710.1q-0.5,-2.3 3.9,-2.7M255.8,703.2q0.9,1.2 -1.7,2.6M300.0,569.9q-0.9,1.8 -3.9,-0.3M245.4,630.2q-0.5,-2.5 4.3,-2.7M313.6,496.0q2.0,-0.2 1.7,3.6M174.7,499.3q-0.8,-2.4 3.9,-3.1M222.3,682.4q2.6,0.0 1.8,4.9M225.8,560.8q-1.2,1.8 -4.1,-1.0M303.7,694.7q1.8,0.3 0.8,3.5M186.5,523.5q1.3,-1.8 4.4,1.1M180.0,676.4q1.6,0.2 0.9,3.2M306.5,619.8q-0.7,1.1 -2.5,-0.5M184.7,675.5q2.0,1.1 -0.5,4.6M187.4,700.3q2.0,0.2 1.0,3.8M226.8,692.1q1.3,2.3 -3.4,4.1M315.5,610.8q-0.1,-2.2 4.0,-1.7M267.4,522.1q-0.7,-1.8 2.9,-2.6M178.8,678.7q0.7,-1.4 3.2,0.2M268.8,700.2q2.4,-0.1 1.9,4.5M310.3,566.7q1.5,2.0 -2.6,4.2M157.9,689.9q2.2,-0.7 3.0,3.6M267.5,581.0q-0.8,2.2 -4.7,0.2M284.2,510.9q1.0,0.9 -0.9,2.5M187.7,611.7q-2.5,0.9 -3.5,-4.1M159.5,498.1q1.3,0.3 0.4,2.6M207.0,632.3q0.0,-2.5 4.7,-1.7M168.7,583.5q-1.5,-0.9 0.6,-3.4M206.5,579.6q1.5,0.0 1.0,2.9M179.7,524.4q2.2,-0.4 2.3,3.8M314.1,512.0q-1.3,0.7 -2.2,-2.0M223.0,623.5q-0.2,-2.1 3.8,-1.9M256.8,621.9q0.6,1.4 -2.1,2.1M236.0,508.7q-1.6,1.5 -4.0,-1.9M297.9,705.5q-1.3,-0.7 0.3,-2.8M186.8,633.9q2.4,-0.8 3.3,3.9M311.4,575.4q-1.3,0.2 -1.2,-2.3M257.2,526.9q0.7,2.3 -3.8,3.0M234.2,614.6q-0.2,1.3 -2.6,0.6M209.8,576.6q1.8,-1.5 4.1,2.4M230.3,613.1q-0.7,-2.3 3.8,-2.9M275.6,567.2q-0.6,-2.6 4.4,-3.1M302.6,615.6q2.6,0.3 1.4,5.1M163.5,606.7q1.3,0.3 0.4,2.6M250.7,678.9q1.5,1.0 -0.8,3.6M196.0,620.6q-1.3,2.4 -5.4,-0.7M209.3,680.8q-1.6,1.1 -3.3,-2.2M229.3,509.3q0.4,1.9 -3.3,2.0M300.5,681.9q-0.2,2.3 -4.5,1.3M286.4,626.5q-1.9,-0.5 -0.4,-3.9M216.7,520.5q-1.5,0.5 -2.1,-2.4M225.6,689.1q1.4,-0.5 1.9,2.2M252.8,680.8q2.0,-0.3 2.0,3.6M278.1,517.9q-0.7,2.3 -4.7,0.2M298.7,521.9q1.6,-2.0 4.9,1.6M170.2,629.6q-0.7,2.4 -5.0,0.4M217.9,688.7q-0.4,-1.6 2.7,-1.9M235.7,615.7q-2.2,1.3 -4.0,-3.1M176.9,686.2q1.5,-0.7 2.5,2.3M266.0,630.5q1.2,-0.8 2.4,1.7M243.7,496.2q1.6,1.6 -1.9,4.2M301.0,682.4q0.3,-2.5 4.8,-1.2M209.7,568.8q1.9,1.2 -0.9,4.5M261.6,697.4q1.4,-1.4 3.7,1.6M251.0,523.3q2.1,-1.6 4.6,2.8M195.0,493.0q1.6,-0.1 1.4,2.9M173.4,569.2q-2.0,-1.6 1.5,-4.8M300.0,689.2q-0.6,-1.5 2.3,-2.1M199.4,698.9q-1.9,-0.5 -0.5,-3.9M254.4,568.6q-0.7,2.0 -4.2,0.2M210.4,676.1q1.8,-0.3 1.9,3.2M285.0,579.7q1.7,-0.0 1.2,3.1M274.5,629.3q1.4,-0.2 1.5,2.5M197.1,611.0q1.0,-2.1 4.5,0.3M191.9,608.8q0.9,-2.5 5.2,-0.1M177.1,688.9q2.5,0.5 1.0,5.0M196.9,525.7q0.9,1.6 -2.3,2.9M260.6,515.1q1.7,0.4 0.4,3.4M184.5,704.3q-1.1,-0.7 0.6,-2.5M288.4,577.1q-1.4,-1.5 1.7,-3.6M177.0,609.5q-1.6,2.2 -5.2,-1.4M162.2,621.3q2.0,-1.1 3.5,3.0M211.2,506.9q0.9,2.3 -3.6,3.3M263.6,614.0q-1.3,-1.2 1.2,-3.3M228.4,517.6q-1.0,1.9 -4.3,-0.4M255.0,520.9q1.2,-0.6 1.9,1.9M305.7,703.0q1.1,1.1 -1.3,2.8M290.7,500.1q0.9,-1.7 3.9,0.4M288.3,624.4q0.2,-1.6 3.1,-0.8M269.1,520.3q-0.1,-1.6 2.9,-1.4M280.6,699.1q2.3,-0.4 2.5,4.0M224.5,614.8q1.1,1.3 -1.6,3.0M240.1,566.2q1.5,-0.7 2.5,2.3M272.3,689.5q0.5,-2.5 5.0,-1.0M184.5,618.2q2.1,-0.7 2.8,3.3M192.6,562.9q-1.5,0.8 -2.6,-2.1M181.9,686.8q-1.5,0.8 -2.6,-2.1M254.2,688.6q-1.8,-0.5 -0.3,-3.7M312.0,563.3q-1.0,1.3 -3.1,-0.8M301.4,526.0q1.6,1.6 -1.9,4.1M188.0,697.8q1.2,-0.3 1.5,2.0M164.9,566.0q-1.9,-1.3 1.0,-4.5M258.8,514.3q0.1,2.8 -5.1,2.1M302.1,527.8q-1.6,-1.2 1.0,-3.9M197.4,522.6q1.7,2.1 -2.7,4.7M192.1,561.5q-1.1,-0.7 0.6,-2.6M307.9,577.9q0.1,-1.8 3.5,-1.1M208.0,618.3q-2.5,-0.5 -0.8,-5.1M212.3,565.4q-1.7,-1.0 0.7,-4.0M220.1,676.4q0.5,1.6 -2.6,2.1M176.5,494.2q2.0,-1.9 5.0,2.4M184.6,683.7q2.0,-0.5 2.4,3.4M283.2,693.1q-2.4,1.3 -4.1,-3.6M186.5,702.2q-2.3,1.4 -4.3,-3.3M274.7,609.4q-0.9,1.2 -2.8,-0.9M277.1,517.0q0.8,-1.6 3.7,0.4M279.2,516.0q2.5,-0.2 2.1,4.6M253.3,626.6q-1.6,-0.6 -0.1,-3.4M206.7,573.8q1.2,-1.4 3.5,1.1M263.0,628.9q-1.3,-1.0 1.0,-3.1M220.9,622.8q-2.0,-1.4 1.1,-4.7M210.0,572.3q0.0,1.3 -2.4,0.9M298.4,620.5q-0.6,-1.8 2.8,-2.4M256.0,704.6q-0.2,1.7 -3.4,0.9M267.4,604.1q-0.6,1.2 -2.6,-0.2M194.7,681.8q-0.5,2.3 -4.7,0.8M203.2,618.8q-1.1,-0.5 0.1,-2.4M286.5,681.8q0.5,1.8 -3.1,2.2M300.1,508.3q1.5,0.6 -0.1,3.3M256.6,571.7q0.8,-1.7 3.8,0.3M166.8,709.7q-0.5,-2.4 4.1,-2.6M167.5,625.7q-1.0,2.4 -5.2,-0.0M239.5,512.0q-1.4,-1.5 1.8,-3.6M239.6,624.2q1.4,-0.4 1.7,2.2M254.2,529.7q1.7,0.1 1.0,3.3M209.6,689.7q-1.7,-1.7 2.0,-4.4M208.9,576.2q-1.3,-0.6 0.1,-2.8M238.2,676.5q-1.7,2.1 -5.1,-1.6M188.3,609.9q1.1,0.7 -0.6,2.6M198.8,562.7q-2.2,0.9 -3.2,-3.5M195.8,524.8q-2.6,-0.3 -1.3,-5.0M186.7,581.1q1.2,-1.8 4.1,0.9M288.8,628.5q-1.2,-1.9 2.6,-3.6M259.1,697.7q-2.0,-0.8 0.1,-4.3M291.3,708.0q-0.5,1.3 -2.8,0.0M203.1,619.1q0.3,-1.3 2.7,-0.4M297.3,690.8q-2.6,-0.1 -1.8,-5.0M257.5,502.5q0.9,1.7 -2.6,2.9M229.8,680.8q1.8,-0.1 1.5,3.3M248.4,583.7q-0.5,1.2 -2.6,-0.1M303.7,507.4q-1.3,-1.1 1.0,-3.3M206.3,676.5q2.0,0.5 0.4,4.1M310.1,497.4q1.4,1.4 -1.6,3.6M190.0,704.8q-1.8,-1.8 2.1,-4.6M256.5,674.1q-1.3,0.3 -1.5,-2.1M318.3,704.9q-0.8,2.7 -5.6,0.4M183.1,615.3q0.5,-2.1 4.3,-0.5M208.2,571.8q2.3,-0.8 3.2,3.7M224.7,622.6q1.1,-0.8 2.2,1.5M269.5,572.3q0.2,-1.3 2.5,-0.6M232.5,574.2q-0.4,-1.2 2.0,-1.5M292.7,561.4q-2.1,-0.1 -1.4,-4.0M266.3,686.1q0.1,1.3 -2.4,1.2M291.8,685.2q0.7,1.4 -2.1,2.3M236.7,575.6q0.3,-2.5 4.8,-1.2M300.0,694.6q0.8,-2.0 4.4,0.1M218.1,520.1q-1.6,2.2 -5.2,-1.4M201.9,514.1q-1.9,0.0 -1.4,-3.4M231.9,703.5q-0.2,1.6 -3.1,0.8M301.6,697.0q-1.4,1.1 -3.1,-1.7M166.9,700.4q-1.4,-1.1 0.9,-3.4M223.7,710.0q-2.6,0.2 -2.3,-4.8M237.3,504.2q-1.7,1.5 -4.0,-2.0M307.5,630.5q-2.2,-1.4 1.0,-5.1M267.1,581.1q1.6,-1.0 3.1,2.2M222.4,502.6q-0.2,-1.7 3.0,-1.6M278.9,613.5q-1.3,-1.9 2.6,-3.7M157.2,518.2q-1.1,2.0 -4.6,-0.7M242.2,568.6q-1.2,-2.1 3.0,-3.8M170.6,607.5q1.9,1.7 -1.9,4.7M203.8,606.9q0.3,1.9 -3.4,2.0M161.0,493.6q1.6,-1.1 3.2,2.2M170.6,703.8q-1.4,-1.4 1.7,-3.6M178.2,574.3q2.2,-1.1 3.7,3.2M311.7,505.6q0.5,-1.5 3.2,-0.2M155.8,703.2q-1.7,-1.8 2.2,-4.6M158.1,678.6q1.1,-1.1 2.8,1.3M247.1,703.3q2.2,-0.6 2.6,3.6M197.4,604.4q1.9,-1.5 4.3,2.5M303.8,501.1q-0.9,1.2 -3.0,-0.9M197.1,568.2q-1.1,-1.4 1.9,-3.1M188.0,574.1q0.9,-1.9 4.2,0.3M200.3,691.1q1.5,1.1 -1.0,3.6M221.4,574.5q1.1,0.6 -0.2,2.5M220.7,575.8q0.6,-1.1 2.5,0.3M246.8,507.9q-1.9,0.5 -2.4,-3.1M311.2,523.7q0.2,2.8 -5.0,2.3M173.1,529.4q1.4,-2.0 4.7,1.1M306.8,563.3q-2.3,-0.1 -1.4,-4.3M170.4,626.2q-1.2,1.7 -4.1,-1.0M273.3,583.1q1.1,0.7 -0.5,2.5M205.7,685.6q1.9,-1.2 3.6,2.7M272.9,629.0q-0.9,1.5 -3.4,-0.6M159.1,705.7q-0.8,-2.0 3.1,-3.0M288.9,684.3q-1.0,0.7 -2.0,-1.4M219.7,571.0q-0.2,-1.9 3.4,-1.9M257.7,704.0q0.6,1.4 -2.2,2.1M242.5,493.8q1.7,1.2 -1.0,4.0M180.9,510.4q-0.1,2.3 -4.3,1.5M302.9,520.3q1.8,-0.8 2.8,2.8M188.7,617.8q-2.6,0.4 -2.7,-4.5M250.2,703.3q-2.4,0.3 -2.2,-4.2M162.0,706.8q-0.6,1.1 -2.6,-0.3M305.0,678.5q-2.3,-0.3 -1.1,-4.5M261.8,561.7q1.1,0.6 -0.3,2.5M236.0,572.2q2.5,-0.4 2.5,4.4M273.3,574.8q-0.3,1.6 -3.2,0.7M238.2,676.7q-1.1,-1.9 2.7,-3.3M184.9,630.0q-2.6,-0.9 -0.2,-5.6M312.3,614.8q-1.9,-1.5 1.5,-4.6M204.9,625.8q1.1,-1.7 4.0,0.7M292.9,624.9q1.1,-2.0 4.4,0.6M273.0,567.9q0.8,-1.1 2.6,0.8M190.3,561.1q1.4,-2.0 4.8,1.1M266.2,631.4q1.5,-1.0 3.0,2.0M216.7,703.1q-0.5,2.4 -4.9,0.8M258.7,681.5q2.4,0.7 0.3,4.9M301.6,611.2q-0.8,-1.3 1.8,-2.4M249.4,520.0q-1.1,-0.7 0.5,-2.6M180.2,708.4q1.3,0.1 0.7,2.6M155.5,695.3q-1.9,-1.2 0.9,-4.4M218.0,624.9q1.8,-0.3 1.8,3.2M155.6,560.7q-0.1,1.9 -3.6,1.1M208.4,631.4q-0.8,-2.2 3.5,-3.1M195.8,577.2q0.2,-1.5 3.0,-0.7M284.4,683.7q1.8,-0.1 1.4,3.3M269.7,701.1q-0.6,-2.2 3.6,-2.8M299.8,623.2q-2.1,0.4 -2.2,-3.6M290.3,527.6q0.4,1.5 -2.6,1.8M267.4,493.4q0.4,-1.6 3.2,-0.4M310.8,529.6q0.3,-2.5 4.8,-1.3M275.0,528.4q-1.3,-2.1 3.0,-3.9M190.9,677.8q-0.1,2.5 -4.6,1.7M222.3,622.5q-1.2,-1.6 2.1,-3.3M162.4,606.6q-1.8,1.0 -3.2,-2.5M172.0,684.0q-0.7,1.3 -3.0,-0.4M309.6,581.8q0.7,1.4 -2.2,2.3M194.0,628.2q2.1,0.2 1.2,4.1M292.6,511.3q-1.1,-1.8 2.4,-3.4M220.1,500.7q-1.5,1.4 -3.6,-1.8M174.9,696.1q-1.0,-1.5 2.2,-2.9M273.7,494.9q-0.1,-2.2 4.0,-1.7M205.6,512.9q-1.1,0.7 -2.1,-1.5M259.7,506.7q-0.3,1.6 -3.2,0.6M197.4,613.8q1.1,0.7 -0.5,2.6M213.2,705.6q-1.6,-1.1 1.0,-3.8M164.8,623.0q-1.0,1.8 -4.0,-0.6M236.0,679.1q1.5,0.3 0.4,2.9M165.9,568.7q0.3,-1.2 2.4,-0.3M211.3,607.7q-2.3,1.0 -3.6,-3.5M235.2,564.6q-2.6,0.8 -3.4,-4.2M312.2,633.6q2.4,0.1 1.6,4.6M276.7,573.9q-0.4,-1.9 3.2,-2.1M181.4,690.3q-0.2,1.3 -2.6,0.6M227.5,511.1q0.7,1.2 -1.7,2.1M235.2,615.3q-2.7,0.6 -3.0,-4.6M261.2,575.2q1.4,2.0 -2.6,4.0M244.2,631.8q0.8,0.9 -1.1,2.2M164.1,516.5q-2.7,0.0 -2.0,-5.1M201.3,508.8q-1.8,0.6 -2.4,-3.0M172.7,518.3q-0.1,1.5 -2.8,0.9M226.7,700.5q1.3,-1.9 4.5,1.1M206.2,709.1q-2.0,0.9 -3.2,-3.1M180.9,608.6q-1.8,0.3 -1.8,-3.1M305.2,686.3q2.1,-0.7 2.9,3.3M273.4,503.8q-0.6,-1.3 2.0,-2.1M236.6,496.2q-0.2,-1.9 3.4,-1.8M277.3,696.9q1.6,-1.6 4.2,1.9M243.3,628.2q1.6,0.8 -0.3,3.5M269.5,629.8q-0.5,-2.0 3.5,-2.3M196.9,615.5q2.2,-0.4 2.4,3.8M168.0,690.3q0.9,-1.5 3.4,0.6M310.6,681.7q-1.6,-0.2 -0.8,-3.2M220.9,703.8q1.5,-0.0 1.2,2.8M237.3,572.6q-0.6,-2.7 4.7,-3.1M226.2,691.0q-1.5,2.2 -5.1,-1.2M288.8,572.1q1.4,-0.4 1.8,2.4M232.1,494.9q-1.1,2.3 -5.1,-0.4M294.6,679.0q0.7,1.6 -2.5,2.4M166.3,502.7q-0.7,2.2 -4.6,0.2M178.2,709.5q-1.0,0.8 -2.3,-1.3M180.8,676.8q1.2,0.8 -0.6,2.7M290.3,678.1q1.4,-0.2 1.4,2.4M256.9,517.8q-0.0,-2.3 4.3,-1.7M192.1,687.3q-2.5,-0.3 -1.2,-4.9M266.1,579.0q-1.3,-0.5 -0.0,-2.7M227.3,518.8q1.2,-0.4 1.7,1.9M194.6,696.9q0.5,-1.1 2.4,0.1M167.0,563.4q-2.2,0.3 -2.1,-3.9M173.5,710.5q0.8,-1.2 2.8,0.5M208.3,518.8q-0.5,2.4 -4.8,0.9M290.4,522.0q0.9,-1.3 3.1,0.7M310.0,699.4q0.6,-1.5 3.1,0.1M237.5,501.5q-1.8,0.8 -2.8,-2.7M196.8,522.8q-2.1,-0.9 0.1,-4.5M289.5,702.3q-1.4,2.2 -5.2,-1.0M159.1,502.9q-1.5,0.3 -1.7,-2.5M263.1,571.0q0.3,-1.9 3.8,-0.9M274.8,502.7q-0.5,-2.7 4.7,-3.0M257.5,502.8q1.0,-1.8 4.2,0.6M267.1,529.6q-1.0,2.3 -5.0,-0.3M232.0,582.4q1.4,0.2 0.7,2.7M305.4,521.8q-1.9,-0.0 -1.4,-3.6M282.7,625.0q1.2,1.1 -1.2,3.0M206.1,616.1q1.3,-0.7 2.2,1.8M224.6,686.5q1.0,2.3 -3.5,3.6M262.2,710.3q-0.8,1.3 -3.1,-0.5M169.6,522.9q-2.2,0.6 -2.7,-3.7M237.9,495.4q1.9,-1.7 4.5,2.3M265.6,618.8q1.2,-0.2 1.3,2.1M199.1,494.4q-0.6,1.2 -2.6,-0.3M195.0,570.1q1.2,-1.0 2.7,1.5M308.1,528.8q-2.1,-0.3 -1.0,-4.0M276.5,584.0q1.5,-2.3 5.4,1.2M255.8,613.8q-0.2,-2.3 4.2,-2.1M266.4,522.2q-1.8,-0.6 -0.2,-3.7M304.9,610.4q-1.2,-1.3 1.5,-3.1M158.2,500.7q-1.3,0.3 -1.5,-2.2M205.2,507.7q-0.0,1.3 -2.5,0.9M316.5,498.4q1.3,0.4 0.2,2.7M269.7,710.4q-1.4,1.9 -4.6,-1.3M213.6,580.0q1.1,-0.9 2.5,1.3M290.4,704.8q1.7,-0.6 2.4,2.8M223.3,579.8q1.9,1.9 -2.2,4.9M172.7,688.6q1.2,-1.7 4.1,1.0M186.8,572.3q1.4,0.4 0.2,2.9M291.6,496.1q-0.3,2.6 -5.1,1.3M274.3,708.7q-1.7,1.7 -4.4,-1.8M193.8,510.6q-0.6,2.4 -5.0,0.7M266.8,607.0q1.5,1.2 -1.1,3.6M209.2,677.5q-2.3,0.8 -3.2,-3.6M209.4,567.1q1.6,-0.6 2.3,2.5M198.4,493.1q1.3,-2.1 4.9,0.9M278.7,699.1q-1.9,-1.5 1.5,-4.6M306.0,567.1q1.0,-1.0 2.6,1.1M178.0,608.0q1.3,-0.0 1.0,2.3M174.4,528.3q-1.0,-1.7 2.4,-3.1" stroke="#c898cc"/><path d="M179.5,654.4q-0.7,-1.2 1.7,-2.3M242.8,590.6q-2.4,1.5 -4.5,-3.4M189.8,540.2q-1.8,-1.1 0.7,-4.1M297.0,634.9q0.5,2.4 -4.2,2.7M274.4,535.2q-1.0,-1.2 1.5,-2.7M317.3,665.2q-0.5,1.4 -3.0,0.1M317.0,535.8q-2.4,0.7 -3.0,-3.9M227.9,665.0q-1.3,-0.5 0.0,-2.8M210.1,648.5q1.2,-1.6 3.8,1.1M236.6,664.9q-0.3,1.8 -3.5,0.7M178.0,651.1q-1.0,-2.6 4.1,-3.7M280.5,548.5q0.3,-2.8 5.3,-1.5M289.2,558.1q0.8,1.8 -2.7,2.7M240.9,649.3q-2.3,0.6 -2.7,-3.8M275.2,673.3q2.1,0.4 0.7,4.3M301.4,549.4q0.7,2.4 -3.9,3.1M187.8,539.7q-1.3,1.9 -4.5,-1.1M215.5,661.1q1.5,0.6 -0.1,3.2M257.3,597.5q-2.7,0.0 -2.0,-5.0M200.7,532.5q1.9,0.4 0.6,3.9M203.9,596.2q1.2,0.0 0.8,2.3M217.3,658.1q-0.8,2.5 -5.3,0.3M245.8,541.2q-2.1,1.3 -4.0,-3.0M195.0,646.8q2.6,0.8 0.4,5.4M165.5,547.1q-2.8,0.2 -2.3,-5.1M159.3,668.0q-1.8,0.7 -2.7,-2.9M233.4,642.4q2.0,-1.5 4.2,2.7M303.8,654.0q1.6,-1.0 3.0,2.2M246.1,664.1q-1.4,0.4 -1.7,-2.2M217.6,542.8q-1.5,2.3 -5.4,-1.1M173.1,664.3q-0.2,2.4 -4.7,1.3M243.8,598.9q-1.4,1.8 -4.4,-1.2M244.3,664.5q-1.7,-1.2 0.9,-4.0M242.5,671.2q1.0,-1.0 2.7,1.1M229.4,532.3q-1.4,0.3 -1.6,-2.3M270.8,653.9q-1.5,-1.0 0.7,-3.4M295.2,664.4q2.4,1.1 -0.4,5.3M259.2,556.0q0.7,1.2 -1.7,2.1M204.0,672.0q1.7,0.7 -0.1,3.7M179.7,643.7q-0.8,-1.1 1.5,-2.3M304.4,636.8q-1.7,0.1 -1.5,-3.2M181.6,594.9q-1.0,1.2 -2.9,-1.1M260.8,637.2q2.6,-0.8 3.4,4.3M231.4,649.1q-1.3,1.3 -3.5,-1.5M210.3,668.4q1.9,-0.6 2.5,3.0M282.0,593.9q-2.3,-0.7 -0.3,-4.8M160.0,545.3q-1.1,-2.6 4.0,-3.8M309.2,554.4q1.6,-0.3 1.7,2.8M253.5,552.7q2.6,0.6 0.8,5.3M220.5,594.4q-1.8,-0.7 -0.1,-3.8M310.8,594.8q-1.1,-2.2 3.3,-3.6M307.5,530.1q-1.4,2.3 -5.3,-1.0M205.1,588.8q-0.0,2.3 -4.4,1.6M290.8,555.9q1.7,1.7 -1.9,4.5M192.0,595.6q-0.6,-1.4 2.2,-2.2M240.6,672.8q0.9,-2.1 4.6,0.2M284.9,637.2q-1.5,-1.1 1.0,-3.5M303.6,670.7q0.0,2.0 -3.7,1.5M276.8,536.6q-1.3,1.7 -4.1,-1.2M271.4,538.8q-0.6,1.2 -2.7,-0.1M257.9,585.3q-1.0,2.1 -4.6,-0.2M161.8,558.2q-1.5,1.9 -4.5,-1.4M210.2,659.5q-0.1,2.7 -5.1,1.7M247.3,539.0q-2.0,0.8 -2.8,-3.1M167.3,673.7q-0.9,2.5 -5.3,0.1M255.2,654.7q0.7,-1.2 2.7,0.4M290.5,655.0q0.2,1.3 -2.3,1.3M234.7,553.1q1.3,2.4 -3.5,4.2M244.5,544.9q1.6,-1.0 3.0,2.2M158.2,670.5q-1.1,2.1 -4.7,-0.5M227.1,652.5q-2.4,-0.9 -0.0,-5.1M245.2,639.6q-1.2,-0.9 0.8,-3.0M168.1,671.7q-0.7,-1.9 3.0,-2.7M304.3,532.6q-0.2,-2.0 3.6,-1.9M282.1,597.2q1.9,0.6 0.3,4.0M314.0,664.6q-0.6,1.9 -3.9,0.2M215.3,543.3q-0.7,-1.0 1.4,-2.0M301.1,600.7q1.4,1.5 -1.9,3.6M164.0,552.3q1.4,0.6 -0.1,3.0M198.1,557.5q-1.4,0.1 -1.2,-2.6M163.5,594.7q2.2,-1.6 4.6,2.8M294.8,554.1q2.6,-0.6 3.0,4.4M213.6,603.5q0.6,1.4 -2.2,2.2M314.9,589.2q-2.6,0.5 -2.9,-4.4M194.1,659.7q-1.9,-1.7 1.9,-4.8M177.4,533.8q-0.7,1.9 -4.1,0.1M314.2,537.9q1.0,-1.9 4.3,0.4M274.6,647.1q0.2,1.8 -3.3,1.6M218.1,646.3q-1.2,-2.5 3.8,-4.0M252.5,643.0q1.5,0.3 0.6,3.0M259.2,664.2q1.3,-0.5 1.9,2.1M274.1,590.7q-1.9,-1.2 0.9,-4.5M217.3,645.2q0.1,2.5 -4.6,2.0M249.1,543.3q0.4,1.8 -3.0,2.1M211.8,637.9q-1.2,0.3 -1.4,-2.1M208.6,591.8q2.7,-0.2 2.3,4.9M180.1,548.8q-0.4,2.0 -4.1,0.7M310.0,603.4q1.7,-0.2 1.6,3.0M174.9,537.8q1.9,1.5 -1.4,4.7M236.0,600.5q2.4,0.6 0.7,4.9M181.3,533.5q-0.9,1.5 -3.4,-0.6M301.9,602.9q-2.3,1.1 -3.6,-3.4M269.1,601.0q-0.3,-2.7 4.8,-2.4M163.0,644.8q0.1,2.2 -4.1,1.9M259.6,586.6q-0.0,1.3 -2.5,0.9M310.1,665.9q0.0,-1.3 2.5,-0.9M157.5,594.8q1.8,1.3 -1.1,4.2M205.6,662.6q1.0,1.7 -2.5,3.1M222.6,543.7q-0.7,1.3 -3.0,-0.4M204.8,589.3q-1.8,1.4 -3.9,-2.2M298.7,603.0q0.6,1.9 -3.1,2.6M182.0,658.1q1.1,0.9 -0.9,2.7M303.5,640.3q2.3,0.2 1.2,4.4M205.9,541.2q0.9,1.0 -1.3,2.5M247.2,657.7q1.8,-1.3 3.7,2.4M269.2,641.2q-0.8,-2.1 3.3,-3.1M234.3,534.0q-0.9,1.5 -3.4,-0.5M305.8,585.0q-0.0,-1.4 2.6,-1.1M224.1,659.3q2.0,1.1 -0.7,4.5M174.6,671.2q0.9,1.4 -2.0,2.6M288.4,600.7q-2.3,1.2 -3.9,-3.4M293.6,557.9q1.4,-2.4 5.5,1.0M266.8,541.0q-2.1,-0.4 -0.7,-4.1M201.9,655.1q1.1,1.0 -1.1,2.7M286.1,589.0q-1.2,0.1 -1.1,-2.2M270.4,598.2q1.8,0.9 -0.4,4.0M308.2,660.5q-0.3,-2.2 3.9,-2.1M199.8,530.5q-0.8,1.1 -2.6,-0.6M318.2,650.6q1.2,-0.4 1.7,2.0M173.9,635.3q1.8,-0.3 1.8,3.2M291.0,585.5q-1.7,-0.4 -0.6,-3.5M231.1,665.2q-0.6,-1.3 2.0,-2.1M198.7,635.5q-2.1,-0.1 -1.3,-3.9M163.0,555.4q-2.5,1.0 -3.6,-3.9M248.5,641.3q0.5,2.5 -4.2,2.7M278.6,556.7q-2.3,1.3 -4.1,-3.3M235.4,537.3q-0.7,1.1 -2.6,-0.5M279.0,555.2q-1.3,1.0 -2.9,-1.7M216.9,672.8q-1.2,0.4 -1.6,-2.0M295.4,641.3q-1.1,-1.0 1.0,-2.8M195.7,558.7q0.5,-1.5 3.1,-0.1M277.3,651.9q-0.9,-1.3 1.8,-2.6M316.0,642.7q1.3,-1.4 3.6,1.3M251.2,603.7q-1.2,-0.4 -0.0,-2.5M272.3,533.1q2.0,1.7 -1.7,5.0M290.5,667.6q-1.3,0.7 -2.2,-1.9M294.8,656.4q-0.0,-2.0 3.7,-1.5M301.8,661.2q1.1,1.3 -1.6,3.0M248.3,596.5q1.1,-2.0 4.5,0.7M310.2,537.6q-2.4,1.2 -4.0,-3.5M296.9,533.1q0.1,1.4 -2.6,1.2M291.8,538.6q2.0,-1.8 4.8,2.5M172.3,538.9q1.9,1.3 -1.0,4.5M245.4,649.6q1.1,-0.6 1.9,1.6M298.5,639.7q-1.3,-1.0 1.0,-3.1M195.3,548.3q1.4,1.9 -2.6,4.0M253.0,602.4q-0.3,2.1 -4.1,1.0M212.9,661.7q2.0,-1.5 4.2,2.7M249.4,552.2q0.5,1.3 -2.1,1.9M219.3,544.2q-0.8,1.1 -2.7,-0.7M298.5,536.6q-2.0,-0.3 -0.9,-3.9M294.8,638.3q-1.0,0.8 -2.2,-1.3M304.1,540.2q-1.5,-2.0 2.6,-4.3M313.1,645.1q-1.9,-0.4 -0.6,-3.9M259.2,541.7q-1.2,-0.6 0.2,-2.6M300.6,672.7q-0.4,1.1 -2.4,0.0M287.5,641.8q1.3,0.0 0.8,2.4M210.1,659.3q2.0,0.0 1.4,3.7M172.2,553.6q0.0,-2.1 3.9,-1.5M225.3,654.3q-0.5,-1.2 1.9,-1.9M212.4,640.2q2.3,-0.7 2.9,3.7M241.5,664.2q0.8,1.6 -2.4,2.7M226.0,603.8q1.7,-1.4 3.8,2.2M237.7,652.1q1.0,-1.0 2.5,1.2M315.3,659.6q0.6,1.3 -2.0,2.1M175.5,594.9q-1.8,-0.9 0.3,-4.0M181.2,666.7q2.1,-0.7 2.7,3.5M278.4,591.8q-0.5,-1.5 2.4,-2.0M302.0,667.6q0.8,-1.6 3.5,0.4M164.0,669.9q-0.1,1.4 -2.7,0.8M275.5,530.9q0.0,-1.7 3.3,-1.2M201.0,663.2q1.5,-1.9 4.6,1.4M157.7,544.6q-2.2,0.2 -1.9,-4.0M214.7,601.3q-1.5,1.2 -3.3,-2.0M216.3,673.4q-0.7,-2.6 4.4,-3.1M273.1,661.5q-1.4,-0.3 -0.5,-2.7M264.3,666.9q2.4,1.0 -0.2,5.2M250.2,638.4q-0.5,1.1 -2.5,-0.1M237.1,635.4q1.7,-0.0 1.3,3.1M174.6,589.0q2.5,0.8 0.3,5.2M304.2,665.6q-1.3,-0.4 -0.2,-2.8M214.2,555.8q2.4,1.0 -0.1,5.3M276.0,654.4q0.4,-1.6 3.3,-0.3M256.9,634.8q-1.0,-0.9 0.9,-2.5M250.4,603.8q-2.8,0.1 -2.1,-5.2M205.7,550.7q-0.6,-1.8 3.0,-2.4M237.4,649.0q-1.4,0.5 -1.9,-2.2M253.1,652.5q-1.8,-0.6 -0.2,-3.8M156.6,649.7q-1.0,-0.8 0.9,-2.4M179.7,543.4q-1.3,0.9 -2.5,-1.7M237.0,656.4q-0.7,1.4 -3.2,-0.3M162.3,589.0q1.3,1.3 -1.5,3.4M174.1,557.8q0.1,2.7 -4.9,2.1M176.8,596.3q1.1,-1.2 3.0,1.3M229.2,640.9q-0.4,2.8 -5.4,1.2M168.2,535.4q1.9,1.5 -1.4,4.6M232.6,603.6q-2.4,-0.5 -0.9,-4.8M221.2,662.0q-0.1,-2.2 4.0,-1.8M250.6,648.9q-2.1,0.5 -2.4,-3.6M280.7,540.2q-2.7,0.7 -3.2,-4.5M279.7,669.9q2.3,-1.3 4.1,3.4M235.1,663.5q-0.6,1.7 -3.5,0.2M299.0,597.8q-0.5,2.3 -4.6,0.8M253.3,549.2q-1.5,2.1 -5.0,-1.2M209.2,651.3q-1.9,0.5 -2.3,-3.2M281.7,541.4q0.1,-2.4 4.5,-1.5M229.5,592.0q1.2,-0.4 1.6,2.0M315.3,661.3q-2.3,0.9 -3.2,-3.6M236.9,655.5q1.2,0.3 0.4,2.5M199.7,544.2q1.8,0.9 -0.3,4.0M229.7,551.0q-1.7,1.8 -4.6,-1.9M216.8,546.2q-2.3,0.5 -2.6,-3.9M273.5,673.9q1.8,-1.4 3.9,2.4M307.9,557.0q0.1,1.3 -2.4,1.1M275.3,596.6q1.0,-0.9 2.5,1.2M232.4,653.6q2.0,1.2 -0.8,4.6M203.4,641.7q0.8,-2.1 4.6,0.0M249.1,663.4q-0.5,2.2 -4.5,0.8M284.5,660.6q1.7,-0.9 2.9,2.6M174.4,532.8q-0.2,2.5 -4.9,1.4M275.7,668.6q-1.2,-0.0 -0.9,-2.3M300.0,670.4q-1.1,1.7 -3.9,-0.9M207.5,595.5q-1.1,-0.5 0.1,-2.5M249.1,558.3q1.6,1.0 -0.7,3.6M163.2,534.9q-1.0,-1.5 2.0,-3.0M190.6,603.9q1.8,-0.7 2.6,2.8M226.8,532.7q-1.2,0.6 -1.9,-1.9M290.4,538.0q-0.2,-2.7 4.9,-2.3M187.3,642.9q1.8,-1.3 3.8,2.4M263.4,592.5q-2.5,-0.4 -1.1,-4.9M260.6,536.4q-2.1,0.8 -2.9,-3.4M288.9,669.0q2.0,1.9 -2.1,5.1M217.0,546.0q1.1,1.8 -2.5,3.3M192.7,667.9q1.9,-0.1 1.7,3.4M246.5,530.2q-2.4,1.3 -4.2,-3.5M220.7,670.7q1.5,-0.4 1.8,2.6M270.4,603.1q1.0,-1.5 3.4,0.8M257.3,663.3q-0.7,2.4 -5.0,0.4M276.3,659.1q1.6,1.5 -1.6,4.1M220.7,668.8q0.4,-1.9 3.9,-0.6M164.2,648.8q-0.9,-1.4 2.0,-2.7M197.3,596.4q-0.3,1.8 -3.5,0.7M310.1,672.3q0.7,2.3 -3.8,3.0M164.8,659.7q-0.5,-1.2 1.8,-1.8M265.5,603.2q0.2,-1.7 3.3,-0.8M209.0,658.0q1.2,-1.5 3.6,1.1M275.6,655.1q0.2,-2.0 3.9,-1.2M299.9,654.1q1.2,-1.1 2.9,1.4M224.2,658.0q-1.1,1.1 -2.9,-1.3M248.5,539.7q-2.2,-0.8 -0.1,-4.7M209.5,589.2q-1.9,2.0 -5.0,-2.1M278.6,603.3q2.1,-0.5 2.5,3.6M230.8,548.5q-2.3,-1.1 0.4,-5.0M164.5,664.7q-2.0,-0.9 0.2,-4.3M315.1,543.2q2.1,0.8 0.0,4.4M179.8,585.3q-2.4,1.1 -3.7,-3.8M261.3,660.8q-0.3,2.1 -4.1,1.0M271.7,637.6q0.9,-1.6 3.7,0.6M308.5,654.6q1.9,1.1 -0.6,4.4M281.9,640.0q-0.2,1.7 -3.4,0.9M268.4,597.7q0.7,-1.5 3.3,0.3M190.3,558.7q-0.1,-2.1 3.9,-1.8M294.6,638.7q-0.2,-1.6 2.9,-1.6M227.7,667.2q2.0,1.1 -0.6,4.6M225.8,550.4q1.9,-0.3 1.9,3.3M214.3,643.7q-1.2,-0.8 0.6,-2.8M259.2,558.1q2.4,-0.3 2.3,4.2M302.8,546.6q-2.2,0.3 -2.2,-4.0M222.5,656.5q1.8,-1.3 3.8,2.4M277.4,653.6q-0.2,-2.4 4.3,-2.1M273.9,673.3q-0.2,-1.6 2.8,-1.5M308.5,659.9q0.9,-0.9 2.3,1.0M294.9,600.3q-0.7,1.8 -3.8,-0.0M208.3,635.3q-0.9,-1.6 2.4,-2.8M265.6,635.7q-0.1,-1.2 2.1,-1.1M303.6,659.0q-1.4,2.1 -4.9,-1.0M262.6,593.3q-2.0,0.3 -2.1,-3.5M250.0,646.3q0.6,-1.6 3.4,-0.0M209.5,558.2q2.4,0.7 0.4,5.0M192.3,587.6q-0.6,2.5 -5.1,0.7M162.8,652.8q0.3,2.5 -4.5,2.3M189.6,667.2q0.6,1.5 -2.4,2.1M308.2,666.5q-2.2,-1.3 0.9,-5.1M192.3,657.4q0.7,1.2 -1.7,2.3M311.3,644.7q0.8,2.3 -3.7,3.2M203.0,598.0q-2.0,-1.8 1.8,-5.1M235.7,663.5q0.5,-1.7 3.4,-0.3M169.3,587.1q1.1,-1.3 3.2,1.1M287.3,659.0q-1.4,-0.3 -0.5,-2.7M193.8,672.0q1.4,-0.4 1.7,2.3M182.0,648.4q-0.3,-1.8 3.1,-1.9M311.5,636.9q-1.1,-1.8 2.6,-3.4M212.5,660.5q0.5,-1.9 4.0,-0.5M231.5,670.4q-2.3,0.8 -3.1,-3.7M220.6,545.1q-0.4,-1.9 3.3,-2.1M205.7,645.2q2.3,0.5 0.6,4.6M238.9,643.8q1.5,-1.0 2.9,2.0M217.9,643.4q-1.7,-0.6 -0.2,-3.6M159.5,650.5q-0.4,1.7 -3.4,0.5M284.2,673.7q-1.0,1.5 -3.5,-0.9M270.3,539.7q-1.8,-1.1 0.7,-4.2M179.3,590.7q-2.1,-0.3 -1.0,-4.1M220.7,671.7q1.4,2.0 -2.7,4.1M289.4,656.0q-1.5,-1.1 0.9,-3.5M298.6,650.9q-1.7,0.4 -2.0,-2.8M223.8,585.5q1.6,2.3 -3.0,4.7M193.1,665.5q-2.5,0.1 -2.0,-4.6M203.1,596.2q0.0,-1.4 2.6,-0.9M155.8,658.1q-2.3,-0.4 -1.0,-4.6M300.3,554.9q0.4,1.6 -2.7,1.9M278.3,644.8q-0.7,-1.2 1.8,-2.1M185.0,602.5q0.6,2.0 -3.3,2.5M221.6,655.5q1.5,-0.0 1.1,2.7M261.9,659.4q1.9,-2.0 5.1,2.0M255.4,538.5q-0.1,1.7 -3.2,1.0M162.7,650.3q-1.7,1.7 -4.4,-1.9M229.1,549.4q0.2,2.1 -3.8,1.8M275.7,639.5q-1.8,-0.6 -0.2,-3.7M284.6,559.0q-0.4,1.5 -3.0,0.3M182.0,654.2q1.3,-0.1 1.1,2.3M226.5,665.6q-1.6,-0.0 -1.1,-2.9M261.2,637.1q1.7,-0.2 1.5,3.0" stroke="#88b8b8"/></g>
<path d="M255.0,708.1q-1.5,3.5 -6.5,4.1M289.7,709.0q-2.3,-3.4 0.1,-8.3M156.4,688.1q3.8,1.6 4.4,6.8M209.5,494.0q-2.7,-0.6 -3.8,-4.1M166.9,591.7q-3.3,2.6 -8.4,0.5M232.3,640.7q0.8,2.0 -0.9,4.1M253.8,523.4q-2.4,-3.9 0.5,-9.2M161.5,533.2q-2.4,1.4 -5.4,-0.4M220.7,566.9q-1.8,-3.1 0.5,-7.3M192.0,670.6q4.0,1.5 4.9,7.0M275.3,579.0q0.5,-2.3 3.3,-3.3M160.4,661.8q-2.9,0.5 -5.3,-2.5M163.2,556.2q3.0,-1.8 7.0,0.4M278.1,532.9q-2.1,-1.8 -1.5,-5.4M186.6,678.6q-2.1,1.1 -4.7,-0.5M166.8,629.9q-1.3,-2.2 0.3,-5.1M174.8,640.1q-2.1,-1.2 -2.1,-4.3M197.2,671.9q-0.7,-4.7 4.2,-8.5M215.4,694.5q-0.6,4.8 -6.4,7.2M283.1,630.3q-1.1,-1.7 0.0,-4.1M314.7,659.1q0.3,-4.4 5.4,-6.9M282.2,596.3q2.9,0.5 4.3,4.0M297.3,513.4q-2.2,-1.2 -2.2,-4.5M175.9,671.9q-2.2,3.0 -7.0,2.4M198.2,681.7q0.2,-3.5 4.3,-5.6M186.8,707.9q3.6,-1.1 7.1,2.3M269.1,567.9q-1.5,1.9 -4.6,1.4M312.5,665.8q1.2,2.7 -1.2,5.8M300.7,655.6q1.8,-4.6 8.1,-5.5M230.9,578.8q-2.7,-2.1 -2.0,-6.5M210.1,563.4q0.5,-3.1 4.3,-4.7M241.3,639.7q1.0,-3.7 5.8,-4.9M291.2,547.5q-1.3,2.2 -4.6,2.2M237.2,669.2q-1.3,-2.3 0.4,-5.3M218.3,566.9q2.0,3.3 -0.4,7.6M254.5,598.3q-3.5,-1.9 -3.6,-7.0M297.0,625.7q-0.2,-4.9 5.2,-8.4M288.7,603.1q2.1,-0.4 3.9,1.7M268.3,573.9q-2.1,-1.6 -1.7,-5.1M276.4,579.0q-1.9,-1.6 -1.3,-4.7M224.7,512.8q-1.8,3.0 -6.4,3.0M303.9,602.0q-1.8,1.6 -4.8,0.7M287.2,680.6q2.9,-1.8 6.9,0.3M158.7,618.0q3.2,-2.8 8.3,-1.0M256.5,511.4q2.4,-3.9 8.5,-3.8M203.6,541.9q2.3,0.2 3.6,2.9M310.7,510.9q1.3,3.8 -2.1,7.7M218.7,598.4q-3.8,-2.4 -3.6,-8.2M181.4,663.1q-1.7,-2.3 -0.2,-5.7M202.0,667.3q2.8,-0.4 5.0,2.6M201.3,565.7q-3.1,3.1 -8.7,1.6M177.2,618.2q2.0,1.5 1.6,4.8M223.2,496.9q-0.5,-3.5 3.1,-6.4M257.4,699.9q-0.7,3.7 -5.3,5.4M245.7,544.2q-2.7,-2.9 -1.2,-7.8M270.7,595.1q2.9,-2.8 8.0,-1.3M315.1,591.4q-4.6,-1.8 -5.5,-8.2M184.2,693.6q-3.1,1.5 -6.9,-1.1M274.2,634.6q-4.3,-2.3 -4.5,-8.6M181.6,681.9q-0.9,2.7 -4.5,3.4M178.3,548.8q-3.9,-1.4 -4.8,-6.7M169.6,685.5q-3.0,-1.3 -3.5,-5.4M164.8,692.4q-1.2,-3.3 1.8,-6.7M169.8,666.3q-2.1,4.5 -8.6,5.0M300.4,545.1q-0.9,-3.2 2.1,-6.4M233.6,666.8q0.0,-3.0 3.4,-5.0M167.7,523.4q-0.1,4.2 -4.8,6.8M192.7,595.8q-1.7,2.1 -5.1,1.5M177.5,517.3q4.4,-0.4 7.7,4.4M164.4,608.5q2.1,-0.1 3.6,2.1M273.7,539.0q1.9,2.3 0.5,6.0M301.3,651.1q0.7,2.0 -1.2,4.1M286.3,582.2q-3.5,1.2 -7.2,-2.0M246.9,522.8q2.9,0.4 4.3,4.0M316.3,562.2q1.8,3.6 -1.1,8.0M284.3,706.4q-0.0,3.3 -3.8,5.5M284.3,656.0q0.7,-3.3 4.9,-4.6M251.5,586.7q0.8,4.2 -3.5,7.9M228.5,644.5q1.2,-3.8 6.2,-4.9M216.0,685.3q0.6,3.2 -2.5,5.9M243.8,611.7q0.3,-2.2 3.0,-3.3M180.5,667.3q-1.3,-2.4 0.6,-5.5M239.4,701.4q-4.5,-0.8 -6.6,-6.3M219.3,559.4q-0.7,-2.1 1.2,-4.3M222.7,688.3q-2.5,-3.7 0.1,-8.9M310.5,509.4q0.9,1.9 -0.7,4.2M254.4,650.9q-2.2,-4.3 1.3,-9.6M228.3,557.4q-3.4,0.8 -6.5,-2.5M205.1,627.3q-4.4,-1.8 -5.3,-7.9M230.7,633.5q1.4,1.5 0.7,4.1M158.8,530.0q-0.8,2.4 -4.0,3.0M247.0,668.8q-3.5,2.7 -8.7,0.5M183.7,701.5q1.1,4.8 -3.7,9.2M235.3,550.9q0.5,3.4 -3.0,6.2M251.9,498.4q-0.5,-3.7 3.4,-6.7M170.7,511.6q-1.5,3.1 -5.9,3.4M178.6,538.7q1.1,-2.1 4.1,-2.2M156.2,536.0q3.2,-1.9 7.4,0.6M157.3,535.4q-1.6,-2.3 -0.2,-5.6M157.3,610.7q-1.1,3.3 -5.6,4.2M195.8,645.0q0.4,-3.2 4.3,-4.7M265.3,509.7q-2.3,4.5 -8.8,4.8M305.8,522.3q0.9,2.3 -1.0,4.8M275.5,523.9q-1.8,-1.7 -1.1,-4.8M253.5,625.7q2.1,4.0 -1.0,8.9M283.8,703.7q-3.1,1.5 -6.9,-1.1M244.1,539.9q2.3,3.9 -0.5,9.0M297.7,542.7q-2.4,3.4 -7.8,3.0M237.3,537.1q-2.0,4.3 -8.0,4.8M296.2,571.1q-0.6,3.5 -5.0,5.0M285.1,568.0q0.6,3.0 -2.4,5.6M213.4,516.3q3.5,2.9 2.6,8.7M227.7,678.6q-2.5,3.0 -7.6,2.1M244.0,522.7q-2.3,-3.6 0.2,-8.5M274.3,568.7q2.2,2.3 1.1,6.4M311.5,670.6q-1.7,-1.3 -1.3,-4.0M245.6,525.5q1.3,1.9 0.0,4.6M306.6,507.9q3.5,1.4 4.1,6.3M239.0,658.2q-3.3,1.2 -6.8,-1.7M280.4,705.3q-1.9,-0.9 -2.1,-3.7M214.6,694.0q-0.3,3.7 -4.7,5.7M276.8,553.3q-4.4,0.7 -8.0,-3.8M217.8,651.6q2.0,-3.3 7.0,-3.3M165.2,603.6q2.7,3.6 0.3,9.0M260.5,593.9q-2.4,3.5 -7.9,3.1M201.4,569.2q-3.1,0.1 -5.2,-3.4M192.5,555.4q-1.4,3.3 -6.0,3.9M286.7,694.5q-3.4,0.4 -6.2,-3.1M227.5,528.9q-2.4,-0.6 -3.2,-3.8M255.5,636.0q1.8,2.1 0.6,5.6M309.1,654.7q2.2,2.1 1.2,6.0M182.2,629.8q-1.4,-2.1 -0.0,-5.0M292.3,674.9q-1.5,1.5 -4.2,0.9M193.4,626.5q0.7,-2.4 3.9,-3.0M156.4,613.6q0.1,4.3 -4.7,7.2M270.2,642.4q1.6,1.8 0.5,4.8M252.2,540.6q2.1,-0.9 4.5,1.0M194.7,692.5q4.3,1.5 5.3,7.3M214.1,612.8q-2.4,0.8 -4.8,-1.4M177.0,651.9q-2.5,-0.4 -3.8,-3.4M249.6,607.5q0.1,3.0 -3.3,5.1M213.2,515.4q3.9,-0.7 7.3,3.2M224.4,629.0q1.7,2.1 0.4,5.3M165.2,697.6q1.5,-2.8 5.5,-2.9M216.8,639.2q-3.0,-0.7 -4.1,-4.5M166.6,623.3q3.7,-0.3 6.4,3.6M245.8,683.2q1.6,2.2 0.2,5.6M230.1,658.1q-1.9,-2.8 0.0,-6.8M212.9,569.2q3.2,2.0 3.0,6.8M195.0,679.7q-3.4,3.0 -8.9,1.1M169.3,670.3q-0.9,-3.5 2.4,-6.8M300.1,541.4q1.3,3.1 -1.4,6.6M157.5,703.0q-2.7,0.4 -5.0,-2.4M281.8,657.3q3.8,-1.8 8.3,1.4M173.6,653.2q-4.8,0.9 -8.9,-4.0M187.7,613.6q2.0,-0.9 4.3,0.8M170.4,523.9q3.0,-0.4 5.4,2.6M203.0,586.7q-0.2,-2.3 2.3,-4.1M185.0,697.0q-3.9,2.9 -9.7,0.3M244.5,573.2q-2.2,0.5 -4.3,-1.6M244.7,676.7q-3.2,1.8 -7.3,-0.7M187.1,516.5q0.1,-2.1 2.5,-3.3M173.9,532.2q2.6,1.8 2.4,5.9M189.8,508.4q2.1,-1.5 5.2,-0.2M231.7,684.9q1.3,4.8 -3.2,9.3M237.9,586.4q-2.8,1.0 -5.6,-1.5M209.5,559.5q-2.3,1.7 -5.7,0.3M290.1,536.3q3.2,-0.9 6.3,2.2M241.8,625.8q-2.9,-1.4 -3.2,-5.6M275.9,624.0q-4.1,1.4 -8.3,-2.4M192.6,518.2q1.6,2.3 -0.0,5.6M230.5,575.7q-2.8,0.1 -4.8,-3.0M298.7,580.3q1.1,-4.3 6.6,-5.8M206.0,673.6q4.4,-2.2 9.7,1.3M193.5,664.9q-1.3,3.4 -5.9,4.1M269.7,654.2q-0.2,-4.8 5.1,-8.1M297.1,590.3q-1.0,2.8 -4.7,3.5M261.8,590.1q-4.5,1.6 -9.3,-2.5M223.8,644.9q-2.0,2.6 -6.1,2.0M237.3,694.3q1.1,2.3 -0.7,5.0M162.4,696.5q-1.7,1.8 -4.9,1.1M261.8,552.4q-3.9,1.2 -7.7,-2.4M254.5,632.1q-1.1,3.8 -6.2,5.1M294.0,573.0q2.9,0.2 4.5,3.6M278.9,531.8q-3.1,-0.9 -4.1,-5.0M208.2,591.5q1.1,-2.0 4.2,-2.1M237.6,677.5q-4.6,-0.7 -6.7,-6.4M159.0,524.2q-1.8,-1.9 -0.7,-5.2M248.0,550.4q0.3,2.6 -2.4,4.7M160.2,610.4q-2.7,0.7 -5.3,-2.0M157.3,695.0q3.1,-1.6 6.8,0.8M281.8,630.4q-3.7,-0.8 -5.2,-5.4M200.7,531.0q0.6,3.3 -2.8,6.1M234.3,539.9q3.0,-1.9 7.1,0.2M223.8,656.8q0.4,4.9 -4.9,8.5M275.3,581.6q1.1,4.1 -2.8,8.1M180.5,495.2q2.1,0.1 3.3,2.6M171.4,683.9q-0.2,4.5 -5.4,7.3M215.9,522.9q3.1,3.6 1.2,9.4M266.4,549.6q-2.8,-1.5 -2.9,-5.6M309.1,707.3q-3.7,1.2 -7.5,-2.2M188.9,545.6q3.3,-3.1 9.0,-1.4M242.4,513.8q-5.0,-0.1 -8.1,-5.8M218.4,581.7q4.4,0.8 6.4,6.2M192.6,695.7q-2.0,-1.0 -2.1,-3.9M271.9,674.6q-3.1,1.4 -6.7,-1.2M285.8,709.4q0.9,2.1 -0.8,4.5M167.4,663.7q-3.8,1.3 -7.7,-2.0M292.8,636.7q0.9,4.3 -3.3,8.1M267.0,590.1q3.1,1.0 3.9,5.1M314.2,576.5q-1.5,-1.4 -1.0,-4.0M218.3,550.9q-3.8,1.3 -7.7,-2.1M243.5,577.6q1.6,4.4 -2.3,9.0M222.5,515.1q-0.3,3.6 -4.4,5.6M166.8,534.8q4.1,2.2 4.4,8.3M229.2,641.3q-0.5,-3.5 3.1,-6.4M242.6,656.3q1.9,3.8 -1.2,8.4M173.0,509.6q-2.6,-3.9 0.2,-9.4M297.4,683.6q-4.5,0.9 -8.4,-3.6M220.2,548.3q-1.6,3.7 -6.7,4.3M315.9,558.8q1.1,3.1 -1.6,6.3M155.7,513.3q0.3,3.5 -3.5,6.1M231.1,649.7q-3.4,2.3 -8.2,0.0M181.6,604.5q-0.7,2.9 -4.5,4.1M311.3,699.9q2.9,-3.4 8.7,-2.4M303.4,512.0q0.4,-2.4 3.4,-3.5M288.0,590.8q-4.2,2.6 -9.9,-0.5M233.7,641.3q-2.1,0.1 -3.6,-2.3M282.6,592.4q-3.3,3.6 -9.4,2.3M315.6,687.9q4.9,-0.0 8.1,5.4M244.7,701.9q1.8,4.2 -1.7,8.9M308.6,690.0q-2.5,-1.4 -2.7,-5.1M164.7,600.1q1.2,-1.7 3.9,-1.4M305.8,600.6q-3.4,2.4 -8.3,0.2M164.2,550.9q-2.3,1.4 -5.5,-0.3M249.9,546.9q-1.3,4.0 -6.7,5.2M252.4,708.1q2.9,2.6 1.9,7.5M265.7,537.3q-4.3,-1.6 -5.3,-7.4M289.0,544.0q2.6,1.2 2.8,4.9M198.5,563.2q1.3,-2.8 5.3,-3.1M285.0,570.0q4.5,-1.7 9.2,2.3M233.2,622.0q4.1,-1.6 8.6,2.0M165.3,677.1q2.7,-2.9 7.7,-1.7M284.3,522.8q-2.8,0.3 -4.9,-2.6M215.8,553.6q4.3,1.0 5.9,6.5M253.1,544.7q3.2,-2.7 8.4,-0.9M234.9,583.4q-0.5,-3.7 3.3,-6.7M269.0,651.9q0.4,2.4 -2.2,4.4M184.5,672.6q3.1,-0.1 5.2,3.2M197.7,672.4q2.0,-2.8 6.5,-2.4M167.7,585.9q-2.9,-3.0 -1.4,-8.2M253.4,662.4q-1.4,-1.4 -0.8,-4.0M302.8,638.8q4.8,-0.9 8.8,4.0M250.3,544.3q-2.2,1.6 -5.4,0.1M317.1,493.1q-2.8,2.5 -7.5,0.8M254.0,531.2q0.8,3.6 -2.8,6.9M194.4,604.0q-2.0,-3.0 0.1,-7.1M208.4,569.4q-4.1,-1.8 -4.8,-7.5M232.3,671.5q-2.4,3.3 -7.8,2.7M226.0,566.6q-1.8,4.0 -7.5,4.7" fill="none" stroke="#c4c4c8" stroke-width="0.6" stroke-opacity="0.8"/></g>
<defs><clipPath id="tpc"><path d="M589.4,518.2 C593.8,516.2 597.9,516.4 602.7,517.1 C607.5,517.8 612.9,520.2 618.0,522.6 C623.1,525.0 630.5,528.5 633.5,531.4 C636.5,534.3 636.8,537.3 635.7,540.2 C634.6,543.1 629.1,545.3 626.9,549.0 C624.7,552.7 621.4,558.5 622.5,562.2 C623.6,565.9 630.9,567.3 633.5,571.0 C636.1,574.7 638.3,578.8 637.9,584.3 C637.5,589.8 633.9,598.6 631.3,604.1 C628.7,609.6 625.4,613.6 622.5,617.3 C619.6,621.0 614.5,621.7 613.7,626.1 C613.0,630.5 616.9,638.2 618.0,643.7 C619.1,649.2 620.3,653.6 620.3,659.1 C620.3,664.6 619.5,671.6 618.0,676.7 C616.5,681.8 615.2,686.2 611.5,689.9 C607.8,693.6 600.8,696.5 596.0,698.7 C591.2,700.9 586.8,703.6 582.8,703.2 C578.8,702.8 575.5,699.5 571.8,696.5 C568.1,693.5 563.7,689.5 560.8,685.5 C557.9,681.5 554.9,676.7 554.2,672.3 C553.5,667.9 557.5,663.5 556.4,659.1 C555.3,654.7 550.5,650.3 547.6,645.9 C544.7,641.5 539.5,637.8 538.8,632.7 C538.1,627.6 540.6,619.9 543.2,615.1 C545.8,610.3 551.6,608.1 554.2,604.1 C556.8,600.1 556.4,595.3 558.6,590.9 C560.8,586.5 566.3,583.2 567.4,577.7 C568.5,572.2 565.2,563.7 565.2,557.8 C565.2,551.9 565.6,547.2 567.4,542.4 C569.2,537.6 572.5,533.2 576.2,529.2 C579.9,525.2 585.0,520.2 589.4,518.2Z"/></clipPath></defs>
<defs><filter id="lumpc" x="-10%" y="-10%" width="120%" height="120%"><feTurbulence type="fractalNoise" baseFrequency="0.12" numOctaves="2" seed="32" result="n"/><feDisplacementMap in="SourceGraphic" in2="n" scale="7" xChannelSelector="R" yChannelSelector="G"/></filter></defs>
<g filter="url(#lumpc)"><path d="M589.4,518.2 C593.8,516.2 597.9,516.4 602.7,517.1 C607.5,517.8 612.9,520.2 618.0,522.6 C623.1,525.0 630.5,528.5 633.5,531.4 C636.5,534.3 636.8,537.3 635.7,540.2 C634.6,543.1 629.1,545.3 626.9,549.0 C624.7,552.7 621.4,558.5 622.5,562.2 C623.6,565.9 630.9,567.3 633.5,571.0 C636.1,574.7 638.3,578.8 637.9,584.3 C637.5,589.8 633.9,598.6 631.3,604.1 C628.7,609.6 625.4,613.6 622.5,617.3 C619.6,621.0 614.5,621.7 613.7,626.1 C613.0,630.5 616.9,638.2 618.0,643.7 C619.1,649.2 620.3,653.6 620.3,659.1 C620.3,664.6 619.5,671.6 618.0,676.7 C616.5,681.8 615.2,686.2 611.5,689.9 C607.8,693.6 600.8,696.5 596.0,698.7 C591.2,700.9 586.8,703.6 582.8,703.2 C578.8,702.8 575.5,699.5 571.8,696.5 C568.1,693.5 563.7,689.5 560.8,685.5 C557.9,681.5 554.9,676.7 554.2,672.3 C553.5,667.9 557.5,663.5 556.4,659.1 C555.3,654.7 550.5,650.3 547.6,645.9 C544.7,641.5 539.5,637.8 538.8,632.7 C538.1,627.6 540.6,619.9 543.2,615.1 C545.8,610.3 551.6,608.1 554.2,604.1 C556.8,600.1 556.4,595.3 558.6,590.9 C560.8,586.5 566.3,583.2 567.4,577.7 C568.5,572.2 565.2,563.7 565.2,557.8 C565.2,551.9 565.6,547.2 567.4,542.4 C569.2,537.6 572.5,533.2 576.2,529.2 C579.9,525.2 585.0,520.2 589.4,518.2Z" fill="#efeef0" stroke="#cac8cc" stroke-width="0.9"/><path d="M589.4,518.2 C593.8,516.2 597.9,516.4 602.7,517.1 C607.5,517.8 612.9,520.2 618.0,522.6 C623.1,525.0 630.5,528.5 633.5,531.4 C636.5,534.3 636.8,537.3 635.7,540.2 C634.6,543.1 629.1,545.3 626.9,549.0 C624.7,552.7 621.4,558.5 622.5,562.2 C623.6,565.9 630.9,567.3 633.5,571.0 C636.1,574.7 638.3,578.8 637.9,584.3 C637.5,589.8 633.9,598.6 631.3,604.1 C628.7,609.6 625.4,613.6 622.5,617.3 C619.6,621.0 614.5,621.7 613.7,626.1 C613.0,630.5 616.9,638.2 618.0,643.7 C619.1,649.2 620.3,653.6 620.3,659.1 C620.3,664.6 619.5,671.6 618.0,676.7 C616.5,681.8 615.2,686.2 611.5,689.9 C607.8,693.6 600.8,696.5 596.0,698.7 C591.2,700.9 586.8,703.6 582.8,703.2 C578.8,702.8 575.5,699.5 571.8,696.5 C568.1,693.5 563.7,689.5 560.8,685.5 C557.9,681.5 554.9,676.7 554.2,672.3 C553.5,667.9 557.5,663.5 556.4,659.1 C555.3,654.7 550.5,650.3 547.6,645.9 C544.7,641.5 539.5,637.8 538.8,632.7 C538.1,627.6 540.6,619.9 543.2,615.1 C545.8,610.3 551.6,608.1 554.2,604.1 C556.8,600.1 556.4,595.3 558.6,590.9 C560.8,586.5 566.3,583.2 567.4,577.7 C568.5,572.2 565.2,563.7 565.2,557.8 C565.2,551.9 565.6,547.2 567.4,542.4 C569.2,537.6 572.5,533.2 576.2,529.2 C579.9,525.2 585.0,520.2 589.4,518.2Z" fill="none" stroke="#d8d6da" stroke-width="0.7" transform="translate(1.5,1.5)"/></g>
<g clip-path="url(#tpc)"><g opacity="0.6" filter="url(#mb5)"><rect x="538.8" y="510" width="99.10000000000002" height="102" fill="#ecd8ee"/><rect x="538.8" y="612" width="99.10000000000002" height="98" fill="#d6eaea"/></g>
<path d="M589.4,518.2 C593.8,516.2 597.9,516.4 602.7,517.1 C607.5,517.8 612.9,520.2 618.0,522.6 C623.1,525.0 630.5,528.5 633.5,531.4 C636.5,534.3 636.8,537.3 635.7,540.2 C634.6,543.1 629.1,545.3 626.9,549.0 C624.7,552.7 621.4,558.5 622.5,562.2 C623.6,565.9 630.9,567.3 633.5,571.0 C636.1,574.7 638.3,578.8 637.9,584.3 C637.5,589.8 633.9,598.6 631.3,604.1 C628.7,609.6 625.4,613.6 622.5,617.3 C619.6,621.0 614.5,621.7 613.7,626.1 C613.0,630.5 616.9,638.2 618.0,643.7 C619.1,649.2 620.3,653.6 620.3,659.1 C620.3,664.6 619.5,671.6 618.0,676.7 C616.5,681.8 615.2,686.2 611.5,689.9 C607.8,693.6 600.8,696.5 596.0,698.7 C591.2,700.9 586.8,703.6 582.8,703.2 C578.8,702.8 575.5,699.5 571.8,696.5 C568.1,693.5 563.7,689.5 560.8,685.5 C557.9,681.5 554.9,676.7 554.2,672.3 C553.5,667.9 557.5,663.5 556.4,659.1 C555.3,654.7 550.5,650.3 547.6,645.9 C544.7,641.5 539.5,637.8 538.8,632.7 C538.1,627.6 540.6,619.9 543.2,615.1 C545.8,610.3 551.6,608.1 554.2,604.1 C556.8,600.1 556.4,595.3 558.6,590.9 C560.8,586.5 566.3,583.2 567.4,577.7 C568.5,572.2 565.2,563.7 565.2,557.8 C565.2,551.9 565.6,547.2 567.4,542.4 C569.2,537.6 572.5,533.2 576.2,529.2 C579.9,525.2 585.0,520.2 589.4,518.2Z" fill="none" stroke="#f6f6f7" stroke-width="5" opacity="0.8"/>
<g fill="none" stroke-width="0.6" stroke-opacity="0.75"><path d="M546.5,556.9q-0.9,2.5 -5.3,0.2M575.6,517.2q0.0,-1.4 2.6,-0.9M633.3,554.6q1.2,0.7 -0.4,2.8M635.7,537.9q0.7,1.0 -1.5,2.0M543.7,524.2q-0.9,1.2 -2.8,-0.8M597.0,559.8q-0.8,1.4 -3.2,-0.4M547.8,528.7q-0.7,-1.1 1.5,-2.0M568.7,588.7q0.4,1.2 -1.9,1.7M590.8,611.8q0.3,1.8 -3.1,1.8M610.4,553.4q1.2,-1.6 3.9,1.0M563.4,517.3q2.7,0.5 1.1,5.3M570.4,548.0q-0.9,1.0 -2.5,-0.9M596.7,606.9q1.5,-1.0 2.9,2.1M620.2,523.6q1.5,-0.3 1.7,2.5M614.7,587.3q1.3,1.1 -1.2,3.2M626.3,610.7q2.5,-0.5 2.7,4.4M613.4,531.0q-2.4,-1.5 1.0,-5.5M588.6,529.4q1.1,2.5 -3.9,3.9M635.6,563.1q-1.0,2.1 -4.7,-0.3M589.1,551.6q2.2,-0.2 2.0,3.9M575.0,521.2q-2.4,-0.2 -1.5,-4.6M556.4,533.3q-0.4,-2.6 4.6,-2.7M576.2,605.1q-1.3,-1.5 1.9,-3.6M551.5,568.3q0.4,1.5 -2.4,1.8M547.5,589.9q0.5,2.5 -4.3,2.7M607.1,517.5q-1.4,0.5 -1.9,-2.2M616.7,595.4q2.3,1.4 -0.9,5.4M636.2,573.3q-2.0,-0.3 -0.9,-3.9M585.6,520.5q1.6,-1.2 3.4,2.0M628.7,582.2q1.4,1.1 -1.0,3.4M593.0,568.4q2.0,1.0 -0.4,4.3M622.1,569.7q-1.1,-1.9 2.8,-3.4M600.0,581.9q-2.0,1.1 -3.6,-2.8M546.7,547.0q2.2,-0.0 1.7,4.1M555.4,541.2q-2.0,0.7 -2.7,-3.2M636.9,551.7q-1.3,-1.4 1.8,-3.4M611.3,566.9q1.7,1.6 -1.8,4.4M623.4,581.4q1.4,1.6 -2.0,3.7M605.3,583.8q-1.2,0.7 -2.2,-1.6M552.8,558.5q0.1,-1.4 2.6,-0.9M558.4,603.5q0.4,1.5 -2.6,1.8M611.8,560.6q-1.2,-0.5 0.0,-2.7M541.8,568.3q-1.1,0.7 -2.2,-1.6M581.1,611.7q2.1,0.9 -0.1,4.5M547.0,524.7q-0.1,2.6 -4.9,1.6M544.8,545.0q-2.2,1.6 -4.6,-3.0M560.4,525.2q1.7,0.5 0.2,3.5M546.4,567.4q1.2,0.8 -0.5,2.9M558.0,560.5q-1.2,-1.3 1.6,-3.2M559.3,519.4q1.7,-1.9 4.8,1.8M558.1,599.0q-2.3,1.3 -4.2,-3.4M599.6,525.0q1.2,1.6 -2.1,3.5M616.5,562.3q-1.4,0.7 -2.4,-2.0M569.4,591.2q-1.3,0.4 -1.7,-2.2M567.9,602.1q-1.5,1.3 -3.6,-1.9M599.5,562.6q-0.4,2.4 -4.7,1.1M589.3,549.6q0.5,2.3 -4.0,2.6M553.2,563.6q1.2,2.2 -3.3,3.8M607.2,523.1q1.8,-1.5 4.1,2.3M576.4,607.9q-1.3,-1.0 0.9,-3.1M620.3,597.0q-0.6,1.2 -2.7,-0.3M571.9,528.4q-0.1,2.2 -4.2,1.5M633.6,602.2q0.2,-2.2 4.2,-1.2M571.2,533.4q-1.5,1.8 -4.5,-1.5M601.8,577.4q-2.0,1.1 -3.5,-2.9M623.0,537.1q0.6,1.8 -2.8,2.4M560.4,550.7q-0.5,1.4 -2.9,0.1M542.5,596.5q-2.0,0.8 -3.0,-3.1M600.0,599.7q-2.3,-1.5 1.1,-5.3M590.2,519.4q-1.0,0.7 -2.0,-1.4M597.8,531.6q0.3,2.4 -4.3,2.3M608.8,558.4q2.7,0.5 1.0,5.4M581.5,527.9q-2.5,-0.4 -1.1,-4.9M597.7,570.9q-1.8,-0.2 -1.0,-3.4M618.7,555.0q1.3,1.6 -2.1,3.7M602.1,595.9q-2.1,-0.5 -0.5,-4.3M607.9,535.5q-0.8,1.2 -2.8,-0.5M578.8,557.1q2.1,1.2 -0.8,4.8M627.1,574.3q-2.8,0.1 -2.2,-5.1M629.6,610.2q0.9,1.5 -2.1,2.8M570.0,611.6q-1.8,1.8 -4.6,-2.0M556.5,540.3q-0.4,-1.7 3.0,-2.0M562.3,532.3q-2.5,0.1 -2.0,-4.5M626.1,531.5q1.8,0.6 0.2,3.7M598.9,577.2q-0.9,-2.2 3.5,-3.3M567.0,564.1q-0.0,-1.9 3.6,-1.4M606.2,542.7q2.2,0.5 0.6,4.4M591.3,547.5q-0.6,2.3 -4.7,0.4M599.3,537.5q0.8,-1.0 2.3,0.7M601.0,538.6q-1.0,2.5 -5.3,-0.0M602.3,565.1q0.9,2.3 -3.7,3.3M572.4,563.0q-1.1,1.5 -3.7,-1.0M541.4,518.8q-0.2,-1.9 3.4,-1.7M540.0,602.0q-1.1,-1.4 1.8,-3.0M576.4,560.9q-0.8,1.1 -2.6,-0.7M617.8,572.7q1.5,0.2 0.7,3.0M562.0,562.0q0.8,2.5 -4.1,3.2M623.9,556.7q-0.3,-1.7 3.0,-1.8M618.7,572.4q-1.6,-1.5 1.6,-4.1M575.0,567.7q-1.9,-0.2 -1.0,-3.6M588.1,576.5q0.6,-1.8 3.8,-0.1M585.3,600.2q-1.8,-0.0 -1.3,-3.3M585.4,520.7q-1.5,-0.1 -1.0,-2.9M577.6,537.5q1.6,0.9 -0.5,3.5M600.4,517.5q1.3,-0.8 2.4,1.9M569.8,564.3q2.4,-0.8 3.3,3.9M578.0,604.2q-1.0,-2.0 3.0,-3.4M588.0,560.3q-2.0,-1.2 0.7,-4.5M609.4,598.6q-0.4,-2.4 4.2,-2.5M560.7,565.7q1.5,-1.3 3.5,1.8M593.5,562.6q2.7,-0.1 2.1,5.0M637.1,539.0q0.5,1.9 -3.2,2.3M551.0,525.8q-1.3,-2.1 2.9,-3.9M563.6,605.4q1.3,0.0 0.9,2.5M597.9,551.9q2.1,-1.0 3.5,3.2M579.1,519.8q-0.1,-1.8 3.3,-1.5M615.4,557.5q1.5,-1.5 4.0,1.8M589.8,594.1q-0.4,1.7 -3.5,0.4M618.7,543.8q2.7,0.0 1.9,5.0M551.0,564.4q-0.8,-1.2 1.7,-2.4M573.7,594.0q0.9,-2.1 4.5,0.2M585.9,565.8q2.5,1.2 -0.5,5.5M573.7,539.1q-1.2,0.7 -2.1,-1.8M578.1,556.9q-1.4,-1.4 1.6,-3.7M611.5,556.5q1.2,0.1 0.8,2.4M570.2,611.3q-0.0,1.6 -2.9,1.1M609.1,559.6q-0.5,1.7 -3.5,0.2M542.5,560.6q1.0,1.2 -1.6,2.8M598.7,540.3q-2.5,-0.3 -1.2,-4.9M561.5,582.2q-0.5,-1.6 2.6,-2.0M595.0,581.4q-1.6,1.7 -4.2,-1.8M619.9,583.6q0.6,1.4 -2.3,2.1M634.3,547.3q-1.7,-0.5 -0.3,-3.6M616.4,592.0q0.4,-2.8 5.4,-1.3M593.2,535.3q-1.7,-0.9 0.5,-3.9M624.7,594.8q-1.3,-0.8 0.5,-3.0M566.3,604.6q0.7,2.3 -3.7,3.0M578.9,525.7q-1.5,0.1 -1.2,-2.7M593.0,596.8q1.6,0.7 -0.2,3.5M626.5,582.1q-0.2,1.3 -2.6,0.7M584.0,577.1q1.9,1.1 -0.7,4.3M596.5,554.0q0.8,1.4 -2.0,2.4M600.8,578.6q-0.7,2.1 -4.4,0.1M591.5,537.3q1.5,-0.7 2.4,2.3M564.3,568.1q1.9,-1.8 4.7,2.3M602.5,519.9q-0.1,1.3 -2.5,0.7M591.1,555.3q0.3,2.4 -4.2,2.4M636.6,541.8q-1.6,-1.0 0.6,-3.7M603.5,544.1q1.4,1.0 -0.9,3.3M556.5,547.9q-1.4,1.4 -3.7,-1.6M637.1,531.5q-0.3,-2.1 3.8,-2.2M620.1,580.4q1.5,2.0 -2.6,4.3M603.9,605.1q-0.2,2.1 -4.0,1.0M629.3,574.0q0.1,-1.7 3.3,-1.0M613.4,609.0q1.4,1.9 -2.5,3.9M636.5,534.7q-2.2,-0.2 -1.2,-4.3M602.6,603.7q-1.1,-1.2 1.4,-2.8M608.7,584.4q0.2,1.3 -2.2,1.3M576.9,608.7q1.8,-0.8 2.8,2.9M566.2,547.5q1.3,-0.1 1.1,2.3M618.9,573.6q0.9,-1.8 4.1,0.5M539.0,540.5q-2.1,1.4 -4.1,-2.9M606.0,556.8q1.4,0.1 0.8,2.6M612.4,550.9q-1.5,-1.8 2.3,-4.1M578.1,544.4q0.8,-1.5 3.4,0.4M571.4,578.8q-0.8,-1.2 1.7,-2.4M575.3,545.9q0.4,-2.7 5.3,-1.3M606.2,603.1q-0.2,2.1 -4.1,1.1M627.8,606.4q1.5,-1.8 4.5,1.6M618.4,542.6q1.7,1.6 -1.7,4.3M569.6,552.1q-1.9,-2.0 2.3,-5.0M588.8,581.4q2.1,-1.2 3.7,3.0M569.4,588.9q-1.9,-2.0 2.4,-4.9M551.8,532.4q-0.8,1.4 -3.1,-0.5M575.8,543.7q1.1,-0.8 2.3,1.6M549.4,529.1q2.0,-0.7 2.8,3.2M602.7,592.5q-1.7,0.9 -2.8,-2.5M559.8,554.4q2.1,-1.4 4.1,3.0M555.3,545.2q-2.0,-0.7 -0.2,-4.2M582.3,577.1q2.4,0.8 0.3,4.9M549.2,596.2q-1.2,1.3 -3.3,-1.3M552.4,519.2q2.1,-1.0 3.3,3.2M608.1,568.3q-0.7,1.0 -2.3,-0.7M597.2,547.0q2.2,-1.0 3.5,3.4M595.1,590.1q-1.0,-1.3 1.8,-2.9M622.2,559.8q-2.3,-0.9 -0.1,-4.9M552.2,538.1q-1.1,-1.1 1.2,-2.9M637.6,548.9q-1.8,-0.1 -1.2,-3.5M626.5,607.4q0.5,1.4 -2.2,1.9M614.2,524.4q-1.0,1.4 -3.2,-0.8M591.7,554.1q-0.4,2.2 -4.4,0.8M568.9,580.9q0.8,-1.0 2.5,0.8M612.8,591.6q-0.5,-1.5 2.4,-2.1M619.2,526.1q-0.5,1.3 -2.8,0.1M634.8,590.8q-2.7,0.4 -2.7,-4.7M621.3,570.1q-0.6,-2.1 3.5,-2.7M567.6,558.6q-0.2,2.7 -5.2,1.7M539.1,586.5q2.7,-0.4 2.8,4.8M614.7,528.9q-1.9,-0.5 -0.4,-4.0M572.6,600.1q-0.5,1.7 -3.6,0.3M636.7,612.0q-1.4,-1.1 1.1,-3.5M636.1,523.1q-1.6,2.2 -5.2,-1.4M570.6,527.4q-1.3,1.6 -3.9,-1.2M580.3,593.1q2.4,-1.3 4.1,3.7M558.6,574.0q0.7,-2.0 4.3,-0.3M632.7,555.2q1.1,1.4 -1.9,3.1M555.3,565.0q1.7,1.4 -1.4,4.1M548.1,553.1q-1.2,-0.0 -0.9,-2.3M588.2,547.1q-1.4,-1.4 1.6,-3.6M618.7,527.1q0.4,-1.6 3.2,-0.4M546.0,530.7q-2.5,0.1 -2.0,-4.5M615.6,566.5q1.2,0.4 0.1,2.5M630.3,526.6q1.1,1.8 -2.5,3.4M544.3,556.7q-2.1,-0.1 -1.4,-4.0M608.9,535.2q0.6,2.6 -4.4,3.1M545.3,587.0q-0.8,-1.1 1.5,-2.3M584.0,577.0q-2.1,1.1 -3.6,-3.1M605.3,537.5q-1.7,1.1 -3.2,-2.4M615.8,532.6q1.0,-1.9 4.2,0.4M545.7,558.4q0.4,-2.5 5.1,-1.0M593.1,544.8q-0.1,-1.6 2.8,-1.4M567.0,580.6q-1.2,-2.5 3.8,-4.0M591.0,525.7q-1.6,-0.6 -0.0,-3.3M612.4,608.0q-1.2,0.7 -2.2,-1.8M563.9,533.8q1.7,-1.2 3.4,2.3M601.0,599.0q-2.7,-0.0 -2.0,-5.1M569.7,544.0q-0.1,1.3 -2.6,0.7M548.8,561.5q0.3,1.7 -2.9,1.7M606.1,561.9q-2.7,-0.0 -1.9,-5.0M587.0,518.6q0.6,-2.0 4.2,-0.3M613.5,519.1q0.7,1.0 -1.4,2.0M550.8,559.8q0.9,-1.8 3.9,0.4M636.0,544.6q-1.6,2.1 -5.0,-1.5M584.9,559.8q1.4,1.2 -1.3,3.5M610.2,533.7q-1.3,0.7 -2.3,-2.0M611.1,610.9q1.8,-0.7 2.7,2.9M620.1,529.8q-0.2,-2.1 3.7,-1.8M601.7,543.5q1.2,-1.4 3.5,1.1M589.1,571.6q-1.3,-0.9 0.8,-3.1M609.2,569.9q-0.2,-2.7 5.0,-2.4M557.8,548.0q0.7,-2.7 5.5,-0.7M605.6,568.6q2.7,0.4 1.1,5.3M587.2,587.2q0.1,-2.6 5.0,-1.8M556.5,548.0q-1.2,-0.5 0.1,-2.7M581.7,602.2q-0.0,2.1 -4.0,1.5M597.3,545.8q-0.2,-1.8 3.3,-1.7M573.0,529.4q-1.7,0.9 -2.9,-2.6M585.3,533.6q-0.0,-1.5 2.8,-1.1M564.7,548.3q0.3,-1.7 3.4,-0.7M552.4,560.9q0.6,2.3 -3.9,2.7M575.2,568.0q-0.4,1.3 -2.6,0.2M612.6,565.8q-0.7,-2.6 4.4,-3.1M564.3,519.3q-0.3,-1.5 2.6,-1.7M580.9,517.7q1.2,-1.6 3.9,1.1M552.5,588.4q-0.1,-1.5 2.7,-1.4M594.5,537.2q2.0,1.0 -0.5,4.5M565.9,536.1q2.4,1.4 -0.8,5.5M626.5,539.2q1.3,-0.1 1.2,2.3M575.4,591.3q-1.9,-0.4 -0.6,-3.9M587.7,608.5q-0.1,-2.0 3.6,-1.7M565.9,582.5q0.3,2.0 -3.4,1.9M553.5,558.3q0.4,-1.4 2.9,-0.3M557.6,579.0q1.9,1.7 -1.8,4.9M552.1,572.4q1.6,1.9 -2.4,4.5M617.2,588.0q2.1,0.3 0.9,4.1M577.6,542.9q-2.4,-1.0 0.2,-5.3M598.9,525.0q0.4,2.7 -4.8,2.7M561.0,554.6q1.4,0.5 0.1,3.0M569.0,586.3q-0.7,2.4 -5.0,0.5M589.9,535.9q0.6,-2.5 5.1,-0.7M617.7,537.0q1.2,1.0 -1.1,3.0M608.9,606.0q1.2,-1.3 3.3,1.3M551.1,570.6q-2.4,1.1 -3.9,-3.7M598.7,532.9q-1.3,0.8 -2.4,-1.8M581.5,544.6q-1.2,1.1 -2.9,-1.5M580.9,609.0q0.1,1.3 -2.3,1.1M558.5,518.8q1.4,-0.7 2.3,2.1M547.0,578.0q1.8,1.2 -1.0,4.2M589.5,588.4q-0.5,1.3 -2.8,0.1M632.8,591.2q-1.6,1.7 -4.4,-1.8M588.2,600.3q-1.1,1.5 -3.6,-1.0M614.8,600.1q-0.1,1.3 -2.5,0.8M564.4,602.4q-2.7,0.3 -2.5,-4.8M619.8,607.4q-1.0,-1.4 1.9,-2.8M608.7,574.9q-0.7,-1.0 1.4,-2.1M577.6,584.4q2.7,-0.3 2.6,4.7M601.0,559.2q1.2,0.6 -0.2,2.7M570.7,532.2q-1.0,2.5 -5.4,-0.0M590.1,576.1q1.4,0.4 0.3,2.8M597.1,596.9q0.5,2.1 -3.6,2.5M599.3,522.7q-0.8,-2.4 3.9,-3.2M560.2,527.0q2.1,-1.8 4.8,2.6M589.9,520.8q-2.5,0.7 -3.2,-4.2M627.4,547.6q-1.0,1.4 -3.4,-0.7M626.4,524.9q1.5,-0.3 1.7,2.5M620.8,521.5q-1.3,-1.2 1.3,-3.3M602.2,518.5q-1.3,-1.3 1.5,-3.3M542.3,585.5q2.6,0.5 1.0,5.1M613.2,604.1q0.9,1.7 -2.6,2.9M583.0,583.9q1.2,1.5 -2.0,3.3M600.4,522.3q-0.8,-1.1 1.5,-2.4M577.2,569.0q0.1,2.0 -3.7,1.7M612.6,589.2q-0.3,2.0 -3.9,0.9M545.0,577.9q1.2,2.3 -3.4,3.9M598.3,564.3q-0.2,1.2 -2.4,0.5M611.8,553.9q-0.1,-2.3 4.2,-1.8M588.8,586.5q1.5,-1.0 2.9,2.1M637.9,588.9q1.2,-0.9 2.7,1.6M592.2,600.0q1.1,-2.1 4.7,0.6M637.8,567.2q-2.0,0.2 -1.8,-3.5M583.5,574.1q1.1,2.5 -3.8,3.9M620.0,566.2q1.9,1.9 -2.2,4.9M591.2,536.1q-1.2,-0.0 -0.8,-2.4M590.6,608.9q-0.9,2.3 -4.9,0.0M595.8,587.4q1.7,-0.1 1.4,3.1M585.0,553.9q-2.7,0.7 -3.2,-4.5M561.3,601.9q1.5,0.7 -0.2,3.3M624.0,594.7q0.5,2.2 -3.7,2.5M584.5,580.4q-1.3,-1.7 2.2,-3.7M577.5,590.6q2.0,0.6 0.4,4.1M564.9,566.6q1.5,1.4 -1.5,3.9M543.4,563.6q-0.8,1.3 -2.9,-0.5M614.1,589.5q-1.2,0.2 -1.2,-2.1M549.4,595.0q-2.1,-0.8 -0.1,-4.6M612.1,536.7q-1.1,-1.5 2.0,-3.2M590.8,583.5q-1.5,0.5 -2.1,-2.4M545.7,527.7q0.1,-2.6 5.0,-1.7M545.1,561.7q0.7,-1.5 3.3,0.1M554.8,595.6q1.8,1.3 -1.0,4.3M573.3,577.4q0.5,-2.8 5.5,-1.1M608.9,594.3q1.3,-0.6 2.0,1.9M627.6,566.0q-1.1,-2.0 2.9,-3.4M557.7,561.5q-1.3,-1.1 1.2,-3.3M593.5,529.2q1.1,2.0 -3.0,3.6M620.7,569.5q-1.7,-1.3 1.2,-4.0M629.9,566.3q2.0,0.4 0.7,4.1M625.1,547.7q1.1,2.0 -2.9,3.4M612.4,572.5q-1.0,0.8 -2.3,-1.3M545.2,573.5q-0.1,2.1 -4.0,1.4M593.6,580.5q2.4,0.2 1.4,4.6M612.8,607.3q-1.9,-1.5 1.4,-4.6M584.4,593.8q0.8,-2.3 4.9,-0.2M603.8,523.8q-0.7,2.5 -5.1,0.5M562.5,533.1q-1.2,-0.0 -0.8,-2.3M569.8,597.2q0.9,2.5 -4.0,3.4M575.7,566.4q-1.6,-1.8 2.3,-4.3M603.4,541.3q0.8,1.7 -2.6,2.7M580.4,520.0q1.0,-0.7 2.0,1.3M624.3,604.3q-1.1,0.9 -2.5,-1.3M588.1,570.6q0.8,2.3 -3.7,3.2M567.3,571.2q-0.9,1.5 -3.4,-0.5M618.3,543.0q2.0,1.1 -0.6,4.4M590.2,587.9q0.4,-1.6 3.3,-0.5M584.2,536.3q-1.3,-0.9 0.7,-3.0M564.3,527.2q-1.0,2.2 -4.8,-0.2M541.4,539.9q1.1,1.0 -1.0,2.8M623.1,521.3q0.8,1.0 -1.4,2.2M545.4,583.8q-0.1,-2.3 4.2,-1.7M564.5,585.2q1.8,2.0 -2.4,4.7M581.5,520.1q1.8,-0.6 2.5,2.9M617.6,549.4q-1.2,0.2 -1.2,-2.1M612.6,577.3q1.0,-1.6 3.7,0.7M614.5,579.8q1.7,1.0 -0.7,4.0M563.1,519.0q-1.4,-1.0 0.8,-3.3M540.4,519.2q-0.5,2.0 -4.2,0.5M575.1,542.9q-0.3,-1.2 2.1,-1.5M577.2,588.9q-0.9,-2.2 3.4,-3.2M575.8,558.5q0.4,2.1 -3.5,2.3M627.0,534.5q-0.9,-1.7 2.5,-2.9M626.3,553.7q-0.2,1.8 -3.5,1.0M576.4,539.1q1.1,-2.5 5.5,0.1M611.3,572.0q-0.1,-2.1 3.8,-1.7M564.4,535.0q-2.3,0.4 -2.4,-4.0" stroke="#d8a8dc"/><path d="M588.0,651.1q1.6,1.2 -1.0,3.9M622.3,614.4q2.5,-0.9 3.4,3.9M539.7,653.1q1.4,-2.1 5.0,1.1M569.5,690.0q1.2,2.2 -3.2,3.9M612.0,622.9q-2.2,-1.1 0.5,-4.8M578.5,700.8q-1.2,0.6 -1.9,-1.8M586.0,668.3q-2.2,0.8 -3.0,-3.5M539.5,694.2q-1.0,-2.5 4.0,-3.7M587.5,694.7q1.4,-1.7 4.1,1.4M598.7,670.0q-0.9,-1.1 1.5,-2.4M597.6,697.4q0.3,-1.7 3.4,-0.6M634.6,688.8q-1.3,0.4 -1.6,-2.1M609.5,699.4q0.6,2.4 -4.0,2.8M539.2,681.1q-0.4,-2.2 3.9,-2.4M633.3,699.7q0.2,1.9 -3.4,1.8M583.5,685.4q2.5,0.1 1.7,4.8M563.9,619.3q0.9,1.0 -1.1,2.4M570.7,696.3q0.6,-1.5 3.3,0.0M554.1,623.6q-2.0,0.3 -2.1,-3.5M551.0,615.9q0.1,-1.9 3.6,-1.2M564.1,688.7q-0.8,2.7 -5.6,0.5M618.0,630.2q-1.2,-0.5 0.1,-2.6M577.8,677.3q1.5,-1.8 4.5,1.5M598.4,663.5q-0.2,-2.2 3.9,-2.0M598.3,641.1q-1.1,-0.6 0.2,-2.4M606.3,679.4q-0.4,-1.2 2.0,-1.7M556.0,633.8q1.2,-0.5 1.8,1.9M623.2,648.9q-2.0,1.4 -4.0,-2.7M594.0,692.4q1.9,1.7 -1.8,4.7M590.1,647.0q-1.4,0.5 -1.9,-2.3M633.5,647.9q-2.4,0.8 -3.2,-3.9M632.4,693.9q2.3,-0.7 3.0,3.8M632.3,658.9q-0.6,1.3 -2.8,-0.3M587.1,647.9q-0.2,1.8 -3.4,0.9M539.4,641.9q1.4,0.6 -0.1,3.0M632.8,649.1q-1.6,0.7 -2.5,-2.4M558.6,647.2q-0.3,-2.2 4.0,-2.1M598.6,696.2q0.3,-1.5 3.1,-0.5M553.5,661.1q2.7,0.2 1.6,5.1M547.4,628.6q0.8,-1.1 2.6,0.6M548.9,634.7q-0.2,-1.2 2.1,-1.3M585.2,664.8q0.3,-1.8 3.6,-0.8M539.6,632.1q-1.8,-0.4 -0.5,-3.7M597.9,625.8q-2.1,0.2 -2.0,-3.7M594.4,660.7q0.3,-1.2 2.5,-0.3M545.6,621.1q2.0,-1.3 3.9,2.7M594.0,667.0q-1.1,1.0 -2.7,-1.3M603.2,684.3q-0.1,-1.7 3.0,-1.4M608.4,681.2q2.0,-1.8 4.8,2.3M607.5,620.9q0.6,1.8 -2.8,2.4M627.4,693.6q-1.7,-0.2 -0.9,-3.2M567.4,612.5q-0.1,-1.2 2.2,-1.0M628.1,638.0q-2.1,-0.0 -1.5,-3.9M574.3,686.6q-2.5,0.5 -2.7,-4.3M559.4,699.1q1.6,-2.1 5.1,1.4M618.6,613.6q1.4,2.1 -2.9,4.2M615.1,686.2q-0.8,-1.2 1.5,-2.4M582.2,618.0q0.4,2.3 -4.0,2.3M631.1,692.0q-1.6,0.2 -1.6,-2.9M614.1,700.7q0.9,-2.2 4.9,0.1M637.4,654.1q-0.0,-2.3 4.2,-1.7M634.8,616.1q-1.7,1.4 -3.8,-2.1M557.7,663.6q-1.8,-0.2 -0.8,-3.5M605.9,649.2q-1.3,-1.1 1.1,-3.2M632.5,665.3q0.6,2.1 -3.5,2.6M560.8,687.1q-1.8,-1.8 1.9,-4.7M624.2,653.2q0.4,2.4 -4.1,2.5M558.7,638.5q0.3,-2.1 4.1,-0.9M600.8,665.9q-1.1,-0.8 0.7,-2.5M620.4,683.0q1.3,-1.8 4.3,1.2M621.1,689.8q1.3,2.4 -3.5,4.1M545.6,630.4q0.2,-1.4 2.7,-0.6M565.2,644.5q-1.2,0.6 -2.0,-1.8M543.8,630.1q0.9,1.1 -1.4,2.5M564.9,616.7q1.5,0.8 -0.5,3.4M616.6,690.4q1.5,-0.5 2.1,2.4M578.9,630.8q0.1,1.4 -2.6,1.2M590.5,685.8q0.7,1.2 -1.6,2.2M569.2,696.7q2.1,0.6 0.4,4.3M603.0,693.5q1.6,1.8 -2.2,4.3M581.2,683.6q2.0,-0.9 3.1,3.0M617.3,636.9q0.6,-1.4 3.1,0.1M587.0,678.9q-0.3,-1.8 3.1,-1.9M577.3,678.1q-0.6,-1.4 2.1,-2.1M559.1,679.4q0.7,-1.9 4.0,-0.1M605.3,642.1q-1.6,-0.8 0.3,-3.5M619.5,626.6q0.4,1.2 -2.0,1.6M578.2,620.8q-1.1,-0.9 0.8,-2.7M615.0,672.7q-2.7,-0.7 -0.7,-5.5M598.3,676.9q-1.2,-1.0 1.0,-3.0M634.4,655.8q0.2,-1.3 2.7,-0.6M566.4,684.3q-1.4,0.5 -1.9,-2.2M575.8,702.5q-1.3,0.4 -1.6,-2.1M576.6,614.7q-1.3,2.1 -4.8,-1.0M561.2,702.6q2.7,0.1 1.8,5.1M613.8,668.2q2.5,0.0 1.8,4.8M634.5,645.6q1.6,-1.5 3.9,1.9M634.1,635.8q-1.2,1.2 -3.0,-1.4M628.5,660.8q1.4,-1.7 4.2,1.3M631.9,651.8q1.4,-0.9 2.7,2.0M571.4,627.8q1.5,-1.2 3.4,1.9M571.7,620.1q1.2,0.8 -0.5,2.8M562.9,658.6q-1.1,2.5 -5.5,-0.2M634.2,692.7q-0.8,2.0 -4.3,-0.0M552.2,701.1q1.1,-1.5 3.6,1.1M541.6,691.6q-0.8,-1.0 1.4,-2.2M613.0,676.9q0.1,-1.2 2.4,-0.7M610.0,645.8q-1.2,-0.9 0.7,-2.9M612.2,672.8q1.5,-0.8 2.6,2.2M550.9,633.9q0.3,-1.2 2.5,-0.3M550.5,623.4q2.1,-1.4 4.1,2.9M624.5,642.0q-1.6,-0.3 -0.5,-3.3M629.2,692.0q-1.7,0.7 -2.4,-2.7M621.0,636.2q-1.2,0.3 -1.4,-2.0M577.5,675.2q1.0,-2.6 5.5,-0.0M620.7,657.2q2.0,0.6 0.4,4.1M547.8,700.1q0.9,0.9 -1.0,2.4M568.7,617.5q-1.0,2.2 -4.7,-0.2M632.8,654.0q0.3,2.4 -4.3,2.2M598.5,671.7q1.9,0.3 0.8,3.7M589.8,674.9q-1.4,-1.4 1.7,-3.6M545.6,676.3q1.4,2.4 -3.4,4.3M605.4,673.0q-0.7,2.0 -4.3,0.2M609.7,685.7q-1.4,0.0 -1.0,-2.5M633.9,632.8q2.4,1.2 -0.5,5.4M605.9,645.0q-1.0,2.1 -4.7,-0.4M593.2,697.1q1.0,0.7 -0.7,2.4M586.6,674.3q1.4,-0.2 1.4,2.5M581.0,665.7q0.7,1.2 -1.6,2.2M559.1,678.5q-2.7,-0.0 -1.9,-5.0M565.0,693.3q-0.5,-2.5 4.2,-2.8M549.7,672.9q0.6,1.6 -2.6,2.3M543.9,618.6q-1.0,-2.2 3.4,-3.4M563.6,685.0q-0.1,1.9 -3.5,1.2M626.4,679.9q0.2,1.2 -2.0,1.3M588.7,691.8q1.1,-0.5 1.7,1.8M556.9,653.9q-1.6,-1.7 2.0,-4.2M623.1,687.2q1.1,2.1 -3.1,3.5M566.6,640.0q1.5,2.2 -3.0,4.3M635.1,657.0q1.4,0.4 0.2,2.9M618.9,666.2q2.4,0.0 1.7,4.4M583.5,640.5q-1.5,0.1 -1.2,-2.7M626.1,635.5q1.7,0.2 0.7,3.3M625.3,684.7q1.3,-1.9 4.6,1.1M579.4,666.6q-2.4,-1.5 1.1,-5.5M567.7,684.2q-1.1,-1.0 1.0,-2.8M569.1,633.6q0.8,2.1 -3.4,3.1M618.2,633.4q-1.8,0.9 -2.9,-2.7M612.8,685.9q0.1,-1.9 3.6,-1.3M544.7,667.2q-0.9,2.6 -5.5,0.3M607.6,639.7q1.7,2.1 -2.7,4.7M540.9,680.0q-0.2,2.3 -4.4,1.3M595.1,685.3q-1.6,-1.5 1.7,-4.1M617.6,652.1q-0.2,2.8 -5.3,1.6M587.7,615.0q-1.0,1.3 -3.2,-0.8M613.1,643.5q1.7,-1.4 3.8,2.2M625.6,646.6q2.1,-0.9 3.2,3.2M628.0,625.0q-2.5,0.9 -3.4,-4.0M615.7,619.7q-2.3,1.1 -3.7,-3.4M619.8,680.5q1.2,-1.0 2.6,1.5M563.3,649.1q2.8,0.1 1.9,5.2M602.7,650.1q0.1,-2.6 4.9,-1.8M547.3,621.4q-0.7,-0.9 1.2,-2.1M626.1,666.6q-2.1,1.0 -3.4,-3.3M589.8,662.4q-1.9,-0.3 -0.7,-3.7M610.1,614.8q-1.4,-0.1 -0.8,-2.6M624.2,612.9q2.2,-0.2 2.1,4.0M606.4,670.6q1.4,1.0 -0.8,3.3M596.4,642.0q-2.7,-0.5 -1.0,-5.4M621.0,650.9q-0.8,-1.3 1.8,-2.4M585.4,676.0q-0.8,1.4 -3.2,-0.5M614.0,681.6q-1.6,0.1 -1.3,-2.9M566.5,626.0q-0.4,1.3 -2.8,0.2M598.4,638.5q1.8,-2.1 5.3,1.8M604.2,615.6q0.0,2.2 -4.1,1.7M588.7,661.7q-0.6,2.5 -5.1,0.7M621.1,632.5q0.3,2.2 -3.9,2.2M632.3,647.3q2.0,-1.7 4.5,2.4M615.3,654.7q-0.5,2.2 -4.4,0.7M546.0,653.6q-2.4,0.6 -2.9,-4.0M555.2,617.5q-1.3,-1.9 2.6,-3.8M569.9,622.0q0.8,-1.6 3.5,0.3M540.0,665.4q2.5,0.5 0.9,5.0M578.9,701.4q0.3,-1.3 2.7,-0.3M620.5,628.9q2.4,-0.1 2.0,4.4M552.0,649.7q1.7,0.9 -0.4,3.7M624.8,621.5q0.3,-1.6 3.2,-0.7M585.8,693.5q-2.5,-0.6 -0.6,-5.2M626.5,628.3q-1.5,0.8 -2.6,-2.2M587.0,659.8q1.0,-2.3 5.0,0.2M564.1,692.7q-0.3,-2.3 4.0,-2.2M616.4,612.6q1.2,-1.5 3.7,1.1M594.8,682.4q1.5,1.8 -2.3,4.2M608.4,638.6q2.2,-1.3 3.9,3.2M544.5,676.2q-0.4,-1.8 3.2,-2.0M542.2,641.6q0.0,1.8 -3.3,1.3M560.2,619.0q-1.9,0.9 -3.0,-2.9M622.5,692.9q0.6,1.3 -1.9,2.0M539.1,689.3q-1.7,-0.3 -0.8,-3.4M608.7,652.0q2.5,-0.2 2.2,4.5M612.2,658.0q0.4,-1.3 2.8,-0.2M576.1,691.3q0.8,1.0 -1.2,2.2M631.2,618.4q0.9,-1.3 3.1,0.8M577.6,613.3q1.9,-1.0 3.2,2.8M598.6,695.5q1.3,-1.5 3.7,1.3M545.7,651.2q-0.8,1.7 -3.8,-0.2M604.1,691.0q2.1,-0.3 2.0,3.7M547.4,702.6q-2.4,-0.1 -1.5,-4.5M584.5,687.7q-1.2,-1.5 2.0,-3.3M611.7,664.3q0.8,-1.1 2.6,0.7M589.4,614.4q-0.3,1.8 -3.5,0.8M597.6,658.5q-2.5,-0.1 -1.6,-4.8M547.1,658.8q-0.6,-1.5 2.3,-2.3M585.5,697.1q-1.7,-1.6 1.7,-4.4M583.8,697.5q1.9,1.8 -1.9,4.8M595.0,627.8q0.4,2.1 -3.7,2.2M619.8,697.8q-1.9,-0.6 -0.3,-4.0M599.6,648.7q1.2,1.1 -1.2,3.1M551.8,678.1q0.1,-1.5 3.0,-0.8M619.2,696.3q0.9,-2.1 4.5,0.1M557.6,671.7q1.2,2.0 -2.8,3.7M557.2,630.3q-0.7,-1.5 2.2,-2.3M619.8,653.1q2.0,0.6 0.4,4.1M552.6,666.3q-2.1,-1.3 0.9,-4.9M637.5,685.3q1.4,-0.5 1.9,2.3M627.0,695.5q-1.0,0.7 -2.0,-1.3M584.3,700.4q-1.9,-0.3 -0.7,-3.7M539.5,647.9q0.9,-1.5 3.5,0.6M598.2,648.6q-0.2,2.7 -5.2,1.7M545.2,662.0q0.7,2.2 -3.6,3.0M618.3,676.1q2.3,0.9 -0.1,5.0M610.6,665.7q-2.2,0.1 -1.7,-4.1M594.9,690.2q0.1,1.9 -3.4,1.6M569.5,695.5q1.3,1.1 -1.2,3.2M571.6,682.8q-1.0,1.3 -3.2,-1.0M564.6,679.2q-2.6,-0.6 -0.8,-5.2M614.2,671.2q-1.3,1.4 -3.6,-1.4M623.3,618.8q-2.5,-1.0 0.0,-5.3M603.4,680.7q1.5,-0.8 2.6,2.3M598.9,675.6q-0.7,-2.5 4.1,-3.1M577.4,695.2q-0.3,1.3 -2.7,0.4M551.5,647.3q-0.3,1.6 -3.1,0.5M567.2,678.0q-1.8,-1.9 2.3,-4.7M593.0,631.7q0.7,1.5 -2.3,2.4M566.6,694.8q-1.7,0.5 -2.2,-2.8M546.1,683.5q2.1,-1.2 3.7,3.0M541.4,657.1q1.0,-1.3 3.2,0.9M616.1,687.2q2.0,-1.1 3.4,3.0M588.0,684.1q-1.6,1.1 -3.1,-2.1M551.3,616.3q-0.2,-2.1 3.7,-1.8M551.1,698.9q-2.4,0.3 -2.4,-4.3M566.0,639.1q2.8,0.0 2.0,5.2M593.7,689.5q-0.5,-1.9 3.2,-2.3M553.9,634.3q-2.1,1.0 -3.4,-3.1M560.4,676.7q0.2,-2.3 4.4,-1.3M580.0,643.2q1.7,0.6 0.1,3.6M571.9,692.3q-1.6,-0.4 -0.4,-3.3M567.6,697.5q1.5,1.7 -2.0,3.9M562.7,673.1q2.0,1.1 -0.7,4.5M576.4,650.6q-1.8,0.5 -2.2,-2.9M558.5,661.0q1.0,-2.3 5.1,0.2M547.0,654.4q-0.7,-1.5 2.4,-2.3M634.0,658.8q-2.0,0.2 -1.7,-3.6M610.1,635.3q-0.1,-1.8 3.4,-1.4M555.5,644.3q2.5,-1.0 3.6,4.0M567.9,639.6q-0.3,-1.7 2.8,-1.8M561.7,633.5q-1.3,-0.4 -0.1,-2.6M586.8,671.7q-1.1,-1.8 2.6,-3.3M603.0,648.1q-1.4,2.3 -5.4,-0.9M590.3,614.3q-2.3,1.1 -3.7,-3.4M544.3,624.3q-0.6,-2.6 4.5,-3.0M615.8,681.9q2.0,1.5 -1.4,4.9M552.2,651.2q-1.9,-0.2 -1.0,-3.6M592.9,616.3q-0.9,-1.1 1.3,-2.5M571.8,677.4q1.7,1.9 -2.2,4.5M566.8,670.2q-1.1,-1.3 1.6,-3.0M636.5,689.4q-0.9,1.5 -3.4,-0.5M616.1,651.5q0.9,1.5 -2.1,2.7M564.4,677.3q-1.4,0.5 -2.0,-2.2M578.5,683.3q1.6,-1.9 4.6,1.6M582.2,692.1q1.1,1.6 -2.1,3.2M580.2,685.1q2.1,-0.7 2.9,3.4M580.1,634.4q-2.3,-0.4 -1.0,-4.6M573.5,680.1q-0.3,-1.9 3.2,-2.0M634.8,618.7q2.3,-1.0 3.6,3.6M591.8,656.3q0.4,1.4 -2.3,1.7M598.9,636.8q-1.2,-0.5 0.1,-2.6M607.0,661.6q-0.5,-2.7 4.6,-2.8M597.8,697.9q2.5,-0.6 2.9,4.2M580.3,673.1q1.5,0.7 -0.3,3.2M601.4,642.8q0.9,-1.0 2.4,1.0M542.2,646.2q-2.2,0.9 -3.4,-3.5M552.2,687.9q-1.0,1.8 -4.1,-0.5M571.9,620.0q-0.0,1.3 -2.5,0.9M580.0,668.3q1.5,0.1 1.0,2.9M627.4,616.4q-0.9,-1.8 2.6,-3.0M548.6,679.8q-1.7,1.7 -4.4,-1.8M553.8,654.8q-1.6,-1.9 2.4,-4.4M562.3,674.9q-1.0,1.5 -3.4,-0.7M621.7,638.7q-0.0,2.6 -4.8,1.8M581.3,672.9q2.0,-0.5 2.3,3.5M585.1,658.2q0.3,-2.3 4.6,-1.1M604.7,624.6q-1.1,1.4 -3.4,-0.9M634.1,650.0q0.6,2.5 -4.3,2.9M616.4,691.7q2.1,0.2 1.2,4.1M576.9,700.9q1.2,0.5 -0.1,2.7M548.6,679.4q2.0,-0.3 2.1,3.5M619.8,660.0q-2.0,-1.0 0.4,-4.4M549.0,684.7q1.6,-1.2 3.5,2.1M633.1,658.4q-0.5,1.3 -2.7,0.0M599.7,631.5q0.9,-0.9 2.4,1.0M539.3,643.8q1.4,0.2 0.7,2.7M553.3,652.1q0.8,-1.6 3.5,0.3M594.6,648.5q1.5,-1.3 3.6,1.8M592.8,624.5q1.5,-0.2 1.4,2.6M552.1,662.9q-1.8,-1.0 0.5,-4.0M568.7,637.2q1.3,-0.6 2.1,1.9M561.9,672.9q-1.4,1.3 -3.4,-1.7M567.2,684.1q-1.6,-1.3 1.4,-3.9M544.4,658.5q1.2,-1.2 3.1,1.3M567.0,660.3q-1.0,1.3 -3.1,-1.0M623.1,652.8q0.5,-1.2 2.5,0.0M581.1,620.1q-2.2,1.5 -4.3,-3.0M557.9,676.1q-0.6,1.9 -4.1,0.2M572.4,618.0q-2.4,-0.9 -0.2,-5.1M592.1,651.4q-0.7,2.0 -4.1,0.2M599.3,677.9q-0.6,1.7 -3.5,0.1" stroke="#90c4c0"/></g>
<path d="M567.6,663.4q-2.7,0.2 -4.6,-2.7M636.0,606.4q1.4,-3.2 5.9,-3.6M604.4,608.5q2.1,-1.9 5.6,-0.8M614.1,563.7q3.4,1.3 4.1,5.9M583.9,617.8q2.2,-2.6 6.5,-1.8M542.7,552.6q2.4,-1.9 6.1,-0.3M591.3,701.1q1.2,-4.3 6.7,-5.7M633.4,670.4q2.4,-2.6 7.0,-1.6M593.1,619.2q0.3,-2.7 3.5,-4.0M617.6,550.4q-0.8,-3.7 2.8,-7.1M624.5,659.6q2.1,-4.2 8.3,-4.5M570.3,535.9q4.3,1.9 5.0,7.9M620.2,665.5q-3.5,0.6 -6.5,-2.9M586.0,537.5q1.4,4.8 -3.1,9.5M580.0,641.9q4.4,1.5 5.6,7.4M623.2,668.2q-1.3,4.5 -7.2,6.0M581.2,583.6q-1.1,4.0 -6.3,5.4M636.4,532.9q3.4,-1.6 7.4,1.2M603.7,610.8q1.8,2.8 -0.2,6.7M553.4,688.6q2.5,-3.7 8.3,-3.2M540.0,533.3q-2.2,1.5 -5.4,0.0M578.3,638.0q-0.9,3.5 -5.4,4.7M635.6,671.5q1.5,-3.9 6.8,-4.7M630.2,689.4q-3.5,-0.5 -5.2,-4.8M605.0,636.0q-0.0,-3.6 4.0,-6.0M539.3,697.3q4.0,2.1 4.2,7.9M570.3,683.2q-1.9,-3.3 0.6,-7.7M594.4,554.1q-2.2,-0.7 -2.7,-3.6M587.9,580.7q-1.7,3.7 -6.9,4.2M575.6,634.8q-4.6,-1.5 -5.8,-7.7M622.3,645.4q-3.4,0.0 -5.7,-3.9M634.5,524.2q-2.3,-0.0 -3.8,-2.6M617.3,695.5q1.2,2.9 -1.4,6.1M566.2,598.8q-0.1,4.2 -4.9,6.8M583.0,656.7q0.6,2.0 -1.4,4.0M585.5,600.1q2.4,-2.6 6.9,-1.6M590.4,636.8q1.8,-2.2 5.4,-1.7M540.1,612.5q-2.4,-3.5 -0.0,-8.4M604.3,558.6q3.2,-2.6 8.2,-0.8M578.7,657.5q-1.9,-1.3 -1.6,-4.3M611.6,581.2q1.8,3.2 -0.6,7.4M564.5,576.8q-0.6,-1.9 1.2,-3.9M563.8,616.4q-2.7,-3.4 -0.6,-8.7M612.2,632.2q-1.6,3.8 -7.0,4.5M560.2,534.5q2.8,-2.7 7.7,-1.3M598.5,656.5q-0.1,-3.8 4.2,-6.4M577.6,682.8q-2.1,-2.8 -0.2,-7.0M552.6,566.1q0.5,2.0 -1.4,3.8M617.9,686.9q-3.1,0.4 -5.5,-2.8M567.6,565.7q-0.4,-4.8 4.7,-8.3M553.7,632.6q1.9,2.0 1.0,5.5M614.9,693.2q4.3,-0.7 7.9,3.7M597.7,530.4q1.0,-4.1 6.2,-5.6M631.0,692.0q3.2,-0.8 6.2,2.3M620.6,642.0q-1.5,-1.6 -0.7,-4.3M575.0,689.6q-1.1,-1.7 0.1,-4.2M627.7,584.7q-2.8,2.5 -7.5,1.0M581.6,609.6q1.9,4.6 -2.0,9.7M636.5,547.3q2.6,1.0 3.1,4.6M561.2,540.6q-1.0,-1.9 0.6,-4.3M602.4,663.8q-2.0,1.4 -4.8,0.0M585.7,602.5q-2.0,-2.5 -0.5,-6.3M584.3,625.7q0.4,4.2 -4.0,7.5M615.3,696.0q-2.5,-0.1 -3.9,-3.0M574.5,608.0q-3.9,-0.1 -6.3,-4.5M579.3,518.9q-1.6,1.4 -4.2,0.5M557.1,647.2q0.2,-2.8 3.5,-4.4M575.9,685.6q-1.0,4.7 -6.9,6.7M604.9,702.9q4.2,-1.3 8.5,2.6M569.9,693.8q-3.6,-0.9 -4.9,-5.5M604.6,571.5q2.4,-2.8 7.2,-2.0M633.9,647.2q2.1,1.5 1.7,4.8M574.0,669.4q1.9,2.0 0.9,5.5M541.6,577.5q-0.0,-4.9 5.6,-8.2M604.5,686.8q4.3,1.9 4.9,7.9M603.8,689.0q2.5,4.0 -0.5,9.5M541.4,551.2q-0.2,3.2 -4.0,5.1M558.4,676.3q-1.7,1.1 -4.1,-0.0M559.4,567.4q1.4,-1.6 4.1,-1.1M546.0,521.3q-2.2,-2.8 -0.5,-7.0M636.5,633.0q-1.4,-4.2 2.5,-8.5M591.6,636.0q-4.2,2.0 -9.2,-1.4M624.7,586.5q-0.8,-4.1 3.3,-7.6M597.1,644.1q4.3,1.5 5.4,7.5M632.9,648.7q2.2,-1.1 4.9,0.7M609.2,668.7q0.9,-3.1 5.0,-4.1M601.2,626.5q2.9,-0.6 5.5,2.2M631.5,548.4q-1.9,-1.4 -1.5,-4.4M614.9,604.9q-2.6,-3.6 -0.2,-8.9M574.3,545.2q-1.7,2.3 -5.4,2.0M627.1,660.5q0.7,2.4 -1.6,4.8M618.2,671.2q0.9,3.1 -2.1,6.1M633.4,557.8q-3.0,-0.4 -4.5,-4.1M544.6,567.1q0.7,-3.7 5.3,-5.4M635.6,703.0q4.4,1.7 5.4,7.7M585.1,555.8q-0.2,4.1 -4.9,6.6M621.4,677.2q2.9,-2.9 8.1,-1.5M590.8,640.3q2.7,-1.0 5.6,1.5M633.5,644.9q-2.0,1.4 -4.8,0.0M548.1,596.5q-2.8,1.3 -6.2,-1.0M612.3,552.2q2.1,-0.2 3.8,2.1M559.7,696.6q0.7,-4.3 6.0,-6.2M565.3,698.1q-1.3,4.6 -7.3,6.1M597.8,542.7q3.7,2.9 2.8,9.0M591.4,624.6q2.7,-4.1 9.0,-3.7M596.5,616.6q-0.4,2.7 -3.8,4.0M631.3,671.4q1.9,2.1 0.7,5.7M581.4,661.6q2.5,1.7 2.2,5.6M550.2,518.0q2.9,3.3 1.1,8.8M542.4,582.0q3.2,-1.6 7.1,1.0M550.0,527.7q2.6,2.2 1.8,6.6M564.6,638.4q2.5,2.8 1.0,7.5M600.6,647.9q-2.3,-0.1 -3.6,-2.8M579.8,680.0q1.2,-4.5 7.0,-6.0M619.1,522.6q3.7,-0.9 7.0,2.7M546.1,635.2q-3.2,2.5 -8.1,0.5M623.1,604.8q-0.9,1.9 -3.6,2.1M571.8,702.0q-4.6,-0.6 -6.9,-6.1M616.3,688.0q2.8,-1.1 5.8,1.4M616.0,550.9q-2.4,-0.2 -3.7,-3.0M599.5,534.3q0.9,3.7 -2.8,7.1M563.3,685.3q2.5,-0.5 4.7,2.0M590.7,529.5q-2.6,1.8 -6.3,-0.0M616.9,689.3q-0.4,4.2 -5.3,6.5M632.6,605.6q2.7,-3.5 8.5,-2.8M604.0,683.6q-0.1,-4.1 4.4,-6.8M625.0,642.6q-2.6,-2.3 -1.7,-6.6M577.5,691.9q4.4,-0.1 7.4,4.8M561.0,620.9q0.6,4.3 -3.9,7.8M543.8,693.9q-3.2,1.8 -7.3,-0.7M632.9,577.2q3.1,2.3 2.5,7.2M573.9,541.3q-1.6,-4.3 2.3,-8.9M637.2,560.0q-2.6,3.7 -8.4,3.2M611.2,575.1q3.5,-2.3 8.4,0.2M627.6,655.7q2.6,-1.7 6.2,0.2M632.2,687.7q-4.1,0.3 -7.1,-4.2M626.0,621.2q0.4,-3.9 5.0,-5.9M625.9,543.8q-2.4,2.3 -6.5,1.1M633.7,682.3q2.6,0.0 4.3,3.0M593.4,652.4q1.6,-1.3 4.2,-0.3M577.0,689.8q-2.8,-0.0 -4.6,-3.2M592.6,547.3q1.2,2.3 -0.6,5.1M564.4,691.1q0.4,-4.0 5.1,-6.2M614.5,676.4q-2.1,-2.8 -0.2,-7.0M598.4,576.5q-2.9,0.3 -5.0,-2.8M550.3,579.4q2.9,-0.5 5.3,2.4M621.2,602.9q1.8,1.9 0.8,5.1M613.9,599.9q0.2,-2.1 2.7,-3.2M566.1,629.7q-0.2,-3.9 4.0,-6.8M582.3,534.2q1.1,-2.6 4.7,-3.0M622.1,619.6q-1.4,-4.8 3.1,-9.4M597.5,687.5q-2.3,-0.6 -3.2,-3.6M568.8,612.4q1.4,-1.7 4.2,-1.3M587.8,641.8q-3.0,-0.7 -4.1,-4.5M539.5,683.7q-1.2,2.5 -4.7,2.7M572.2,592.7q-3.2,-0.6 -4.5,-4.6M611.8,550.6q1.8,-3.0 6.4,-2.8M555.1,632.1q2.3,-3.0 7.2,-2.3M565.3,655.3q0.8,-4.4 6.3,-6.4M603.9,574.0q-4.6,-0.3 -7.2,-5.8M594.2,534.3q-2.4,1.6 -5.8,-0.1M594.4,568.3q-0.3,-3.2 3.2,-5.7M593.6,522.9q-0.7,2.2 -3.6,2.9M633.3,630.1q-2.0,2.6 -6.2,1.9M558.1,586.2q-3.4,-0.3 -5.4,-4.3M609.6,696.3q2.9,-0.8 5.7,1.9M548.4,667.4q2.2,3.9 -0.8,8.8M576.3,536.5q-0.1,-2.6 2.7,-4.4M604.0,551.1q-2.3,0.9 -4.8,-1.2M564.9,548.3q2.0,-0.8 4.1,0.9M616.5,702.6q-1.2,2.3 -4.5,2.4M590.3,620.5q1.9,-3.2 6.8,-3.1M545.7,519.7q0.9,4.5 -3.5,8.4M551.9,584.6q2.8,-1.4 6.1,0.9M559.2,661.0q1.8,-1.1 4.3,0.1M549.5,685.8q-1.9,-2.9 0.2,-6.9M598.8,610.5q-1.1,2.0 -4.0,2.2M555.3,661.1q3.3,-2.3 8.1,-0.1M589.7,554.7q-4.0,0.6 -7.3,-3.5M558.5,700.4q2.7,0.6 3.7,4.0M589.1,598.9q1.1,-3.5 5.9,-4.6M580.8,549.8q1.0,1.8 -0.4,4.1M618.0,691.8q2.0,3.4 -0.6,7.8M565.1,647.7q-2.2,3.9 -8.1,3.9M603.8,625.2q2.1,4.2 -1.3,9.2M560.5,517.9q3.2,-3.2 8.9,-1.7M610.1,574.1q-2.0,1.4 -4.9,0.0M636.0,571.4q-1.3,2.3 -4.8,2.3M576.1,532.8q1.0,-4.3 6.6,-6.0M611.3,614.9q2.3,1.5 2.0,5.1M572.4,645.0q-1.9,1.3 -4.6,0.0M617.5,659.2q-1.7,-4.4 2.1,-9.2M614.7,540.1q2.1,-3.6 7.5,-3.6M598.6,558.8q1.3,-2.1 4.5,-1.9M620.5,608.3q-0.5,-2.9 2.5,-5.4M624.5,657.8q2.5,-3.7 8.3,-3.3M612.7,523.0q2.5,-3.2 7.7,-2.6M556.5,702.6q-1.4,-1.6 -0.5,-4.2M626.3,580.6q2.2,-3.1 7.1,-2.7M557.1,551.5q-2.7,-1.7 -2.6,-5.9M543.5,626.7q-1.4,-2.2 0.2,-5.2M580.2,669.7q-0.2,-2.1 2.0,-3.7M592.9,623.1q-4.1,0.9 -7.9,-3.2M603.5,650.7q1.9,3.4 -0.7,7.6M633.4,638.5q-2.5,-3.5 -0.2,-8.5M619.4,565.4q-0.1,2.7 -3.2,4.4M539.3,537.5q3.7,0.5 5.5,4.9M626.3,622.8q4.2,1.6 5.1,7.3M611.4,541.0q-3.0,-2.5 -2.2,-7.5M598.9,591.1q1.2,4.7 -3.3,9.1M613.0,598.5q-1.5,-2.7 0.5,-6.2M565.7,636.6q1.8,-3.5 6.9,-3.8M606.3,610.1q1.7,-3.1 6.2,-3.2M579.6,545.1q-0.2,2.9 -3.6,4.5M597.2,545.2q-1.6,-4.4 2.3,-9.0M613.8,554.2q-0.5,3.0 -4.2,4.4M552.5,605.1q1.0,-2.5 4.5,-3.1M589.4,664.8q3.3,-2.9 8.8,-1.0M539.2,649.3q4.6,-0.8 8.4,3.9M544.5,628.2q-4.6,-0.0 -7.6,-5.3M580.5,702.8q2.2,-0.5 4.1,1.6M546.1,634.5q-2.2,-2.2 -1.2,-6.1M621.0,644.9q-1.1,4.1 -6.5,5.5M619.8,652.1q-0.5,2.4 -3.5,3.4M604.3,659.0q-3.1,2.4 -7.8,0.4M613.1,683.0q-1.4,-2.1 0.1,-5.1M614.5,554.3q1.0,2.2 -0.8,4.9M555.0,618.8q-3.1,-1.4 -3.5,-5.7M564.4,562.0q1.8,1.2 1.6,4.1M556.9,566.3q-0.4,2.5 -3.6,3.7M618.9,697.6q1.8,-2.9 6.2,-2.8M610.1,633.4q-2.3,-2.3 -1.2,-6.4M597.0,559.2q-2.0,-3.6 0.8,-8.2M580.0,528.5q3.5,-2.6 8.6,-0.3M586.3,698.9q4.3,-0.8 8.1,3.5M555.3,671.3q-2.6,3.5 -8.4,2.9M617.4,520.3q-3.9,1.7 -8.4,-1.6M619.2,648.6q2.9,-1.3 6.2,1.1M583.7,586.8q3.8,2.3 3.7,8.2M626.5,699.9q0.2,-2.7 3.5,-4.3M633.1,615.1q-0.9,1.8 -3.6,1.9M605.0,652.6q-4.2,-1.1 -5.6,-6.6M581.2,631.5q3.5,-0.9 6.8,2.6M604.8,524.4q-2.6,1.2 -5.7,-0.9M618.9,628.6q-2.7,0.8 -5.4,-1.8M591.0,525.2q3.9,1.4 4.9,6.8M549.6,566.2q1.8,-2.8 6.1,-2.6M564.6,686.5q-2.4,-0.3 -3.7,-3.2M555.4,547.9q2.7,1.3 3.0,5.1M568.5,562.8q-2.7,1.3 -5.8,-0.9M545.4,587.0q-3.4,-2.8 -2.4,-8.5M608.8,663.2q-3.8,1.3 -7.7,-2.2M588.0,555.1q-1.8,3.4 -6.7,3.6M544.2,585.8q0.4,-2.8 3.9,-4.2M623.7,631.4q-1.3,2.6 -5.1,2.8M624.8,651.9q1.6,-1.9 4.9,-1.3M553.5,630.3q2.0,2.1 0.9,5.7M596.6,527.2q-2.5,-3.0 -0.8,-7.8M600.3,621.7q1.4,-3.5 6.3,-4.2M592.6,541.0q2.1,-4.3 8.4,-4.8" fill="none" stroke="#c4c4c8" stroke-width="0.6" stroke-opacity="0.8"/></g>
<defs><linearGradient id="cgb" x1="0" y1="0" x2="1" y2="0"><stop offset="0" stop-color="#6c1a98"/><stop offset="0.1" stop-color="#6a1890"/><stop offset="0.17" stop-color="#4c10c0"/><stop offset="0.24" stop-color="#1a10ff"/><stop offset="0.31" stop-color="#2a40ff"/><stop offset="0.37" stop-color="#70d8ff"/><stop offset="0.42" stop-color="#88f8f0"/><stop offset="0.48" stop-color="#60f080"/><stop offset="0.54" stop-color="#40f020"/><stop offset="0.63" stop-color="#a8f030"/><stop offset="0.7" stop-color="#f0f040"/><stop offset="0.76" stop-color="#f0a030"/><stop offset="0.82" stop-color="#ff3020"/><stop offset="0.92" stop-color="#ff2424"/><stop offset="1" stop-color="#f06868"/></linearGradient></defs>
<rect x="80.3" y="718.3" width="86.2" height="12" fill="url(#cgb)" stroke="#333" stroke-width="0.7"/>
<text x="79.6" y="741.6" font-size="6.3" text-anchor="middle" font-weight="normal" fill="#111" font-family="'Liberation Sans', Arial, sans-serif"  textLength="7.6" lengthAdjust="spacingAndGlyphs">3.1</text>
<text x="92.0" y="741.6" font-size="6.3" text-anchor="middle" font-weight="normal" fill="#111" font-family="'Liberation Sans', Arial, sans-serif"  textLength="7.6" lengthAdjust="spacingAndGlyphs">3.7</text>
<text x="104.5" y="741.6" font-size="6.3" text-anchor="middle" font-weight="normal" fill="#111" font-family="'Liberation Sans', Arial, sans-serif"  textLength="7.6" lengthAdjust="spacingAndGlyphs">4.2</text>
<text x="116.9" y="741.6" font-size="6.3" text-anchor="middle" font-weight="normal" fill="#111" font-family="'Liberation Sans', Arial, sans-serif"  textLength="7.6" lengthAdjust="spacingAndGlyphs">4.8</text>
<text x="129.4" y="741.6" font-size="6.3" text-anchor="middle" font-weight="normal" fill="#111" font-family="'Liberation Sans', Arial, sans-serif"  textLength="7.6" lengthAdjust="spacingAndGlyphs">5.3</text>
<text x="141.8" y="741.6" font-size="6.3" text-anchor="middle" font-weight="normal" fill="#111" font-family="'Liberation Sans', Arial, sans-serif"  textLength="7.6" lengthAdjust="spacingAndGlyphs">5.7</text>
<text x="154.3" y="741.6" font-size="6.3" text-anchor="middle" font-weight="normal" fill="#111" font-family="'Liberation Sans', Arial, sans-serif"  textLength="7.6" lengthAdjust="spacingAndGlyphs">6.4</text>
<text x="166.8" y="741.6" font-size="6.3" text-anchor="middle" font-weight="normal" fill="#111" font-family="'Liberation Sans', Arial, sans-serif"  textLength="7.6" lengthAdjust="spacingAndGlyphs">7.5</text>
<defs><linearGradient id="cgc" x1="0" y1="0" x2="1" y2="0"><stop offset="0" stop-color="#1010f0"/><stop offset="0.055" stop-color="#1010f0"/><stop offset="0.12" stop-color="#3070f0"/><stop offset="0.17" stop-color="#50a8f0"/><stop offset="0.27" stop-color="#60f0e0"/><stop offset="0.33" stop-color="#60f0c0"/><stop offset="0.43" stop-color="#30f030"/><stop offset="0.58" stop-color="#50f020"/><stop offset="0.71" stop-color="#c0f040"/><stop offset="0.8" stop-color="#e0c040"/><stop offset="0.89" stop-color="#f08030"/><stop offset="0.97" stop-color="#f02010"/><stop offset="1" stop-color="#f02010"/></linearGradient></defs>
<rect x="365.4" y="717.5" width="151.2" height="18" fill="url(#cgc)" stroke="#333" stroke-width="0.7"/>
<text x="365.4" y="745" font-size="5.9" text-anchor="middle" font-weight="normal" fill="#111" font-family="'Liberation Serif', serif" >3.51</text>
<text x="390.1" y="745" font-size="5.9" text-anchor="middle" font-weight="normal" fill="#111" font-family="'Liberation Serif', serif" >3.65</text>
<text x="414.8" y="745" font-size="5.9" text-anchor="middle" font-weight="normal" fill="#111" font-family="'Liberation Serif', serif" >3.80</text>
<text x="439.5" y="745" font-size="5.9" text-anchor="middle" font-weight="normal" fill="#111" font-family="'Liberation Serif', serif" >3.94</text>
<text x="464.2" y="745" font-size="5.9" text-anchor="middle" font-weight="normal" fill="#111" font-family="'Liberation Serif', serif" >4.09</text>
<text x="488.9" y="745" font-size="5.9" text-anchor="middle" font-weight="normal" fill="#111" font-family="'Liberation Serif', serif" >4.24</text>
<text x="513.6" y="745" font-size="5.9" text-anchor="middle" font-weight="normal" fill="#111" font-family="'Liberation Serif', serif" >4.38</text>
<text x="162.4" y="786.9" font-size="12.75" text-anchor="middle" font-weight="bold" fill="#000" font-family="'Liberation Sans', Arial, sans-serif" >Model to Map FSC-plot</text>
<g stroke="#000" stroke-width="1.6">
<line x1="60.6" y1="790.3" x2="60.6" y2="931.5"/>
<line x1="59.8" y1="924.6" x2="263.6" y2="924.6"/>
<line x1="54.8" y1="791.1" x2="60" y2="791.1"/>
<line x1="54.8" y1="817.8" x2="60" y2="817.8"/>
<line x1="54.8" y1="844.5" x2="60" y2="844.5"/>
<line x1="54.8" y1="871.2" x2="60" y2="871.2"/>
<line x1="54.8" y1="897.9" x2="60" y2="897.9"/>
<line x1="54.8" y1="924.6" x2="60" y2="924.6"/>
<line x1="89.5" y1="924.6" x2="89.5" y2="931.5"/>
<line x1="118.4" y1="924.6" x2="118.4" y2="931.5"/>
<line x1="147.3" y1="924.6" x2="147.3" y2="931.5"/>
<line x1="176.2" y1="924.6" x2="176.2" y2="931.5"/>
<line x1="205.1" y1="924.6" x2="205.1" y2="931.5"/>
<line x1="234.0" y1="924.6" x2="234.0" y2="931.5"/>
<line x1="262.9" y1="924.6" x2="262.9" y2="931.5"/>
</g>
<text x="52.3" y="794.9" font-size="10.2" text-anchor="end" font-weight="bold" font-family="'Liberation Sans', Arial, sans-serif">1×10<tspan dy="-3.6" font-size="7">0</tspan></text>
<text x="52.3" y="821.6" font-size="10.2" text-anchor="end" font-weight="bold" font-family="'Liberation Sans', Arial, sans-serif">8×10<tspan dy="-3.6" font-size="7">-1</tspan></text>
<text x="52.3" y="848.3" font-size="10.2" text-anchor="end" font-weight="bold" font-family="'Liberation Sans', Arial, sans-serif">6×10<tspan dy="-3.6" font-size="7">-1</tspan></text>
<text x="52.3" y="875.0" font-size="10.2" text-anchor="end" font-weight="bold" font-family="'Liberation Sans', Arial, sans-serif">4×10<tspan dy="-3.6" font-size="7">-1</tspan></text>
<text x="52.3" y="901.7" font-size="10.2" text-anchor="end" font-weight="bold" font-family="'Liberation Sans', Arial, sans-serif">2×10<tspan dy="-3.6" font-size="7">-1</tspan></text>
<text x="52.3" y="928.6" font-size="10.2" text-anchor="end" font-weight="bold" fill="#000" font-family="'Liberation Sans', Arial, sans-serif" >0</text>
<text x="60.6" y="916.2" font-size="10.4" text-anchor="middle" font-weight="bold" fill="#000" font-family="'Liberation Sans', Arial, sans-serif" >0.0</text>
<text x="118.4" y="916.2" font-size="10.4" text-anchor="middle" font-weight="bold" fill="#000" font-family="'Liberation Sans', Arial, sans-serif" >0.2</text>
<text x="176.2" y="916.2" font-size="10.4" text-anchor="middle" font-weight="bold" fill="#000" font-family="'Liberation Sans', Arial, sans-serif" >0.4</text>
<text x="234.0" y="916.2" font-size="10.4" text-anchor="middle" font-weight="bold" fill="#000" font-family="'Liberation Sans', Arial, sans-serif" >0.6</text>
<text transform="translate(16.6,858.4) rotate(-90)" font-size="11.2" text-anchor="middle" font-weight="bold" font-family="'Liberation Sans', Arial, sans-serif">FSC</text>
<text x="162.3" y="950.6" font-size="10.9" text-anchor="middle" font-weight="bold" fill="#000" font-family="'Liberation Sans', Arial, sans-serif" >1 / resolution (Å)</text>
<line x1="61" y1="858" x2="112.3" y2="858" stroke="#e8b4b4" stroke-width="0.6"/>
<line x1="100.4" y1="846.5" x2="100.4" y2="924" stroke="#e8b4b4" stroke-width="0.6"/>
<text x="115.5" y="859.8" font-size="5.6" text-anchor="start" font-weight="normal" fill="#333" font-family="'Liberation Sans', Arial, sans-serif" >7.9 Å</text>
<text x="135" y="859.8" font-size="5.6" text-anchor="start" font-weight="normal" fill="#333" font-family="'Liberation Sans', Arial, sans-serif" >FSC 0.5</text>
<path d="M80.2,843.5 C80.9,843.5 82.9,843.5 84.6,843.8 C86.3,844.1 88.7,844.4 90.4,845.2 C92.1,846.1 93.5,847.4 94.8,848.9 C96.1,850.4 97.5,852.2 98.5,854.0 C99.5,855.8 100.0,857.4 100.7,859.8 C101.4,862.2 102.1,865.7 102.8,868.6 C103.5,871.5 104.3,874.4 105.0,877.3 C105.7,880.2 106.5,883.6 107.2,886.1 C107.9,888.6 108.6,891.0 109.4,892.4 C110.2,893.8 111.1,894.5 112.3,894.2 C113.5,893.9 115.5,891.2 116.7,890.8 C117.9,890.3 118.4,890.7 119.6,891.5 C120.8,892.3 122.5,894.3 124.0,895.8 C125.5,897.2 126.9,898.8 128.4,900.2 C129.9,901.6 131.5,902.7 132.8,904.0 C134.1,905.3 134.9,906.7 136.0,907.8 C137.1,908.9 138.1,910.2 139.4,910.6 C140.7,911.0 142.7,910.3 144.0,910.4 C145.3,910.5 145.9,910.4 147.3,911.0 C148.7,911.6 151.1,913.1 152.5,913.8 C153.9,914.5 154.7,914.7 156.0,915.4 C157.3,916.1 158.9,917.5 160.4,918.0 C161.9,918.5 163.2,918.2 165.0,918.4 C166.8,918.6 169.9,919.1 170.9,919.2" fill="none" stroke="#111" stroke-width="1.2"/>
<path d="M80.2,848.6 C80.9,848.6 82.9,848.6 84.6,848.9 C86.3,849.2 88.7,849.6 90.4,850.3 C92.1,851.0 93.5,852.0 94.8,853.2 C96.1,854.4 97.5,856.1 98.5,857.6 C99.5,859.1 100.0,860.0 100.7,862.0 C101.4,864.0 102.1,866.9 102.8,869.6 C103.5,872.3 104.3,875.3 105.0,878.3 C105.7,881.2 106.5,884.7 107.2,887.3 C107.9,889.9 108.6,892.4 109.4,893.8 C110.2,895.2 111.1,895.8 112.3,895.6 C113.5,895.4 115.5,892.8 116.7,892.4 C117.9,892.0 118.4,892.2 119.6,893.0 C120.8,893.8 122.5,895.8 124.0,897.2 C125.5,898.6 126.9,900.2 128.4,901.6 C129.9,903.0 131.5,904.1 132.8,905.3 C134.1,906.5 134.9,907.9 136.0,909.0 C137.1,910.1 138.1,911.4 139.4,911.8 C140.7,912.2 142.7,911.5 144.0,911.6 C145.3,911.7 145.9,911.6 147.3,912.2 C148.7,912.8 151.1,914.3 152.5,915.0 C153.9,915.7 154.7,915.9 156.0,916.6 C157.3,917.3 158.9,918.7 160.4,919.2 C161.9,919.7 163.2,919.4 165.0,919.6 C166.8,919.8 169.7,920.4 170.9,920.4 C172.2,920.4 172.0,919.6 172.5,919.5 C173.0,919.3 173.6,919.5 174.1,919.5 C174.6,919.6 175.2,920.1 175.7,920.0 C176.2,919.8 176.8,918.6 177.3,918.7 C177.8,918.8 178.4,920.4 178.9,920.5 C179.4,920.5 180.0,918.9 180.5,918.8 C181.0,918.7 181.6,919.5 182.1,919.8 C182.6,920.1 183.2,920.6 183.7,920.5 C184.2,920.5 184.8,919.7 185.3,919.7 C185.8,919.6 186.4,920.2 186.9,920.4 C187.4,920.5 188.0,920.5 188.5,920.5 C189.0,920.5 189.6,920.7 190.1,920.6 C190.6,920.6 191.2,920.3 191.7,920.3 C192.2,920.3 192.8,920.9 193.3,920.8 C193.8,920.8 194.4,920.0 194.9,920.0 C195.4,920.0 196.0,920.7 196.5,920.7 C197.0,920.8 197.6,920.5 198.1,920.5 C198.6,920.6 199.2,921.0 199.7,921.1 C200.2,921.1 200.8,921.1 201.3,920.6 C201.8,920.2 202.4,918.3 202.9,918.3 C203.4,918.4 204.0,920.8 204.5,921.2 C205.0,921.5 205.6,920.5 206.1,920.5 C206.6,920.5 207.2,921.1 207.7,921.1 C208.2,921.1 208.8,920.7 209.3,920.7 C209.8,920.6 210.4,920.8 210.9,920.9 C211.4,920.9 212.0,921.3 212.5,921.0 C213.0,920.6 213.6,918.8 214.1,918.8 C214.6,918.9 215.2,921.1 215.7,921.5 C216.2,921.9 216.8,921.5 217.3,921.3 C217.8,921.2 218.4,921.1 218.9,920.7 C219.4,920.3 220.0,918.9 220.5,919.0 C221.0,919.1 221.6,921.1 222.1,921.4 C222.6,921.7 223.2,921.4 223.7,920.9 C224.2,920.4 224.8,918.7 225.3,918.5 C225.8,918.4 226.4,919.4 226.9,919.9 C227.4,920.4 228.0,921.2 228.5,921.4 C229.0,921.6 229.6,921.4 230.1,921.0 C230.6,920.6 231.2,919.0 231.7,919.0 C232.2,918.9 232.8,920.7 233.3,920.7 C233.8,920.7 234.4,918.8 234.9,918.9 C235.4,918.9 236.0,920.8 236.5,921.2 C237.0,921.6 237.6,921.3 238.1,921.4 C238.6,921.5 239.2,921.6 239.7,921.6 C240.2,921.7 240.8,921.5 241.3,921.6 C241.8,921.6 242.4,921.9 242.9,921.9 C243.4,922.0 244.0,921.9 244.5,921.9 C245.0,921.8 245.6,921.9 246.1,921.7 C246.6,921.5 247.2,920.9 247.7,920.7 C248.2,920.4 248.8,920.1 249.3,920.4 C249.8,920.7 250.4,922.1 250.9,922.4 C251.4,922.6 252.0,922.0 252.5,921.9 C253.0,921.7 253.6,921.5 254.1,921.5 C254.6,921.6 255.2,922.0 255.7,921.9 C256.2,921.9 256.8,921.2 257.3,921.2 C257.8,921.2 258.4,922.0 258.9,922.0 C259.4,922.0 260.0,921.2 260.5,921.3 C261.0,921.4 261.8,922.4 262.1,922.6" fill="none" stroke="#111" stroke-width="1.6"/>
<path d="M80.2 843.5h0M84.6 843.8h0M90.4 845.2h0M94.8 848.9h0M98.5 854.0h0M100.7 859.8h0M80.2 848.6h0M84.6 848.9h0M90.4 850.3h0M94.8 853.2h0M98.5 857.6h0M100.7 862.0h0" stroke="#000" stroke-width="1.5" stroke-linecap="round"/>
<g stroke="#000" stroke-width="1.6">
<line x1="380.7" y1="803.4" x2="380.7" y2="900.3"/>
<line x1="380" y1="867.8" x2="668.5" y2="867.8"/>
<line x1="376.5" y1="804.2" x2="380" y2="804.2"/>
<line x1="376.5" y1="836.0" x2="380" y2="836.0"/>
<line x1="376.5" y1="867.7" x2="380" y2="867.7"/>
<line x1="376.5" y1="899.5" x2="380" y2="899.5"/>
</g>
<g stroke="#000" stroke-width="1.2">
<line x1="387.9" y1="868.5" x2="387.9" y2="871.5"/>
<line x1="395.1" y1="868.5" x2="395.1" y2="871.5"/>
<line x1="402.3" y1="868.5" x2="402.3" y2="871.5"/>
<line x1="409.5" y1="868.5" x2="409.5" y2="871.5"/>
<line x1="416.6" y1="868.5" x2="416.6" y2="871.5"/>
<line x1="423.8" y1="868.5" x2="423.8" y2="871.5"/>
<line x1="431.0" y1="868.5" x2="431.0" y2="871.5"/>
<line x1="438.2" y1="868.5" x2="438.2" y2="871.5"/>
<line x1="445.4" y1="868.5" x2="445.4" y2="871.5"/>
<line x1="452.6" y1="868.5" x2="452.6" y2="873.5"/>
<line x1="459.8" y1="868.5" x2="459.8" y2="871.5"/>
<line x1="467.0" y1="868.5" x2="467.0" y2="871.5"/>
<line x1="474.2" y1="868.5" x2="474.2" y2="871.5"/>
<line x1="481.4" y1="868.5" x2="481.4" y2="871.5"/>
<line x1="488.6" y1="868.5" x2="488.6" y2="871.5"/>
<line x1="495.7" y1="868.5" x2="495.7" y2="871.5"/>
<line x1="502.9" y1="868.5" x2="502.9" y2="871.5"/>
<line x1="510.1" y1="868.5" x2="510.1" y2="871.5"/>
<line x1="517.3" y1="868.5" x2="517.3" y2="871.5"/>
<line x1="524.5" y1="868.5" x2="524.5" y2="873.5"/>
<line x1="531.7" y1="868.5" x2="531.7" y2="871.5"/>
<line x1="538.9" y1="868.5" x2="538.9" y2="871.5"/>
<line x1="546.1" y1="868.5" x2="546.1" y2="871.5"/>
<line x1="553.3" y1="868.5" x2="553.3" y2="871.5"/>
<line x1="560.5" y1="868.5" x2="560.5" y2="871.5"/>
<line x1="567.6" y1="868.5" x2="567.6" y2="871.5"/>
<line x1="574.8" y1="868.5" x2="574.8" y2="871.5"/>
<line x1="582.0" y1="868.5" x2="582.0" y2="871.5"/>
<line x1="589.2" y1="868.5" x2="589.2" y2="871.5"/>
<line x1="596.4" y1="868.5" x2="596.4" y2="873.5"/>
<line x1="603.6" y1="868.5" x2="603.6" y2="871.5"/>
<line x1="610.8" y1="868.5" x2="610.8" y2="871.5"/>
<line x1="618.0" y1="868.5" x2="618.0" y2="871.5"/>
<line x1="625.2" y1="868.5" x2="625.2" y2="871.5"/>
<line x1="632.4" y1="868.5" x2="632.4" y2="871.5"/>
<line x1="639.5" y1="868.5" x2="639.5" y2="871.5"/>
<line x1="646.7" y1="868.5" x2="646.7" y2="871.5"/>
<line x1="653.9" y1="868.5" x2="653.9" y2="871.5"/>
<line x1="661.1" y1="868.5" x2="661.1" y2="871.5"/>
<line x1="668.3" y1="868.5" x2="668.3" y2="873.5"/>
</g>
<text x="375.5" y="807.0" font-size="7.8" text-anchor="end" font-weight="bold" fill="#000" font-family="'Liberation Sans', Arial, sans-serif" >1.0</text>
<text x="375.5" y="838.8" font-size="7.8" text-anchor="end" font-weight="bold" fill="#000" font-family="'Liberation Sans', Arial, sans-serif" >0.5</text>
<text x="375.5" y="870.5" font-size="7.8" text-anchor="end" font-weight="bold" fill="#000" font-family="'Liberation Sans', Arial, sans-serif" >0.0</text>
<text x="375.5" y="902.2" font-size="7.8" text-anchor="end" font-weight="bold" fill="#000" font-family="'Liberation Sans', Arial, sans-serif" >-0.5</text>
<text x="452.6" y="880.4" font-size="7.8" text-anchor="middle" font-weight="bold" fill="#000" font-family="'Liberation Sans', Arial, sans-serif" >100</text>
<text x="524.5" y="880.4" font-size="7.8" text-anchor="middle" font-weight="bold" fill="#000" font-family="'Liberation Sans', Arial, sans-serif" >200</text>
<text x="596.4" y="880.4" font-size="7.8" text-anchor="middle" font-weight="bold" fill="#000" font-family="'Liberation Sans', Arial, sans-serif" >300</text>
<text x="668.3" y="880.4" font-size="7.8" text-anchor="middle" font-weight="bold" fill="#000" font-family="'Liberation Sans', Arial, sans-serif" >400</text>
<text x="524.7" y="892.6" font-size="8.7" text-anchor="middle" font-weight="bold" fill="#000" font-family="'Liberation Sans', Arial, sans-serif"  textLength="39.7" lengthAdjust="spacingAndGlyphs"># Residues</text>
<text transform="translate(358.8,850.8) rotate(-90)" font-size="8.2" text-anchor="middle" font-weight="bold" font-family="'Liberation Sans', Arial, sans-serif">Q-score</text>
<path d="M398.7 838.4h2.8v2.8h-2.8zM399.4 858.7h2.8v2.8h-2.8zM400.2 863.2h2.8v2.8h-2.8zM400.9 861.4h2.8v2.8h-2.8zM401.6 849.2h2.8v2.8h-2.8zM402.3 852.0h2.8v2.8h-2.8zM403.0 854.8h2.8v2.8h-2.8zM403.7 867.6h2.8v2.8h-2.8zM404.5 855.3h2.8v2.8h-2.8zM405.2 836.1h2.8v2.8h-2.8zM405.9 841.5h2.8v2.8h-2.8zM406.6 864.0h2.8v2.8h-2.8zM407.3 870.0h2.8v2.8h-2.8zM408.1 854.5h2.8v2.8h-2.8zM408.8 850.1h2.8v2.8h-2.8zM409.5 854.8h2.8v2.8h-2.8zM410.2 861.5h2.8v2.8h-2.8zM410.9 867.4h2.8v2.8h-2.8zM411.7 854.1h2.8v2.8h-2.8zM412.4 860.3h2.8v2.8h-2.8zM413.1 841.2h2.8v2.8h-2.8zM413.8 873.3h2.8v2.8h-2.8zM414.5 858.0h2.8v2.8h-2.8zM415.2 820.7h2.8v2.8h-2.8zM416.0 836.6h2.8v2.8h-2.8zM416.7 847.0h2.8v2.8h-2.8zM417.4 845.1h2.8v2.8h-2.8zM418.1 848.0h2.8v2.8h-2.8zM418.8 865.9h2.8v2.8h-2.8zM419.6 868.4h2.8v2.8h-2.8zM420.3 862.3h2.8v2.8h-2.8zM421.0 851.1h2.8v2.8h-2.8zM421.7 866.4h2.8v2.8h-2.8zM422.4 856.5h2.8v2.8h-2.8zM423.2 862.6h2.8v2.8h-2.8zM423.9 843.3h2.8v2.8h-2.8zM424.6 864.9h2.8v2.8h-2.8zM425.3 849.4h2.8v2.8h-2.8zM426.0 841.2h2.8v2.8h-2.8zM426.8 841.6h2.8v2.8h-2.8zM427.5 857.4h2.8v2.8h-2.8zM428.2 829.3h2.8v2.8h-2.8zM428.9 831.2h2.8v2.8h-2.8zM429.6 858.5h2.8v2.8h-2.8zM430.3 859.7h2.8v2.8h-2.8zM431.1 839.1h2.8v2.8h-2.8zM431.8 853.1h2.8v2.8h-2.8zM432.5 862.0h2.8v2.8h-2.8zM433.2 851.2h2.8v2.8h-2.8zM433.9 856.2h2.8v2.8h-2.8zM434.7 835.8h2.8v2.8h-2.8zM435.4 855.9h2.8v2.8h-2.8zM436.1 849.8h2.8v2.8h-2.8zM436.8 870.3h2.8v2.8h-2.8zM437.5 844.3h2.8v2.8h-2.8zM438.3 863.8h2.8v2.8h-2.8zM439.0 844.8h2.8v2.8h-2.8zM439.7 847.5h2.8v2.8h-2.8zM440.4 853.4h2.8v2.8h-2.8zM441.1 890.5h2.8v2.8h-2.8zM441.9 850.3h2.8v2.8h-2.8zM442.6 837.2h2.8v2.8h-2.8zM443.3 850.2h2.8v2.8h-2.8zM444.0 863.6h2.8v2.8h-2.8zM444.7 850.4h2.8v2.8h-2.8zM445.4 829.9h2.8v2.8h-2.8zM446.2 843.5h2.8v2.8h-2.8zM446.9 844.4h2.8v2.8h-2.8zM447.6 865.4h2.8v2.8h-2.8zM448.3 861.2h2.8v2.8h-2.8zM449.0 837.9h2.8v2.8h-2.8zM449.8 857.3h2.8v2.8h-2.8zM450.5 859.7h2.8v2.8h-2.8zM451.2 847.8h2.8v2.8h-2.8zM451.9 850.7h2.8v2.8h-2.8zM452.6 856.3h2.8v2.8h-2.8zM453.4 839.8h2.8v2.8h-2.8zM454.1 851.2h2.8v2.8h-2.8zM454.8 849.0h2.8v2.8h-2.8zM455.5 862.1h2.8v2.8h-2.8zM456.2 858.1h2.8v2.8h-2.8zM457.0 851.3h2.8v2.8h-2.8zM457.7 858.3h2.8v2.8h-2.8zM458.4 821.4h2.8v2.8h-2.8zM459.1 848.6h2.8v2.8h-2.8zM459.8 857.1h2.8v2.8h-2.8zM460.5 838.0h2.8v2.8h-2.8zM461.3 856.6h2.8v2.8h-2.8zM462.0 844.0h2.8v2.8h-2.8zM462.7 842.8h2.8v2.8h-2.8zM463.4 844.2h2.8v2.8h-2.8zM464.1 854.5h2.8v2.8h-2.8zM464.9 850.0h2.8v2.8h-2.8zM465.6 883.6h2.8v2.8h-2.8zM466.3 833.1h2.8v2.8h-2.8zM467.0 863.8h2.8v2.8h-2.8zM467.7 846.6h2.8v2.8h-2.8zM468.5 855.5h2.8v2.8h-2.8zM469.2 864.0h2.8v2.8h-2.8zM469.9 884.6h2.8v2.8h-2.8zM470.6 854.8h2.8v2.8h-2.8zM471.3 852.7h2.8v2.8h-2.8zM472.1 856.0h2.8v2.8h-2.8zM472.8 838.5h2.8v2.8h-2.8zM473.5 870.7h2.8v2.8h-2.8zM474.2 841.3h2.8v2.8h-2.8zM474.9 851.7h2.8v2.8h-2.8zM475.6 851.1h2.8v2.8h-2.8zM476.4 874.0h2.8v2.8h-2.8zM477.1 885.6h2.8v2.8h-2.8zM477.8 872.5h2.8v2.8h-2.8zM478.5 850.3h2.8v2.8h-2.8zM479.2 857.4h2.8v2.8h-2.8zM480.0 871.7h2.8v2.8h-2.8zM480.7 851.5h2.8v2.8h-2.8zM481.4 855.6h2.8v2.8h-2.8zM482.1 856.6h2.8v2.8h-2.8zM482.8 866.1h2.8v2.8h-2.8zM483.6 870.6h2.8v2.8h-2.8zM484.3 836.7h2.8v2.8h-2.8zM485.0 831.8h2.8v2.8h-2.8zM485.7 830.6h2.8v2.8h-2.8zM486.4 842.8h2.8v2.8h-2.8zM487.1 875.8h2.8v2.8h-2.8zM487.9 844.3h2.8v2.8h-2.8zM488.6 857.0h2.8v2.8h-2.8zM489.3 876.5h2.8v2.8h-2.8zM490.0 868.5h2.8v2.8h-2.8zM490.7 871.9h2.8v2.8h-2.8zM491.5 857.9h2.8v2.8h-2.8zM492.2 836.8h2.8v2.8h-2.8zM492.9 840.3h2.8v2.8h-2.8zM493.6 836.7h2.8v2.8h-2.8zM494.3 849.8h2.8v2.8h-2.8zM495.1 841.2h2.8v2.8h-2.8zM495.8 850.5h2.8v2.8h-2.8zM496.5 844.2h2.8v2.8h-2.8zM497.2 845.6h2.8v2.8h-2.8zM497.9 838.5h2.8v2.8h-2.8zM498.7 837.8h2.8v2.8h-2.8zM499.4 875.1h2.8v2.8h-2.8zM500.1 856.3h2.8v2.8h-2.8zM500.8 844.6h2.8v2.8h-2.8zM501.5 871.9h2.8v2.8h-2.8zM502.2 865.3h2.8v2.8h-2.8zM503.0 862.2h2.8v2.8h-2.8zM503.7 850.6h2.8v2.8h-2.8zM504.4 866.5h2.8v2.8h-2.8zM505.1 862.2h2.8v2.8h-2.8zM505.8 843.3h2.8v2.8h-2.8zM506.6 843.4h2.8v2.8h-2.8zM507.3 851.0h2.8v2.8h-2.8zM508.0 862.0h2.8v2.8h-2.8zM508.7 861.7h2.8v2.8h-2.8zM509.4 857.8h2.8v2.8h-2.8zM510.2 849.8h2.8v2.8h-2.8zM510.9 836.9h2.8v2.8h-2.8zM511.6 830.1h2.8v2.8h-2.8zM512.3 848.5h2.8v2.8h-2.8zM513.0 864.4h2.8v2.8h-2.8zM513.8 837.5h2.8v2.8h-2.8zM514.5 861.2h2.8v2.8h-2.8zM515.2 852.5h2.8v2.8h-2.8zM515.9 860.1h2.8v2.8h-2.8zM516.6 838.3h2.8v2.8h-2.8zM517.3 856.4h2.8v2.8h-2.8zM518.1 849.2h2.8v2.8h-2.8zM518.8 848.7h2.8v2.8h-2.8zM519.5 851.9h2.8v2.8h-2.8zM520.2 852.2h2.8v2.8h-2.8zM520.9 848.5h2.8v2.8h-2.8zM521.7 875.8h2.8v2.8h-2.8zM522.4 853.7h2.8v2.8h-2.8zM523.1 841.4h2.8v2.8h-2.8zM523.8 844.2h2.8v2.8h-2.8zM524.5 857.5h2.8v2.8h-2.8zM525.3 832.3h2.8v2.8h-2.8zM526.0 866.9h2.8v2.8h-2.8zM526.7 864.8h2.8v2.8h-2.8zM527.4 844.5h2.8v2.8h-2.8zM528.1 862.8h2.8v2.8h-2.8zM528.9 845.3h2.8v2.8h-2.8zM529.6 858.2h2.8v2.8h-2.8zM530.3 871.7h2.8v2.8h-2.8zM531.0 845.7h2.8v2.8h-2.8zM531.7 852.7h2.8v2.8h-2.8zM532.4 858.3h2.8v2.8h-2.8zM533.2 837.2h2.8v2.8h-2.8zM533.9 841.8h2.8v2.8h-2.8zM534.6 890.5h2.8v2.8h-2.8zM535.3 849.9h2.8v2.8h-2.8zM536.0 857.8h2.8v2.8h-2.8zM536.8 851.7h2.8v2.8h-2.8zM537.5 861.7h2.8v2.8h-2.8zM538.2 857.2h2.8v2.8h-2.8zM538.9 850.2h2.8v2.8h-2.8zM539.6 838.5h2.8v2.8h-2.8zM540.4 850.0h2.8v2.8h-2.8zM541.1 844.5h2.8v2.8h-2.8zM541.8 860.1h2.8v2.8h-2.8zM542.5 832.3h2.8v2.8h-2.8zM543.2 848.8h2.8v2.8h-2.8zM544.0 853.5h2.8v2.8h-2.8zM544.7 846.9h2.8v2.8h-2.8zM545.4 844.4h2.8v2.8h-2.8zM546.1 826.0h2.8v2.8h-2.8zM546.8 839.7h2.8v2.8h-2.8zM547.5 861.6h2.8v2.8h-2.8zM548.3 872.6h2.8v2.8h-2.8zM549.0 849.4h2.8v2.8h-2.8zM549.7 859.7h2.8v2.8h-2.8zM550.4 841.5h2.8v2.8h-2.8zM551.1 848.7h2.8v2.8h-2.8zM551.9 871.8h2.8v2.8h-2.8zM552.6 839.2h2.8v2.8h-2.8zM553.3 863.7h2.8v2.8h-2.8zM554.0 840.7h2.8v2.8h-2.8zM554.7 874.9h2.8v2.8h-2.8zM555.5 850.9h2.8v2.8h-2.8zM556.2 833.4h2.8v2.8h-2.8zM556.9 859.8h2.8v2.8h-2.8zM557.6 855.1h2.8v2.8h-2.8zM558.3 849.9h2.8v2.8h-2.8zM559.1 839.4h2.8v2.8h-2.8zM559.8 849.1h2.8v2.8h-2.8zM560.5 853.6h2.8v2.8h-2.8zM561.2 820.7h2.8v2.8h-2.8zM561.9 859.8h2.8v2.8h-2.8zM562.6 867.7h2.8v2.8h-2.8zM563.4 841.7h2.8v2.8h-2.8zM564.1 853.7h2.8v2.8h-2.8zM564.8 848.7h2.8v2.8h-2.8zM565.5 831.0h2.8v2.8h-2.8zM566.2 849.7h2.8v2.8h-2.8zM567.0 850.3h2.8v2.8h-2.8zM567.7 836.7h2.8v2.8h-2.8zM568.4 852.9h2.8v2.8h-2.8zM569.1 850.6h2.8v2.8h-2.8zM569.8 864.0h2.8v2.8h-2.8zM570.6 843.2h2.8v2.8h-2.8zM571.3 836.8h2.8v2.8h-2.8zM572.0 856.2h2.8v2.8h-2.8zM572.7 839.2h2.8v2.8h-2.8zM573.4 854.9h2.8v2.8h-2.8zM574.1 843.5h2.8v2.8h-2.8zM574.9 865.8h2.8v2.8h-2.8zM575.6 822.8h2.8v2.8h-2.8zM576.3 848.1h2.8v2.8h-2.8zM577.0 859.2h2.8v2.8h-2.8zM577.7 868.6h2.8v2.8h-2.8zM578.5 854.0h2.8v2.8h-2.8zM579.2 851.8h2.8v2.8h-2.8zM579.9 849.3h2.8v2.8h-2.8zM580.6 855.6h2.8v2.8h-2.8zM581.3 834.4h2.8v2.8h-2.8zM582.1 838.0h2.8v2.8h-2.8zM582.8 855.8h2.8v2.8h-2.8zM583.5 840.8h2.8v2.8h-2.8zM584.2 854.6h2.8v2.8h-2.8zM584.9 837.6h2.8v2.8h-2.8zM585.7 849.5h2.8v2.8h-2.8zM586.4 864.1h2.8v2.8h-2.8zM587.1 840.9h2.8v2.8h-2.8zM587.8 840.1h2.8v2.8h-2.8zM588.5 869.5h2.8v2.8h-2.8zM589.2 829.9h2.8v2.8h-2.8zM590.0 839.6h2.8v2.8h-2.8zM590.7 847.1h2.8v2.8h-2.8zM591.4 873.9h2.8v2.8h-2.8zM592.1 841.1h2.8v2.8h-2.8zM592.8 843.4h2.8v2.8h-2.8zM593.6 830.7h2.8v2.8h-2.8zM594.3 876.2h2.8v2.8h-2.8zM595.0 860.4h2.8v2.8h-2.8zM595.7 846.9h2.8v2.8h-2.8zM596.4 867.2h2.8v2.8h-2.8zM597.2 853.7h2.8v2.8h-2.8zM597.9 859.5h2.8v2.8h-2.8zM598.6 852.2h2.8v2.8h-2.8zM599.3 861.6h2.8v2.8h-2.8zM600.0 859.9h2.8v2.8h-2.8zM600.8 855.3h2.8v2.8h-2.8zM601.5 839.6h2.8v2.8h-2.8zM602.2 856.8h2.8v2.8h-2.8zM602.9 861.3h2.8v2.8h-2.8zM603.6 865.6h2.8v2.8h-2.8zM604.3 855.7h2.8v2.8h-2.8zM605.1 860.6h2.8v2.8h-2.8zM605.8 850.5h2.8v2.8h-2.8zM606.5 865.5h2.8v2.8h-2.8zM607.2 871.9h2.8v2.8h-2.8zM607.9 876.5h2.8v2.8h-2.8zM608.7 864.7h2.8v2.8h-2.8zM609.4 871.1h2.8v2.8h-2.8zM610.1 867.5h2.8v2.8h-2.8zM610.8 851.4h2.8v2.8h-2.8zM611.5 839.6h2.8v2.8h-2.8zM612.3 860.3h2.8v2.8h-2.8zM613.0 841.2h2.8v2.8h-2.8z" fill="#86d8ee"/>
<path d="M400.8 847.7h0M401.6 859.8h0M402.3 849.5h0M403.0 830.6h0M403.7 841.4h0M404.4 842.5h0M405.1 864.5h0M405.9 855.9h0M406.6 841.4h0M407.3 838.6h0M408.0 871.7h0M408.7 850.7h0M409.5 824.0h0M410.2 845.9h0M410.9 841.4h0M411.6 833.2h0M412.3 871.1h0M413.1 851.6h0M413.8 846.8h0M414.5 842.0h0M415.2 834.6h0M415.9 840.9h0M416.6 857.8h0M417.4 852.2h0M418.1 849.1h0M418.8 846.5h0M419.5 846.4h0M420.2 837.5h0M421.0 866.2h0M421.7 844.2h0M422.4 832.3h0M423.1 841.1h0M423.8 833.1h0M424.6 852.6h0M425.3 851.6h0M426.0 871.7h0M426.7 840.7h0M427.4 843.9h0M428.2 834.1h0M428.9 841.7h0M429.6 855.6h0M430.3 851.9h0M431.0 868.2h0M431.7 844.3h0M432.5 855.9h0M433.2 852.4h0M433.9 847.3h0M434.6 852.1h0M435.3 834.5h0M436.1 875.0h0M436.8 850.5h0M437.5 876.7h0M438.2 858.1h0M438.9 852.1h0M439.7 868.1h0M440.4 847.6h0M441.1 849.4h0M441.8 861.2h0M442.5 847.9h0M443.3 851.6h0M444.0 853.7h0M444.7 850.6h0M445.4 871.1h0M446.1 825.3h0M446.8 827.5h0M447.6 829.4h0M448.3 837.0h0M449.0 859.9h0M449.7 839.2h0M450.4 846.5h0M451.2 852.4h0M451.9 855.2h0M452.6 852.1h0M453.3 846.1h0M454.0 837.4h0M454.8 870.6h0M455.5 834.7h0M456.2 859.0h0M456.9 854.1h0M457.6 852.4h0M458.4 868.8h0M459.1 848.5h0M459.8 850.6h0M460.5 853.2h0M461.2 846.0h0M461.9 850.4h0M462.7 845.9h0M463.4 853.1h0M464.1 860.1h0M464.8 842.8h0M465.5 846.3h0M466.3 854.5h0M467.0 852.0h0M467.7 832.1h0M468.4 845.1h0M469.1 847.3h0M469.9 823.8h0M470.6 846.4h0M471.3 849.3h0M472.0 838.0h0M472.7 872.8h0M473.5 829.7h0M474.2 854.1h0M474.9 864.9h0M475.6 859.2h0M476.3 850.1h0M477.0 848.0h0M477.8 854.9h0M478.5 857.2h0M479.2 856.9h0M479.9 852.6h0M480.6 838.9h0M481.4 845.3h0M482.1 837.2h0M482.8 848.8h0M483.5 849.8h0M484.2 847.7h0M485.0 847.0h0M485.7 841.3h0M486.4 859.6h0M487.1 858.8h0M487.8 867.6h0M488.5 837.2h0M489.3 827.8h0M490.0 859.6h0M490.7 842.7h0M491.4 867.3h0M492.1 849.4h0M492.9 849.8h0M493.6 857.7h0M494.3 845.3h0M495.0 860.7h0M495.7 850.8h0M496.5 829.1h0M497.2 835.9h0M497.9 866.0h0M498.6 861.3h0M499.3 829.3h0M500.1 846.0h0M500.8 878.9h0M501.5 849.3h0M502.2 891.9h0M502.9 868.4h0M503.6 848.2h0M504.4 848.1h0M505.1 863.6h0M505.8 861.6h0M506.5 851.0h0M507.2 843.5h0M508.0 858.4h0M508.7 851.0h0M509.4 864.5h0M510.1 853.1h0M510.8 859.6h0M511.6 836.4h0M512.3 843.0h0M513.0 844.4h0M513.7 842.6h0M514.4 850.0h0M515.2 854.0h0M515.9 838.5h0M516.6 858.3h0M517.3 865.7h0M518.0 856.7h0M518.7 848.5h0M519.5 849.9h0M520.2 853.3h0M520.9 864.8h0M521.6 863.5h0M522.3 866.1h0M523.1 851.5h0M523.8 844.3h0M524.5 846.9h0M525.2 851.4h0M525.9 865.7h0M526.7 852.1h0M527.4 846.2h0M528.1 851.9h0M528.8 851.9h0M529.5 854.8h0M530.3 865.0h0M531.0 846.4h0M531.7 848.7h0M532.4 853.4h0M533.1 850.7h0M533.8 856.8h0M534.6 875.8h0M535.3 833.5h0M536.0 848.1h0M536.7 854.1h0M537.4 847.9h0M538.2 850.6h0M538.9 850.1h0M539.6 853.6h0M540.3 846.4h0M541.0 869.8h0M541.8 840.2h0M542.5 873.8h0M543.2 864.2h0M543.9 865.6h0M544.6 866.1h0M545.4 854.9h0M546.1 838.3h0M546.8 844.9h0M547.5 840.0h0M548.2 851.3h0M548.9 852.1h0M549.7 857.3h0M550.4 864.0h0M551.1 849.1h0M551.8 849.5h0M552.5 860.1h0M553.3 857.5h0M554.0 849.3h0M554.7 873.3h0M555.4 862.6h0M556.1 862.6h0M556.9 840.3h0M557.6 857.3h0M558.3 853.1h0M559.0 853.1h0M559.7 857.7h0M560.5 876.7h0M561.2 873.3h0M561.9 856.3h0M562.6 835.6h0M563.3 858.9h0M564.0 837.5h0M564.8 846.1h0M565.5 838.8h0M566.2 849.0h0M566.9 858.0h0M567.6 855.4h0M568.4 844.5h0M569.1 841.9h0M569.8 837.2h0M570.5 844.2h0M571.2 862.2h0M572.0 859.3h0M572.7 847.7h0M573.4 848.9h0M574.1 824.9h0M574.8 866.9h0M575.5 848.6h0M576.3 851.9h0M577.0 844.1h0M577.7 841.6h0M578.4 850.1h0M579.1 862.1h0M579.9 844.3h0M580.6 862.9h0M581.3 861.7h0M582.0 836.8h0M582.7 864.3h0M583.5 858.2h0M584.2 868.7h0M584.9 862.4h0M585.6 853.8h0M586.3 831.0h0M587.1 862.3h0M587.8 867.0h0M588.5 836.4h0M589.2 866.9h0M589.9 842.9h0M590.6 836.3h0M591.4 848.5h0M592.1 839.7h0M592.8 854.5h0M593.5 839.4h0M594.2 862.5h0M595.0 846.4h0M595.7 850.1h0M596.4 864.6h0M597.1 825.5h0M597.8 858.7h0M598.6 862.8h0M599.3 844.3h0M600.0 858.4h0M600.7 843.5h0M601.4 841.3h0M602.2 845.2h0M602.9 854.2h0M603.6 859.7h0M604.3 850.2h0M605.0 853.6h0M605.7 846.9h0M606.5 843.7h0M607.2 855.2h0M607.9 849.0h0M608.6 857.1h0M609.3 852.8h0M610.1 849.6h0M610.8 861.6h0M611.5 857.5h0M612.2 857.2h0M612.9 847.6h0M613.7 852.5h0M614.4 852.9h0" stroke="#ea86ee" stroke-width="3" stroke-linecap="round"/>
<circle cx="645.8" cy="810.3" r="1.4" fill="#ea86ee"/>
<rect x="644.5" y="822.5" width="2.6" height="2.6" fill="#86d8ee"/>
<text x="657" y="813.1" font-size="8" text-anchor="start" font-weight="normal" fill="#111" font-family="'Liberation Sans', Arial, sans-serif"  textLength="26.6" lengthAdjust="spacingAndGlyphs">Chain A</text>
<text x="657" y="826.6" font-size="8" text-anchor="start" font-weight="normal" fill="#111" font-family="'Liberation Sans', Arial, sans-serif"  textLength="26.6" lengthAdjust="spacingAndGlyphs">Chain B</text>
</svg>
</body></html>
